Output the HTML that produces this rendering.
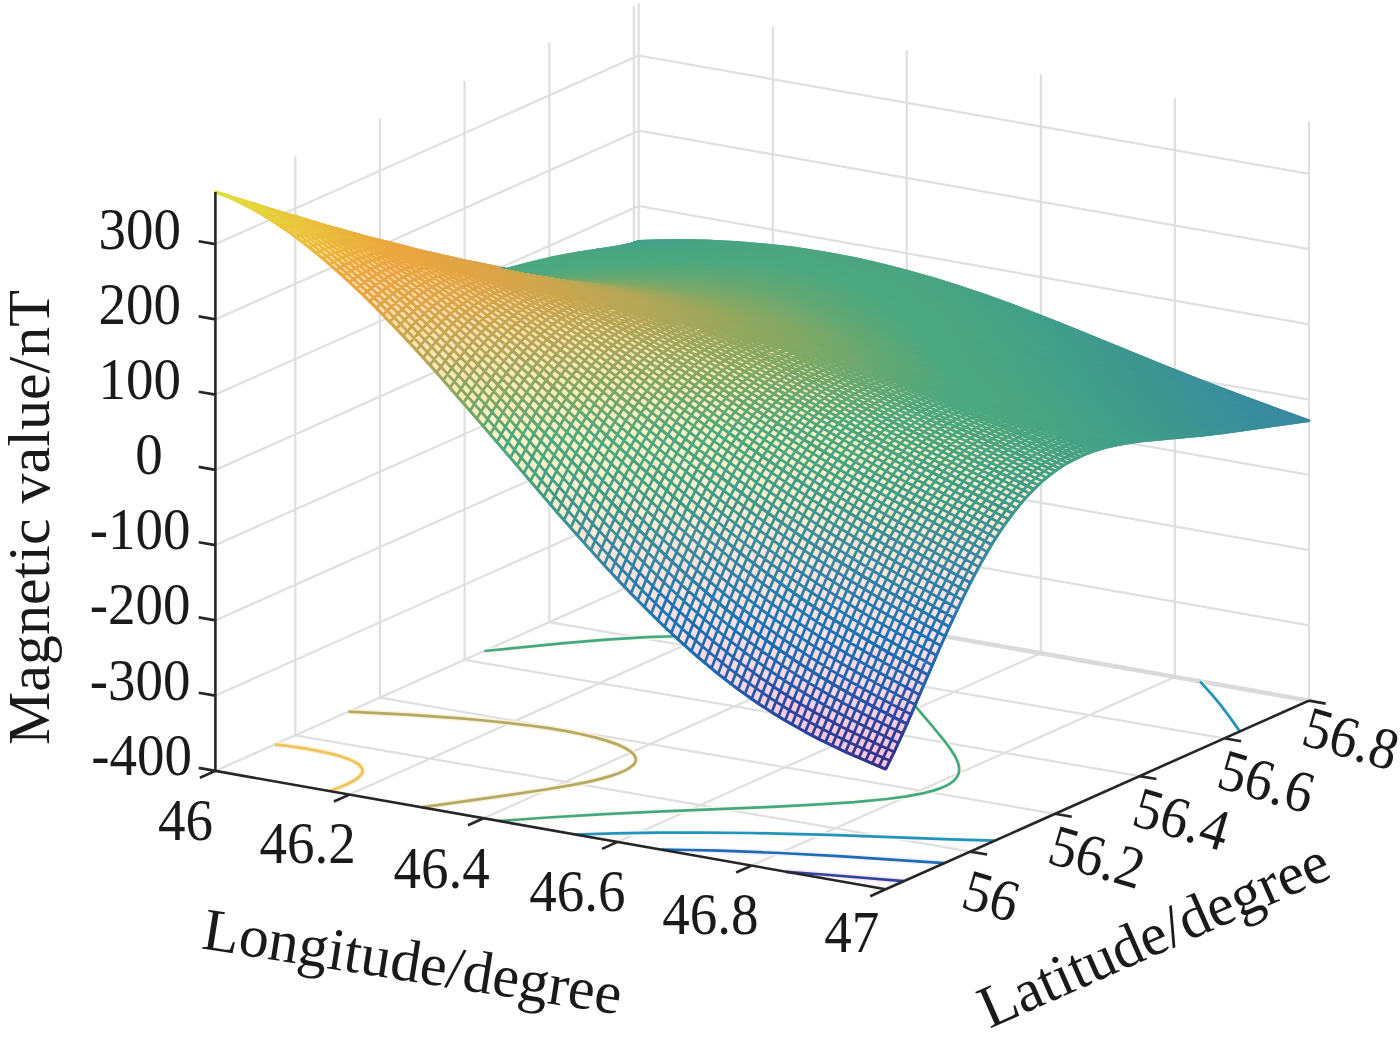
<!DOCTYPE html><html><head><meta charset="utf-8"><style>html,body{margin:0;padding:0;background:#fff}svg{display:block}</style></head><body><svg width="1400" height="1042" viewBox="0 0 1400 1042"><defs><mask id="mm" maskUnits="userSpaceOnUse" x="0" y="0" width="1400" height="1042"><g fill="none" stroke="#fff" stroke-width="2.8" stroke-linejoin="round"><path fill="#000" d="M638.7 241.4l13.4-.5 20.1-.4 13.4 0 20.1 .4 20.1 .9 13.4 .8 20.2 1.7 13.4 1.3 20.1 2.4 13.4 1.9 20.1 3.2 13.4 2.5 13.4 2.6 20.1 4.4 13.4 3.2 20.1 5.2 26.8 7.6 26.8 8.5 26.9 9.1 26.8 9.7 20.1 7.7 26.8 10.5 100.5 40.9 40.3 16 46.9 17.9 60.3 21.8 0 0-21.2 2.8 0 0-53.6-19.9-46.9-18-40.2-16-93.9-38.3-26.8-10.6-26.8-10.2-26.8-9.6-26.8-9-26.8-8.3-26.8-7.5-20.2-5.1-13.4-3.1-13.4-2.9-20.1-3.9-13.4-2.4-20.1-3.1-13.4-1.8-20.1-2.3-13.4-1.3-20.1-1.6-13.4-.8-20.1-.9-13.4-.4-20.1-.3-20.2 .1-20.1 .5 0 0 12.7-2.8 8.5-2.6z"/><path d="M617.5 246.8l20.1-.5 20.2-.1 20.1 .3 13.4 .4 20.1 .9 13.4 .8 20.1 1.6 13.4 1.3 20.1 2.3 13.4 1.8 20.1 3.1 13.4 2.4 20.1 3.9 13.4 2.9 13.4 3.1 20.2 5.1 26.8 7.5 26.8 8.3 26.8 9 26.8 9.6 26.8 10.2 26.8 10.6 93.9 38.3 40.2 16 46.9 18 53.6 19.9M621.8 245.9l13.4-.4 20.1-.2 20.1 .1 20.1 .5 20.1 1 13.4 .8 20.1 1.6 13.4 1.3 20.1 2.4 13.4 1.8 20.2 3.2 13.4 2.3 20.1 4 13.4 2.9 13.4 3.1 20.1 5.2 26.8 7.5 26.8 8.4 26.8 9 26.8 9.7 26.9 10.2 26.8 10.6 93.8 38.3 40.2 16 46.9 18 53.7 19.7M626 245l13.4-.4 20.1-.3 20.1 .1 20.1 .5 20.1 .9 13.4 .9 20.2 1.6 13.4 1.4 20.1 2.4 13.4 1.8 20.1 3.2 13.4 2.4 26.8 5.5 13.4 3.1 20.1 5 26.8 7.4 26.8 8.2 26.9 8.9 33.5 12.1 20.1 7.7 26.8 10.5 100.5 40.9 40.3 16 46.9 17.9 53.6 19.6M630.2 244l13.4-.5 20.1-.3 13.5 0 20.1 .4 20.1 .8 13.4 .7 20.1 1.6 13.4 1.2 20.1 2.3 13.4 1.8 20.1 3.1 13.4 2.4 13.4 2.5 20.1 4.3 13.4 3.1 20.2 5 26.8 7.5 26.8 8.3 26.8 9 26.8 9.6 26.8 10.2 26.8 10.5 100.6 40.9 40.2 16 46.9 17.8 53.6 19.6M634.5 242.8l13.4-.5 20.1-.4 13.4 0 20.1 .4 20.1 .8 13.4 .8 20.1 1.6 13.4 1.3 20.1 2.4 13.4 1.8 20.2 3.2 13.4 2.3 13.4 2.6 20.1 4.4 13.4 3.1 20.1 5.1 26.8 7.6 26.8 8.3 26.8 9.1 26.8 9.7 26.8 10.2 26.9 10.6 93.8 38.2 46.9 18.6 46.9 17.8 53.7 19.4M638.7 241.4l13.4-.5 20.1-.4 13.4 0 20.1 .4 20.1 .9 13.4 .8 20.2 1.7 13.4 1.3 20.1 2.4 13.4 1.9 20.1 3.2 13.4 2.5 13.4 2.6 20.1 4.4 13.4 3.2 20.1 5.2 26.8 7.6 26.8 8.5 26.9 9.1 26.8 9.7 20.1 7.7 26.8 10.5 100.5 40.9 40.3 16 46.9 17.9 60.3 21.8M617.5 246.8l12.7-2.8 8.5-2.6M624.2 246.6l12.7-2.9 8.5-2.6M630.9 246.4l12.7-2.9 8.5-2.6M637.6 246.3l12.7-3 8.5-2.6M644.3 246.2l12.7-3 8.5-2.6M651 246.2l12.7-3 8.5-2.7M657.8 246.2l12.7-3.1 8.4-2.6M664.5 246.3l12.7-3.1 8.4-2.7M671.2 246.4l12.7-3.1 8.4-2.7M677.9 246.5l12.7-3.1 8.4-2.7M684.6 246.7l12.7-3.1 8.4-2.7M691.3 246.9l12.7-3.1 8.4-2.6M698 247.2l12.7-3.2 8.4-2.5M704.7 247.5l12.7-3.1 8.4-2.6M711.4 247.8l12.7-3.1 8.4-2.5M718.1 248.2l12.7-3.1 8.4-2.5M724.8 248.6l12.7-3 8.4-2.5M731.5 249.1l12.7-3 8.5-2.4M738.2 249.6l12.7-2.9 8.5-2.4M744.9 250.2l12.7-2.9 8.5-2.4M751.6 250.8l12.7-2.9 8.5-2.3M758.3 251.5l12.7-2.8 8.5-2.3M765 252.2l12.7-2.8 8.5-2.2M771.7 253l12.7-2.8 8.5-2.2M778.4 253.8l12.7-2.7 8.5-2.2M785.1 254.7l12.7-2.7 8.5-2.1M791.8 255.6l12.7-2.6 8.5-2.1M798.5 256.6l12.7-2.6 8.5-2M805.2 257.6l12.7-2.5 8.5-2M811.9 258.7l12.7-2.4 8.5-2M818.6 259.9l12.7-2.4 8.5-1.9M825.3 261.1l12.7-2.4 8.5-1.8M832 262.3l12.7-2.3 8.5-1.8M838.7 263.6l12.7-2.2 8.5-1.8M845.4 265l12.7-2.2 8.5-1.7M852.1 266.4l12.7-2.1 8.5-1.7M858.8 267.9l12.7-2.1 8.5-1.6M865.5 269.4l21.2-3.6M872.2 271l21.2-3.5M879 272.6l21.1-3.4M885.7 274.3l21.1-3.3M892.4 276.1l21.1-3.3M899.1 277.9l21.1-3.2M905.8 279.7l21.1-3M912.5 281.6l21.1-3M919.2 283.6l21.1-2.9M925.9 285.6l21.1-2.8M932.6 287.6l21.1-2.7M939.3 289.7l21.1-2.6M946 291.9l21.1-2.6M952.7 294l21.1-2.5M959.4 296.3l21.2-2.4M966.1 298.6l21.2-2.4M972.8 300.9l21.2-2.3M979.5 303.2l21.2-2.2M986.2 305.6l21.2-2.1M992.9 308.1l21.2-2.2M999.6 310.5l21.2-2M1006.3 313.1l21.2-2.1M1013 315.6l21.2-2M1019.7 318.1l21.2-1.9M1026.4 320.7l21.2-1.9M1033.1 323.4l21.2-1.9M1039.8 326l21.2-1.9M1046.5 328.6l21.2-1.8M1053.2 331.3l21.2-1.8M1059.9 334l21.2-1.8M1066.6 336.7l21.2-1.8M1073.3 339.4l21.2-1.7M1080 342.2l21.2-1.8M1086.7 344.9l21.2-1.7M1093.4 347.7l21.2-1.8M1100.2 350.4l21.1-1.8M1106.9 353.1l21.1-1.7M1113.6 355.9l21.1-1.8M1120.3 358.6l21.1-1.7M1127 361.4l21.1-1.8M1133.7 364.1l21.1-1.8M1140.4 366.9l21.1-1.9M1147.1 369.6l21.1-1.9M1153.8 372.3l21.1-1.9M1160.5 375l21.1-1.9M1167.2 377.7l21.1-1.9M1173.9 380.3l21.1-1.9M1180.6 383l21.2-2M1187.3 385.6l21.2-2M1194 388.3l21.2-2.1M1200.7 390.9l21.2-2.1M1207.4 393.5l21.2-2.2M1214.1 396l21.2-2.1M1220.8 398.6l21.2-2.2M1227.5 401.1l21.2-2.2M1234.2 403.6l21.2-2.3M1240.9 406.2l21.2-2.4M1247.6 408.7l21.2-2.5M1254.3 411.1l21.2-2.4M1261 413.6l21.2-2.5M1267.7 416.1l21.2-2.6M1274.4 418.5l21.2-2.6M1281.1 421l21.2-2.7M1287.8 423.5l21.2-2.8"/><path fill="#000" d="M617.5 246.8l20.1-.5 20.2-.1 20.1 .3 13.4 .4 20.1 .9 13.4 .8 20.1 1.6 13.4 1.3 20.1 2.3 13.4 1.8 20.1 3.1 13.4 2.4 20.1 3.9 13.4 2.9 13.4 3.1 20.2 5.1 26.8 7.5 26.8 8.3 26.8 9 26.8 9.6 26.8 10.2 26.8 10.6 93.9 38.3 40.2 16 46.9 18 53.6 19.9 0 0-21.1 3 0 0-53.7-20.2-40.2-15.6-40.2-16.1-93.8-38.4-26.8-10.6-20.2-7.7-33.5-12.2-26.8-9.1-26.8-8.3-26.8-7.5-20.1-5.1-13.4-3.1-13.4-2.9-20.1-3.9-13.4-2.3-20.1-3.1-13.5-1.8-20.1-2.4-13.4-1.3-20.1-1.6-33.5-2-20.1-.7-20.1-.4-20.1-.2-20.1 .1 0 0 21.1-3.3z"/><path d="M596.4 250.1l20.1-.1 20.1 .2 20.1 .4 20.1 .7 33.5 2 20.1 1.6 13.4 1.3 20.1 2.4 13.5 1.8 20.1 3.1 13.4 2.3 20.1 3.9 13.4 2.9 13.4 3.1 20.1 5.1 26.8 7.5 26.8 8.3 26.8 9.1 33.5 12.2 20.2 7.7 26.8 10.6 93.8 38.4 40.2 16.1 40.2 15.6 53.7 20.2M600.6 249.5l20.1-.2 20.1 .1 20.1 .4 20.1 .7 33.6 2 20.1 1.6 13.4 1.4 20.1 2.3 13.4 1.8 20.1 3.2 13.4 2.3 20.1 4 13.4 2.9 13.4 3.1 20.1 5.1 26.8 7.5 26.9 8.4 26.8 9 26.8 9.8 26.8 10.2 26.8 10.6 93.8 38.4 40.3 16.1 40.2 15.6 53.6 20.1M604.8 248.9l20.1-.3 20.2 .1 33.5 .8 20.1 .9 20.1 1.3 20.1 1.6 13.4 1.4 20.1 2.4 13.4 1.8 20.1 3.1 13.4 2.4 20.1 4 13.4 2.9 13.5 3.2 20.1 5.1 26.8 7.6 26.8 8.3 26.8 9.1 26.8 9.8 26.8 10.2 26.8 10.7 93.9 38.3 40.2 16.1 40.2 15.5 53.6 20.1M609.1 248.2l20.1-.3 20.1 0 33.5 .8 20.1 .9 20.1 1.2 20.1 1.7 13.4 1.4 20.1 2.4 13.5 1.8 20.1 3.2 13.4 2.4 26.8 5.5 13.4 3 20.1 5 26.8 7.4 26.8 8.3 26.8 8.9 33.5 12.1 20.2 7.7 26.8 10.5 100.5 41.1 40.2 16 40.2 15.5 53.7 20M613.3 247.5l20.1-.4 20.1 0 33.5 .7 20.1 .9 13.4 .8 20.2 1.6 13.4 1.3 20.1 2.2 13.4 1.8 20.1 3.1 13.4 2.3 20.1 3.9 13.4 2.8 13.4 3.1 20.1 5 26.8 7.5 26.8 8.3 26.9 8.9 33.5 12.2 20.1 7.6 26.8 10.6 93.8 38.3 40.3 16.1 46.9 18.1 53.6 19.9M617.5 246.8l20.1-.5 20.2-.1 20.1 .3 13.4 .4 20.1 .9 13.4 .8 20.1 1.6 13.4 1.3 20.1 2.3 13.4 1.8 20.1 3.1 13.4 2.4 20.1 3.9 13.4 2.9 13.4 3.1 20.2 5.1 26.8 7.5 26.8 8.3 26.8 9 26.8 9.6 26.8 10.2 26.8 10.6 93.9 38.3 40.2 16 46.9 18 53.6 19.9M596.4 250.1l21.1-3.3M603.1 250.1l21.1-3.5M609.8 250l21.1-3.6M616.5 250l21.1-3.7M623.2 250.1l21.1-3.9M629.9 250.1l21.1-3.9M636.6 250.2l21.2-4M643.3 250.3l21.2-4M650 250.4l21.2-4M656.7 250.6l21.2-4.1M663.4 250.8l21.2-4.1M670.1 251.1l21.2-4.2M676.8 251.3l21.2-4.1M683.5 251.7l21.2-4.2M690.2 252l21.2-4.2M696.9 252.4l21.2-4.2M703.6 252.8l21.2-4.2M710.3 253.3l21.2-4.2M717 253.8l21.2-4.2M723.7 254.3l21.2-4.1M730.4 254.9l21.2-4.1M737.1 255.6l21.2-4.1M743.8 256.2l21.2-4M750.5 257l21.2-4M757.2 257.7l21.2-3.9M763.9 258.6l21.2-3.9M770.6 259.4l21.2-3.8M777.4 260.4l21.1-3.8M784.1 261.4l21.1-3.8M790.8 262.4l21.1-3.7M797.5 263.5l21.1-3.6M804.2 264.6l21.1-3.5M810.9 265.8l21.1-3.5M817.6 267.1l21.1-3.5M824.3 268.4l21.1-3.4M831 269.7l21.1-3.3M837.7 271.1l21.1-3.2M844.4 272.6l21.1-3.2M851.1 274.1l21.1-3.1M857.8 275.7l21.2-3.1M864.5 277.3l21.2-3M871.2 279l21.2-2.9M877.9 280.8l21.2-2.9M884.6 282.6l21.2-2.9M891.3 284.4l21.2-2.8M898 286.3l21.2-2.7M904.7 288.3l21.2-2.7M911.4 290.3l21.2-2.7M918.1 292.4l21.2-2.7M924.8 294.5l21.2-2.6M931.5 296.6l21.2-2.6M938.2 298.8l21.2-2.5M944.9 301l21.2-2.4M951.6 303.3l21.2-2.4M958.3 305.7l21.2-2.5M965 308l21.2-2.4M971.7 310.4l21.2-2.3M978.4 312.9l21.2-2.4M985.1 315.4l21.2-2.3M991.8 317.9l21.2-2.3M998.6 320.4l21.1-2.3M1005.3 323l21.1-2.3M1012 325.6l21.1-2.2M1018.7 328.2l21.1-2.2M1025.4 330.8l21.1-2.2M1032.1 333.5l21.1-2.2M1038.8 336.2l21.1-2.2M1045.5 338.9l21.1-2.2M1052.2 341.6l21.1-2.2M1058.9 344.3l21.1-2.1M1065.6 347.1l21.1-2.2M1072.3 349.8l21.1-2.1M1079 352.6l21.2-2.2M1085.7 355.3l21.2-2.2M1092.4 358.1l21.2-2.2M1099.1 360.9l21.2-2.3M1105.8 363.6l21.2-2.2M1112.5 366.4l21.2-2.3M1119.2 369.1l21.2-2.2M1125.9 371.9l21.2-2.3M1132.6 374.6l21.2-2.3M1139.3 377.3l21.2-2.3M1146 380l21.2-2.3M1152.7 382.7l21.2-2.4M1159.4 385.4l21.2-2.4M1166.1 388.1l21.2-2.5M1172.8 390.7l21.2-2.4M1179.5 393.4l21.2-2.5M1186.2 396l21.2-2.5M1192.9 398.6l21.2-2.6M1199.6 401.2l21.2-2.6M1206.3 403.8l21.2-2.7M1213 406.3l21.2-2.7M1219.7 408.9l21.2-2.7M1226.5 411.4l21.1-2.7M1233.2 413.9l21.1-2.8M1239.9 416.5l21.1-2.9M1246.6 419l21.1-2.9M1253.3 421.5l21.1-3M1260 424l21.1-3M1266.7 426.5l21.1-3"/><path fill="#000" d="M596.4 250.1l20.1-.1 20.1 .2 20.1 .4 20.1 .7 33.5 2 20.1 1.6 13.4 1.3 20.1 2.4 13.5 1.8 20.1 3.1 13.4 2.3 20.1 3.9 13.4 2.9 13.4 3.1 20.1 5.1 26.8 7.5 26.8 8.3 26.8 9.1 33.5 12.2 20.2 7.7 26.8 10.6 93.8 38.4 40.2 16.1 40.2 15.6 53.7 20.2 0 0-21.2 3.1 0 0-53.6-20.4-40.2-15.8-40.3-16.2-87.1-35.6-26.8-10.7-26.8-10.3-26.8-9.7-26.8-9.1-26.9-8.4-26.8-7.6-20.1-5.1-13.4-3.1-26.8-5.6-13.4-2.5-20.1-3.3-13.4-2-20.1-2.5-13.4-1.4-20.1-1.9-20.1-1.5-20.2-1.2-40.2-1.5-46.9-.8 0 0 21.2-3.3z"/><path d="M575.2 253.4l46.9 .8 40.2 1.5 20.2 1.2 20.1 1.5 20.1 1.9 13.4 1.4 20.1 2.5 13.4 2 20.1 3.3 13.4 2.5 26.8 5.6 13.4 3.1 20.1 5.1 26.8 7.6 26.9 8.4 26.8 9.1 26.8 9.7 26.8 10.3 26.8 10.7 87.1 35.6 40.3 16.2 40.2 15.8 53.6 20.4M579.4 252.7l47 .7 20.1 .6 20.1 .9 33.5 2.1 20.1 1.8 13.4 1.3 20.1 2.4 13.4 1.9 20.1 3.2 13.4 2.3 26.8 5.5 13.5 3 20.1 5 26.8 7.4 26.8 8.2 26.8 8.9 33.5 12.1 26.8 10.3 26.8 10.7 87.2 35.7 40.2 16.2 40.2 15.7 53.6 20.4M583.7 252l40.2 .4 20.1 .6 20.1 .7 20.1 1.1 20.1 1.4 20.1 1.7 13.4 1.4 20.1 2.4 13.5 1.9 20.1 3.2 13.4 2.4 26.8 5.4 13.4 3.1 20.1 5 26.8 7.4 26.8 8.2 26.8 9 33.5 12.2 26.9 10.3 26.8 10.6 87.1 35.7 40.2 16.2 40.2 15.7 53.7 20.4M587.9 251.4l40.2 .3 20.1 .5 20.1 .7 20.1 1.1 20.2 1.4 20.1 1.7 13.4 1.4 20.1 2.5 13.4 1.8 20.1 3.3 13.4 2.4 26.8 5.4 13.4 3.1 20.1 5 26.8 7.5 26.9 8.2 26.8 9.1 33.5 12.1 20.1 7.7 26.8 10.6 93.8 38.4 40.3 16.2 40.2 15.7 53.6 20.3M592.1 250.7l40.3 .2 20.1 .5 20.1 .7 20.1 1.1 20.1 1.4 20.1 1.7 13.4 1.4 20.1 2.5 13.4 1.9 20.1 3.2 13.4 2.5 26.8 5.5 13.5 3.1 20.1 5 26.8 7.5 26.8 8.3 26.8 9 33.5 12.2 20.1 7.7 26.8 10.6 93.9 38.4 40.2 16.1 40.2 15.7 53.6 20.3M596.4 250.1l20.1-.1 20.1 .2 20.1 .4 20.1 .7 33.5 2 20.1 1.6 13.4 1.3 20.1 2.4 13.5 1.8 20.1 3.1 13.4 2.3 20.1 3.9 13.4 2.9 13.4 3.1 20.1 5.1 26.8 7.5 26.8 8.3 26.8 9.1 33.5 12.2 20.2 7.7 26.8 10.6 93.8 38.4 40.2 16.1 40.2 15.6 53.7 20.2M575.2 253.4l21.2-3.3M581.9 253.4l21.2-3.3M588.6 253.5l21.2-3.5M595.3 253.6l21.2-3.6M602 253.7l21.2-3.6M608.7 253.9l21.2-3.8M615.4 254l21.2-3.8M622.1 254.2l21.2-3.9M628.8 254.4l21.2-4M635.5 254.6l21.2-4M642.2 254.8l21.2-4M648.9 255.1l21.2-4M655.6 255.4l21.2-4.1M662.3 255.7l21.2-4M669 256.1l21.2-4.1M675.7 256.5l21.2-4.1M682.5 256.9l21.1-4.1M689.2 257.4l21.1-4.1M695.9 257.9l21.1-4.1M702.6 258.4l21.1-4.1M709.3 259l21.1-4.1M716 259.6l21.1-4M722.7 260.3l21.1-4.1M729.4 261l21.1-4M736.1 261.7l21.1-4M742.8 262.5l21.1-3.9M749.5 263.3l21.1-3.9M756.2 264.2l21.2-3.8M762.9 265.2l21.2-3.8M769.6 266.2l21.2-3.8M776.3 267.2l21.2-3.7M783 268.3l21.2-3.7M789.7 269.5l21.2-3.7M796.4 270.7l21.2-3.6M803.1 272l21.2-3.6M809.8 273.3l21.2-3.6M816.5 274.6l21.2-3.5M823.2 276.1l21.2-3.5M829.9 277.6l21.2-3.5M836.6 279.1l21.2-3.4M843.3 280.7l21.2-3.4M850 282.3l21.2-3.3M856.7 284.1l21.2-3.3M863.4 285.8l21.2-3.2M870.1 287.6l21.2-3.2M876.8 289.5l21.2-3.2M883.5 291.4l21.2-3.1M890.2 293.4l21.2-3.1M896.9 295.4l21.2-3M903.7 297.5l21.1-3M910.4 299.6l21.1-3M917.1 301.8l21.1-3M923.8 304l21.1-3M930.5 306.2l21.1-2.9M937.2 308.5l21.1-2.8M943.9 310.9l21.1-2.9M950.6 313.3l21.1-2.9M957.3 315.7l21.1-2.8M964 318.1l21.1-2.7M970.7 320.6l21.1-2.7M977.4 323.2l21.2-2.8M984.1 325.7l21.2-2.7M990.8 328.3l21.2-2.7M997.5 330.9l21.2-2.7M1004.2 333.5l21.2-2.7M1010.9 336.2l21.2-2.7M1017.6 338.9l21.2-2.7M1024.3 341.6l21.2-2.7M1031 344.3l21.2-2.7M1037.7 347l21.2-2.7M1044.4 349.7l21.2-2.6M1051.1 352.5l21.2-2.7M1057.8 355.2l21.2-2.6M1064.5 358l21.2-2.7M1071.2 360.7l21.2-2.6M1077.9 363.5l21.2-2.6M1084.6 366.3l21.2-2.7M1091.3 369l21.2-2.6M1098 371.8l21.2-2.7M1104.7 374.5l21.2-2.6M1111.4 377.2l21.2-2.6M1118.1 380l21.2-2.7M1124.9 382.7l21.1-2.7M1131.6 385.4l21.1-2.7M1138.3 388.1l21.1-2.7M1145 390.8l21.1-2.7M1151.7 393.4l21.1-2.7M1158.4 396.1l21.1-2.7M1165.1 398.7l21.1-2.7M1171.8 401.4l21.1-2.8M1178.5 404l21.1-2.8M1185.2 406.6l21.1-2.8M1191.9 409.2l21.1-2.9M1198.6 411.7l21.1-2.8M1205.3 414.3l21.2-2.9M1212 416.9l21.2-3M1218.7 419.4l21.2-2.9M1225.4 422l21.2-3M1232.1 424.5l21.2-3M1238.8 427.1l21.2-3.1M1245.5 429.6l21.2-3.1"/><path fill="#000" d="M575.2 253.4l46.9 .8 40.2 1.5 20.2 1.2 20.1 1.5 20.1 1.9 13.4 1.4 20.1 2.5 13.4 2 20.1 3.3 13.4 2.5 26.8 5.6 13.4 3.1 20.1 5.1 26.8 7.6 26.9 8.4 26.8 9.1 26.8 9.7 26.8 10.3 26.8 10.7 87.1 35.6 40.3 16.2 40.2 15.8 53.6 20.4 0 0-21.2 2.9 0 0-60.3-23.2-33.5-13.1-33.5-13.4-93.9-38.3-26.8-10.5-20.1-7.7-33.5-12.2-26.8-9-26.8-8.2-26.8-7.4-20.1-5-13.4-3.1-26.9-5.5-13.4-2.3-20.1-3.2-13.4-1.9-20.1-2.4-13.4-1.4-20.1-1.8-33.5-2.3-40.2-1.7-53.7-1.5 0 0 21.2-4z"/><path d="M554 257.4l53.7 1.5 40.2 1.7 33.5 2.3 20.1 1.8 13.4 1.4 20.1 2.4 13.4 1.9 20.1 3.2 13.4 2.3 26.9 5.5 13.4 3.1 20.1 5 26.8 7.4 26.8 8.2 26.8 9 33.5 12.2 20.1 7.7 26.8 10.5 93.9 38.3 33.5 13.4 33.5 13.1 60.3 23.2M558.3 256.5l53.6 1.4 40.2 1.8 33.5 2.2 20.1 1.8 13.4 1.5 20.2 2.4 13.4 1.9 20.1 3.2 13.4 2.4 26.8 5.5 13.4 3.1 20.1 5 26.8 7.5 26.8 8.2 26.8 9.1 33.6 12.1 20.1 7.7 26.8 10.6 93.8 38.3 33.5 13.5 40.2 15.7 53.7 20.6M562.5 255.7l46.9 1.1 40.2 1.6 20.2 1.2 20.1 1.4 20.1 1.8 13.4 1.5 20.1 2.4 13.4 1.9 20.1 3.3 13.4 2.4 26.8 5.5 13.4 3.1 20.1 5.1 26.8 7.5 26.9 8.3 26.8 9 33.5 12.2 20.1 7.7 26.8 10.6 93.8 38.3 33.6 13.5 40.2 15.8 53.6 20.5M566.7 254.9l47 1 40.2 1.6 20.1 1.2 20.1 1.4 20.1 1.9 13.4 1.4 20.1 2.5 13.4 1.9 20.1 3.3 13.4 2.4 26.9 5.6 13.4 3.1 20.1 5 26.8 7.6 26.8 8.3 26.8 9.1 33.5 12.2 20.1 7.7 26.8 10.6 87.2 35.7 40.2 16.2 40.2 15.7 53.6 20.5M571 254.1l46.9 .9 40.2 1.6 20.1 1.2 20.1 1.5 20.1 1.8 13.4 1.4 20.2 2.6 13.4 1.9 20.1 3.3 13.4 2.4 26.8 5.6 13.4 3.1 20.1 5.1 26.8 7.6 26.8 8.3 26.8 9.1 33.6 12.3 20.1 7.7 26.8 10.6 87.1 35.7 40.2 16.2 40.2 15.7 53.7 20.5M575.2 253.4l46.9 .8 40.2 1.5 20.2 1.2 20.1 1.5 20.1 1.9 13.4 1.4 20.1 2.5 13.4 2 20.1 3.3 13.4 2.5 26.8 5.6 13.4 3.1 20.1 5.1 26.8 7.6 26.9 8.4 26.8 9.1 26.8 9.7 26.8 10.3 26.8 10.7 87.1 35.6 40.3 16.2 40.2 15.8 53.6 20.4M554 257.4l21.2-4M560.7 257.6l21.2-4.2M567.4 257.7l21.2-4.2M574.1 257.9l21.2-4.3M580.9 258l21.1-4.3M587.6 258.2l21.1-4.3M594.3 258.4l21.1-4.4M601 258.6l21.1-4.4M607.7 258.9l21.1-4.5M614.4 259.1l21.1-4.5M621.1 259.4l21.1-4.6M627.8 259.6l21.1-4.5M634.5 260l21.1-4.6M641.2 260.3l21.1-4.6M647.9 260.6l21.1-4.5M654.6 261l21.1-4.5M661.3 261.4l21.2-4.5M668 261.9l21.2-4.5M674.7 262.4l21.2-4.5M681.4 262.9l21.2-4.5M688.1 263.4l21.2-4.4M694.8 264l21.2-4.4M701.5 264.7l21.2-4.4M708.2 265.3l21.2-4.3M714.9 266.1l21.2-4.4M721.6 266.8l21.2-4.3M728.3 267.6l21.2-4.3M735 268.5l21.2-4.3M741.7 269.4l21.2-4.2M748.4 270.4l21.2-4.2M755.1 271.4l21.2-4.2M761.8 272.4l21.2-4.1M768.5 273.6l21.2-4.1M775.2 274.7l21.2-4M781.9 275.9l21.2-3.9M788.6 277.2l21.2-3.9M795.3 278.6l21.2-4M802.1 279.9l21.1-3.8M808.8 281.4l21.1-3.8M815.5 282.9l21.1-3.8M822.2 284.5l21.1-3.8M828.9 286.1l21.1-3.8M835.6 287.7l21.1-3.6M842.3 289.5l21.1-3.7M849 291.2l21.1-3.6M855.7 293.1l21.1-3.6M862.4 295l21.1-3.6M869.1 296.9l21.1-3.5M875.8 298.9l21.1-3.5M882.5 300.9l21.2-3.4M889.2 303l21.2-3.4M895.9 305.1l21.2-3.3M902.6 307.3l21.2-3.3M909.3 309.6l21.2-3.4M916 311.8l21.2-3.3M922.7 314.1l21.2-3.2M929.4 316.5l21.2-3.2M936.1 318.9l21.2-3.2M942.8 321.3l21.2-3.2M949.5 323.8l21.2-3.2M956.2 326.3l21.2-3.1M962.9 328.8l21.2-3.1M969.6 331.4l21.2-3.1M976.3 334l21.2-3.1M983 336.6l21.2-3.1M989.7 339.2l21.2-3M996.4 341.9l21.2-3M1003.1 344.5l21.2-2.9M1009.8 347.2l21.2-2.9M1016.5 349.9l21.2-2.9M1023.3 352.6l21.1-2.9M1030 355.4l21.1-2.9M1036.7 358.1l21.1-2.9M1043.4 360.8l21.1-2.8M1050.1 363.6l21.1-2.9M1056.8 366.3l21.1-2.8M1063.5 369.1l21.1-2.8M1070.2 371.8l21.1-2.8M1076.9 374.6l21.1-2.8M1083.6 377.3l21.1-2.8M1090.3 380l21.1-2.8M1097 382.8l21.1-2.8M1103.7 385.5l21.2-2.8M1110.4 388.2l21.2-2.8M1117.1 390.9l21.2-2.8M1123.8 393.5l21.2-2.7M1130.5 396.2l21.2-2.8M1137.2 398.9l21.2-2.8M1143.9 401.5l21.2-2.8M1150.6 404.1l21.2-2.7M1157.3 406.7l21.2-2.7M1164 409.3l21.2-2.7M1170.7 411.9l21.2-2.7M1177.4 414.5l21.2-2.8M1184.1 417.1l21.2-2.8M1190.8 419.7l21.2-2.8M1197.5 422.2l21.2-2.8M1204.2 424.8l21.2-2.8M1210.9 427.4l21.2-2.9M1217.6 429.9l21.2-2.8M1224.3 432.5l21.2-2.9"/><path fill="#000" d="M554 257.4l53.7 1.5 40.2 1.7 33.5 2.3 20.1 1.8 13.4 1.4 20.1 2.4 13.4 1.9 20.1 3.2 13.4 2.3 26.9 5.5 13.4 3.1 20.1 5 26.8 7.4 26.8 8.2 26.8 9 33.5 12.2 20.1 7.7 26.8 10.5 93.9 38.3 33.5 13.4 33.5 13.1 60.3 23.2 0 0-21.1 2.5 0 0-60.4-23.2-33.5-13-33.5-13.4-87.1-35.2-26.8-10.5-26.8-10.2-33.6-12-26.8-8.8-26.8-8.2-26.8-7.2-20.1-4.9-13.4-3-26.8-5.3-13.4-2.3-20.1-3-13.4-1.8-20.2-2.3-13.4-1.4-20.1-1.6-33.5-2.1-40.2-1.7-53.6-1.6 0 0 21.1-4.9z"/><path d="M532.9 262.3l53.6 1.6 40.2 1.7 33.5 2.1 20.1 1.6 13.4 1.4 20.2 2.3 13.4 1.8 20.1 3 13.4 2.3 26.8 5.3 13.4 3 20.1 4.9 26.8 7.2 26.8 8.2 26.8 8.8 33.6 12 26.8 10.2 26.8 10.5 87.1 35.2 33.5 13.4 33.5 13 60.4 23.2M537.1 261.3l53.6 1.6 40.2 1.7 33.6 2.1 20.1 1.7 13.4 1.3 20.1 2.4 13.4 1.8 20.1 3.1 13.4 2.3 26.8 5.3 13.4 3 20.1 4.9 26.8 7.3 26.9 8.2 26.8 8.8 33.5 12.1 26.8 10.2 26.8 10.5 87.2 35.3 33.5 13.4 33.5 13 60.3 23.2M541.3 260.3l53.7 1.5 40.2 1.8 33.5 2.1 20.1 1.8 13.4 1.3 20.1 2.4 13.4 1.8 20.1 3.1 13.4 2.4 26.9 5.3 13.4 3 20.1 4.9 26.8 7.4 26.8 8.2 26.8 8.9 33.5 12 26.8 10.2 26.8 10.6 87.2 35.4 33.5 13.4 33.5 13.1 60.3 23.1M545.6 259.3l53.6 1.5 40.2 1.8 33.5 2.2 20.1 1.7 13.4 1.4 20.2 2.4 13.4 1.8 20.1 3.2 13.4 2.3 26.8 5.4 13.4 3 20.1 5 26.8 7.4 26.8 8.1 26.8 9 33.6 12.1 20.1 7.6 26.8 10.6 93.8 38 33.5 13.5 33.5 13.1 60.4 23.1M549.8 258.3l53.6 1.5 40.2 1.8 33.6 2.2 20.1 1.8 13.4 1.4 20.1 2.4 13.4 1.8 20.1 3.2 13.4 2.4 26.8 5.4 13.4 3 20.1 5 26.8 7.4 26.9 8.2 26.8 9 33.5 12.1 20.1 7.7 26.8 10.5 93.9 38.2 33.5 13.4 33.5 13.2 60.3 23.1M554 257.4l53.7 1.5 40.2 1.7 33.5 2.3 20.1 1.8 13.4 1.4 20.1 2.4 13.4 1.9 20.1 3.2 13.4 2.3 26.9 5.5 13.4 3.1 20.1 5 26.8 7.4 26.8 8.2 26.8 9 33.5 12.2 20.1 7.7 26.8 10.5 93.9 38.3 33.5 13.4 33.5 13.1 60.3 23.2M532.9 262.3l21.1-4.9M539.6 262.5l21.1-4.9M546.3 262.7l21.1-5M553 262.9l21.1-5M559.7 263.1l21.2-5.1M566.4 263.3l21.2-5.1M573.1 263.5l21.2-5.1M579.8 263.7l21.2-5.1M586.5 263.9l21.2-5M593.2 264.1l21.2-5M599.9 264.4l21.2-5M606.6 264.7l21.2-5.1M613.3 264.9l21.2-4.9M620 265.3l21.2-5M626.7 265.6l21.2-5M633.4 265.9l21.2-4.9M640.1 266.3l21.2-4.9M646.8 266.7l21.2-4.8M653.5 267.2l21.2-4.8M660.2 267.7l21.2-4.8M666.9 268.2l21.2-4.8M673.6 268.7l21.2-4.7M680.3 269.3l21.2-4.6M687 270l21.2-4.7M693.7 270.7l21.2-4.6M700.4 271.4l21.2-4.6M707.2 272.2l21.1-4.6M713.9 273l21.1-4.5M720.6 273.8l21.1-4.4M727.3 274.8l21.1-4.4M734 275.7l21.1-4.3M740.7 276.7l21.1-4.3M747.4 277.8l21.1-4.2M754.1 278.9l21.1-4.2M760.8 280.1l21.1-4.2M767.5 281.4l21.1-4.2M774.2 282.7l21.1-4.1M780.9 284l21.2-4.1M787.6 285.4l21.2-4M794.3 286.9l21.2-4M801 288.4l21.2-3.9M807.7 290l21.2-3.9M814.4 291.6l21.2-3.9M821.1 293.3l21.2-3.8M827.8 295l21.2-3.8M834.5 296.8l21.2-3.7M841.2 298.6l21.2-3.6M847.9 300.5l21.2-3.6M854.6 302.5l21.2-3.6M861.3 304.5l21.2-3.6M868 306.6l21.2-3.6M874.7 308.7l21.2-3.6M881.4 310.8l21.2-3.5M888.1 313l21.2-3.4M894.8 315.2l21.2-3.4M901.5 317.5l21.2-3.4M908.2 319.8l21.2-3.3M914.9 322.2l21.2-3.3M921.6 324.6l21.2-3.3M928.4 327l21.1-3.2M935.1 329.5l21.1-3.2M941.8 332l21.1-3.2M948.5 334.5l21.1-3.1M955.2 337.1l21.1-3.1M961.9 339.7l21.1-3.1M968.6 342.3l21.1-3.1M975.3 344.9l21.1-3M982 347.5l21.1-3M988.7 350.2l21.1-3M995.4 352.9l21.1-3M1002.1 355.6l21.2-3M1008.8 358.3l21.2-2.9M1015.5 361l21.2-2.9M1022.2 363.7l21.2-2.9M1028.9 366.4l21.2-2.8M1035.6 369.1l21.2-2.8M1042.3 371.9l21.2-2.8M1049 374.6l21.2-2.8M1055.7 377.3l21.2-2.7M1062.4 380l21.2-2.7M1069.1 382.7l21.2-2.7M1075.8 385.4l21.2-2.6M1082.5 388.1l21.2-2.6M1089.2 390.8l21.2-2.6M1095.9 393.4l21.2-2.5M1102.6 396.1l21.2-2.6M1109.3 398.8l21.2-2.6M1116 401.4l21.2-2.5M1122.7 404l21.2-2.5M1129.4 406.6l21.2-2.5M1136.1 409.2l21.2-2.5M1142.8 411.8l21.2-2.5M1149.6 414.4l21.1-2.5M1156.3 417l21.1-2.5M1163 419.5l21.1-2.4M1169.7 422.1l21.1-2.4M1176.4 424.7l21.1-2.5M1183.1 427.2l21.1-2.4M1189.8 429.8l21.1-2.4M1196.5 432.4l21.1-2.5M1203.2 435l21.1-2.5"/><path fill="#000" d="M532.9 262.3l53.6 1.6 40.2 1.7 33.5 2.1 20.1 1.6 13.4 1.4 20.2 2.3 13.4 1.8 20.1 3 13.4 2.3 26.8 5.3 13.4 3 20.1 4.9 26.8 7.2 26.8 8.2 26.8 8.8 33.6 12 26.8 10.2 26.8 10.5 87.1 35.2 33.5 13.4 33.5 13 60.4 23.2 0 0-21.2 2 0 0-93.8-36-120.7-48-26.8-10.4-26.8-10.1-33.5-11.8-26.8-8.7-26.8-8-26.9-7.1-20.1-4.8-13.4-2.9-26.8-5.1-26.8-4.2-13.4-1.8-20.1-2.3-13.4-1.3-20.1-1.6-33.5-2-40.3-1.5-60.3-1.5 0 0 21.2-5.6z"/><path d="M511.7 267.9l60.3 1.5 40.3 1.5 33.5 2 20.1 1.6 13.4 1.3 20.1 2.3 13.4 1.8 26.8 4.2 26.8 5.1 13.4 2.9 20.1 4.8 26.9 7.1 26.8 8 26.8 8.7 33.5 11.8 26.8 10.1 26.8 10.4 120.7 48 93.8 36M515.9 266.7l60.4 1.6 40.2 1.6 33.5 2.1 20.1 1.6 13.4 1.3 20.1 2.4 13.4 1.8 26.8 4.2 26.9 5.2 13.4 2.9 20.1 4.8 26.8 7.1 26.8 8 26.8 8.8 33.5 11.8 26.8 10.1 26.8 10.5 120.7 48.1 93.8 36.1M520.2 265.6l60.3 1.7 33.5 1.3 33.5 1.9 20.1 1.6 13.4 1.3 20.2 2.2 13.4 1.7 20.1 3 13.4 2.3 26.8 5.1 13.4 3 20.1 4.8 26.8 7.2 26.8 8 26.8 8.8 33.6 11.9 26.8 10 26.8 10.5 87.1 35 33.5 13.2 93.9 36.2M524.4 264.5l60.3 1.7 33.6 1.4 33.5 2 20.1 1.6 13.4 1.3 20.1 2.2 13.4 1.8 20.1 3 13.4 2.3 26.8 5.2 13.4 2.9 20.1 4.9 26.8 7.2 26.9 8 26.8 8.8 33.5 11.9 26.8 10.2 26.8 10.5 87.2 35 33.5 13.3 93.8 36.1M528.6 263.4l53.7 1.6 40.2 1.6 33.5 2 20.1 1.7 13.4 1.3 20.1 2.3 13.4 1.7 20.1 3.1 13.4 2.3 26.9 5.2 13.4 3 20.1 4.8 26.8 7.3 26.8 8 26.8 8.9 33.5 11.9 26.8 10.2 26.8 10.5 87.2 35.1 33.5 13.3 93.8 36.2M532.9 262.3l53.6 1.6 40.2 1.7 33.5 2.1 20.1 1.6 13.4 1.4 20.2 2.3 13.4 1.8 20.1 3 13.4 2.3 26.8 5.3 13.4 3 20.1 4.9 26.8 7.2 26.8 8.2 26.8 8.8 33.6 12 26.8 10.2 26.8 10.5 87.1 35.2 33.5 13.4 33.5 13 60.4 23.2M511.7 267.9l21.2-5.6M518.4 268l21.2-5.5M525.1 268.2l21.2-5.5M531.8 268.3l21.2-5.4M538.5 268.5l21.2-5.4M545.2 268.6l21.2-5.3M551.9 268.8l21.2-5.3M558.6 269l21.2-5.3M565.3 269.2l21.2-5.3M572 269.4l21.2-5.3M578.7 269.6l21.2-5.2M585.4 269.8l21.2-5.1M592.1 270l21.2-5.1M598.8 270.3l21.2-5M605.6 270.6l21.1-5M612.3 270.9l21.1-5M619 271.2l21.1-4.9M625.7 271.6l21.1-4.9M632.4 272l21.1-4.8M639.1 272.4l21.1-4.7M645.8 272.9l21.1-4.7M652.5 273.4l21.1-4.7M659.2 273.9l21.1-4.6M665.9 274.5l21.1-4.5M672.6 275.1l21.1-4.4M679.3 275.8l21.1-4.4M686 276.5l21.2-4.3M692.7 277.3l21.2-4.3M699.4 278.1l21.2-4.3M706.1 279l21.2-4.2M712.8 279.9l21.2-4.2M719.5 280.9l21.2-4.2M726.2 281.9l21.2-4.1M732.9 283l21.2-4.1M739.6 284.1l21.2-4M746.3 285.3l21.2-3.9M753 286.5l21.2-3.8M759.7 287.9l21.2-3.9M766.4 289.2l21.2-3.8M773.1 290.6l21.2-3.7M779.8 292.1l21.2-3.7M786.5 293.6l21.2-3.6M793.2 295.2l21.2-3.6M799.9 296.9l21.2-3.6M806.6 298.6l21.2-3.6M813.3 300.3l21.2-3.5M820 302.1l21.2-3.5M826.8 304l21.1-3.5M833.5 305.9l21.1-3.4M840.2 307.9l21.1-3.4M846.9 309.9l21.1-3.3M853.6 312l21.1-3.3M860.3 314.1l21.1-3.3M867 316.2l21.1-3.2M873.7 318.5l21.1-3.3M880.4 320.7l21.1-3.2M887.1 323l21.1-3.2M893.8 325.3l21.1-3.1M900.5 327.7l21.1-3.1M907.2 330.1l21.2-3.1M913.9 332.5l21.2-3M920.6 335l21.2-3M927.3 337.5l21.2-3M934 340l21.2-2.9M940.7 342.6l21.2-2.9M947.4 345.1l21.2-2.8M954.1 347.7l21.2-2.8M960.8 350.4l21.2-2.9M967.5 353l21.2-2.8M974.2 355.6l21.2-2.7M980.9 358.3l21.2-2.7M987.6 361l21.2-2.7M994.3 363.6l21.2-2.6M1001 366.3l21.2-2.6M1007.7 369l21.2-2.6M1014.4 371.7l21.2-2.6M1021.1 374.4l21.2-2.5M1027.8 377.1l21.2-2.5M1034.5 379.8l21.2-2.5M1041.2 382.4l21.2-2.4M1047.9 385.1l21.2-2.4M1054.7 387.8l21.1-2.4M1061.4 390.4l21.1-2.3M1068.1 393.1l21.1-2.3M1074.8 395.7l21.1-2.3M1081.5 398.4l21.1-2.3M1088.2 401l21.1-2.2M1094.9 403.6l21.1-2.2M1101.6 406.2l21.1-2.2M1108.3 408.8l21.1-2.2M1115 411.4l21.1-2.2M1121.7 414l21.1-2.2M1128.4 416.5l21.2-2.1M1135.1 419.1l21.2-2.1M1141.8 421.6l21.2-2.1M1148.5 424.2l21.2-2.1M1155.2 426.8l21.2-2.1M1161.9 429.3l21.2-2.1M1168.6 431.9l21.2-2.1M1175.3 434.5l21.2-2.1M1182 437l21.2-2"/><path fill="#000" d="M511.7 267.9l60.3 1.5 40.3 1.5 33.5 2 20.1 1.6 13.4 1.3 20.1 2.3 13.4 1.8 26.8 4.2 26.8 5.1 13.4 2.9 20.1 4.8 26.9 7.1 26.8 8 26.8 8.7 33.5 11.8 26.8 10.1 26.8 10.4 120.7 48 93.8 36 0 0-21.2 2 0 0-100.5-38.6-120.7-47.6-26.8-10.2-20.1-7.4-33.5-11.8-26.8-8.6-26.8-7.9-26.8-7-20.1-4.7-13.4-2.8-26.9-5-13.4-2.1-20.1-2.8-13.4-1.6-20.1-2-13.4-1.1-20.1-1.3-33.5-1.5-33.5-.9-60.4-.8 0 0 21.2-5.4z"/><path d="M490.5 273.3l60.4 .8 33.5 .9 33.5 1.5 20.1 1.3 13.4 1.1 20.1 2 13.4 1.6 20.1 2.8 13.4 2.1 26.9 5 13.4 2.8 20.1 4.7 26.8 7 26.8 7.9 26.8 8.6 33.5 11.8 20.1 7.4 26.8 10.2 120.7 47.6 100.5 38.6M494.8 272.2l60.3 1 33.5 1 33.5 1.5 20.1 1.4 13.4 1.1 20.2 2.1 13.4 1.6 20.1 2.8 13.4 2.2 26.8 4.9 13.4 2.9 20.1 4.7 26.8 7 26.8 7.9 26.8 8.6 33.6 11.8 20.1 7.4 26.8 10.3 120.6 47.6 100.6 38.6M499 271.2l60.3 1.1 40.3 1.3 33.5 1.8 20.1 1.5 13.4 1.3 20.1 2.2 13.4 1.7 26.8 4.1 26.8 5 13.4 2.9 20.1 4.7 26.9 7 26.8 7.9 26.8 8.7 33.5 11.8 20.1 7.4 26.8 10.3 120.7 47.7 100.5 38.6M503.2 270.1l60.4 1.3 40.2 1.3 33.5 1.9 20.1 1.5 13.4 1.3 20.1 2.2 13.4 1.8 26.8 4.1 26.9 5.1 13.4 2.9 20.1 4.7 26.8 7.1 26.8 7.9 26.8 8.7 33.5 11.7 20.1 7.5 26.8 10.3 120.7 47.8 100.5 38.6M507.5 269l60.3 1.4 40.2 1.4 33.5 1.9 20.1 1.6 13.5 1.3 20.1 2.3 13.4 1.8 26.8 4.1 26.8 5.1 13.4 2.9 20.1 4.7 26.8 7.1 26.8 8 26.8 8.7 33.6 11.8 26.8 10 26.8 10.4 120.6 47.9 93.9 36M511.7 267.9l60.3 1.5 40.3 1.5 33.5 2 20.1 1.6 13.4 1.3 20.1 2.3 13.4 1.8 26.8 4.2 26.8 5.1 13.4 2.9 20.1 4.8 26.9 7.1 26.8 8 26.8 8.7 33.5 11.8 26.8 10.1 26.8 10.4 120.7 48 93.8 36M490.5 273.3l21.2-5.4M497.2 273.4l21.2-5.4M504 273.5l21.1-5.3M510.7 273.5l21.1-5.2M517.4 273.6l21.1-5.1M524.1 273.7l21.1-5.1M530.8 273.8l21.1-5M537.5 273.9l21.1-4.9M544.2 274l21.1-4.8M550.9 274.1l21.1-4.7M557.6 274.3l21.1-4.7M564.3 274.4l21.1-4.6M571 274.6l21.1-4.6M577.7 274.8l21.1-4.5M584.4 275l21.2-4.4M591.1 275.2l21.2-4.3M597.8 275.5l21.2-4.3M604.5 275.8l21.2-4.2M611.2 276.1l21.2-4.1M617.9 276.5l21.2-4.1M624.6 276.9l21.2-4M631.3 277.3l21.2-3.9M638 277.8l21.2-3.9M644.7 278.3l21.2-3.8M651.4 278.9l21.2-3.8M658.1 279.5l21.2-3.7M664.8 280.2l21.2-3.7M671.5 280.9l21.2-3.6M678.2 281.7l21.2-3.6M684.9 282.5l21.2-3.5M691.6 283.4l21.2-3.5M698.3 284.3l21.2-3.4M705 285.3l21.2-3.4M711.7 286.4l21.2-3.4M718.4 287.4l21.2-3.3M725.2 288.6l21.1-3.3M731.9 289.8l21.1-3.3M738.6 291.1l21.1-3.2M745.3 292.4l21.1-3.2M752 293.8l21.1-3.2M758.7 295.2l21.1-3.1M765.4 296.7l21.1-3.1M772.1 298.3l21.1-3.1M778.8 299.9l21.1-3M785.5 301.6l21.1-3M792.2 303.3l21.1-3M798.9 305.1l21.1-3M805.6 306.9l21.2-2.9M812.3 308.8l21.2-2.9M819 310.8l21.2-2.9M825.7 312.8l21.2-2.9M832.4 314.8l21.2-2.8M839.1 316.9l21.2-2.8M845.8 319l21.2-2.8M852.5 321.2l21.2-2.7M859.2 323.4l21.2-2.7M865.9 325.7l21.2-2.7M872.6 328l21.2-2.7M879.3 330.4l21.2-2.7M886 332.7l21.2-2.6M892.7 335.2l21.2-2.7M899.4 337.6l21.2-2.6M906.1 340.1l21.2-2.6M912.8 342.6l21.2-2.6M919.5 345.1l21.2-2.5M926.2 347.7l21.2-2.6M932.9 350.2l21.2-2.5M939.6 352.8l21.2-2.4M946.3 355.4l21.2-2.4M953.1 358.1l21.1-2.5M959.8 360.7l21.1-2.4M966.5 363.3l21.1-2.3M973.2 366l21.1-2.4M979.9 368.6l21.1-2.3M986.6 371.3l21.1-2.3M993.3 374l21.1-2.3M1000 376.6l21.1-2.2M1006.7 379.3l21.1-2.2M1013.4 382l21.1-2.2M1020.1 384.6l21.1-2.2M1026.8 387.3l21.1-2.2M1033.5 389.9l21.2-2.1M1040.2 392.6l21.2-2.2M1046.9 395.2l21.2-2.1M1053.6 397.8l21.2-2.1M1060.3 400.4l21.2-2M1067 403l21.2-2M1073.7 405.6l21.2-2M1080.4 408.2l21.2-2M1087.1 410.8l21.2-2M1093.8 413.3l21.2-1.9M1100.5 415.9l21.2-1.9M1107.2 418.4l21.2-1.9M1113.9 421l21.2-1.9M1120.6 423.5l21.2-1.9M1127.3 426.1l21.2-1.9M1134 428.7l21.2-1.9M1140.7 431.2l21.2-1.9M1147.4 433.8l21.2-1.9M1154.1 436.4l21.2-1.9M1160.8 439l21.2-2"/><path fill="#000" d="M490.5 273.3l60.4 .8 33.5 .9 33.5 1.5 20.1 1.3 13.4 1.1 20.1 2 13.4 1.6 20.1 2.8 13.4 2.1 26.9 5 13.4 2.8 20.1 4.7 26.8 7 26.8 7.9 26.8 8.6 33.5 11.8 20.1 7.4 26.8 10.2 120.7 47.6 100.5 38.6 0 0-21.1 2.2 0 0-107.3-41.3-113.9-44.8-26.8-10.3-20.1-7.4-33.6-11.7-26.8-8.7-26.8-7.8-26.8-7-20.1-4.7-13.4-2.8-26.8-4.9-13.4-2.1-20.1-2.7-13.4-1.5-20.1-1.9-13.5-1.1-20.1-1.1-33.5-1.2-40.2-.5-53.6 .2 0 0 8.4-1.7 12.7-2.9z"/><path d="M469.4 277.9l53.6-.2 40.2 .5 33.5 1.2 20.1 1.1 13.5 1.1 20.1 1.9 13.4 1.5 20.1 2.7 13.4 2.1 26.8 4.9 13.4 2.8 20.1 4.7 26.8 7 26.8 7.8 26.8 8.7 33.6 11.7 20.1 7.4 26.8 10.3 113.9 44.8 107.3 41.3M473.6 277.1l53.6 0 40.3 .6 33.5 1.2 20.1 1.2 13.4 1 20.1 2 13.4 1.5 20.1 2.7 13.4 2.1 26.8 4.9 13.4 2.8 20.1 4.7 26.9 7 26.8 7.8 26.8 8.7 33.5 11.7 20.1 7.4 26.8 10.2 114 44.9 107.2 41.2M477.8 276.2l60.4 .3 33.5 .6 33.5 1.3 20.1 1.2 13.4 1.1 20.1 1.9 13.4 1.6 20.1 2.7 13.4 2.1 26.9 4.9 13.4 2.8 20.1 4.7 26.8 7 26.8 7.8 26.8 8.6 33.5 11.7 20.1 7.5 26.8 10.2 114 44.8 107.2 41.3M482.1 275.3l60.3 .4 33.5 .7 33.5 1.4 20.1 1.3 13.5 1 20.1 2 13.4 1.6 20.1 2.7 13.4 2.1 26.8 4.9 13.4 2.9 20.1 4.6 26.8 7 26.8 7.9 26.8 8.6 33.6 11.7 20.1 7.4 26.8 10.2 113.9 44.9 107.3 41.2M486.3 274.3l60.3 .7 33.6 .7 33.5 1.5 20.1 1.3 13.4 1.1 20.1 1.9 13.4 1.6 20.1 2.8 13.4 2.1 26.8 5 13.4 2.8 20.1 4.6 26.9 7 26.8 7.9 26.8 8.6 33.5 11.7 20.1 7.5 26.8 10.2 114 44.9 107.2 41.2M490.5 273.3l60.4 .8 33.5 .9 33.5 1.5 20.1 1.3 13.4 1.1 20.1 2 13.4 1.6 20.1 2.8 13.4 2.1 26.9 5 13.4 2.8 20.1 4.7 26.8 7 26.8 7.9 26.8 8.6 33.5 11.8 20.1 7.4 26.8 10.2 120.7 47.6 100.5 38.6M469.4 277.9l8.4-1.7 12.7-2.9M476.1 277.9l8.4-1.7 12.7-2.8M482.8 277.8l8.5-1.6 12.7-2.7M489.5 277.8l8.5-1.5 12.7-2.8M496.2 277.8l8.5-1.5 12.7-2.7M502.9 277.7l8.5-1.4 12.7-2.6M509.6 277.7l8.5-1.4 12.7-2.5M516.3 277.7l8.5-1.3 12.7-2.5M523 277.7l8.5-1.3 12.7-2.4M529.7 277.8l8.5-1.3 12.7-2.4M536.4 277.8l8.5-1.2 12.7-2.3M543.1 277.9l8.5-1.2 12.7-2.3M549.8 277.9l8.5-1.1 12.7-2.2M556.5 278.1l8.5-1.2 12.7-2.1M563.2 278.2l8.5-1.1 12.7-2.1M569.9 278.4l8.5-1.1 12.7-2.1M576.6 278.6l8.5-1.1 12.7-2M583.3 278.8l8.5-1 12.7-2M590 279.1l8.5-1 12.7-2M596.7 279.4l8.5-1 12.7-1.9M603.4 279.7l8.5-.9 12.7-1.9M610.1 280.1l8.5-.9 12.7-1.9M616.8 280.5l8.5-.9 12.7-1.8M623.5 281l8.5-.9 12.7-1.8M630.3 281.6l8.4-.9 12.7-1.8M637 282.1l8.4-.8 12.7-1.8M643.7 282.8l8.4-.9 12.7-1.7M650.4 283.5l8.4-.9 12.7-1.7M657.1 284.2l8.4-.9 12.7-1.6M663.8 285l8.4-.8 12.7-1.7M670.5 285.8l8.4-.8 12.7-1.6M677.2 286.7l8.4-.8 12.7-1.6M683.9 287.7l8.4-.8 12.7-1.6M690.6 288.7l8.4-.8 12.7-1.5M697.3 289.8l8.4-.8 12.7-1.6M704 290.9l8.5-.8 12.7-1.5M710.7 292.1l8.5-.8 12.7-1.5M717.4 293.4l8.5-.8 12.7-1.5M724.1 294.7l8.5-.8 12.7-1.5M730.8 296.1l21.2-2.3M737.5 297.5l21.2-2.3M744.2 299l21.2-2.3M750.9 300.5l21.2-2.2M757.6 302.2l21.2-2.3M764.3 303.8l21.2-2.2M771 305.6l21.2-2.3M777.7 307.3l21.2-2.2M784.4 309.2l21.2-2.3M791.1 311.1l21.2-2.3M797.8 313l21.2-2.2M804.5 315l21.2-2.2M811.2 317l21.2-2.2M817.9 319.1l21.2-2.2M824.6 321.3l21.2-2.3M831.3 323.5l21.2-2.3M838 325.7l21.2-2.3M844.7 327.9l21.2-2.2M851.5 330.3l21.1-2.3M858.2 332.6l21.1-2.2M864.9 335l21.1-2.3M871.6 337.4l21.1-2.2M878.3 339.8l21.1-2.2M885 342.3l21.1-2.2M891.7 344.8l21.1-2.2M898.4 347.3l21.1-2.2M905.1 349.9l21.1-2.2M911.8 352.5l21.1-2.3M918.5 355.1l21.1-2.3M925.2 357.7l21.1-2.3M931.9 360.3l21.2-2.2M938.6 362.9l21.2-2.2M945.3 365.5l21.2-2.2M952 368.2l21.2-2.2M958.7 370.8l21.2-2.2M965.4 373.5l21.2-2.2M972.1 376.2l21.2-2.2M978.8 378.8l21.2-2.2M985.5 381.5l21.2-2.2M992.2 384.1l21.2-2.1M998.9 386.8l21.2-2.2M1005.6 389.4l21.2-2.1M1012.3 392.1l21.2-2.2M1019 394.7l21.2-2.1M1025.7 397.3l21.2-2.1M1032.4 399.9l21.2-2.1M1039.1 402.5l21.2-2.1M1045.8 405.1l21.2-2.1M1052.5 407.7l21.2-2.1M1059.2 410.3l21.2-2.1M1065.9 412.9l21.2-2.1M1072.6 415.4l21.2-2.1M1079.4 418l21.1-2.1M1086.1 420.6l21.1-2.2M1092.8 423.1l21.1-2.1M1099.5 425.7l21.1-2.2M1106.2 428.2l21.1-2.1M1112.9 430.8l21.1-2.1M1119.6 433.4l21.1-2.2M1126.3 436l21.1-2.2M1133 438.6l21.1-2.2M1139.7 441.2l21.1-2.2"/><path fill="#000" d="M469.4 277.9l53.6-.2 40.2 .5 33.5 1.2 20.1 1.1 13.5 1.1 20.1 1.9 13.4 1.5 20.1 2.7 13.4 2.1 26.8 4.9 13.4 2.8 20.1 4.7 26.8 7 26.8 7.8 26.8 8.7 33.6 11.7 20.1 7.4 26.8 10.3 113.9 44.8 107.3 41.3 0 0-12.7 1.9-8.5 1.5 0 0-26.8-10.7-87.1-33.9-107.3-42.7-26.8-10.3-20.1-7.6-33.5-11.9-26.8-8.8-20.1-6.1-13.4-3.8-26.9-6.9-20.1-4.6-13.4-2.7-13.4-2.5-13.4-2.3-13.4-2-20.1-2.5-13.4-1.4-20.1-1.7-13.4-.9-20.1-.9-33.5-.8-40.3 .2-46.9 1.1 0 0 8.5-1 12.7-2z"/><path d="M448.2 280.9l46.9-1.1 40.3-.2 33.5 .8 20.1 .9 13.4 .9 20.1 1.7 13.4 1.4 20.1 2.5 13.4 2 13.4 2.3 13.4 2.5 13.4 2.7 20.1 4.6 26.9 6.9 13.4 3.8 20.1 6.1 26.8 8.8 33.5 11.9 20.1 7.6 26.8 10.3 107.3 42.7 87.1 33.9 26.8 10.7M452.4 280.4l47-.8 40.2-.1 33.5 .7 20.1 1 13.4 .9 20.1 1.7 13.4 1.4 20.1 2.5 13.4 2 13.5 2.2 13.4 2.5 13.4 2.7 20.1 4.6 26.8 6.9 13.4 3.8 20.1 6 26.8 8.8 33.5 11.8 20.1 7.5 26.8 10.4 107.3 42.5 87.1 33.8 26.8 10.6M456.7 279.9l53.6-.7 40.2 .1 33.5 1 20.1 1.2 13.5 .9 20.1 1.9 13.4 1.5 20.1 2.7 13.4 2.1 26.8 4.9 13.4 2.9 20.1 4.7 26.8 7.1 26.8 7.9 26.8 8.7 33.6 11.8 20.1 7.5 26.8 10.3 107.2 42.4 87.2 33.7 26.8 10.6M460.9 279.3l53.6-.5 40.3 .2 33.5 1.1 20.1 1.1 13.4 1 20.1 1.9 13.4 1.5 20.1 2.7 13.4 2.1 26.8 4.9 13.4 2.8 20.1 4.7 26.9 7.1 26.8 7.9 26.8 8.6 33.5 11.8 20.1 7.5 26.8 10.2 114 45 107.2 41.5M465.1 278.6l53.7-.3 40.2 .4 33.5 1.1 20.1 1.1 13.4 1 20.1 1.9 13.4 1.5 20.1 2.7 13.4 2.1 26.9 4.9 13.4 2.8 20.1 4.7 26.8 7 26.8 7.9 26.8 8.7 33.5 11.7 20.1 7.4 26.8 10.3 114 44.9 107.2 41.4M469.4 277.9l53.6-.2 40.2 .5 33.5 1.2 20.1 1.1 13.5 1.1 20.1 1.9 13.4 1.5 20.1 2.7 13.4 2.1 26.8 4.9 13.4 2.8 20.1 4.7 26.8 7 26.8 7.8 26.8 8.7 33.6 11.7 20.1 7.4 26.8 10.3 113.9 44.8 107.3 41.3M448.2 280.9l8.5-1 12.7-2M454.9 280.7l8.5-.9 12.7-1.9M461.6 280.5l8.5-.8 12.7-1.9M468.3 280.4l8.5-.8 12.7-1.8M475 280.2l8.5-.7 12.7-1.7M481.7 280.1l8.5-.7 12.7-1.7M488.4 279.9l8.5-.6 12.7-1.6M495.1 279.8l8.5-.6 12.7-1.5M501.8 279.7l8.5-.5 12.7-1.5M508.5 279.7l8.5-.6 12.7-1.3M515.2 279.6l8.5-.5 12.7-1.3M521.9 279.6l8.5-.5 12.7-1.2M528.7 279.6l8.4-.4 12.7-1.3M535.4 279.6l8.4-.4 12.7-1.1M542.1 279.7l8.4-.4 12.7-1.1M548.8 279.8l8.4-.3 12.7-1.1M555.5 280l8.4-.4 12.7-1M562.2 280.1l8.4-.3 12.7-1M568.9 280.4l8.4-.3 12.7-1M575.6 280.6l8.4-.3 12.7-.9M582.3 280.9l8.4-.2 12.7-1M589 281.3l8.4-.3 12.7-.9M595.7 281.7l8.4-.2 12.7-1M602.4 282.2l8.4-.3 12.7-.9M609.1 282.7l8.5-.3 12.7-.8M615.8 283.2l8.5-.2 12.7-.9M622.5 283.9l8.5-.3 12.7-.8M629.2 284.5l8.5-.2 12.7-.8M635.9 285.3l8.5-.3 12.7-.8M642.6 286.1l8.5-.3 12.7-.8M649.3 286.9l8.5-.3 12.7-.8M656 287.8l8.5-.3 12.7-.8M662.7 288.8l8.5-.3 12.7-.8M669.4 289.8l12.7-.5 8.5-.6M676.1 290.9l12.7-.5 8.5-.6M682.8 292.1l12.7-.6 8.5-.6M689.5 293.3l12.7-.6 8.5-.6M696.2 294.6l12.7-.6 8.5-.6M702.9 295.9l12.7-.6 8.5-.6M709.6 297.3l12.7-.6 8.5-.6M716.3 298.8l21.2-1.3M723 300.3l21.2-1.3M729.7 301.9l21.2-1.4M736.4 303.5l21.2-1.3M743.1 305.2l21.2-1.4M749.9 307l21.1-1.4M756.6 308.8l21.1-1.5M763.3 310.7l21.1-1.5M770 312.6l21.1-1.5M776.7 314.6l21.1-1.6M783.4 316.6l21.1-1.6M790.1 318.7l21.1-1.7M796.8 320.9l21.1-1.8M803.5 323l21.1-1.7M810.2 325.3l21.1-1.8M816.9 327.5l21.1-1.8M823.6 329.8l21.1-1.9M830.3 332.2l21.2-1.9M837 334.6l21.2-2M843.7 337l21.2-2M850.4 339.4l21.2-2M857.1 341.9l21.2-2.1M863.8 344.4l21.2-2.1M870.5 347l21.2-2.2M877.2 349.5l21.2-2.2M883.9 352.1l21.2-2.2M890.6 354.7l21.2-2.2M897.3 357.3l21.2-2.2M904 360l21.2-2.3M910.7 362.6l21.2-2.3M917.4 365.3l21.2-2.4M924.1 368l21.2-2.5M930.8 370.6l21.2-2.4M937.5 373.3l21.2-2.5M944.2 376l21.2-2.5M950.9 378.7l21.2-2.5M957.6 381.4l21.2-2.6M964.3 384.1l21.2-2.6M971 386.7l21.2-2.6M977.8 389.4l21.1-2.6M984.5 392.1l21.1-2.7M991.2 394.7l21.1-2.6M997.9 397.4l21.1-2.7M1004.6 400l21.1-2.7M1011.3 402.7l21.1-2.8M1018 405.3l8.4-1.2 12.7-1.6M1024.7 407.9l8.4-1.2 12.7-1.6M1031.4 410.5l8.4-1.2 12.7-1.6M1038.1 413.2l8.4-1.3 12.7-1.6M1044.8 415.8l8.4-1.3 12.7-1.6M1051.5 418.4l8.5-1.4 12.6-1.6M1058.2 420.9l8.5-1.3 12.7-1.6M1064.9 423.5l8.5-1.3 12.7-1.6M1071.6 426.1l8.5-1.3 12.7-1.7M1078.3 428.7l8.5-1.4 12.7-1.6M1085 431.3l8.5-1.4 12.7-1.7M1091.7 433.9l8.5-1.4 12.7-1.7M1098.4 436.6l8.5-1.5 12.7-1.7M1105.1 439.2l8.5-1.5 12.7-1.7M1111.8 441.9l8.5-1.5 12.7-1.8M1118.5 444.6l8.5-1.5 12.7-1.9"/><path fill="#000" d="M448.2 280.9l46.9-1.1 40.3-.2 33.5 .8 20.1 .9 13.4 .9 20.1 1.7 13.4 1.4 20.1 2.5 13.4 2 13.4 2.3 13.4 2.5 13.4 2.7 20.1 4.6 26.9 6.9 13.4 3.8 20.1 6.1 26.8 8.8 33.5 11.9 20.1 7.6 26.8 10.3 107.3 42.7 87.1 33.9 26.8 10.7 0 0-12.7 2.9-8.4 2.4 0 0-26.9-11-93.8-37.5-107.3-43.8-26.8-10.7-20.1-7.7-33.5-12.2-26.8-9-26.8-8.2-26.8-7.3-20.1-4.8-13.4-2.9-13.4-2.7-13.5-2.4-13.4-2.1-20.1-2.7-13.4-1.5-20.1-1.8-13.4-.9-20.1-1-13.4-.4-20.1-.2-20.1 .1-20.1 .5-47 1.9 0 0 8.5 0 12.7-.7z"/><path d="M427 281.6l47-1.9 20.1-.5 20.1-.1 20.1 .2 13.4 .4 20.1 1 13.4 .9 20.1 1.8 13.4 1.5 20.1 2.7 13.4 2.1 13.5 2.4 13.4 2.7 13.4 2.9 20.1 4.8 26.8 7.3 26.8 8.2 26.8 9 33.5 12.2 20.1 7.7 26.8 10.7 107.3 43.8 93.8 37.5 26.9 11M431.3 281.6l46.9-1.7 20.1-.4 20.1-.1 20.1 .2 13.4 .4 20.1 .9 13.5 .9 20.1 1.8 13.4 1.5 20.1 2.6 13.4 2.1 13.4 2.4 13.4 2.6 13.4 2.9 20.1 4.7 26.8 7.2 26.8 8.1 26.8 8.9 33.6 12.1 20.1 7.7 26.8 10.5 107.2 43.6 93.9 37.2 26.8 10.9M435.5 281.6l46.9-1.6 20.1-.3 20.2-.1 20.1 .2 13.4 .4 20.1 .9 13.4 .9 20.1 1.7 13.4 1.5 20.1 2.6 13.4 2.1 13.4 2.3 13.4 2.6 13.4 2.8 20.1 4.7 26.9 7.1 13.4 3.9 20.1 6.3 26.8 9 33.5 12.2 20.1 7.6 26.8 10.6 100.6 40.6 93.8 37 26.8 10.9M439.7 281.4l47-1.3 20.1-.4 20.1 0 20.1 .3 13.4 .3 20.1 1 13.4 .8 20.1 1.7 13.4 1.5 20.1 2.6 13.4 2 13.5 2.3 13.4 2.6 13.4 2.7 20.1 4.7 26.8 7.1 13.4 3.8 20.1 6.2 26.8 8.9 33.5 12.1 20.1 7.6 26.9 10.5 107.2 43.1 87.1 34.2 26.8 10.7M444 281.2l46.9-1.2 20.1-.3 20.1 0 20.1 .3 13.4 .4 20.1 .9 13.5 .9 20.1 1.7 13.4 1.4 20.1 2.6 13.4 2 13.4 2.3 13.4 2.5 13.4 2.7 20.1 4.7 26.8 6.9 13.4 3.9 20.1 6.1 26.8 8.9 33.6 12 20.1 7.5 26.8 10.5 107.2 42.8 87.2 34.1 26.8 10.6M448.2 280.9l46.9-1.1 40.3-.2 33.5 .8 20.1 .9 13.4 .9 20.1 1.7 13.4 1.4 20.1 2.5 13.4 2 13.4 2.3 13.4 2.5 13.4 2.7 20.1 4.6 26.9 6.9 13.4 3.8 20.1 6.1 26.8 8.8 33.5 11.9 20.1 7.6 26.8 10.3 107.3 42.7 87.1 33.9 26.8 10.7M427 281.6l8.5 0 12.7-.7M433.8 281.3l8.4 0 12.7-.6M440.5 280.9l8.4 .2 12.7-.6M447.2 280.6l8.4 .2 12.7-.4M453.9 280.4l8.4 .2 12.7-.4M460.6 280.1l8.4 .3 12.7-.3M467.3 279.9l8.4 .3 12.7-.3M474 279.7l8.4 .3 12.7-.2M480.7 279.5l8.4 .4 12.7-.2M487.4 279.4l8.4 .4 12.7-.1M494.1 279.2l8.4 .5 12.7-.1M500.8 279.2l8.4 .4 12.7 0M507.5 279.1l8.5 .5 12.7 0M514.2 279.1l8.5 .5 12.7 0M520.9 279.1l8.5 .5 12.7 .1M527.6 279.2l8.5 .5 12.7 .1M534.3 279.3l8.5 .5 12.7 .2M541 279.5l8.5 .5 12.7 .1M547.7 279.7l8.5 .5 12.7 .2M554.4 280l8.5 .5 12.7 .1M561.1 280.3l12.7 .6 8.5 0M567.8 280.7l12.7 .6 8.5 0M574.5 281.1l12.7 .6 8.5 0M581.2 281.6l12.7 .5 8.5 .1M587.9 282.1l12.7 .5 8.5 .1M594.6 282.7l12.7 .5 8.5 0M601.3 283.4l12.7 .4 8.5 .1M608 284.1l12.7 .4 8.5 0M614.7 284.9l12.7 .4 8.5 0M621.4 285.7l12.7 .4 8.5 0M628.1 286.6l12.7 .3 8.5 0M634.8 287.6l12.7 .3 8.5-.1M641.5 288.6l12.7 .3 8.5-.1M648.2 289.7l12.7 .2 8.5-.1M655 290.9l12.7 .1 8.4-.1M661.7 292.1l12.7 .1 8.4-.1M668.4 293.4l21.1-.1M675.1 294.8l21.1-.2M681.8 296.2l21.1-.3M688.5 297.7l21.1-.4M695.2 299.2l21.1-.4M701.9 300.8l21.1-.5M708.6 302.5l21.1-.6M715.3 304.2l21.1-.7M722 306l21.1-.8M728.7 307.9l21.2-.9M735.4 309.8l21.2-1M742.1 311.8l21.2-1.1M748.8 313.8l21.2-1.2M755.5 315.9l21.2-1.3M762.2 318l21.2-1.4M768.9 320.2l21.2-1.5M775.6 322.4l21.2-1.5M782.3 324.7l21.2-1.7M789 327l21.2-1.7M795.7 329.4l21.2-1.9M802.4 331.8l21.2-2M809.1 334.2l21.2-2M815.8 336.7l21.2-2.1M822.5 339.2l21.2-2.2M829.2 341.8l21.2-2.4M835.9 344.3l21.2-2.4M842.6 346.9l21.2-2.5M849.3 349.6l21.2-2.6M856 352.2l21.2-2.7M862.7 354.9l21.2-2.8M869.4 357.6l21.2-2.9M876.2 360.3l8.4-1.3 12.7-1.7M882.9 363l8.4-1.3 12.7-1.7M889.6 365.7l8.4-1.3 12.7-1.8M896.3 368.5l8.4-1.4 12.7-1.8M903 371.2l8.4-1.4 12.7-1.8M909.7 374l8.4-1.5 12.7-1.9M916.4 376.7l8.4-1.5 12.7-1.9M923.1 379.5l8.4-1.6 12.7-1.9M929.8 382.2l8.4-1.6 12.7-1.9M936.5 385l8.4-1.6 12.7-2M943.2 387.8l8.4-1.7 12.7-2M949.9 390.5l8.5-1.7 12.6-2.1M956.6 393.2l8.5-1.7 12.7-2.1M963.3 396l8.5-1.8 12.7-2.1M970 398.7l8.5-1.8 12.7-2.2M976.7 401.4l8.5-1.8 12.7-2.2M983.4 404.1l8.5-1.8 12.7-2.3M990.1 406.8l8.5-1.9 12.7-2.2M996.8 409.5l8.5-1.9 12.7-2.3M1003.5 412.2l8.5-1.9 12.7-2.4M1010.2 414.9l8.5-2 12.7-2.4M1016.9 417.6l8.5-2 12.7-2.4M1023.6 420.2l8.5-2 12.7-2.4M1030.3 422.9l8.5-2.1 12.7-2.4M1037 425.6l8.5-2.2 12.7-2.5M1043.7 428.2l8.5-2.1 12.7-2.6M1050.4 430.9l8.5-2.2 12.7-2.6M1057.1 433.6l8.5-2.3 12.7-2.6M1063.8 436.2l8.5-2.2 12.7-2.7M1070.5 438.9l8.5-2.3 12.7-2.7M1077.2 441.6l8.5-2.3 12.7-2.7M1083.9 444.4l8.5-2.4 12.7-2.8M1090.6 447.1l8.5-2.4 12.7-2.8M1097.4 449.9l8.4-2.4 12.7-2.9"/><path fill="#000" d="M427 281.6l47-1.9 20.1-.5 20.1-.1 20.1 .2 13.4 .4 20.1 1 13.4 .9 20.1 1.8 13.4 1.5 20.1 2.7 13.4 2.1 13.5 2.4 13.4 2.7 13.4 2.9 20.1 4.8 26.8 7.3 26.8 8.2 26.8 9 33.5 12.2 20.1 7.7 26.8 10.7 107.3 43.8 93.8 37.5 26.9 11 0 0-8.5 3-4.2 1.6-8.5 3.9 0 0-33.5-14.4-93.9-39.1-107.2-45.9-26.8-11.1-20.1-8.2-33.6-12.8-26.8-9.5-26.8-8.7-26.8-7.7-20.1-5.2-13.4-3-13.4-2.9-13.4-2.5-13.4-2.3-20.1-2.9-13.4-1.6-20.1-1.9-13.5-.9-20.1-1-13.4-.3-20.1-.2-20.1 .3-20.1 .7-20.1 1-20.1 1.3 0 0 8.5 1.1 12.6 .9z"/><path d="M405.9 279.6l20.1-1.3 20.1-1 20.1-.7 20.1-.3 20.1 .2 13.4 .3 20.1 1 13.5 .9 20.1 1.9 13.4 1.6 20.1 2.9 13.4 2.3 13.4 2.5 13.4 2.9 13.4 3 20.1 5.2 26.8 7.7 26.8 8.7 26.8 9.5 33.6 12.8 20.1 8.2 26.8 11.1 107.2 45.9 93.9 39.1 33.5 14.4M410.1 280.2l20.1-1.2 20.1-1 20.1-.6 20.2-.3 20.1 .1 13.4 .3 20.1 .9 13.4 .9 20.1 1.8 13.4 1.6 20.1 2.8 13.4 2.2 13.4 2.5 13.4 2.7 13.4 3 20.1 5.1 26.9 7.5 26.8 8.5 26.8 9.4 33.5 12.6 20.1 8 26.8 11 107.3 45.5 100.5 41.5 26.8 11.4M414.4 280.7l40.2-2.1 20.1-.6 20.1-.3 20.1 .1 13.4 .3 20.1 .9 13.4 .9 20.1 1.7 13.4 1.5 20.1 2.7 13.4 2.2 13.5 2.4 13.4 2.7 13.4 2.9 20.1 4.9 26.8 7.5 13.4 4 20.1 6.5 26.8 9.4 33.5 12.7 20.1 7.9 26.8 11 100.6 42.2 100.5 41.2 26.9 11.2M418.6 281.1l40.2-1.9 20.1-.6 20.1-.3 20.1 .1 13.4 .3 20.1 .8 13.4 .8 20.2 1.7 13.4 1.5 20.1 2.6 13.4 2.1 13.4 2.4 13.4 2.6 13.4 2.9 20.1 4.8 26.8 7.3 13.4 4 20.1 6.4 26.8 9.2 33.6 12.5 20.1 7.9 26.8 10.9 107.2 44.5 93.9 38.1 26.8 11.2M422.8 281.4l40.2-1.8 20.1-.6 20.2-.3 20.1 .1 13.4 .3 20.1 .8 13.4 .8 20.1 1.7 13.4 1.4 20.1 2.6 13.4 2 13.4 2.3 13.4 2.6 13.4 2.8 20.1 4.8 26.9 7.1 13.4 4 20.1 6.3 26.8 9.1 33.5 12.4 20.1 7.8 26.8 10.7 107.3 44.2 93.8 37.7 26.8 11.1M427 281.6l47-1.9 20.1-.5 20.1-.1 20.1 .2 13.4 .4 20.1 1 13.4 .9 20.1 1.8 13.4 1.5 20.1 2.7 13.4 2.1 13.5 2.4 13.4 2.7 13.4 2.9 20.1 4.8 26.8 7.3 26.8 8.2 26.8 9 33.5 12.2 20.1 7.7 26.8 10.7 107.3 43.8 93.8 37.5 26.9 11M405.9 279.6l8.5 1.1 12.6 .9M412.6 279.1l8.5 1.2 12.7 1M419.3 278.7l8.5 1.2 12.7 1M426 278.3l8.5 1.3 12.7 1M432.7 277.9l8.5 1.3 12.7 1.2M439.4 277.6l8.5 1.3 12.7 1.2M446.1 277.3l8.5 1.3 12.7 1.3M452.8 277l8.5 1.4 12.7 1.3M459.5 276.8l12.7 1.9 8.5 .8M466.2 276.6l12.7 2 8.5 .8M472.9 276.5l12.7 1.9 8.5 .8M479.6 276.4l12.7 1.9 8.5 .9M486.3 276.3l12.7 2 8.5 .8M493 276.3l12.7 2 8.5 .8M499.7 276.4l12.7 1.9 8.5 .8M506.4 276.5l12.7 1.9 8.5 .8M513.1 276.6l12.7 1.9 8.5 .8M519.8 276.8l12.7 1.9 8.5 .8M526.5 277.1l12.7 1.8 8.5 .8M533.2 277.4l12.7 1.8 8.5 .8M539.9 277.8l12.7 1.7 8.5 .8M546.6 278.2l12.7 1.7 8.5 .8M553.4 278.7l12.6 1.6 8.5 .8M560.1 279.3l12.7 1.5 8.4 .8M566.8 279.9l12.7 1.5 8.4 .7M573.5 280.6l12.7 1.4 8.4 .7M580.2 281.4l12.7 1.3 8.4 .7M586.9 282.2l12.7 1.3 8.4 .6M593.6 283.1l12.7 1.2 8.4 .6M600.3 284.1l12.7 1.1 8.4 .5M607 285.1l12.7 1 8.4 .5M613.7 286.2l21.1 1.4M620.4 287.4l21.1 1.2M627.1 288.6l21.1 1.1M633.8 289.9l21.2 1M640.5 291.3l21.2 .8M647.2 292.8l21.2 .6M653.9 294.3l21.2 .5M660.6 295.8l21.2 .4M667.3 297.5l21.2 .2M674 299.2l21.2 0M680.7 301l21.2-.2M687.4 302.8l21.2-.3M694.1 304.7l21.2-.5M700.8 306.7l21.2-.7M707.5 308.7l21.2-.8M714.2 310.8l21.2-1M720.9 312.9l21.2-1.1M727.6 315.1l21.2-1.3M734.3 317.4l21.2-1.5M741 319.7l21.2-1.7M747.7 322l21.2-1.8M754.4 324.4l21.2-2M761.1 326.9l21.2-2.2M767.8 329.4l8.5-1.1 12.7-1.3M774.5 331.9l8.5-1.1 12.7-1.4M781.3 334.5l8.4-1.2 12.7-1.5M788 337.1l8.4-1.3 12.7-1.6M794.7 339.7l8.4-1.3 12.7-1.7M801.4 342.4l8.4-1.4 12.7-1.8M808.1 345.1l8.4-1.5 12.7-1.8M814.8 347.9l8.4-1.6 12.7-2M821.5 350.6l8.4-1.7 12.7-2M828.2 353.4l8.4-1.7 12.7-2.1M834.9 356.2l8.4-1.8 12.7-2.2M841.6 359l8.4-1.9 12.7-2.2M848.3 361.9l8.4-2 12.7-2.3M855 364.7l8.5-2 12.7-2.4M861.7 367.6l8.5-2.1 12.7-2.5M868.4 370.4l8.5-2.1 12.7-2.6M875.1 373.3l8.5-2.2 12.7-2.6M881.8 376.2l8.5-2.3 12.7-2.7M888.5 379.1l8.5-2.3 12.7-2.8M895.2 382l8.5-2.4 12.7-2.9M901.9 384.9l8.5-2.5 12.7-2.9M908.6 387.7l8.5-2.5 12.7-3M915.3 390.6l8.5-2.5 12.7-3.1M922 393.5l8.5-2.6 12.7-3.1M928.7 396.4l8.5-2.7 12.7-3.2M935.4 399.2l8.5-2.7 12.7-3.3M942.1 402.1l8.5-2.8 12.7-3.3M948.8 404.9l8.5-2.8 12.7-3.4M955.5 407.8l8.5-2.9 12.7-3.5M962.2 410.6l8.5-2.9 12.7-3.6M968.9 413.4l8.5-3 12.7-3.6M975.6 416.2l8.5-3 12.7-3.7M982.3 419l8.5-3.1 12.7-3.7M989 421.8l8.5-3.1 12.7-3.8M995.7 424.6l8.5-3.2 12.7-3.8M1002.5 427.4l8.4-3.3 12.7-3.9M1009.2 430.1l8.4-3.3 12.7-3.9M1015.9 432.9l8.4-3.3 12.7-4M1022.6 435.7l8.4-3.4 4.3-1.5 8.4-2.6M1029.3 438.5l8.4-3.5 4.3-1.5 8.4-2.6M1036 441.2l8.4-3.4 4.3-1.6 8.4-2.6M1042.7 444l8.4-3.5 4.3-1.6 8.4-2.7M1049.4 446.9l8.4-3.6 4.3-1.6 8.4-2.8M1056.1 449.7l8.4-3.7 4.3-1.6 8.4-2.8M1062.8 452.5l8.4-3.7 4.3-1.6 8.4-2.8M1069.5 455.4l8.4-3.7 4.3-1.7 8.4-2.9M1076.2 458.4l8.5-3.9 4.2-1.6 8.5-3"/><path fill="#000" d="M405.9 279.6l20.1-1.3 20.1-1 20.1-.7 20.1-.3 20.1 .2 13.4 .3 20.1 1 13.5 .9 20.1 1.9 13.4 1.6 20.1 2.9 13.4 2.3 13.4 2.5 13.4 2.9 13.4 3 20.1 5.2 26.8 7.7 26.8 8.7 26.8 9.5 33.6 12.8 20.1 8.2 26.8 11.1 107.2 45.9 93.9 39.1 33.5 14.4 0 0-8.5 4.5-4.2 2.5-8.5 5.7 0 0-26.8-12.2-100.5-44.3-120.7-55.2-26.8-11.9-20.1-8.7-33.5-13.7-26.8-10.1-26.9-9.3-13.4-4.2-13.4-4-20.1-5.5-13.4-3.3-20.1-4.5-13.4-2.5-13.4-2.3-13.4-2-13.4-1.7-20.1-2-13.4-1-20.1-1-13.4-.3-20.1 0-13.5 .2-20.1 .8-13.4 .8-20.1 1.5 0 0 12.7 3.3 8.5 1.6z"/><path d="M384.7 274.7l20.1-1.5 13.4-.8 20.1-.8 13.5-.2 20.1 0 13.4 .3 20.1 1 13.4 1 20.1 2 13.4 1.7 13.4 2 13.4 2.3 13.4 2.5 20.1 4.5 13.4 3.3 20.1 5.5 13.4 4 13.4 4.2 26.9 9.3 26.8 10.1 33.5 13.7 20.1 8.7 26.8 11.9 120.7 55.2 100.5 44.3 26.8 12.2M389 275.9l20.1-1.5 20.1-1.1 20.1-.6 13.4-.2 20.1 .1 13.4 .4 20.1 1.1 13.4 1.1 20.1 2.1 13.4 1.7 13.4 2.1 13.4 2.3 13.4 2.6 20.2 4.5 13.4 3.3 20.1 5.5 13.4 4 13.4 4.3 26.8 9.3 26.8 10.1 33.5 13.6 20.1 8.6 26.8 11.8 87.2 39.3 33.5 15 87.1 37.9 33.6 14.9M393.2 277l20.1-1.4 20.1-1.1 20.1-.7 13.4-.2 20.1 .1 13.4 .3 20.1 1 13.4 1 20.2 2 13.4 1.7 13.4 1.9 13.4 2.2 13.4 2.6 20.1 4.3 13.4 3.2 20.1 5.4 13.4 3.9 13.4 4.1 26.8 9 26.8 9.9 33.6 13.4 40.2 17.1 120.6 53.5 93.9 40.4 33.5 14.8M397.4 278l20.1-1.4 20.1-1.1 20.1-.7 13.5-.2 20.1 .1 13.4 .3 20.1 .9 13.4 .9 20.1 1.9 13.4 1.6 20.1 2.9 13.4 2.3 13.4 2.5 13.4 2.9 13.4 3.1 20.1 5.2 13.4 3.8 13.5 4.1 26.8 8.8 26.8 9.7 33.5 13.1 20.1 8.2 26.8 11.5 114 49.9 93.8 39.9 33.5 14.7M401.7 278.8l20.1-1.3 20.1-1 20.1-.7 13.4-.3 20.1 0 13.4 .3 20.1 .9 13.4 .8 20.1 1.8 13.4 1.5 20.1 2.8 13.4 2.2 13.5 2.5 13.4 2.8 13.4 3 20.1 5.1 13.4 3.7 13.4 4 13.4 4.2 20.1 6.7 26.8 9.7 33.5 13 40.2 16.7 114 49.3 93.8 39.6 33.6 14.4M405.9 279.6l20.1-1.3 20.1-1 20.1-.7 20.1-.3 20.1 .2 13.4 .3 20.1 1 13.5 .9 20.1 1.9 13.4 1.6 20.1 2.9 13.4 2.3 13.4 2.5 13.4 2.9 13.4 3 20.1 5.2 26.8 7.7 26.8 8.7 26.8 9.5 33.6 12.8 20.1 8.2 26.8 11.1 107.2 45.9 93.9 39.1 33.5 14.4M384.7 274.7l12.7 3.3 8.5 1.6M391.4 274.1l12.7 3.4 8.5 1.6M398.1 273.6l12.7 3.4 8.5 1.7M404.8 273.2l12.7 3.4 8.5 1.7M411.5 272.8l12.7 3.4 8.5 1.7M418.2 272.4l12.7 3.4 8.5 1.8M424.9 272.1l12.7 3.4 8.5 1.8M431.6 271.8l12.7 3.4 8.5 1.8M438.3 271.6l12.7 3.4 8.5 1.8M445 271.5l12.7 3.3 8.5 1.8M451.8 271.4l12.6 3.3 8.5 1.8M458.5 271.3l12.7 3.3 8.4 1.8M465.2 271.3l12.7 3.3 8.4 1.7M471.9 271.4l12.7 3.2 8.4 1.7M478.6 271.5l12.7 3.2 8.4 1.7M485.3 271.7l12.7 3.1 8.4 1.7M492 272l12.7 3 8.4 1.6M498.7 272.3l12.7 2.9 8.4 1.6M505.4 272.7l12.7 2.8 8.4 1.6M512.1 273.2l12.7 2.7 8.4 1.5M518.8 273.7l12.7 2.6 8.4 1.5M525.5 274.3l12.7 2.5 8.4 1.4M532.2 275l12.7 2.4 8.5 1.3M538.9 275.7l12.7 2.3 8.5 1.3M545.6 276.5l21.2 3.4M552.3 277.4l21.2 3.2M559 278.4l21.2 3M565.7 279.4l21.2 2.8M572.4 280.5l21.2 2.6M579.1 281.7l21.2 2.4M585.8 282.9l21.2 2.2M592.5 284.2l21.2 2M599.2 285.6l21.2 1.8M605.9 287.1l21.2 1.5M612.6 288.7l21.2 1.2M619.3 290.3l21.2 1M626 292l21.2 .8M632.7 293.7l21.2 .6M639.4 295.6l21.2 .2M646.1 297.5l21.2 0M652.8 299.4l21.2-.2M659.5 301.5l21.2-.5M666.2 303.6l21.2-.8M672.9 305.7l21.2-1M679.7 307.9l8.4-.6 12.7-.6M686.4 310.2l8.4-.7 12.7-.8M693.1 312.6l8.4-.9 12.7-.9M699.8 315l8.4-1 12.7-1.1M706.5 317.4l8.4-1.1 12.7-1.2M713.2 319.9l8.4-1.2 12.7-1.3M719.9 322.5l8.4-1.3 12.7-1.5M726.6 325.1l8.4-1.4 12.7-1.7M733.3 327.8l8.4-1.6 12.7-1.8M740 330.5l8.4-1.7 12.7-1.9M746.7 333.2l8.4-1.8 12.7-2M753.4 336l8.5-1.9 12.6-2.2M760.1 338.8l8.5-2 12.7-2.3M766.8 341.7l8.5-2.1 12.7-2.5M773.5 344.6l8.5-2.3 12.7-2.6M780.2 347.5l8.5-2.3 12.7-2.8M786.9 350.4l8.5-2.4 12.7-2.9M793.6 353.4l8.5-2.5 12.7-3M800.3 356.4l8.5-2.6 12.7-3.2M807 359.4l8.5-2.7 12.7-3.3M813.7 362.4l8.5-2.8 12.7-3.4M820.4 365.5l8.5-3 12.7-3.5M827.1 368.5l8.5-3 12.7-3.6M833.8 371.6l8.5-3.1 12.7-3.8M840.5 374.7l8.5-3.2 12.7-3.9M847.2 377.8l8.5-3.3 12.7-4.1M853.9 380.9l8.5-3.4 12.7-4.2M860.6 384l8.5-3.6 12.7-4.2M867.3 387l8.5-3.6 4.2-1.5 8.5-2.8M874 390.1l8.5-3.7 4.2-1.6 8.5-2.8M880.7 393.2l8.5-3.8 4.2-1.6 8.5-2.9M887.4 396.3l8.5-3.9 4.2-1.7 8.5-3M894.1 399.4l8.5-4 4.2-1.7 8.5-3.1M900.9 402.4l8.4-4 4.3-1.8 8.4-3.1M907.6 405.5l8.4-4.1 4.3-1.8 8.4-3.2M914.3 408.5l8.4-4.2 4.3-1.8 8.4-3.3M921 411.5l8.4-4.2 4.3-1.9 8.4-3.3M927.7 414.6l8.4-4.4 4.3-1.9 8.4-3.4M934.4 417.6l8.4-4.4 4.3-2 8.4-3.4M941.1 420.6l8.4-4.5 4.3-2 8.4-3.5M947.8 423.5l8.4-4.5 4.3-2 8.4-3.6M954.5 426.5l8.4-4.6 4.3-2.1 8.4-3.6M961.2 429.5l8.4-4.7 4.3-2.1 8.4-3.7M967.9 432.4l8.4-4.7 4.3-2.2 8.4-3.7M974.6 435.4l8.5-4.9 4.2-2.1 8.4-3.8M981.3 438.3l8.5-4.9 4.2-2.2 8.5-3.8M988 441.2l8.5-4.9 4.2-2.3 8.5-3.9M994.7 444.2l8.5-5.1 4.2-2.2 8.5-4M1001.4 447.1l8.5-5.1 4.2-2.3 8.5-4M1008.1 450l8.5-5.2 4.2-2.3 8.5-4M1014.8 453l8.5-5.3 4.2-2.3 8.5-4.2M1021.5 455.9l8.5-5.3 4.2-2.4 8.5-4.2M1028.2 458.9l8.5-5.4 4.2-2.4 8.5-4.2M1034.9 461.9l8.5-5.5 4.2-2.4 8.5-4.3M1041.6 464.9l8.5-5.5 4.2-2.5 8.5-4.4M1048.3 468l8.5-5.6 4.2-2.5 8.5-4.5M1055 471.1l8.5-5.7 4.2-2.5 8.5-4.5"/><path fill="#000" d="M384.7 274.7l20.1-1.5 13.4-.8 20.1-.8 13.5-.2 20.1 0 13.4 .3 20.1 1 13.4 1 20.1 2 13.4 1.7 13.4 2 13.4 2.3 13.4 2.5 20.1 4.5 13.4 3.3 20.1 5.5 13.4 4 13.4 4.2 26.9 9.3 26.8 10.1 33.5 13.7 20.1 8.7 26.8 11.9 120.7 55.2 100.5 44.3 26.8 12.2 0 0-8.4 6.5-4.3 3.6-8.4 8 0 0-26.9-13-67-31.4-40.2-19.3-40.2-19.8-87.2-43.6-26.8-13-20.1-9.5-26.8-12.1-26.8-11.4-26.8-10.5-13.4-4.8-13.4-4.6-20.1-6.4-13.4-3.8-20.2-5.2-13.4-3.1-13.4-2.8-13.4-2.4-13.4-2.1-20.1-2.6-13.4-1.3-13.4-1-13.4-.8-20.1-.5-13.4 .1-20.1 .5-13.4 .7-20.1 1.5 0 0 12.7 4.9 8.4 2.8z"/><path d="M363.6 267l20.1-1.5 13.4-.7 20.1-.5 13.4-.1 20.1 .5 13.4 .8 13.4 1 13.4 1.3 20.1 2.6 13.4 2.1 13.4 2.4 13.4 2.8 13.4 3.1 20.2 5.2 13.4 3.8 20.1 6.4 13.4 4.6 13.4 4.8 26.8 10.5 26.8 11.4 26.8 12.1 20.1 9.5 26.8 13 87.2 43.6 40.2 19.8 40.2 19.3 67 31.4 26.9 13M367.8 268.8l20.1-1.6 13.4-.7 20.1-.6 13.4-.1 20.1 .4 13.4 .6 13.4 .9 13.4 1.2 20.2 2.4 13.4 2 13.4 2.3 13.4 2.6 13.4 3 20.1 4.9 13.4 3.7 20.1 6.1 13.4 4.5 13.4 4.7 26.8 10.1 26.8 11.1 26.8 11.8 20.2 9.2 26.8 12.8 93.8 46 40.2 19.4 33.5 15.8 67.1 31 26.8 12.8M372 270.4l20.1-1.5 13.4-.8 20.1-.7 13.5-.1 20.1 .3 13.4 .5 20.1 1.3 13.4 1.3 20.1 2.4 13.4 2.1 13.4 2.3 13.4 2.6 13.4 3 20.1 5 13.4 3.7 20.1 6.1 13.4 4.4 13.4 4.6 26.9 10.1 26.8 11 26.8 11.6 20.1 9.2 26.8 12.6 87.1 42 40.3 19.1 33.5 15.5 67 30.6 26.8 12.6M376.3 271.9l20.1-1.5 13.4-.8 20.1-.7 13.4-.2 20.1 .2 13.4 .5 20.1 1.2 13.4 1.1 20.1 2.3 13.4 1.9 13.4 2.2 13.4 2.5 13.4 2.9 20.2 4.7 13.4 3.6 20.1 5.9 13.4 4.2 13.4 4.6 26.8 9.8 26.8 10.6 33.5 14.4 20.1 9 26.8 12.4 80.5 38.1 40.2 18.8 33.5 15.3 67 30.2 26.9 12.5M380.5 273.4l20.1-1.6 13.4-.7 20.1-.8 13.4-.2 20.1 .1 13.4 .4 20.1 1.1 13.4 1 20.2 2.2 13.4 1.8 13.4 2.1 13.4 2.4 13.4 2.6 20.1 4.6 13.4 3.5 20.1 5.6 13.4 4.2 13.4 4.4 26.8 9.5 26.8 10.4 33.6 14 20.1 8.8 26.8 12.2 87.1 40.6 33.5 15.4 33.5 15.1 67.1 29.8 26.8 12.3M384.7 274.7l20.1-1.5 13.4-.8 20.1-.8 13.5-.2 20.1 0 13.4 .3 20.1 1 13.4 1 20.1 2 13.4 1.7 13.4 2 13.4 2.3 13.4 2.5 20.1 4.5 13.4 3.3 20.1 5.5 13.4 4 13.4 4.2 26.9 9.3 26.8 10.1 33.5 13.7 20.1 8.7 26.8 11.9 120.7 55.2 100.5 44.3 26.8 12.2M363.6 267l12.7 4.9 8.4 2.8M370.3 266.4l12.7 5 8.4 2.7M377 265.9l12.7 5 8.4 2.7M383.7 265.5l12.7 4.9 8.4 2.8M390.4 265.1l12.7 4.9 8.4 2.8M397.1 264.8l12.7 4.8 8.4 2.8M403.8 264.6l12.7 4.7 8.4 2.8M410.5 264.4l12.7 4.7 8.4 2.7M417.2 264.3l12.7 4.6 8.4 2.7M423.9 264.2l12.7 4.6 8.4 2.7M430.6 264.2l12.7 4.5 8.5 2.7M437.3 264.3l12.7 4.4 8.5 2.6M444 264.5l12.7 4.3 8.5 2.5M450.7 264.7l12.7 4.2 8.5 2.5M457.4 265.1l12.7 4 8.5 2.4M464.1 265.5l12.7 3.9 8.5 2.3M470.8 265.9l12.7 3.8 8.5 2.3M477.5 266.5l21.2 5.8M484.2 267.1l21.2 5.6M490.9 267.8l21.2 5.4M497.6 268.6l21.2 5.1M504.3 269.4l21.2 4.9M511 270.4l21.2 4.6M517.7 271.4l21.2 4.3M524.4 272.5l21.2 4M531.1 273.7l21.2 3.7M537.8 274.9l21.2 3.5M544.5 276.3l21.2 3.1M551.2 277.7l21.2 2.8M557.9 279.2l21.2 2.5M564.6 280.8l21.2 2.1M571.3 282.4l21.2 1.8M578.1 284.2l21.1 1.4M584.8 286l21.1 1.1M591.5 287.9l21.1 .8M598.2 289.8l8.4 .1 12.7 .4M604.9 291.9l8.4-.1 12.7 .2M611.6 294l8.4-.3 12.7 0M618.3 296.2l8.4-.4 12.7-.2M625 298.4l8.4-.5 12.7-.4M631.7 300.8l8.4-.8 12.7-.6M638.4 303.2l8.4-.9 12.7-.8M645.1 305.6l8.4-1 12.7-1M651.8 308.2l8.4-1.3 12.7-1.2M658.5 310.7l8.5-1.3 12.7-1.5M665.2 313.4l8.5-1.5 12.7-1.7M671.9 316.1l8.5-1.7 12.7-1.8M678.6 318.9l8.5-1.9 12.7-2M685.3 321.7l8.5-2 12.7-2.3M692 324.6l8.5-2.2 12.7-2.5M698.7 327.5l8.5-2.3 12.7-2.7M705.4 330.4l8.5-2.4 12.7-2.9M712.1 333.4l8.5-2.6 12.7-3M718.8 336.5l8.5-2.8 12.7-3.2M725.5 339.6l8.5-2.9 12.7-3.5M732.2 342.7l8.5-3.1 12.7-3.6M738.9 345.9l8.5-3.2 12.7-3.9M745.6 349.1l8.5-3.4 4.2-1.5 8.5-2.5M752.3 352.3l8.5-3.5 4.2-1.6 8.5-2.6M759 355.6l8.5-3.7 4.2-1.6 8.5-2.8M765.7 358.8l8.5-3.8 4.2-1.6 8.5-3M772.4 362.1l8.5-3.9 4.2-1.8 8.5-3M779.1 365.4l8.5-4 4.2-1.8 8.5-3.2M785.8 368.8l8.5-4.3 4.2-1.8 8.5-3.3M792.5 372.1l8.5-4.3 4.2-2 8.5-3.4M799.2 375.5l8.5-4.5 4.2-2 8.5-3.5M806 378.8l8.4-4.6 4.3-2 8.4-3.7M812.7 382.2l8.4-4.8 4.3-2.1 8.4-3.7M819.4 385.6l8.4-4.9 4.3-2.2 8.4-3.8M826.1 388.9l8.4-5 4.3-2.2 8.4-3.9M832.8 392.3l8.4-5.1 4.3-2.3 8.4-4M839.5 395.7l8.4-5.3 4.3-2.3 8.4-4.1M846.2 399l8.4-5.3 4.3-2.4 8.4-4.3M852.9 402.4l8.4-5.5 4.3-2.4 8.4-4.4M859.6 405.7l8.4-5.6 4.3-2.4 8.4-4.5M866.3 409.1l8.4-5.7 4.3-2.6 8.4-4.5M873 412.4l8.4-5.8 4.3-2.6 8.4-4.6M879.7 415.7l8.5-5.9 4.2-2.7 8.5-4.7M886.4 419l8.5-6 4.2-2.7 8.5-4.8M893.1 422.3l8.5-6.2 4.2-2.7 8.5-4.9M899.8 425.5l8.5-6.2 4.2-2.8 8.5-5M906.5 428.8l8.5-6.3 4.2-2.9 8.5-5M913.2 432l8.5-6.4 4.2-2.9 8.5-5.1M919.9 435.2l8.5-6.5 4.2-2.9 8.5-5.2M926.6 438.4l8.5-6.6 4.2-2.9 8.5-5.4M933.3 441.6l8.5-6.7 4.2-3 8.5-5.4M940 444.8l8.5-6.8 4.2-3.1 8.5-5.4M946.7 447.9l8.5-6.8 4.2-3.1 8.5-5.6M953.4 451.1l8.5-7 4.2-3.1 8.5-5.6M960.1 454.2l8.5-7 4.2-3.2 8.5-5.7M966.8 457.4l8.5-7.2 4.2-3.2 8.5-5.8M973.5 460.5l8.5-7.2 4.2-3.3 8.5-5.8M980.2 463.6l8.5-7.3 4.2-3.3 8.5-5.9M986.9 466.7l8.5-7.3 4.2-3.4 8.5-6M993.6 469.9l8.5-7.5 4.2-3.3 8.5-6.1M1000.3 473l8.5-7.5 4.2-3.4 8.5-6.2M1007 476.2l8.5-7.6 4.2-3.5 8.5-6.2M1013.7 479.4l8.5-7.7 4.2-3.5 8.5-6.3M1020.4 482.6l8.5-7.8 4.2-3.5 8.5-6.4M1027.2 485.9l8.4-7.9 4.3-3.6 8.4-6.4M1033.9 489.2l8.4-8 4.3-3.6 8.4-6.5"/><path fill="#000" d="M363.6 267l20.1-1.5 13.4-.7 20.1-.5 13.4-.1 20.1 .5 13.4 .8 13.4 1 13.4 1.3 20.1 2.6 13.4 2.1 13.4 2.4 13.4 2.8 13.4 3.1 20.2 5.2 13.4 3.8 20.1 6.4 13.4 4.6 13.4 4.8 26.8 10.5 26.8 11.4 26.8 12.1 20.1 9.5 26.8 13 87.2 43.6 40.2 19.8 40.2 19.3 67 31.4 26.9 13 0 0-8.5 8.9-4.2 4.9-8.5 10.6 0 0-26.8-13.9-73.8-37.1-40.2-21-46.9-25.4-93.8-52.1-26.8-14.4-20.2-10.5-26.8-13.5-26.8-12.6-13.4-5.9-13.4-5.7-20.1-8-20.1-7.3-13.4-4.5-13.4-4.1-13.4-3.8-20.1-5.1-13.4-2.9-13.4-2.6-13.5-2.2-13.4-1.8-13.4-1.5-13.4-1.2-20.1-1-13.4-.3-13.4 .1-13.4 .4-20.1 1.2 0 0 12.7 6.3 8.5 3.8z"/><path d="M342.4 256.9l20.1-1.2 13.4-.4 13.4-.1 13.4 .3 20.1 1 13.4 1.2 13.4 1.5 13.4 1.8 13.5 2.2 13.4 2.6 13.4 2.9 20.1 5.1 13.4 3.8 13.4 4.1 13.4 4.5 20.1 7.3 20.1 8 13.4 5.7 13.4 5.9 26.8 12.6 26.8 13.5 20.2 10.5 26.8 14.4 93.8 52.1 46.9 25.4 40.2 21 73.8 37.1 26.8 13.9M346.6 259.1l20.1-1.3 13.4-.5 20.1-.1 13.5 .3 20.1 1.1 13.4 1.2 13.4 1.5 13.4 1.9 13.4 2.2 13.4 2.6 13.4 2.9 20.1 5.1 13.4 3.7 13.4 4.1 13.4 4.5 20.1 7.2 20.1 7.9 26.9 11.4 26.8 12.5 26.8 13.2 20.1 10.3 26.8 14.2 87.1 47.3 47 25 40.2 20.6 73.7 36.6 26.8 13.7M350.9 261.2l20.1-1.4 13.4-.5 20.1-.3 13.4 .3 20.1 .9 13.4 1 13.4 1.4 13.4 1.7 13.4 2.1 13.4 2.4 13.4 2.8 20.1 4.7 13.4 3.6 13.5 3.9 13.4 4.2 20.1 7 20.1 7.6 26.8 11 26.8 12 26.8 12.9 20.1 10 26.8 13.8 93.9 49.9 46.9 24.4 33.5 16.8 73.7 36.1 26.9 13.5M355.1 263.2l20.1-1.4 13.4-.6 20.1-.4 13.4 .2 20.1 .7 13.4 1 13.4 1.2 13.4 1.6 13.5 1.9 13.4 2.3 13.4 2.5 20.1 4.5 13.4 3.4 13.4 3.8 13.4 4 20.1 6.7 13.4 4.8 13.4 5 26.8 11 26.8 11.8 26.8 12.7 20.2 9.8 26.8 13.6 93.8 48.9 40.2 20.4 33.5 16.6 73.8 35.6 26.8 13.3M359.3 265.2l20.1-1.5 13.4-.7 20.1-.4 13.5 0 20.1 .7 13.4 .8 13.4 1.1 13.4 1.4 20.1 2.8 13.4 2.3 13.4 2.6 13.4 2.9 13.4 3.2 20.1 5.5 13.4 4 20.1 6.6 13.4 4.8 13.4 5 26.9 10.8 26.8 11.7 26.8 12.5 20.1 9.7 26.8 13.4 87.1 44.4 40.3 20.2 40.2 19.5 67 31.9 26.8 13.1M363.6 267l20.1-1.5 13.4-.7 20.1-.5 13.4-.1 20.1 .5 13.4 .8 13.4 1 13.4 1.3 20.1 2.6 13.4 2.1 13.4 2.4 13.4 2.8 13.4 3.1 20.2 5.2 13.4 3.8 20.1 6.4 13.4 4.6 13.4 4.8 26.8 10.5 26.8 11.4 26.8 12.1 20.1 9.5 26.8 13 87.2 43.6 40.2 19.8 40.2 19.3 67 31.4 26.9 13M342.4 256.9l12.7 6.3 8.5 3.8M349.1 256.4l12.7 6.3 8.5 3.7M355.8 256l12.7 6.2 8.5 3.7M362.5 255.7l12.7 6.1 8.5 3.7M369.2 255.5l12.7 6 8.5 3.6M375.9 255.3l12.7 5.9 8.5 3.6M382.6 255.2l12.7 5.8 8.5 3.6M389.3 255.2l12.7 5.7 8.5 3.5M396 255.3l12.7 5.5 8.5 3.5M402.7 255.5l12.7 5.4 8.5 3.3M409.4 255.7l21.2 8.5M416.1 256.1l21.2 8.2M422.8 256.5l21.2 8M429.5 257.1l21.2 7.6M436.2 257.7l21.2 7.4M442.9 258.4l21.2 7.1M449.6 259.2l21.2 6.7M456.3 260.1l21.2 6.4M463 261l21.2 6.1M469.7 262.1l21.2 5.7M476.5 263.2l21.1 5.4M483.2 264.5l21.1 4.9M489.9 265.8l21.1 4.6M496.6 267.2l21.1 4.2M503.3 268.7l21.1 3.8M510 270.3l21.1 3.4M516.7 272l8.4 1.1 12.7 1.8M523.4 273.8l8.4 .8 12.7 1.7M530.1 275.7l8.4 .6 12.7 1.4M536.8 277.6l8.4 .5 12.7 1.1M543.5 279.6l8.4 .3 12.7 .9M550.2 281.7l8.4 .1 12.7 .6M556.9 283.9l8.5-.1 12.7 .4M563.6 286.2l8.5-.3 12.7 .1M570.3 288.6l8.5-.6 12.7-.1M577 291l8.5-.7 12.7-.5M583.7 293.5l8.5-.9 12.7-.7M590.4 296.1l8.5-1.1 12.7-1M597.1 298.8l8.5-1.4 12.7-1.2M603.8 301.5l8.5-1.5 12.7-1.6M610.5 304.3l8.5-1.7 12.7-1.8M617.2 307.2l8.5-2 12.7-2M623.9 310.1l8.5-2.1 12.7-2.4M630.6 313.1l8.5-2.3 12.7-2.6M637.3 316.2l8.5-2.6 12.7-2.9M644 319.3l8.5-2.8 4.2-1.1 8.5-2M650.7 322.5l8.5-3 4.2-1.2 8.5-2.2M657.4 325.7l8.5-3.1 4.2-1.4 8.5-2.3M664.1 329l8.5-3.4 4.2-1.4 8.5-2.5M670.8 332.4l8.5-3.6 4.2-1.6 8.5-2.6M677.5 335.7l8.5-3.7 4.2-1.7 8.5-2.8M684.2 339.2l8.5-4 4.2-1.7 8.5-3.1M690.9 342.6l8.5-4.1 4.2-1.9 8.5-3.2M697.6 346.1l8.5-4.3 4.2-1.9 8.5-3.4M704.4 349.7l8.4-4.6 4.3-2 8.4-3.5M711.1 353.3l8.4-4.8 4.3-2.1 8.4-3.7M717.8 356.9l8.4-5 4.3-2.2 8.4-3.8M724.5 360.5l8.4-5.1 4.3-2.3 8.4-4M731.2 364.1l8.4-5.3 4.3-2.3 8.4-4.2M737.9 367.8l8.4-5.5 4.3-2.4 8.4-4.3M744.6 371.5l8.4-5.6 4.3-2.6 8.4-4.5M751.3 375.2l8.4-5.8 4.3-2.6 8.4-4.7M758 378.9l8.4-6 4.3-2.7 8.4-4.8M764.7 382.7l8.4-6.2 4.3-2.8 8.4-4.9M771.4 386.4l8.4-6.3 4.3-2.9 8.4-5.1M778.1 390.1l8.5-6.5 4.2-2.9 8.4-5.2M784.8 393.9l8.5-6.7 4.2-3 8.5-5.4M791.5 397.6l8.5-6.8 4.2-3.1 8.5-5.5M798.2 401.4l8.5-7 4.2-3.2 8.5-5.6M804.9 405.1l8.5-7.1 4.2-3.3 8.5-5.8M811.6 408.8l8.5-7.3 4.2-3.3 8.5-5.9M818.3 412.5l8.5-7.4 4.2-3.4 8.5-6M825 416.2l8.5-7.6 4.2-3.4 8.5-6.2M831.7 419.9l8.5-7.7 4.2-3.5 8.5-6.3M838.4 423.6l8.5-7.9 4.2-3.5 8.5-6.5M845.1 427.2l8.5-8 4.2-3.6 8.5-6.5M851.8 430.9l8.5-8.2 4.2-3.6 8.5-6.7M858.5 434.5l8.5-8.3 4.2-3.7 8.5-6.8M865.2 438.1l8.5-8.4 4.2-3.8 8.5-6.9M871.9 441.6l8.5-8.5 4.2-3.8 8.5-7M878.6 445.2l8.5-8.6 4.2-4 8.5-7.1M885.3 448.7l8.5-8.7 4.2-4 8.5-7.2M892 452.2l8.5-8.8 4.2-4.1 8.5-7.3M898.7 455.7l8.5-9 4.2-4 8.5-7.5M905.4 459.2l8.5-9.1 4.2-4.1 8.5-7.6M912.1 462.6l8.5-9.2 4.2-4.2 8.5-7.6M918.8 466l8.5-9.3 4.2-4.2 8.5-7.7M925.6 469.4l8.4-9.3 4.2-4.3 8.5-7.9M932.3 472.8l8.4-9.5 4.3-4.3 8.4-7.9M939 476.2l8.4-9.6 4.3-4.4 8.4-8M945.7 479.6l8.4-9.7 4.3-4.4 8.4-8.1M952.4 482.9l8.4-9.7 4.3-4.5 8.4-8.2M959.1 486.3l8.4-9.9 4.3-4.5 8.4-8.3M965.8 489.6l8.4-9.9 4.3-4.6 8.4-8.4M972.5 493l8.4-10.1 4.3-4.6 8.4-8.4M979.2 496.4l8.4-10.2 4.3-4.6 8.4-8.6M985.9 499.7l8.4-10.2 4.3-4.7 8.4-8.6M992.6 503.2l8.4-10.3 4.3-4.8 8.4-8.7M999.3 506.6l8.4-10.4 4.3-4.8 8.4-8.8M1006 510.1l8.5-10.5 4.2-4.8 8.5-8.9M1012.7 513.6l8.5-10.6 4.2-4.9 8.5-8.9"/><path fill="#000" d="M342.4 256.9l20.1-1.2 13.4-.4 13.4-.1 13.4 .3 20.1 1 13.4 1.2 13.4 1.5 13.4 1.8 13.5 2.2 13.4 2.6 13.4 2.9 20.1 5.1 13.4 3.8 13.4 4.1 13.4 4.5 20.1 7.3 20.1 8 13.4 5.7 13.4 5.9 26.8 12.6 26.8 13.5 20.2 10.5 26.8 14.4 93.8 52.1 46.9 25.4 40.2 21 73.8 37.1 26.8 13.9 0 0-8.5 11.6-4.2 6.3-8.5 13.3 0 0-20.1-11-73.7-39.7-26.8-15-26.8-15.4-26.9-15.9-26.8-16.3-107.2-66.8-26.8-16.2-20.1-11.7-26.8-15-20.2-10.6-20.1-10-20.1-9.3-20.1-8.6-13.4-5.3-13.4-5-13.4-4.6-13.4-4.2-13.4-3.8-13.4-3.4-13.4-3-20.1-3.7-13.4-2-13.4-1.6-13.5-1.1-13.4-.8-13.4-.3-13.4 .1-13.4 .5 0 0 12.7 7.3 8.5 4.5z"/><path d="M321.2 245.1l13.4-.5 13.4-.1 13.4 .3 13.4 .8 13.5 1.1 13.4 1.6 13.4 2 20.1 3.7 13.4 3 13.4 3.4 13.4 3.8 13.4 4.2 13.4 4.6 13.4 5 13.4 5.3 20.1 8.6 20.1 9.3 20.1 10 20.2 10.6 26.8 15 20.1 11.7 26.8 16.2 107.2 66.8 26.8 16.3 26.9 15.9 26.8 15.4 26.8 15 73.7 39.7 20.1 11M325.5 247.6l13.4-.6 13.4-.2 13.4 .1 13.4 .6 13.4 1 13.4 1.4 13.4 1.8 20.1 3.4 13.4 2.8 13.4 3.2 13.4 3.6 13.4 3.9 13.4 4.4 13.4 4.7 13.5 5 20.1 8.3 20.1 8.9 13.4 6.3 13.4 6.7 20.1 10.4 26.8 14.6 20.1 11.5 26.8 15.8 100.6 61.2 26.8 16 26.8 15.6 26.8 15.2 26.8 14.7 73.7 39.2 20.2 10.9M329.7 250l20.1-.9 13.4-.1 13.4 .2 13.4 .7 13.4 1 13.4 1.4 13.4 1.8 13.4 2.2 13.4 2.6 13.5 3 13.4 3.3 20.1 5.8 13.4 4.2 13.4 4.7 13.4 5 20.1 8.1 20.1 8.8 13.4 6.2 13.4 6.5 20.1 10.2 26.8 14.4 20.1 11.2 26.9 15.5 100.5 59.8 26.8 15.6 20.1 11.4 20.1 11.2 26.8 14.6 80.5 42.3 20.1 10.8M333.9 252.4l20.1-1.1 13.4-.2 13.4 .1 13.5 .5 13.4 .9 13.4 1.3 13.4 1.6 13.4 2 13.4 2.4 13.4 2.8 13.4 3.1 20.1 5.4 13.4 4.1 13.4 4.4 13.4 4.7 20.1 7.8 20.1 8.4 13.4 6 13.5 6.3 20.1 9.8 26.8 14 20.1 10.9 26.8 15 107.2 62.2 47 26.4 20.1 10.9 26.8 14.3 67 34.7 26.8 14.1M338.2 254.7l20.1-1.2 13.4-.3 13.4 0 13.4 .4 20.1 1.3 13.4 1.3 13.4 1.6 13.4 2 13.4 2.4 13.4 2.8 13.4 3.1 20.1 5.4 13.4 4 13.5 4.3 13.4 4.7 20.1 7.7 20.1 8.3 13.4 5.9 13.4 6.1 20.1 9.7 26.8 13.7 20.1 10.7 26.8 14.8 100.6 57 46.9 25.9 40.2 21.3 73.7 37.7 26.9 14M342.4 256.9l20.1-1.2 13.4-.4 13.4-.1 13.4 .3 20.1 1 13.4 1.2 13.4 1.5 13.4 1.8 13.5 2.2 13.4 2.6 13.4 2.9 20.1 5.1 13.4 3.8 13.4 4.1 13.4 4.5 20.1 7.3 20.1 8 13.4 5.7 13.4 5.9 26.8 12.6 26.8 13.5 20.2 10.5 26.8 14.4 93.8 52.1 46.9 25.4 40.2 21 73.8 37.1 26.8 13.9M321.2 245.1l12.7 7.3 8.5 4.5M327.9 244.8l12.7 7.1 8.5 4.5M334.6 244.6l21.2 11.4M341.3 244.5l21.2 11.2M348 244.5l21.2 11M354.7 244.6l21.2 10.7M361.4 244.8l21.2 10.4M368.1 245.1l21.2 10.1M374.8 245.6l21.2 9.7M381.6 246.1l21.1 9.4M388.3 246.7l21.1 9M395 247.4l21.1 8.7M401.7 248.3l21.1 8.2M408.4 249.2l21.1 7.9M415.1 250.3l21.1 7.4M421.8 251.4l21.1 7M428.5 252.7l21.1 6.5M435.2 254l21.1 6.1M441.9 255.5l8.4 2.1 12.7 3.4M448.6 257l8.4 1.9 12.7 3.2M455.3 258.7l8.5 1.6 12.7 2.9M462 260.4l8.5 1.5 12.7 2.6M468.7 262.3l8.5 1.2 12.7 2.3M475.4 264.2l8.5 1 12.7 2M482.1 266.3l8.5 .7 12.7 1.7M488.8 268.4l8.5 .6 12.7 1.3M495.5 270.7l8.5 .3 12.7 1M502.2 273l8.5 .1 12.7 .7M508.9 275.4l8.5-.2 12.7 .5M515.6 278l8.5-.5 12.7 .1M522.3 280.6l8.5-.7 12.7-.3M529 283.3l8.5-1 12.7-.6M535.7 286.1l8.5-1.2 12.7-1M542.4 288.9l8.5-1.4 12.7-1.3M549.1 291.9l8.5-1.7 12.7-1.6M555.8 294.9l8.5-1.9 4.2-.8 8.5-1.2M562.5 298l8.5-2.2 4.2-.9 8.5-1.4M569.2 301.2l8.5-2.5 4.2-1 8.5-1.6M575.9 304.5l8.5-2.7 4.2-1.2 8.5-1.8M582.6 307.8l8.5-3 4.2-1.2 8.5-2.1M589.3 311.2l8.5-3.2 4.2-1.4 8.5-2.3M596 314.7l8.5-3.5 4.2-1.5 8.5-2.5M602.8 318.2l8.4-3.7 4.3-1.6 8.4-2.8M609.5 321.8l8.4-4 4.3-1.7 8.4-3M616.2 325.5l8.4-4.3 4.3-1.8 8.4-3.2M622.9 329.2l8.4-4.5 4.3-2 8.4-3.4M629.6 333l8.4-4.8 4.3-2.1 8.4-3.6M636.3 336.8l8.4-5 4.3-2.2 8.4-3.9M643 340.7l8.4-5.3 4.3-2.3 8.4-4.1M649.7 344.6l8.4-5.5 4.3-2.4 8.4-4.3M656.4 348.5l8.4-5.7 4.3-2.5 8.4-4.6M663.1 352.5l8.4-5.9 4.3-2.7 8.4-4.7M669.8 356.5l8.4-6.2 4.3-2.7 8.4-5M676.5 360.6l8.5-6.4 4.2-2.9 8.4-5.2M683.2 364.7l8.5-6.7 4.2-3 8.5-5.3M689.9 368.8l8.5-6.9 4.2-3.1 8.5-5.5M696.6 372.9l8.5-7.1 4.2-3.2 8.5-5.7M703.3 377.1l8.5-7.3 4.2-3.4 8.5-5.9M710 381.3l8.5-7.6 4.2-3.4 8.5-6.2M716.7 385.4l8.5-7.7 4.2-3.5 8.5-6.4M723.4 389.6l8.5-7.9 4.2-3.6 8.5-6.6M730.1 393.8l8.5-8.1 4.2-3.8 8.5-6.7M736.8 398l8.5-8.3 4.2-3.8 8.5-7M743.5 402.3l8.5-8.6 4.2-3.9 8.5-7.1M750.2 406.5l8.5-8.8 4.2-4 8.5-7.3M756.9 410.7l8.5-9 4.2-4.1 8.5-7.5M763.6 414.9l8.5-9.2 4.2-4.2 8.5-7.6M770.3 419l8.5-9.3 4.2-4.3 8.5-7.8M777 423.2l8.5-9.5 4.2-4.4 8.5-7.9M783.7 427.4l8.5-9.7 4.2-4.5 8.5-8.1M790.4 431.5l8.5-9.9 4.2-4.5 8.5-8.3M797.1 435.6l8.5-10 4.2-4.6 8.5-8.5M803.8 439.7l8.5-10.2 4.2-4.7 8.5-8.6M810.5 443.8l8.5-10.4 4.2-4.8 8.5-8.7M817.2 447.8l8.5-10.5 4.2-4.8 8.5-8.9M824 451.8l8.4-10.6 4.2-4.9 8.5-9.1M830.7 455.8l8.4-10.8 4.3-5 8.4-9.1M837.4 459.8l8.4-11 4.3-5 8.4-9.3M844.1 463.7l8.4-11.1 4.3-5.1 8.4-9.4M850.8 467.6l8.4-11.2 4.3-5.2 8.4-9.6M857.5 471.5l8.4-11.4 4.3-5.2 8.4-9.7M864.2 475.3l8.4-11.5 4.3-5.3 8.4-9.8M870.9 479.1l8.4-11.6 4.3-5.4 8.4-9.9M877.6 482.9l8.4-11.7 4.3-5.5 8.4-10M884.3 486.7l8.4-11.9 4.3-5.5 8.4-10.1M891 490.4l8.4-12 4.3-5.5 8.4-10.3M897.7 494.1l8.4-12.1 4.3-5.6 8.4-10.4M904.4 497.7l8.5-12.1 4.2-5.7 8.5-10.5M911.1 501.4l8.5-12.3 4.2-5.7 8.5-10.6M917.8 505l8.5-12.4 4.2-5.7 8.5-10.7M924.5 508.6l8.5-12.5 4.2-5.8 8.5-10.7M931.2 512.2l8.5-12.6 4.2-5.8 8.5-10.9M937.9 515.8l8.5-12.7 4.2-5.9 8.5-10.9M944.6 519.4l8.5-12.8 4.2-5.9 8.5-11.1M951.3 523l8.5-12.9 4.2-6 8.5-11.1M958 526.6l8.5-13 4.2-6 8.5-11.2M964.7 530.2l8.5-13.1 4.2-6 8.5-11.4M971.4 533.8l8.5-13.1 4.2-6.1 8.5-11.4M978.1 537.4l8.5-13.2 4.2-6.1 8.5-11.5M984.8 541.1l8.5-13.3 4.2-6.2 8.5-11.5M991.5 544.8l8.5-13.3 4.2-6.3 8.5-11.6"/><path fill="#000" d="M321.2 245.1l13.4-.5 13.4-.1 13.4 .3 13.4 .8 13.5 1.1 13.4 1.6 13.4 2 20.1 3.7 13.4 3 13.4 3.4 13.4 3.8 13.4 4.2 13.4 4.6 13.4 5 13.4 5.3 20.1 8.6 20.1 9.3 20.1 10 20.2 10.6 26.8 15 20.1 11.7 26.8 16.2 107.2 66.8 26.8 16.3 26.9 15.9 26.8 15.4 26.8 15 73.7 39.7 20.1 11 0 0-8.4 14.4-4.3 7.7-8.4 16 0 0-67.1-38-26.8-15.5-26.8-16.1-26.8-16.7-26.8-17.4-33.5-22.6-33.5-23.4-80.5-57-26.8-18.5-20.1-13.5-26.8-17.4-20.1-12.3-13.4-7.9-13.4-7.6-20.1-10.8-13.5-6.8-13.4-6.3-13.4-6-13.4-5.6-13.4-5.1-13.4-4.7-13.4-4.3-13.4-3.8-13.4-3.4-13.4-2.8-13.4-2.4-13.4-1.9-13.4-1.4-13.4-.9-13.4-.3-6.7 0 0 0 21.1 12.6z"/><path d="M300.1 232.5l6.7 0 13.4 .3 13.4 .9 13.4 1.4 13.4 1.9 13.4 2.4 13.4 2.8 13.4 3.4 13.4 3.8 13.4 4.3 13.4 4.7 13.4 5.1 13.4 5.6 13.4 6 13.4 6.3 13.5 6.8 20.1 10.8 13.4 7.6 13.4 7.9 20.1 12.3 26.8 17.4 20.1 13.5 26.8 18.5 80.5 57 33.5 23.4 33.5 22.6 26.8 17.4 26.8 16.7 26.8 16.1 26.8 15.5 67.1 38M304.3 235l13.4 0 13.4 .4 13.4 1 13.4 1.4 13.4 1.9 13.4 2.4 13.4 2.9 13.4 3.3 13.4 3.8 13.5 4.2 13.4 4.7 13.4 5 13.4 5.5 13.4 5.9 13.4 6.2 13.4 6.6 20.1 10.6 13.4 7.4 13.4 7.8 20.1 12.1 26.8 16.9 20.1 13.2 26.9 18.1 73.7 51 33.5 22.8 33.5 22.2 26.8 17.1 26.8 16.5 26.9 15.8 26.8 15.4 67 37.6M308.5 237.6l13.4-.2 13.4 .3 13.4 .8 13.4 1.2 13.5 1.7 13.4 2.2 13.4 2.6 13.4 3.1 13.4 3.5 13.4 4 13.4 4.3 13.4 4.8 13.4 5.2 13.4 5.6 13.4 5.9 20.1 9.6 20.1 10.4 13.4 7.3 13.4 7.6 20.2 11.8 26.8 16.6 20.1 12.9 20.1 13.2 80.4 54.2 33.5 22.2 33.6 21.6 26.8 16.7 26.8 16 26.8 15.5 87.1 48.7M312.8 240.1l13.4-.3 13.4 .2 13.4 .6 13.4 1 13.4 1.6 13.4 1.9 13.4 2.4 13.4 2.8 13.4 3.3 13.4 3.7 13.4 4.1 13.4 4.5 13.4 4.9 13.4 5.3 13.4 5.7 20.2 9.2 20.1 9.9 13.4 7 13.4 7.3 20.1 11.4 26.8 16 20.1 12.5 26.8 17.2 80.5 52.8 26.8 17.4 33.5 21.2 26.8 16.3 26.8 15.8 26.8 15.3 67 36.9 20.2 11.2M317 242.7l13.4-.5 13.4 0 13.4 .5 13.4 .9 13.4 1.3 13.4 1.8 13.4 2.2 20.1 4 13.4 3.3 13.5 3.6 13.4 4.1 13.4 4.4 13.4 4.9 13.4 5.2 13.4 5.6 20.1 9 20.1 9.7 20.1 10.4 20.1 11 20.1 11.6 20.1 11.9 26.9 16.6 26.8 16.9 80.4 51.5 26.8 16.8 26.8 16.3 26.8 15.8 26.8 15.3 26.9 14.8 53.6 29.1 20.1 11.2M321.2 245.1l13.4-.5 13.4-.1 13.4 .3 13.4 .8 13.5 1.1 13.4 1.6 13.4 2 20.1 3.7 13.4 3 13.4 3.4 13.4 3.8 13.4 4.2 13.4 4.6 13.4 5 13.4 5.3 20.1 8.6 20.1 9.3 20.1 10 20.2 10.6 26.8 15 20.1 11.7 26.8 16.2 107.2 66.8 26.8 16.3 26.9 15.9 26.8 15.4 26.8 15 73.7 39.7 20.1 11M300.1 232.5l21.1 12.6M306.8 232.5l21.1 12.3M313.5 232.6l21.1 12M320.2 232.8l21.1 11.7M326.9 233.2l21.1 11.3M333.6 233.7l21.1 10.9M340.3 234.3l21.1 10.5M347 235.1l21.1 10M353.7 236l21.1 9.6M360.4 237l21.2 9.1M367.1 238.1l21.2 8.6M373.8 239.4l8.5 3.1 12.7 4.9M380.5 240.7l8.5 2.9 12.7 4.7M387.2 242.2l8.5 2.7 12.7 4.3M393.9 243.9l8.5 2.3 12.7 4.1M400.6 245.6l8.5 2.1 12.7 3.7M407.3 247.4l8.5 1.9 12.7 3.4M414 249.4l8.5 1.6 12.7 3M420.7 251.5l8.5 1.3 12.7 2.7M427.4 253.7l8.5 1 12.7 2.3M434.1 256l8.5 .8 12.7 1.9M440.8 258.4l8.5 .5 12.7 1.5M447.5 260.9l8.5 .2 12.7 1.2M454.2 263.5l8.5 0 12.7 .7M460.9 266.3l8.5-.4 12.7 .4M467.6 269.1l8.5-.6 12.7-.1M474.3 272l8.5-.9 4.2-.3 8.5-.1M481 275.1l8.5-1.3 4.2-.4 8.5-.4M487.7 278.2l8.5-1.5 4.2-.6 8.5-.7M494.4 281.4l8.5-1.8 4.2-.7 8.5-.9M501.1 284.8l8.5-2.2 4.2-.8 8.5-1.2M507.9 288.2l8.4-2.5 4.3-.9 8.4-1.5M514.6 291.7l8.4-2.7 4.3-1.2 8.4-1.7M521.3 295.3l8.4-3.1 4.3-1.2 8.4-2.1M528 299l8.4-3.4 4.3-1.4 8.4-2.3M534.7 302.7l8.4-3.6 4.3-1.6 8.4-2.6M541.4 306.6l8.4-4 4.3-1.7 8.4-2.9M548.1 310.5l8.4-4.3 4.3-1.8 8.4-3.2M554.8 314.5l8.4-4.6 4.3-2 8.4-3.4M561.5 318.5l8.4-4.9 4.3-2.1 8.4-3.7M568.2 322.6l8.4-5.1 4.3-2.3 8.4-4M574.9 326.8l8.4-5.4 4.3-2.5 8.4-4.2M581.6 331.1l8.5-5.8 4.2-2.6 8.5-4.5M588.3 335.4l8.5-6.1 4.2-2.7 8.5-4.8M595 339.7l8.5-6.3 4.2-2.9 8.5-5M601.7 344.2l8.5-6.7 4.2-3 8.5-5.3M608.4 348.6l8.5-6.9 4.2-3.1 8.5-5.6M615.1 353.1l8.5-7.2 4.2-3.3 8.5-5.8M621.8 357.7l8.5-7.5 4.2-3.4 8.5-6.1M628.5 362.3l8.5-7.8 4.2-3.6 8.5-6.3M635.2 366.9l8.5-8.1 4.2-3.7 8.5-6.6M641.9 371.5l8.5-8.3 4.2-3.8 8.5-6.9M648.6 376.2l8.5-8.6 4.2-3.9 8.5-7.2M655.3 380.9l8.5-8.9 4.2-4 8.5-7.4M662 385.6l8.5-9.1 4.2-4.2 8.5-7.6M668.7 390.4l8.5-9.4 4.2-4.3 8.5-7.9M675.4 395.1l8.5-9.6 4.2-4.5 8.5-8.1M682.1 399.9l8.5-9.9 4.2-4.6 8.5-8.3M688.8 404.6l8.5-10.1 4.2-4.7 8.5-8.5M695.5 409.4l8.5-10.4 4.2-4.8 8.5-8.8M702.2 414.2l8.5-10.7 4.2-4.9 8.5-9M708.9 419l8.5-10.9 4.2-5 8.5-9.3M715.6 423.7l8.5-11.1 4.2-5.1 8.5-9.5M722.3 428.5l8.5-11.4 4.2-5.2 8.5-9.6M729.1 433.2l8.4-11.5 4.3-5.4 8.4-9.8M735.8 437.9l8.4-11.7 4.3-5.5 8.4-10M742.5 442.6l8.4-11.9 4.3-5.6 8.4-10.2M749.2 447.3l8.4-12.2 4.3-5.6 8.4-10.5M755.9 451.9l8.4-12.3 4.3-5.8 8.4-10.6M762.6 456.6l8.4-12.6 4.3-5.8 8.4-10.8M769.3 461.2l8.4-12.8 4.3-5.9 8.4-11M776 465.7l8.4-12.9 4.3-6 8.4-11.2M782.7 470.2l8.4-13 4.3-6.2 8.4-11.3M789.4 474.7l8.4-13.2 4.3-6.2 8.4-11.5M796.1 479.2l8.4-13.4 4.3-6.3 8.4-11.7M802.8 483.6l8.5-13.6 4.2-6.3 8.5-11.9M809.5 488l8.5-13.8 4.2-6.4 8.5-12M816.2 492.3l8.5-13.9 4.2-6.5 8.5-12.1M822.9 496.6l8.5-14 4.2-6.6 8.5-12.3M829.6 500.8l8.5-14.1 4.2-6.7 8.5-12.4M836.3 505l8.5-14.3 4.2-6.7 8.5-12.5M843 509.2l8.5-14.4 4.2-6.8 8.5-12.7M849.7 513.3l8.5-14.5 4.2-6.9 8.5-12.8M856.4 517.4l8.5-14.7 4.2-6.9 8.5-12.9M863.1 521.4l8.5-14.8 4.2-6.9 8.5-13M869.8 525.4l8.5-14.9 4.2-7 8.5-13.1M876.5 529.4l8.5-15 4.2-7.1 8.5-13.2M883.2 533.3l8.5-15.1 4.2-7.1 8.5-13.4M889.9 537.2l8.5-15.2 4.2-7.2 8.5-13.4M896.6 541l8.5-15.2 4.2-7.2 8.5-13.6M903.3 544.9l8.5-15.4 4.2-7.2 8.5-13.7M910 548.7l8.5-15.4 4.2-7.3 8.5-13.8M916.7 552.5l8.5-15.5 4.2-7.4 8.5-13.8M923.4 556.3l8.5-15.6 4.2-7.4 8.5-13.9M930.1 560l8.5-15.6 4.2-7.4 8.5-14M936.8 563.8l8.5-15.7 4.2-7.5 8.5-14M943.5 567.6l8.5-15.8 4.2-7.5 8.5-14.1M950.3 571.4l8.4-15.9 4.2-7.5 8.5-14.2M957 575.2l8.4-15.9 4.3-7.6 8.4-14.3M963.7 579l8.4-16 4.3-7.5 8.4-14.4M970.4 582.9l8.4-16 4.3-7.7 8.4-14.4"/><path fill="#000" d="M300.1 232.5l6.7 0 13.4 .3 13.4 .9 13.4 1.4 13.4 1.9 13.4 2.4 13.4 2.8 13.4 3.4 13.4 3.8 13.4 4.3 13.4 4.7 13.4 5.1 13.4 5.6 13.4 6 13.4 6.3 13.5 6.8 20.1 10.8 13.4 7.6 13.4 7.9 20.1 12.3 26.8 17.4 20.1 13.5 26.8 18.5 80.5 57 33.5 23.4 33.5 22.6 26.8 17.4 26.8 16.7 26.8 16.1 26.8 15.5 67.1 38 0 0-8.5 17-12.7 27 0 0-60.3-35-33.5-20.2-20.2-12.7-20.1-13.1-13.4-9.1-20.1-14.1-13.4-9.6-20.1-14.9-33.5-25.8-33.5-26.6-80.5-64.9-26.8-21-20.1-15.4-26.8-19.6-20.1-14.1-20.1-13.3-20.1-12.5-13.4-7.8-13.4-7.5-13.4-7-13.4-6.5-13.5-6.1-13.4-5.5-13.4-5.1-6.7-2.3-13.4-4.2-13.4-3.7-13.4-3.1-6.7-1.4-13.4-2.2-6.7-.9-13.4-1.4-6.7-.4 0 0 21.2 12.6z"/><path d="M278.9 219.9l6.7 .4 13.4 1.4 6.7 .9 13.4 2.2 6.7 1.4 13.4 3.1 13.4 3.7 13.4 4.2 6.7 2.3 13.4 5.1 13.4 5.5 13.5 6.1 13.4 6.5 13.4 7 13.4 7.5 13.4 7.8 20.1 12.5 20.1 13.3 20.1 14.1 26.8 19.6 20.1 15.4 26.8 21 80.5 64.9 33.5 26.6 33.5 25.8 20.1 14.9 13.4 9.6 20.1 14.1 13.4 9.1 20.1 13.1 20.2 12.7 33.5 20.2 60.3 35M283.1 222.4l6.7 .3 13.4 1.1 13.4 1.7 13.4 2.3 6.8 1.4 13.4 3.1 13.4 3.7 13.4 4.2 20.1 7.3 13.4 5.5 13.4 5.9 13.4 6.4 13.4 6.9 13.4 7.3 13.4 7.7 20.1 12.2 20.1 13.1 20.1 13.7 26.9 19.2 20.1 15 26.8 20.5 80.4 63.2 33.5 25.9 33.5 25.1 20.1 14.5 13.5 9.4 20.1 13.7 13.4 8.8 13.4 8.7 20.1 12.5 33.5 20.1 60.3 34.9M287.4 224.9l6.7 .2 13.4 .9 13.4 1.5 13.4 2 6.7 1.3 13.4 2.8 13.4 3.4 13.4 3.9 13.4 4.5 13.4 4.9 13.4 5.4 13.4 5.9 13.4 6.3 13.4 6.7 13.4 7.1 13.5 7.6 20.1 12 20.1 12.7 20.1 13.5 26.8 18.7 20.1 14.7 26.8 20 73.7 56.5 33.6 25.3 33.5 24.6 33.5 23.5 20.1 13.5 13.4 8.7 13.4 8.6 20.1 12.4 33.5 19.9 60.4 34.8M291.6 227.4l6.7 .1 13.4 .7 13.4 1.3 13.4 1.8 13.4 2.4 13.4 2.9 13.4 3.3 13.4 3.9 20.1 6.8 13.5 5 13.4 5.6 13.4 6 13.4 6.4 13.4 6.8 13.4 7.2 20.1 11.5 13.4 8.1 13.4 8.4 20.1 13.1 26.8 18.3 20.1 14.3 26.8 19.6 73.8 55.1 33.5 24.6 33.5 23.9 33.5 22.9 26.8 17.4 33.6 20.7 26.8 15.8 67 38.6M295.8 229.9l6.7 .1 13.4 .5 13.4 1.1 13.4 1.6 13.5 2.1 13.4 2.6 13.4 3.1 13.4 3.7 13.4 4 13.4 4.6 13.4 5 13.4 5.5 13.4 5.8 13.4 6.3 13.4 6.7 13.4 7.1 20.1 11.2 13.4 7.9 13.4 8.3 20.1 12.8 26.9 17.9 20.1 14 20.1 14.3 80.4 58.5 33.5 24 33.5 23.2 26.9 17.9 26.8 17.2 33.5 20.4 26.8 15.7 67 38.2M300.1 232.5l6.7 0 13.4 .3 13.4 .9 13.4 1.4 13.4 1.9 13.4 2.4 13.4 2.8 13.4 3.4 13.4 3.8 13.4 4.3 13.4 4.7 13.4 5.1 13.4 5.6 13.4 6 13.4 6.3 13.5 6.8 20.1 10.8 13.4 7.6 13.4 7.9 20.1 12.3 26.8 17.4 20.1 13.5 26.8 18.5 80.5 57 33.5 23.4 33.5 22.6 26.8 17.4 26.8 16.7 26.8 16.1 26.8 15.5 67.1 38M278.9 219.9l21.2 12.6M285.6 220.3l21.2 12.2M292.3 220.9l21.2 11.7M299 221.7l21.2 11.1M305.7 222.6l8.5 4.1 12.7 6.5M312.4 223.6l8.5 3.9 12.7 6.2M319.1 224.8l8.5 3.6 12.7 5.9M325.8 226.2l8.5 3.3 12.7 5.6M332.5 227.6l8.5 3.2 12.7 5.2M339.2 229.3l8.5 2.8 12.7 4.9M345.9 231.1l8.5 2.5 12.7 4.5M352.6 233l8.5 2.3 12.7 4.1M359.3 235l8.5 2 12.7 3.7M366 237.2l8.5 1.7 12.7 3.3M372.7 239.5l8.5 1.4 12.7 3M379.4 242l8.5 1.1 12.7 2.5M386.1 244.6l8.5 .8 12.7 2M392.8 247.3l8.5 .5 12.7 1.6M399.5 250.1l8.5 .2 12.7 1.2M406.3 253.1l8.4-.2 4.3 .1 8.4 .7M413 256.2l8.4-.5 4.3-.1 8.4 .4M419.7 259.4l8.4-.8 4.3-.2 8.4 0M426.4 262.7l8.4-1.1 4.3-.4 8.4-.3M433.1 266.2l8.4-1.6 4.3-.5 8.4-.6M439.8 269.7l8.4-1.8 4.3-.7 8.4-.9M446.5 273.4l8.4-2.2 4.3-.9 8.4-1.2M453.2 277.2l8.4-2.6 4.3-1 8.4-1.6M459.9 281l8.4-2.9 4.3-1.2 8.4-1.8M466.6 285l8.4-3.3 4.3-1.3 8.4-2.2M473.3 289.1l8.4-3.6 4.3-1.6 8.4-2.5M480 293.3l8.5-4 4.2-1.7 8.4-2.8M486.7 297.5l8.5-4.3 4.2-1.9 8.5-3.1M493.4 301.9l8.5-4.7 4.2-2 8.5-3.5M500.1 306.3l8.5-5 4.2-2.2 8.5-3.8M506.8 310.8l8.5-5.3 4.2-2.4 8.5-4.1M513.5 315.4l8.5-5.7 4.2-2.5 8.5-4.5M520.2 320.1l8.5-6.1 4.2-2.7 8.5-4.7M526.9 324.9l8.5-6.5 4.2-2.8 8.5-5.1M533.6 329.7l8.5-6.8 4.2-3 8.5-5.4M540.3 334.6l8.5-7.1 4.2-3.3 8.5-5.7M547 339.5l8.5-7.4 4.2-3.4 8.5-6.1M553.7 344.5l8.5-7.8 4.2-3.5 8.5-6.4M560.4 349.6l8.5-8.1 4.2-3.7 8.5-6.7M567.1 354.7l8.5-8.5 4.2-3.8 8.5-7M573.8 359.9l8.5-8.8 4.2-4.1 8.5-7.3M580.5 365.1l8.5-9.2 4.2-4.1 8.5-7.6M587.2 370.3l8.5-9.4 4.2-4.4 8.5-7.9M593.9 375.6l8.5-9.8 4.2-4.5 8.5-8.2M600.6 380.9l8.5-10.1 4.2-4.6 8.5-8.5M607.3 386.3l8.5-10.4 4.2-4.8 8.5-8.8M614 391.6l8.5-10.7 4.2-4.9 8.5-9.1M620.7 397l8.5-11 4.2-5.1 8.5-9.4M627.5 402.4l8.4-11.3 4.3-5.2 8.4-9.7M634.2 407.8l8.4-11.6 4.3-5.3 8.4-10M640.9 413.3l8.4-11.9 4.3-5.5 8.4-10.3M647.6 418.7l8.4-12.2 4.3-5.6 8.4-10.5M654.3 424.1l8.4-12.4 4.3-5.8 8.4-10.8M661 429.6l8.4-12.8 4.3-5.9 8.4-11M667.7 435l8.4-13 4.3-6.1 8.4-11.3M674.4 440.4l8.4-13.3 4.3-6.2 8.4-11.5M681.1 445.8l8.4-13.5 4.3-6.3 8.4-11.8M687.8 451.2l8.4-13.8 4.3-6.4 8.4-12M694.5 456.5l8.4-14 4.3-6.5 8.4-12.3M701.2 461.8l8.5-14.2 4.2-6.7 8.4-12.4M707.9 467.1l8.5-14.4 4.2-6.8 8.5-12.7M714.6 472.4l8.5-14.7 4.2-6.9 8.5-12.9M721.3 477.6l8.5-14.9 4.2-7 8.5-13.1M728 482.8l8.5-15.1 4.2-7.1 8.5-13.3M734.7 488l8.5-15.3 4.2-7.2 8.5-13.6M741.4 493.1l8.5-15.5 4.2-7.3 8.5-13.7M748.1 498.2l8.5-15.7 4.2-7.4 8.5-13.9M754.8 503.2l8.5-15.9 4.2-7.5 8.5-14.1M761.5 508.1l8.5-16 4.2-7.6 8.5-14.3M768.2 513.1l8.5-16.2 4.2-7.7 8.5-14.5M774.9 517.9l8.5-16.3 4.2-7.8 8.5-14.6M781.6 522.7l8.5-16.5 4.2-7.8 8.5-14.8M788.3 527.5l8.5-16.7 4.2-7.9 8.5-14.9M795 532.2l8.5-16.8 4.2-8 8.5-15.1M801.7 536.8l8.5-17 4.2-8 8.5-15.2M808.4 541.3l8.5-17 4.2-8.1 8.5-15.4M815.1 545.9l8.5-17.2 4.2-8.2 8.5-15.5M821.8 550.3l8.5-17.3 4.2-8.2 8.5-15.6M828.5 554.7l8.5-17.4 4.2-8.3 8.5-15.7M835.2 559l12.7-25.8 8.5-15.8M841.9 563.3l12.7-25.9 8.5-16M848.7 567.6l12.6-26.1 8.5-16.1M855.4 571.7l12.7-26.2 8.4-16.1M862.1 575.8l12.7-26.3 8.4-16.2M868.8 579.9l12.7-26.4 8.4-16.3M875.5 584l12.7-26.6 8.4-16.4M882.2 588l12.7-26.7 8.4-16.4M888.9 591.9l12.7-26.7 8.4-16.5M895.6 595.8l12.7-26.7 8.4-16.6M902.3 599.7l12.7-26.8 8.4-16.6M909 603.6l12.7-26.9 8.4-16.7M915.7 607.5l12.7-26.9 8.4-16.8M922.4 611.4l12.7-27 8.4-16.8M929.1 615.2l12.7-27 8.5-16.8M935.8 619.1l12.7-27 8.5-16.9M942.5 623l12.7-27.1 8.5-16.9M949.2 626.9l12.7-27 8.5-17"/><path fill="#000" d="M278.9 219.9l6.7 .4 13.4 1.4 6.7 .9 13.4 2.2 6.7 1.4 13.4 3.1 13.4 3.7 13.4 4.2 6.7 2.3 13.4 5.1 13.4 5.5 13.5 6.1 13.4 6.5 13.4 7 13.4 7.5 13.4 7.8 20.1 12.5 20.1 13.3 20.1 14.1 26.8 19.6 20.1 15.4 26.8 21 80.5 64.9 33.5 26.6 33.5 25.8 20.1 14.9 13.4 9.6 20.1 14.1 13.4 9.1 20.1 13.1 20.2 12.7 33.5 20.2 60.3 35 0 0-8.5 18.9-12.7 29.3 0 0-40.2-22.9-20.1-11.7-20.1-12.1-20.1-12.6-20.1-13.3-20.1-14.1-20.1-14.7-20.2-15.4-13.4-10.7-20.1-16.5-20.1-17.1-20.1-17.5-33.5-30.2-87.1-79.9-20.1-18-20.2-17.6-26.8-22.6-20.1-16.1-20.1-15.4-20.1-14.5-13.4-9.1-13.4-8.7-20.1-12-13.4-7.3-6.7-3.5-13.4-6.5-6.7-3-13.4-5.6-6.7-2.6-13.4-4.6-6.8-2.1-13.4-3.6-6.7-1.6-13.4-2.6-6.7-1 0 0 8.5 4.4 12.7 7.1z"/><path d="M257.7 208.4l6.7 1 13.4 2.6 6.7 1.6 13.4 3.6 6.8 2.1 13.4 4.6 6.7 2.6 13.4 5.6 6.7 3 13.4 6.5 6.7 3.5 13.4 7.3 20.1 12 13.4 8.7 13.4 9.1 20.1 14.5 20.1 15.4 20.1 16.1 26.8 22.6 20.2 17.6 20.1 18 87.1 79.9 33.5 30.2 20.1 17.5 20.1 17.1 20.1 16.5 13.4 10.7 20.2 15.4 20.1 14.7 20.1 14.1 20.1 13.3 20.1 12.6 20.1 12.1 20.1 11.7 40.2 22.9M262 210.6l6.7 .9 13.4 2.3 6.7 1.4 13.4 3.3 6.7 1.9 13.4 4.4 6.7 2.4 13.4 5.2 6.7 2.9 13.4 6.1 13.4 6.7 13.4 7.2 20.1 11.8 13.4 8.5 13.4 9 20.1 14.2 20.2 15 20.1 15.8 20.1 16.5 20.1 17 26.8 23.4 87.1 77.9 33.6 29.3 20.1 17.1 20.1 16.7 20.1 16 13.4 10.4 20.1 15 13.4 9.7 20.1 13.9 20.1 13.2 20.1 12.7 20.1 12.1 20.1 11.7 40.3 23M266.2 212.8l6.7 .8 13.4 2 6.7 1.3 13.4 3.1 6.7 1.7 13.4 4 6.7 2.3 13.4 4.9 6.7 2.6 13.4 5.8 13.4 6.4 13.5 6.8 20.1 11.3 13.4 8.1 13.4 8.5 20.1 13.6 20.1 14.5 20.1 15.2 26.8 21.4 20.1 16.6 26.8 22.8 80.5 70.1 33.5 28.7 20.1 16.8 20.1 16.4 20.1 15.8 13.4 10.2 20.1 14.9 13.4 9.5 20.1 13.8 20.2 13.2 20.1 12.6 20.1 12.1 60.3 34.9M270.4 215.1l6.7 .7 13.4 1.8 6.7 1.1 13.4 2.8 6.8 1.6 13.4 3.7 13.4 4.3 13.4 4.9 6.7 2.6 13.4 5.7 13.4 6.3 13.4 6.7 20.1 11.1 13.4 7.9 13.4 8.4 20.1 13.3 20.1 14.2 20.1 14.9 26.8 20.9 20.2 16.2 26.8 22.3 80.4 68.3 33.5 27.9 20.1 16.4 20.1 15.9 20.1 15.4 13.5 9.9 20.1 14.5 13.4 9.3 20.1 13.4 20.1 12.9 13.4 8.3 20.1 12.1 60.3 35M274.7 217.5l6.7 .5 13.4 1.6 6.7 1 13.4 2.5 6.7 1.5 13.4 3.4 13.4 4 13.4 4.5 6.7 2.5 13.4 5.4 13.4 5.9 13.4 6.4 13.4 6.9 13.4 7.3 13.4 7.8 13.4 8.2 20.2 13.1 20.1 13.8 20.1 14.6 26.8 20.4 20.1 15.9 20.1 16.2 87.1 72.1 33.6 27.2 33.5 26.2 20.1 15.2 13.4 9.8 20.1 14.3 13.4 9.1 20.1 13.4 20.1 12.8 33.5 20.3 60.4 35M278.9 219.9l6.7 .4 13.4 1.4 6.7 .9 13.4 2.2 6.7 1.4 13.4 3.1 13.4 3.7 13.4 4.2 6.7 2.3 13.4 5.1 13.4 5.5 13.5 6.1 13.4 6.5 13.4 7 13.4 7.5 13.4 7.8 20.1 12.5 20.1 13.3 20.1 14.1 26.8 19.6 20.1 15.4 26.8 21 80.5 64.9 33.5 26.6 33.5 25.8 20.1 14.9 13.4 9.6 20.1 14.1 13.4 9.1 20.1 13.1 20.2 12.7 33.5 20.2 60.3 35M257.7 208.4l8.5 4.4 12.7 7.1M264.4 209.4l8.5 4.2 12.7 6.7M271.1 210.6l8.5 3.9 12.7 6.4M277.8 212l8.5 3.6 12.7 6.1M284.5 213.6l8.5 3.3 12.7 5.7M291.2 215.3l8.5 3.1 12.7 5.2M297.9 217.2l8.5 2.8 12.7 4.8M304.7 219.3l8.4 2.4 12.7 4.5M311.4 221.5l8.4 2.1 12.7 4M318.1 223.9l8.4 1.8 12.7 3.6M324.8 226.5l8.4 1.5 12.7 3.1M331.5 229.2l8.4 1.1 12.7 2.7M338.2 232.1l8.4 .8 4.3 .6 8.4 1.5M344.9 235.1l8.4 .4 4.3 .5 8.4 1.2M351.6 238.3l8.4 .1 4.3 .2 8.4 .9M358.3 241.6l8.4-.3 4.3 .1 8.4 .6M365 245.1l8.4-.7 4.3-.1 8.4 .3M371.7 248.7l8.4-1 4.3-.3 8.4-.1M378.4 252.4l8.4-1.4 4.3-.4 8.4-.5M385.1 256.3l8.5-1.8 4.2-.6 8.5-.8M391.8 260.3l8.5-2.1 4.2-.9 8.5-1.1M398.5 264.4l8.5-2.5 4.2-1 8.5-1.5M405.2 268.7l8.5-2.9 4.2-1.2 8.5-1.9M411.9 273.1l8.5-3.3 4.2-1.4 8.5-2.2M418.6 277.6l8.5-3.7 4.2-1.6 8.5-2.6M425.3 282.2l8.5-4.1 4.2-1.8 8.5-2.9M432 286.9l8.5-4.5 4.2-1.9 8.5-3.3M438.7 291.7l8.5-4.8 4.2-2.2 8.5-3.7M445.4 296.7l8.5-5.3 4.2-2.3 8.5-4.1M452.1 301.7l8.5-5.7 4.2-2.5 8.5-4.4M458.8 306.8l8.5-6 4.2-2.8 8.5-4.7M465.5 312.1l8.5-6.5 4.2-2.9 8.5-5.2M472.2 317.4l8.5-6.9 4.2-3.1 8.5-5.5M478.9 322.8l8.5-7.3 4.2-3.3 8.5-5.9M485.6 328.2l8.5-7.6 4.2-3.5 8.5-6.3M492.3 333.8l8.5-8.1 4.2-3.6 8.5-6.7M499 339.4l8.5-8.4 4.2-3.9 8.5-7M505.7 345.1l8.5-8.8 4.2-4.1 8.5-7.3M512.4 350.8l8.5-9.2 4.2-4.2 8.5-7.7M519.1 356.6l8.5-9.5 4.2-4.4 8.5-8.1M525.8 362.5l8.5-9.9 4.2-4.6 8.5-8.5M532.6 368.4l8.4-10.3 4.3-4.8 8.4-8.8M539.3 374.4l8.4-10.7 4.3-5 8.4-9.1M546 380.4l8.4-11.1 4.3-5.1 8.4-9.5M552.7 386.4l8.4-11.4 4.3-5.3 8.4-9.8M559.4 392.5l8.4-11.8 4.3-5.4 8.4-10.2M566.1 398.6l8.4-12.1 4.3-5.7 8.4-10.5M572.8 404.7l8.4-12.4 4.3-5.8 8.4-10.9M579.5 410.9l8.4-12.8 4.3-6 8.4-11.2M586.2 417l8.4-13.1 4.3-6.1 8.4-11.5M592.9 423.2l8.4-13.4 4.3-6.4 8.4-11.8M599.6 429.4l8.4-13.8 4.3-6.5 8.4-12.1M606.3 435.6l8.5-14.1 4.2-6.6 8.5-12.5M613 441.7l8.5-14.3 4.2-6.8 8.5-12.8M619.7 447.9l8.5-14.7 4.2-6.9 8.5-13M626.4 454.1l8.5-15 4.2-7.1 8.5-13.3M633.1 460.2l8.5-15.3 4.2-7.2 8.5-13.6M639.8 466.3l8.5-15.5 4.2-7.4 8.5-13.8M646.5 472.4l8.5-15.8 4.2-7.5 8.5-14.1M653.2 478.5l8.5-16.1 4.2-7.6 8.5-14.4M659.9 484.5l8.5-16.3 4.2-7.8 8.5-14.6M666.6 490.5l8.5-16.6 4.2-7.8 8.5-14.9M673.3 496.5l8.5-16.9 4.2-7.9 8.5-15.2M680 502.4l8.5-17.1 4.2-8.1 8.5-15.4M686.7 508.2l8.5-17.2 4.2-8.3 8.5-15.6M693.4 514l12.7-25.8 8.5-15.8M700.1 519.8l12.7-26.1 8.5-16.1M706.8 525.5l12.7-26.4 8.5-16.3M713.5 531.1l12.7-26.7 8.5-16.4M720.2 536.7l12.7-27 8.5-16.6M726.9 542.2l12.7-27.2 8.5-16.8M733.6 547.6l12.7-27.4 8.5-17M740.3 553l12.7-27.7 8.5-17.2M747 558.3l12.7-27.9 8.5-17.3M753.8 563.5l12.7-28.1 8.4-17.5M760.5 568.7l12.7-28.4 8.4-17.6M767.2 573.7l12.7-28.5 8.4-17.7M773.9 578.7l12.7-28.7 8.4-17.8M780.6 583.6l12.7-28.8 8.4-18M787.3 588.4l12.7-28.9 8.4-18.2M794 593.2l12.7-29.1 8.4-18.2M800.7 597.9l12.7-29.3 8.4-18.3M807.4 602.5l12.7-29.4 8.4-18.4M814.1 607l12.7-29.5 8.4-18.5M820.8 611.4l12.7-29.5 8.4-18.6M827.5 615.8l12.7-29.6 8.5-18.6M834.2 620.1l12.7-29.7 8.5-18.7M840.9 624.3l12.7-29.7 8.5-18.8M847.6 628.4l12.7-29.7 8.5-18.8M854.3 632.5l12.7-29.7 8.5-18.8M861 636.6l12.7-29.8 8.5-18.8M867.7 640.5l12.7-29.7 8.5-18.9M874.4 644.5l12.7-29.7 8.5-19M881.1 648.4l12.7-29.7 8.5-19M887.8 652.2l12.7-29.6 8.5-19M894.5 656.1l12.7-29.6 8.5-19M901.2 659.9l12.7-29.6 8.5-18.9M907.9 663.7l12.7-29.5 8.5-19M914.6 667.5l12.7-29.5 8.5-18.9M921.3 671.3l12.7-29.4 8.5-18.9M928 675.1l12.7-29.3 8.5-18.9"/><path fill="#000" d="M257.7 208.4l6.7 1 13.4 2.6 6.7 1.6 13.4 3.6 6.8 2.1 13.4 4.6 6.7 2.6 13.4 5.6 6.7 3 13.4 6.5 6.7 3.5 13.4 7.3 20.1 12 13.4 8.7 13.4 9.1 20.1 14.5 20.1 15.4 20.1 16.1 26.8 22.6 20.2 17.6 20.1 18 87.1 79.9 33.5 30.2 20.1 17.5 20.1 17.1 20.1 16.5 13.4 10.7 20.2 15.4 20.1 14.7 20.1 14.1 20.1 13.3 20.1 12.6 20.1 12.1 20.1 11.7 40.2 22.9 0 0-21.1 49 0 0-33.5-17.4-26.9-14.7-13.4-7.7-13.4-8-20.1-12.7-20.1-13.6-20.1-14.6-20.1-15.5-13.4-10.8-13.4-11.2-20.1-17.6-20.1-18.4-20.1-19.2-20.2-19.7-20.1-20.2-20.1-20.6-87.1-90.5-26.8-27.1-20.1-19.7-20.1-19-20.2-18.2-20.1-17.3-20.1-16.3-20.1-15.1-13.4-9.4-6.7-4.5-13.4-8.5-6.7-3.9-13.4-7.5-13.4-6.8-6.7-3.1-13.4-5.7-13.4-4.9-6.7-2.1-13.4-3.7 0 0 8.4 3.5 12.7 6z"/><path d="M236.6 198.9l13.4 3.7 6.7 2.1 13.4 4.9 13.4 5.7 6.7 3.1 13.4 6.8 13.4 7.5 6.7 3.9 13.4 8.5 6.7 4.5 13.4 9.4 20.1 15.1 20.1 16.3 20.1 17.3 20.2 18.2 20.1 19 20.1 19.7 26.8 27.1 87.1 90.5 20.1 20.6 20.1 20.2 20.2 19.7 20.1 19.2 20.1 18.4 20.1 17.6 13.4 11.2 13.4 10.8 20.1 15.5 20.1 14.6 20.1 13.6 20.1 12.7 13.4 8 13.4 7.7 26.9 14.7 33.5 17.4M240.8 200.6l13.4 3.4 6.7 2 13.4 4.5 6.7 2.6 13.4 5.7 6.7 3.1 13.4 6.7 13.4 7.4 6.7 4 13.4 8.3 20.2 13.7 20.1 14.9 20.1 15.9 20.1 17 20.1 17.9 20.1 18.6 20.1 19.3 26.8 26.5 87.2 88.3 20.1 20 20.1 19.8 20.1 19.2 20.1 18.6 20.1 17.9 20.1 17.2 20.1 16.3 20.1 15.4 20.1 14.5 13.4 9.2 13.5 8.8 20.1 12.6 20.1 11.8 26.8 14.9 33.5 17.8M245 202.4l13.4 3.1 6.7 1.8 13.4 4.2 6.7 2.4 13.5 5.3 6.7 3 13.4 6.3 6.7 3.5 13.4 7.3 6.7 3.9 13.4 8.3 20.1 13.4 20.1 14.6 20.1 15.7 20.1 16.7 20.1 17.5 20.1 18.2 20.1 18.9 26.9 25.8 87.1 86.2 33.5 32.4 20.1 18.9 20.1 18.3 20.1 17.7 20.1 17 20.2 16.1 20.1 15.4 20.1 14.5 13.4 9.1 13.4 8.9 20.1 12.6 20.1 11.9 26.8 15.1 33.5 18.3M249.3 204.4l13.4 2.7 6.7 1.7 13.4 3.9 6.7 2.2 13.4 5 6.7 2.7 13.4 6 6.7 3.3 13.4 6.9 6.7 3.7 13.4 7.9 20.1 12.8 20.1 14 20.1 15 20.2 16.1 20.1 16.9 26.8 23.6 20.1 18.4 20.1 18.9 26.8 25.6 67 64.8 33.5 31.6 20.2 18.4 20.1 17.8 20.1 17.3 13.4 11.1 20.1 16 20.1 15.2 20.1 14.4 13.4 9.2 13.4 8.8 20.1 12.7 20.1 12 20.1 11.5 40.3 22.3M253.5 206.4l6.7 1.1 13.4 2.9 6.7 1.7 13.4 3.9 6.7 2.2 13.4 5 6.7 2.7 13.4 6 6.7 3.2 13.4 6.9 6.7 3.6 13.5 7.8 20.1 12.6 20.1 13.7 20.1 14.8 20.1 15.7 20.1 16.5 26.8 23.2 20.1 18 20.1 18.4 87.2 81.9 20.1 18.7 20.1 18.3 20.1 18 20.1 17.3 20.1 16.8 13.4 10.8 20.1 15.6 20.1 14.8 20.1 14.1 20.2 13.4 20.1 12.6 20.1 12.1 20.1 11.6 40.2 22.6M257.7 208.4l6.7 1 13.4 2.6 6.7 1.6 13.4 3.6 6.8 2.1 13.4 4.6 6.7 2.6 13.4 5.6 6.7 3 13.4 6.5 6.7 3.5 13.4 7.3 20.1 12 13.4 8.7 13.4 9.1 20.1 14.5 20.1 15.4 20.1 16.1 26.8 22.6 20.2 17.6 20.1 18 87.1 79.9 33.5 30.2 20.1 17.5 20.1 17.1 20.1 16.5 13.4 10.7 20.2 15.4 20.1 14.7 20.1 14.1 20.1 13.3 20.1 12.6 20.1 12.1 20.1 11.7 40.2 22.9M236.6 198.9l8.4 3.5 12.7 6M243.3 200.6l8.4 3.3 12.7 5.5M250 202.6l8.4 2.9 12.7 5.1M256.7 204.7l8.4 2.6 12.7 4.7M263.4 207.1l8.4 2.2 12.7 4.3M270.1 209.6l8.4 1.9 12.7 3.8M276.8 212.3l8.4 1.6 12.7 3.3M283.5 215.3l8.5 1.2 4.2 .8 8.5 2M290.2 218.4l8.5 .8 4.2 .7 8.5 1.6M296.9 221.7l8.5 .5 4.2 .4 8.5 1.3M303.6 225.2l8.5 .1 4.2 .2 8.5 1M310.3 228.8l8.5-.3 4.2 .1 8.5 .6M317 232.7l8.5-.7 4.2-.1 8.5 .2M323.7 236.6l8.5-1 4.2-.3 8.5-.2M330.4 240.8l8.5-1.5 4.2-.5 8.5-.5M337.1 245.1l8.5-1.9 4.2-.7 8.5-.9M343.8 249.6l8.5-2.3 4.2-.9 8.5-1.3M350.5 254.2l8.5-2.7 4.2-1.1 8.5-1.7M357.2 259l8.5-3.2 4.2-1.3 8.5-2.1M363.9 263.9l8.5-3.6 4.2-1.5 8.5-2.5M370.6 268.9l8.5-4 4.2-1.7 8.5-2.9M377.3 274.1l8.5-4.4 4.2-2 8.5-3.3M384 279.4l8.5-4.9 4.2-2.1 8.5-3.7M390.7 284.8l8.5-5.3 4.2-2.3 8.5-4.1M397.4 290.4l8.5-5.8 4.2-2.5 8.5-4.5M404.1 296l8.5-6.1 4.2-2.8 8.5-4.9M410.8 301.8l8.5-6.6 4.2-3 8.5-5.3M417.5 307.7l8.5-7 4.2-3.2 8.5-5.8M424.2 313.7l8.5-7.5 4.2-3.4 8.5-6.1M431 319.7l8.4-7.8 4.3-3.6 8.4-6.6M437.7 325.9l8.4-8.3 4.3-3.8 8.4-7M444.4 332.2l8.4-8.7 4.3-4.1 8.4-7.3M451.1 338.5l8.4-9.1 4.3-4.2 8.4-7.8M457.8 344.9l8.4-9.5 4.3-4.5 8.4-8.1M464.5 351.4l8.4-9.9 4.3-4.7 8.4-8.6M471.2 358l8.4-10.4 4.3-4.8 8.4-9M477.9 364.6l8.4-10.8 4.3-5 8.4-9.4M484.6 371.3l8.4-11.2 4.3-5.2 8.4-9.8M491.3 378.1l8.4-11.6 4.3-5.5 8.4-10.2M498 384.9l8.4-12 4.3-5.7 8.4-10.6M504.7 391.7l8.5-12.4 4.2-5.8 8.4-11M511.4 398.6l8.5-12.8 4.2-6.1 8.5-11.3M518.1 405.5l8.5-13.2 4.2-6.2 8.5-11.7M524.8 412.4l8.5-13.5 4.2-6.4 8.5-12.1M531.5 419.4l8.5-13.9 4.2-6.6 8.5-12.5M538.2 426.3l8.5-14.2 4.2-6.8 8.5-12.8M544.9 433.3l8.5-14.6 4.2-7 8.5-13.1M551.6 440.3l12.7-22.1 8.5-13.5M558.3 447.3l12.7-22.6 8.5-13.8M565 454.3l12.7-23.1 8.5-14.2M571.7 461.3l12.7-23.6 8.5-14.5M578.4 468.3l12.7-24.1 8.5-14.8M585.1 475.2l12.7-24.5 8.5-15.1M591.8 482.2l12.7-25 8.5-15.5M598.5 489.1l12.7-25.5 8.5-15.7M605.2 495.9l12.7-25.8 8.5-16M611.9 502.8l12.7-26.3 8.5-16.3M618.6 509.6l12.7-26.7 8.5-16.6M625.3 516.3l12.7-27 8.5-16.9M632 523l12.7-27.4 8.5-17.1M638.7 529.6l12.7-27.7 8.5-17.4M645.4 536.2l12.7-28.1 8.5-17.6M652.2 542.7l12.6-28.4 8.5-17.8M658.9 549.2l12.7-28.8 8.4-18M665.6 555.6l12.7-29.1 8.4-18.3M672.3 561.9l12.7-29.4 8.4-18.5M679 568.1l12.7-29.6 8.4-18.7M685.7 574.2l12.7-29.9 8.4-18.8M692.4 580.3l12.7-30.1 8.4-19.1M699.1 586.2l12.7-30.3 8.4-19.2M705.8 592.1l12.7-30.5 8.4-19.4M712.5 597.9l12.7-30.8 8.4-19.5M719.2 603.5l12.7-30.8 8.4-19.7M725.9 609.1l12.7-31 8.4-19.8M732.6 614.6l12.7-31.2 8.5-19.9M739.3 619.9l12.7-31.2 8.5-20M746 625.2l12.7-31.4 8.5-20.1M752.7 630.4l12.7-31.5 8.5-20.2M759.4 635.4l12.7-31.5 8.5-20.3M766.1 640.4l12.7-31.6 8.5-20.4M772.8 645.2l12.7-31.6 8.5-20.4M779.5 650l12.7-31.7 8.5-20.4M786.2 654.6l12.7-31.7 8.5-20.4M792.9 659.2l12.7-31.7 8.5-20.5M799.6 663.6l12.7-31.7 8.5-20.5M806.3 667.9l21.2-52.1M813 672.2l21.2-52.1M819.7 676.3l21.2-52M826.4 680.4l21.2-52M833.1 684.3l21.2-51.8M839.8 688.2l21.2-51.6M846.5 692l21.2-51.5M853.2 695.8l21.2-51.3M859.9 699.5l21.2-51.1M866.6 703.1l21.2-50.9M873.4 706.7l21.1-50.6M880.1 710.2l21.1-50.3M886.8 713.7l21.1-50M893.5 717.2l21.1-49.7M900.2 720.6l21.1-49.3M906.9 724.1l21.1-49"/><path fill="#000" d="M236.6 198.9l13.4 3.7 6.7 2.1 13.4 4.9 13.4 5.7 6.7 3.1 13.4 6.8 13.4 7.5 6.7 3.9 13.4 8.5 6.7 4.5 13.4 9.4 20.1 15.1 20.1 16.3 20.1 17.3 20.2 18.2 20.1 19 20.1 19.7 26.8 27.1 87.1 90.5 20.1 20.6 20.1 20.2 20.2 19.7 20.1 19.2 20.1 18.4 20.1 17.6 13.4 11.2 13.4 10.8 20.1 15.5 20.1 14.6 20.1 13.6 20.1 12.7 13.4 8 13.4 7.7 26.9 14.7 33.5 17.4 0 0-12.7 27.9-8.5 17.1 0 0-26.8-11.3-13.4-5.9-13.4-6.3-13.4-6.6-13.4-7.1-20.1-11.4-13.5-8.3-13.4-8.7-20.1-14.2-20.1-15.5-20.1-16.7-20.1-17.8-13.4-12.5-13.4-13-20.1-20.3-13.4-14-13.4-14.4-20.1-22.2-26.8-30.4-87.2-101.7-33.5-38.3-20.1-22.3-20.1-21.5-20.1-20.7-13.4-13.2-20.1-18.9-20.2-17.6-13.4-11-6.7-5.2-13.4-9.9-6.7-4.7-13.4-8.8-6.7-4.1-13.4-7.6-13.4-6.8-6.7-3-13.4-5.3 0 0 8.5 2.5 12.7 4.5z"/><path d="M215.4 191.9l13.4 5.3 6.7 3 13.4 6.8 13.4 7.6 6.7 4.1 13.4 8.8 6.7 4.7 13.4 9.9 6.7 5.2 13.4 11 20.2 17.6 20.1 18.9 13.4 13.2 20.1 20.7 20.1 21.5 20.1 22.3 33.5 38.3 87.2 101.7 26.8 30.4 20.1 22.2 13.4 14.4 13.4 14 20.1 20.3 13.4 13 13.4 12.5 20.1 17.8 20.1 16.7 20.1 15.5 20.1 14.2 13.4 8.7 13.5 8.3 20.1 11.4 13.4 7.1 13.4 6.6 13.4 6.3 13.4 5.9 26.8 11.3M219.6 193.1l13.4 5 6.7 2.8 13.4 6.4 13.5 7.1 6.7 3.9 13.4 8.4 6.7 4.5 13.4 9.5 6.7 5 13.4 10.5 20.1 17 20.1 18.1 13.4 12.8 20.1 20 20.1 20.9 20.1 21.6 20.1 22.2 20.1 22.7 60.4 69 26.8 30.4 26.8 29.7 20.1 21.6 13.4 14 13.4 13.7 20.1 19.8 13.4 12.7 13.4 12.2 20.2 17.4 20.1 16.3 20.1 15.1 20.1 14 20.1 12.8 20.1 11.7 13.4 7.3 13.4 6.8 13.4 6.6 13.4 6.2 26.8 11.9M223.9 194.4l13.4 4.6 6.7 2.7 13.4 6 6.7 3.3 13.4 7.2 6.7 3.8 13.4 8.4 6.7 4.4 13.4 9.4 6.7 5 13.4 10.4 20.1 16.7 20.1 17.9 13.4 12.5 20.2 19.7 20.1 20.4 20.1 21.2 33.5 36.5 67 74.9 26.8 29.6 26.8 29 20.1 21.1 13.5 13.7 13.4 13.4 20.1 19.3 20.1 18.4 20.1 17.3 20.1 16.3 20.1 15.2 20.1 14 20.1 13 20.1 12 13.4 7.4 13.4 7.1 20.2 10 33.5 15.8M228.1 195.8l13.4 4.3 6.7 2.5 13.4 5.6 6.7 3.1 13.4 6.8 6.7 3.7 13.4 7.9 6.7 4.3 13.4 8.9 6.7 4.8 13.5 9.9 20.1 16 20.1 17.3 13.4 12.1 20.1 18.9 20.1 19.8 20.1 20.6 20.1 21.1 20.1 21.6 67 73.1 26.9 29 26.8 28.3 20.1 20.5 26.8 26.4 20.1 18.8 20.1 17.9 20.1 17 20.1 15.9 20.1 14.8 20.1 13.8 20.2 12.8 20.1 11.9 20.1 11 20.1 10.3 33.5 16.4M232.3 197.3l13.4 4 6.7 2.3 13.4 5.2 13.5 6.1 6.7 3.3 13.4 7.1 13.4 7.9 6.7 4.2 13.4 8.9 13.4 9.5 20.1 15.4 20.1 16.5 20.1 17.7 20.1 18.6 20.1 19.4 20.1 20.1 26.8 27.7 26.9 28.3 67 71.4 20.1 21.1 20.1 20.6 20.1 20 20.1 19.4 20.1 18.6 20.1 17.8 13.5 11.3 13.4 10.9 20.1 15.6 20.1 14.5 20.1 13.5 20.1 12.7 13.4 7.9 13.4 7.6 26.8 14.3 33.5 16.9M236.6 198.9l13.4 3.7 6.7 2.1 13.4 4.9 13.4 5.7 6.7 3.1 13.4 6.8 13.4 7.5 6.7 3.9 13.4 8.5 6.7 4.5 13.4 9.4 20.1 15.1 20.1 16.3 20.1 17.3 20.2 18.2 20.1 19 20.1 19.7 26.8 27.1 87.1 90.5 20.1 20.6 20.1 20.2 20.2 19.7 20.1 19.2 20.1 18.4 20.1 17.6 13.4 11.2 13.4 10.8 20.1 15.5 20.1 14.6 20.1 13.6 20.1 12.7 13.4 8 13.4 7.7 26.9 14.7 33.5 17.4M215.4 191.9l8.5 2.5 12.7 4.5M222.1 194.4l8.5 2.2 12.7 4M228.8 197.2l8.5 1.8 12.7 3.6M235.5 200.2l12.7 2.4 8.5 2.1M242.2 203.5l8.5 1.1 4.2 .7 8.5 1.8M248.9 207l8.5 .7 4.2 .5 8.5 1.4M255.6 210.7l8.5 .3 4.2 .3 8.5 1M262.3 214.6l8.5-.1 4.2 .1 8.5 .7M269 218.7l8.5-.5 4.2-.1 8.5 .3M275.7 223l8.5-1 4.2-.2 8.5-.1M282.4 227.5l8.5-1.4 4.2-.4 8.5-.5M289.1 232.2l8.5-1.8 4.2-.7 8.5-.9M295.8 237.1l8.5-2.3 4.2-.8 8.5-1.3M302.5 242.1l8.5-2.6 4.2-1.1 8.5-1.8M309.2 247.3l8.5-3.1 4.2-1.3 8.5-2.1M315.9 252.7l8.5-3.5 4.2-1.5 8.5-2.6M322.6 258.3l8.5-4 4.2-1.7 8.5-3M329.4 264l8.4-4.4 4.3-2 8.4-3.4M336.1 269.9l8.4-4.9 4.3-2.2 8.4-3.8M342.8 275.9l8.4-5.3 4.3-2.4 8.4-4.3M349.5 282.1l8.4-5.8 4.3-2.7 8.4-4.7M356.2 288.4l8.4-6.3 4.3-2.9 8.4-5.1M362.9 294.8l8.4-6.7 4.3-3.1 8.4-5.6M369.6 301.3l8.4-7.1 4.3-3.3 8.4-6.1M376.3 308l8.4-7.6 4.3-3.5 8.4-6.5M383 314.8l8.4-8.1 4.3-3.7 8.4-7M389.7 321.7l8.4-8.5 4.3-4 8.4-7.4M396.4 328.7l8.4-9 4.3-4.2 8.4-7.8M403.1 335.8l8.5-9.4 4.2-4.5 8.4-8.2M409.8 343l8.5-9.9 4.2-4.7 8.5-8.7M416.5 350.2l12.7-15.1 8.5-9.2M423.2 357.6l12.7-15.9 8.5-9.5M429.9 365l12.7-16.5 8.5-10M436.6 372.5l12.7-17.1 8.5-10.5M443.3 380.1l12.7-17.8 8.5-10.9M450 387.7l12.7-18.4 8.5-11.3M456.7 395.3l12.7-19 8.5-11.7M463.4 403.1l12.7-19.7 8.5-12.1M470.1 410.8l12.7-20.2 8.5-12.5M476.8 418.6l12.7-20.8 8.5-12.9M483.5 426.4l12.7-21.4 8.5-13.3M490.2 434.2l12.7-22 8.5-13.6M496.9 442.1l12.7-22.6 8.5-14M503.6 450l12.7-23.2 8.5-14.4M510.3 457.8l12.7-23.6 8.5-14.8M517 465.7l12.7-24.2 8.5-15.2M523.7 473.5l12.7-24.7 8.5-15.5M530.4 481.4l12.7-25.2 8.5-15.9M537.1 489.2l12.7-25.7 8.5-16.2M543.8 497l12.7-26.2 8.5-16.5M550.6 504.8l12.6-26.7 8.5-16.8M557.3 512.5l12.7-27.1 8.4-17.1M564 520.2l12.7-27.5 8.4-17.5M570.7 527.8l12.7-27.9 8.4-17.7M577.4 535.4l12.7-28.3 8.4-18M584.1 542.9l12.7-28.7 8.4-18.3M590.8 550.4l12.7-29.1 8.4-18.5M597.5 557.8l12.7-29.4 8.4-18.8M604.2 565.1l12.7-29.7 8.4-19.1M610.9 572.3l12.7-30 8.4-19.3M617.6 579.5l12.7-30.4 8.4-19.5M624.3 586.5l12.7-30.6 8.4-19.7M631 593.5l12.7-30.9 8.5-19.9M637.7 600.4l12.7-31.1 8.5-20.1M644.4 607.1l12.7-31.3 8.5-20.2M651.1 613.8l12.7-31.5 8.5-20.4M657.8 620.4l21.2-52.3M664.5 626.8l21.2-52.6M671.2 633.1l21.2-52.8M677.9 639.3l21.2-53.1M684.6 645.4l21.2-53.3M691.3 651.3l21.2-53.4M698 657.1l21.2-53.6M704.7 662.8l21.2-53.7M711.4 668.4l21.2-53.8M718.1 673.8l21.2-53.9M724.8 679.1l21.2-53.9M731.5 684.2l21.2-53.8M738.2 689.3l21.2-53.9M744.9 694.1l21.2-53.7M751.6 698.9l21.2-53.7M758.3 703.5l21.2-53.5M765 707.9l21.2-53.3M771.7 712.2l21.2-53M778.5 716.4l21.1-52.8M785.2 720.5l21.1-52.6M791.9 724.4l21.1-52.2M798.6 728.3l8.4-20.5 12.7-31.5M805.3 731.9l8.4-20.2 12.7-31.3M812 735.5l8.4-20.1 12.7-31.1M818.7 739l8.4-19.9 12.7-30.9M825.4 742.4l8.4-19.7 12.7-30.7M832.1 745.6l8.4-19.4 12.7-30.4M838.8 748.8l8.4-19.2 12.7-30.1M845.5 751.9l8.4-18.9 12.7-29.9M852.2 754.9l8.5-18.7 12.7-29.5M858.9 757.8l8.5-18.3 12.7-29.3M865.6 760.7l8.5-18.1 12.7-28.9M872.3 763.5l8.5-17.7 12.7-28.6M879 766.3l8.5-17.4 12.7-28.3M885.7 769.1l8.5-17.1 12.7-27.9"/></g></mask><filter id="tint" x="0" y="0" width="1" height="1" color-interpolation-filters="sRGB"><feColorMatrix type="matrix" values="0.003 0.036 0.012 0 0.968 -0.175 0.441 -0.073 0 0.752 0.013 -0.167 0.451 0 0.653 0 0 0 1 0"/></filter><filter id="bl" x="0" y="0" width="1400" height="1042" filterUnits="userSpaceOnUse"><feGaussianBlur stdDeviation="0.65"/></filter><filter id="bl2" x="0" y="0" width="1400" height="1042" filterUnits="userSpaceOnUse"><feGaussianBlur stdDeviation="0.45"/></filter><clipPath id="sil"><path d="M638.7 241.4l13.4-.5 20.1-.4 13.4 0 20.1 .4 20.1 .9 13.4 .8 20.2 1.7 13.4 1.3 20.1 2.4 13.4 1.9 20.1 3.2 13.4 2.5 13.4 2.6 20.1 4.4 13.4 3.2 20.1 5.2 26.8 7.6 26.8 8.5 26.9 9.1 26.8 9.7 20.1 7.7 26.8 10.5 100.5 40.9 40.3 16 46.9 17.9 60.3 21.8 0 0-21.2 2.8 0 0-53.6-19.9-46.9-18-40.2-16-93.9-38.3-26.8-10.6-26.8-10.2-26.8-9.6-26.8-9-26.8-8.3-26.8-7.5-20.2-5.1-13.4-3.1-13.4-2.9-20.1-3.9-13.4-2.4-20.1-3.1-13.4-1.8-20.1-2.3-13.4-1.3-20.1-1.6-13.4-.8-20.1-.9-13.4-.4-20.1-.3-20.2 .1-20.1 .5 0 0 12.7-2.8 8.5-2.6z"/><path d="M617.5 246.8l20.1-.5 20.2-.1 20.1 .3 13.4 .4 20.1 .9 13.4 .8 20.1 1.6 13.4 1.3 20.1 2.3 13.4 1.8 20.1 3.1 13.4 2.4 20.1 3.9 13.4 2.9 13.4 3.1 20.2 5.1 26.8 7.5 26.8 8.3 26.8 9 26.8 9.6 26.8 10.2 26.8 10.6 93.9 38.3 40.2 16 46.9 18 53.6 19.9 0 0-21.1 3 0 0-53.7-20.2-40.2-15.6-40.2-16.1-93.8-38.4-26.8-10.6-20.2-7.7-33.5-12.2-26.8-9.1-26.8-8.3-26.8-7.5-20.1-5.1-13.4-3.1-13.4-2.9-20.1-3.9-13.4-2.3-20.1-3.1-13.5-1.8-20.1-2.4-13.4-1.3-20.1-1.6-33.5-2-20.1-.7-20.1-.4-20.1-.2-20.1 .1 0 0 21.1-3.3z"/><path d="M596.4 250.1l20.1-.1 20.1 .2 20.1 .4 20.1 .7 33.5 2 20.1 1.6 13.4 1.3 20.1 2.4 13.5 1.8 20.1 3.1 13.4 2.3 20.1 3.9 13.4 2.9 13.4 3.1 20.1 5.1 26.8 7.5 26.8 8.3 26.8 9.1 33.5 12.2 20.2 7.7 26.8 10.6 93.8 38.4 40.2 16.1 40.2 15.6 53.7 20.2 0 0-21.2 3.1 0 0-53.6-20.4-40.2-15.8-40.3-16.2-87.1-35.6-26.8-10.7-26.8-10.3-26.8-9.7-26.8-9.1-26.9-8.4-26.8-7.6-20.1-5.1-13.4-3.1-26.8-5.6-13.4-2.5-20.1-3.3-13.4-2-20.1-2.5-13.4-1.4-20.1-1.9-20.1-1.5-20.2-1.2-40.2-1.5-46.9-.8 0 0 21.2-3.3z"/><path d="M575.2 253.4l46.9 .8 40.2 1.5 20.2 1.2 20.1 1.5 20.1 1.9 13.4 1.4 20.1 2.5 13.4 2 20.1 3.3 13.4 2.5 26.8 5.6 13.4 3.1 20.1 5.1 26.8 7.6 26.9 8.4 26.8 9.1 26.8 9.7 26.8 10.3 26.8 10.7 87.1 35.6 40.3 16.2 40.2 15.8 53.6 20.4 0 0-21.2 2.9 0 0-60.3-23.2-33.5-13.1-33.5-13.4-93.9-38.3-26.8-10.5-20.1-7.7-33.5-12.2-26.8-9-26.8-8.2-26.8-7.4-20.1-5-13.4-3.1-26.9-5.5-13.4-2.3-20.1-3.2-13.4-1.9-20.1-2.4-13.4-1.4-20.1-1.8-33.5-2.3-40.2-1.7-53.7-1.5 0 0 21.2-4z"/><path d="M554 257.4l53.7 1.5 40.2 1.7 33.5 2.3 20.1 1.8 13.4 1.4 20.1 2.4 13.4 1.9 20.1 3.2 13.4 2.3 26.9 5.5 13.4 3.1 20.1 5 26.8 7.4 26.8 8.2 26.8 9 33.5 12.2 20.1 7.7 26.8 10.5 93.9 38.3 33.5 13.4 33.5 13.1 60.3 23.2 0 0-21.1 2.5 0 0-60.4-23.2-33.5-13-33.5-13.4-87.1-35.2-26.8-10.5-26.8-10.2-33.6-12-26.8-8.8-26.8-8.2-26.8-7.2-20.1-4.9-13.4-3-26.8-5.3-13.4-2.3-20.1-3-13.4-1.8-20.2-2.3-13.4-1.4-20.1-1.6-33.5-2.1-40.2-1.7-53.6-1.6 0 0 21.1-4.9z"/><path d="M532.9 262.3l53.6 1.6 40.2 1.7 33.5 2.1 20.1 1.6 13.4 1.4 20.2 2.3 13.4 1.8 20.1 3 13.4 2.3 26.8 5.3 13.4 3 20.1 4.9 26.8 7.2 26.8 8.2 26.8 8.8 33.6 12 26.8 10.2 26.8 10.5 87.1 35.2 33.5 13.4 33.5 13 60.4 23.2 0 0-21.2 2 0 0-93.8-36-120.7-48-26.8-10.4-26.8-10.1-33.5-11.8-26.8-8.7-26.8-8-26.9-7.1-20.1-4.8-13.4-2.9-26.8-5.1-26.8-4.2-13.4-1.8-20.1-2.3-13.4-1.3-20.1-1.6-33.5-2-40.3-1.5-60.3-1.5 0 0 21.2-5.6z"/><path d="M511.7 267.9l60.3 1.5 40.3 1.5 33.5 2 20.1 1.6 13.4 1.3 20.1 2.3 13.4 1.8 26.8 4.2 26.8 5.1 13.4 2.9 20.1 4.8 26.9 7.1 26.8 8 26.8 8.7 33.5 11.8 26.8 10.1 26.8 10.4 120.7 48 93.8 36 0 0-21.2 2 0 0-100.5-38.6-120.7-47.6-26.8-10.2-20.1-7.4-33.5-11.8-26.8-8.6-26.8-7.9-26.8-7-20.1-4.7-13.4-2.8-26.9-5-13.4-2.1-20.1-2.8-13.4-1.6-20.1-2-13.4-1.1-20.1-1.3-33.5-1.5-33.5-.9-60.4-.8 0 0 21.2-5.4z"/><path d="M490.5 273.3l60.4 .8 33.5 .9 33.5 1.5 20.1 1.3 13.4 1.1 20.1 2 13.4 1.6 20.1 2.8 13.4 2.1 26.9 5 13.4 2.8 20.1 4.7 26.8 7 26.8 7.9 26.8 8.6 33.5 11.8 20.1 7.4 26.8 10.2 120.7 47.6 100.5 38.6 0 0-21.1 2.2 0 0-107.3-41.3-113.9-44.8-26.8-10.3-20.1-7.4-33.6-11.7-26.8-8.7-26.8-7.8-26.8-7-20.1-4.7-13.4-2.8-26.8-4.9-13.4-2.1-20.1-2.7-13.4-1.5-20.1-1.9-13.5-1.1-20.1-1.1-33.5-1.2-40.2-.5-53.6 .2 0 0 8.4-1.7 12.7-2.9z"/><path d="M469.4 277.9l53.6-.2 40.2 .5 33.5 1.2 20.1 1.1 13.5 1.1 20.1 1.9 13.4 1.5 20.1 2.7 13.4 2.1 26.8 4.9 13.4 2.8 20.1 4.7 26.8 7 26.8 7.8 26.8 8.7 33.6 11.7 20.1 7.4 26.8 10.3 113.9 44.8 107.3 41.3 0 0-12.7 1.9-8.5 1.5 0 0-26.8-10.7-87.1-33.9-107.3-42.7-26.8-10.3-20.1-7.6-33.5-11.9-26.8-8.8-20.1-6.1-13.4-3.8-26.9-6.9-20.1-4.6-13.4-2.7-13.4-2.5-13.4-2.3-13.4-2-20.1-2.5-13.4-1.4-20.1-1.7-13.4-.9-20.1-.9-33.5-.8-40.3 .2-46.9 1.1 0 0 8.5-1 12.7-2z"/><path d="M448.2 280.9l46.9-1.1 40.3-.2 33.5 .8 20.1 .9 13.4 .9 20.1 1.7 13.4 1.4 20.1 2.5 13.4 2 13.4 2.3 13.4 2.5 13.4 2.7 20.1 4.6 26.9 6.9 13.4 3.8 20.1 6.1 26.8 8.8 33.5 11.9 20.1 7.6 26.8 10.3 107.3 42.7 87.1 33.9 26.8 10.7 0 0-12.7 2.9-8.4 2.4 0 0-26.9-11-93.8-37.5-107.3-43.8-26.8-10.7-20.1-7.7-33.5-12.2-26.8-9-26.8-8.2-26.8-7.3-20.1-4.8-13.4-2.9-13.4-2.7-13.5-2.4-13.4-2.1-20.1-2.7-13.4-1.5-20.1-1.8-13.4-.9-20.1-1-13.4-.4-20.1-.2-20.1 .1-20.1 .5-47 1.9 0 0 8.5 0 12.7-.7z"/><path d="M427 281.6l47-1.9 20.1-.5 20.1-.1 20.1 .2 13.4 .4 20.1 1 13.4 .9 20.1 1.8 13.4 1.5 20.1 2.7 13.4 2.1 13.5 2.4 13.4 2.7 13.4 2.9 20.1 4.8 26.8 7.3 26.8 8.2 26.8 9 33.5 12.2 20.1 7.7 26.8 10.7 107.3 43.8 93.8 37.5 26.9 11 0 0-8.5 3-4.2 1.6-8.5 3.9 0 0-33.5-14.4-93.9-39.1-107.2-45.9-26.8-11.1-20.1-8.2-33.6-12.8-26.8-9.5-26.8-8.7-26.8-7.7-20.1-5.2-13.4-3-13.4-2.9-13.4-2.5-13.4-2.3-20.1-2.9-13.4-1.6-20.1-1.9-13.5-.9-20.1-1-13.4-.3-20.1-.2-20.1 .3-20.1 .7-20.1 1-20.1 1.3 0 0 8.5 1.1 12.6 .9z"/><path d="M405.9 279.6l20.1-1.3 20.1-1 20.1-.7 20.1-.3 20.1 .2 13.4 .3 20.1 1 13.5 .9 20.1 1.9 13.4 1.6 20.1 2.9 13.4 2.3 13.4 2.5 13.4 2.9 13.4 3 20.1 5.2 26.8 7.7 26.8 8.7 26.8 9.5 33.6 12.8 20.1 8.2 26.8 11.1 107.2 45.9 93.9 39.1 33.5 14.4 0 0-8.5 4.5-4.2 2.5-8.5 5.7 0 0-26.8-12.2-100.5-44.3-120.7-55.2-26.8-11.9-20.1-8.7-33.5-13.7-26.8-10.1-26.9-9.3-13.4-4.2-13.4-4-20.1-5.5-13.4-3.3-20.1-4.5-13.4-2.5-13.4-2.3-13.4-2-13.4-1.7-20.1-2-13.4-1-20.1-1-13.4-.3-20.1 0-13.5 .2-20.1 .8-13.4 .8-20.1 1.5 0 0 12.7 3.3 8.5 1.6z"/><path d="M384.7 274.7l20.1-1.5 13.4-.8 20.1-.8 13.5-.2 20.1 0 13.4 .3 20.1 1 13.4 1 20.1 2 13.4 1.7 13.4 2 13.4 2.3 13.4 2.5 20.1 4.5 13.4 3.3 20.1 5.5 13.4 4 13.4 4.2 26.9 9.3 26.8 10.1 33.5 13.7 20.1 8.7 26.8 11.9 120.7 55.2 100.5 44.3 26.8 12.2 0 0-8.4 6.5-4.3 3.6-8.4 8 0 0-26.9-13-67-31.4-40.2-19.3-40.2-19.8-87.2-43.6-26.8-13-20.1-9.5-26.8-12.1-26.8-11.4-26.8-10.5-13.4-4.8-13.4-4.6-20.1-6.4-13.4-3.8-20.2-5.2-13.4-3.1-13.4-2.8-13.4-2.4-13.4-2.1-20.1-2.6-13.4-1.3-13.4-1-13.4-.8-20.1-.5-13.4 .1-20.1 .5-13.4 .7-20.1 1.5 0 0 12.7 4.9 8.4 2.8z"/><path d="M363.6 267l20.1-1.5 13.4-.7 20.1-.5 13.4-.1 20.1 .5 13.4 .8 13.4 1 13.4 1.3 20.1 2.6 13.4 2.1 13.4 2.4 13.4 2.8 13.4 3.1 20.2 5.2 13.4 3.8 20.1 6.4 13.4 4.6 13.4 4.8 26.8 10.5 26.8 11.4 26.8 12.1 20.1 9.5 26.8 13 87.2 43.6 40.2 19.8 40.2 19.3 67 31.4 26.9 13 0 0-8.5 8.9-4.2 4.9-8.5 10.6 0 0-26.8-13.9-73.8-37.1-40.2-21-46.9-25.4-93.8-52.1-26.8-14.4-20.2-10.5-26.8-13.5-26.8-12.6-13.4-5.9-13.4-5.7-20.1-8-20.1-7.3-13.4-4.5-13.4-4.1-13.4-3.8-20.1-5.1-13.4-2.9-13.4-2.6-13.5-2.2-13.4-1.8-13.4-1.5-13.4-1.2-20.1-1-13.4-.3-13.4 .1-13.4 .4-20.1 1.2 0 0 12.7 6.3 8.5 3.8z"/><path d="M342.4 256.9l20.1-1.2 13.4-.4 13.4-.1 13.4 .3 20.1 1 13.4 1.2 13.4 1.5 13.4 1.8 13.5 2.2 13.4 2.6 13.4 2.9 20.1 5.1 13.4 3.8 13.4 4.1 13.4 4.5 20.1 7.3 20.1 8 13.4 5.7 13.4 5.9 26.8 12.6 26.8 13.5 20.2 10.5 26.8 14.4 93.8 52.1 46.9 25.4 40.2 21 73.8 37.1 26.8 13.9 0 0-8.5 11.6-4.2 6.3-8.5 13.3 0 0-20.1-11-73.7-39.7-26.8-15-26.8-15.4-26.9-15.9-26.8-16.3-107.2-66.8-26.8-16.2-20.1-11.7-26.8-15-20.2-10.6-20.1-10-20.1-9.3-20.1-8.6-13.4-5.3-13.4-5-13.4-4.6-13.4-4.2-13.4-3.8-13.4-3.4-13.4-3-20.1-3.7-13.4-2-13.4-1.6-13.5-1.1-13.4-.8-13.4-.3-13.4 .1-13.4 .5 0 0 12.7 7.3 8.5 4.5z"/><path d="M321.2 245.1l13.4-.5 13.4-.1 13.4 .3 13.4 .8 13.5 1.1 13.4 1.6 13.4 2 20.1 3.7 13.4 3 13.4 3.4 13.4 3.8 13.4 4.2 13.4 4.6 13.4 5 13.4 5.3 20.1 8.6 20.1 9.3 20.1 10 20.2 10.6 26.8 15 20.1 11.7 26.8 16.2 107.2 66.8 26.8 16.3 26.9 15.9 26.8 15.4 26.8 15 73.7 39.7 20.1 11 0 0-8.4 14.4-4.3 7.7-8.4 16 0 0-67.1-38-26.8-15.5-26.8-16.1-26.8-16.7-26.8-17.4-33.5-22.6-33.5-23.4-80.5-57-26.8-18.5-20.1-13.5-26.8-17.4-20.1-12.3-13.4-7.9-13.4-7.6-20.1-10.8-13.5-6.8-13.4-6.3-13.4-6-13.4-5.6-13.4-5.1-13.4-4.7-13.4-4.3-13.4-3.8-13.4-3.4-13.4-2.8-13.4-2.4-13.4-1.9-13.4-1.4-13.4-.9-13.4-.3-6.7 0 0 0 21.1 12.6z"/><path d="M300.1 232.5l6.7 0 13.4 .3 13.4 .9 13.4 1.4 13.4 1.9 13.4 2.4 13.4 2.8 13.4 3.4 13.4 3.8 13.4 4.3 13.4 4.7 13.4 5.1 13.4 5.6 13.4 6 13.4 6.3 13.5 6.8 20.1 10.8 13.4 7.6 13.4 7.9 20.1 12.3 26.8 17.4 20.1 13.5 26.8 18.5 80.5 57 33.5 23.4 33.5 22.6 26.8 17.4 26.8 16.7 26.8 16.1 26.8 15.5 67.1 38 0 0-8.5 17-12.7 27 0 0-60.3-35-33.5-20.2-20.2-12.7-20.1-13.1-13.4-9.1-20.1-14.1-13.4-9.6-20.1-14.9-33.5-25.8-33.5-26.6-80.5-64.9-26.8-21-20.1-15.4-26.8-19.6-20.1-14.1-20.1-13.3-20.1-12.5-13.4-7.8-13.4-7.5-13.4-7-13.4-6.5-13.5-6.1-13.4-5.5-13.4-5.1-6.7-2.3-13.4-4.2-13.4-3.7-13.4-3.1-6.7-1.4-13.4-2.2-6.7-.9-13.4-1.4-6.7-.4 0 0 21.2 12.6z"/><path d="M278.9 219.9l6.7 .4 13.4 1.4 6.7 .9 13.4 2.2 6.7 1.4 13.4 3.1 13.4 3.7 13.4 4.2 6.7 2.3 13.4 5.1 13.4 5.5 13.5 6.1 13.4 6.5 13.4 7 13.4 7.5 13.4 7.8 20.1 12.5 20.1 13.3 20.1 14.1 26.8 19.6 20.1 15.4 26.8 21 80.5 64.9 33.5 26.6 33.5 25.8 20.1 14.9 13.4 9.6 20.1 14.1 13.4 9.1 20.1 13.1 20.2 12.7 33.5 20.2 60.3 35 0 0-8.5 18.9-12.7 29.3 0 0-40.2-22.9-20.1-11.7-20.1-12.1-20.1-12.6-20.1-13.3-20.1-14.1-20.1-14.7-20.2-15.4-13.4-10.7-20.1-16.5-20.1-17.1-20.1-17.5-33.5-30.2-87.1-79.9-20.1-18-20.2-17.6-26.8-22.6-20.1-16.1-20.1-15.4-20.1-14.5-13.4-9.1-13.4-8.7-20.1-12-13.4-7.3-6.7-3.5-13.4-6.5-6.7-3-13.4-5.6-6.7-2.6-13.4-4.6-6.8-2.1-13.4-3.6-6.7-1.6-13.4-2.6-6.7-1 0 0 8.5 4.4 12.7 7.1z"/><path d="M257.7 208.4l6.7 1 13.4 2.6 6.7 1.6 13.4 3.6 6.8 2.1 13.4 4.6 6.7 2.6 13.4 5.6 6.7 3 13.4 6.5 6.7 3.5 13.4 7.3 20.1 12 13.4 8.7 13.4 9.1 20.1 14.5 20.1 15.4 20.1 16.1 26.8 22.6 20.2 17.6 20.1 18 87.1 79.9 33.5 30.2 20.1 17.5 20.1 17.1 20.1 16.5 13.4 10.7 20.2 15.4 20.1 14.7 20.1 14.1 20.1 13.3 20.1 12.6 20.1 12.1 20.1 11.7 40.2 22.9 0 0-21.1 49 0 0-33.5-17.4-26.9-14.7-13.4-7.7-13.4-8-20.1-12.7-20.1-13.6-20.1-14.6-20.1-15.5-13.4-10.8-13.4-11.2-20.1-17.6-20.1-18.4-20.1-19.2-20.2-19.7-20.1-20.2-20.1-20.6-87.1-90.5-26.8-27.1-20.1-19.7-20.1-19-20.2-18.2-20.1-17.3-20.1-16.3-20.1-15.1-13.4-9.4-6.7-4.5-13.4-8.5-6.7-3.9-13.4-7.5-13.4-6.8-6.7-3.1-13.4-5.7-13.4-4.9-6.7-2.1-13.4-3.7 0 0 8.4 3.5 12.7 6z"/><path d="M236.6 198.9l13.4 3.7 6.7 2.1 13.4 4.9 13.4 5.7 6.7 3.1 13.4 6.8 13.4 7.5 6.7 3.9 13.4 8.5 6.7 4.5 13.4 9.4 20.1 15.1 20.1 16.3 20.1 17.3 20.2 18.2 20.1 19 20.1 19.7 26.8 27.1 87.1 90.5 20.1 20.6 20.1 20.2 20.2 19.7 20.1 19.2 20.1 18.4 20.1 17.6 13.4 11.2 13.4 10.8 20.1 15.5 20.1 14.6 20.1 13.6 20.1 12.7 13.4 8 13.4 7.7 26.9 14.7 33.5 17.4 0 0-12.7 27.9-8.5 17.1 0 0-26.8-11.3-13.4-5.9-13.4-6.3-13.4-6.6-13.4-7.1-20.1-11.4-13.5-8.3-13.4-8.7-20.1-14.2-20.1-15.5-20.1-16.7-20.1-17.8-13.4-12.5-13.4-13-20.1-20.3-13.4-14-13.4-14.4-20.1-22.2-26.8-30.4-87.2-101.7-33.5-38.3-20.1-22.3-20.1-21.5-20.1-20.7-13.4-13.2-20.1-18.9-20.2-17.6-13.4-11-6.7-5.2-13.4-9.9-6.7-4.7-13.4-8.8-6.7-4.1-13.4-7.6-13.4-6.8-6.7-3-13.4-5.3 0 0 8.5 2.5 12.7 4.5z"/></clipPath><filter id="dil" x="0" y="0" width="1400" height="1042" filterUnits="userSpaceOnUse"><feMorphology in="SourceGraphic" operator="dilate" radius="2" result="d"/><feMerge><feMergeNode in="d"/><feMergeNode in="SourceGraphic"/></feMerge></filter><g id="cl" shape-rendering="crispEdges" filter="url(#dil)"><path fill="#43a087" stroke="#43a087" stroke-width="6" shape-rendering="auto" d="M630.2 244l13.4-.5 8.5-2.6-13.4 .5z"/><path fill="#44a186" stroke="#44a186" stroke-width="6" shape-rendering="auto" d="M643.6 243.5l13.4-.3 8.5-2.6-13.4 .3z"/><path fill="#45a286" stroke="#45a286" stroke-width="6" shape-rendering="auto" d="M657 243.2l13.5-.1 8.4-2.6-13.4 .1z"/><path fill="#46a285" stroke="#46a285" stroke-width="6" shape-rendering="auto" d="M670.5 243.1l13.4 .2 8.4-2.7-13.4-.1z"/><path fill="#47a384" stroke="#47a384" stroke-width="6" shape-rendering="auto" d="M683.9 243.3l13.4 .3 8.4-2.7-13.4-.3z"/><path fill="#48a383" stroke="#48a383" stroke-width="6" shape-rendering="auto" d="M697.3 243.6l13.4 .4 8.4-2.5-13.4-.6z"/><path fill="#48a483" stroke="#48a483" stroke-width="6" shape-rendering="auto" d="M710.7 244l13.4 .7 8.4-2.5-13.4-.7z"/><path fill="#49a482" stroke="#49a482" stroke-width="6" shape-rendering="auto" d="M724.1 244.7l13.4 .9 8.4-2.5-13.4-.9z"/><path fill="#49a581" stroke="#49a581" stroke-width="6" shape-rendering="auto" d="M737.5 245.6l13.4 1.1 8.5-2.4-13.5-1.2z"/><path fill="#4aa581" stroke="#4aa581" stroke-width="6" shape-rendering="auto" d="M750.9 246.7l13.4 1.2 8.5-2.3-13.4-1.3z"/><path fill="#4aa581" stroke="#4aa581" stroke-width="6" shape-rendering="auto" d="M764.3 247.9l13.4 1.5 8.5-2.2-13.4-1.6z"/><path fill="#4ba680" stroke="#4ba680" stroke-width="6" shape-rendering="auto" d="M777.7 249.4l13.4 1.7 8.5-2.2-13.4-1.7z"/><path fill="#4ba680" stroke="#4ba680" stroke-width="6" shape-rendering="auto" d="M791.1 251.1l13.4 1.9 8.5-2.1-13.4-2z"/><path fill="#4ba680" stroke="#4ba680" stroke-width="6" shape-rendering="auto" d="M804.5 253l13.4 2.1 8.5-2-13.4-2.2z"/><path fill="#4ba680" stroke="#4ba680" stroke-width="6" shape-rendering="auto" d="M817.9 255.1l13.4 2.4 8.5-1.9-13.4-2.5z"/><path fill="#4ba680" stroke="#4ba680" stroke-width="6" shape-rendering="auto" d="M831.3 257.5l13.4 2.5 8.5-1.8-13.4-2.6z"/><path fill="#4ba680" stroke="#4ba680" stroke-width="6" shape-rendering="auto" d="M844.7 260l13.4 2.8 8.5-1.7-13.4-2.9z"/><path fill="#4aa680" stroke="#4aa680" stroke-width="6" shape-rendering="auto" d="M858.1 262.8l13.4 3 8.5-1.6-13.4-3.1z"/><path fill="#4aa581" stroke="#4aa581" stroke-width="6" shape-rendering="auto" d="M871.5 265.8l13.4 3.2 8.5-1.5-13.4-3.3z"/><path fill="#4aa581" stroke="#4aa581" stroke-width="6" shape-rendering="auto" d="M884.9 269l13.5 3.4 8.4-1.4-13.4-3.5z"/><path fill="#49a582" stroke="#49a582" stroke-width="6" shape-rendering="auto" d="M898.4 272.4l13.4 3.7 8.4-1.4-13.4-3.7z"/><path fill="#49a482" stroke="#49a482" stroke-width="6" shape-rendering="auto" d="M911.8 276.1l13.4 3.8 8.4-1.3-13.4-3.9z"/><path fill="#48a483" stroke="#48a483" stroke-width="6" shape-rendering="auto" d="M925.2 279.9l13.4 4 8.4-1.1-13.4-4.2z"/><path fill="#47a383" stroke="#47a383" stroke-width="6" shape-rendering="auto" d="M938.6 283.9l13.4 4.3 8.4-1.1-13.4-4.3z"/><path fill="#47a384" stroke="#47a384" stroke-width="6" shape-rendering="auto" d="M952 288.2l13.4 4.4 8.4-1.1-13.4-4.4z"/><path fill="#46a285" stroke="#46a285" stroke-width="6" shape-rendering="auto" d="M965.4 292.6l13.4 4.6 8.5-1-13.5-4.7z"/><path fill="#45a186" stroke="#45a186" stroke-width="6" shape-rendering="auto" d="M978.8 297.2l13.4 4.7 8.5-.9-13.4-4.8z"/><path fill="#44a187" stroke="#44a187" stroke-width="6" shape-rendering="auto" d="M992.2 301.9l13.4 4.9 8.5-.9-13.4-4.9z"/><path fill="#43a088" stroke="#43a088" stroke-width="6" shape-rendering="auto" d="M1005.6 306.8l13.4 5 8.5-.8-13.4-5.1z"/><path fill="#429f88" stroke="#429f88" stroke-width="6" shape-rendering="auto" d="M1019 311.8l13.4 5.2 8.5-.8-13.4-5.2z"/><path fill="#419e8a" stroke="#419e8a" stroke-width="6" shape-rendering="auto" d="M1032.4 317l13.4 5.2 8.5-.7-13.4-5.3z"/><path fill="#409d8a" stroke="#409d8a" stroke-width="6" shape-rendering="auto" d="M1045.8 322.2l13.4 5.3 8.5-.7-13.4-5.3z"/><path fill="#3f9c8b" stroke="#3f9c8b" stroke-width="6" shape-rendering="auto" d="M1059.2 327.5l13.4 5.4 8.5-.7-13.4-5.4z"/><path fill="#3f9b8c" stroke="#3f9b8c" stroke-width="6" shape-rendering="auto" d="M1072.6 332.9l13.4 5.5 8.5-.7-13.4-5.5z"/><path fill="#3f998c" stroke="#3f998c" stroke-width="6" shape-rendering="auto" d="M1086 338.4l13.4 5.4 8.5-.6-13.4-5.5z"/><path fill="#3e988d" stroke="#3e988d" stroke-width="6" shape-rendering="auto" d="M1099.4 343.8l13.4 5.5 8.5-.7-13.4-5.4z"/><path fill="#3e978e" stroke="#3e978e" stroke-width="6" shape-rendering="auto" d="M1112.8 349.3l13.5 5.5 8.4-.7-13.4-5.5z"/><path fill="#3e958f" stroke="#3e958f" stroke-width="6" shape-rendering="auto" d="M1126.3 354.8l13.4 5.5 8.4-.7-13.4-5.5z"/><path fill="#3d9492" stroke="#3d9492" stroke-width="6" shape-rendering="auto" d="M1139.7 360.3l13.4 5.4 8.4-.7-13.4-5.4z"/><path fill="#3c9394" stroke="#3c9394" stroke-width="6" shape-rendering="auto" d="M1153.1 365.7l13.4 5.4 8.4-.7-13.4-5.4z"/><path fill="#3b9197" stroke="#3b9197" stroke-width="6" shape-rendering="auto" d="M1166.5 371.1l13.4 5.4 8.4-.7-13.4-5.4z"/><path fill="#3b9099" stroke="#3b9099" stroke-width="6" shape-rendering="auto" d="M1179.9 376.5l13.4 5.3 8.5-.8-13.5-5.2z"/><path fill="#3a8f9b" stroke="#3a8f9b" stroke-width="6" shape-rendering="auto" d="M1193.3 381.8l13.4 5.2 8.5-.8-13.4-5.2z"/><path fill="#3a8e9c" stroke="#3a8e9c" stroke-width="6" shape-rendering="auto" d="M1206.7 387l13.4 5.1 8.5-.8-13.4-5.1z"/><path fill="#398d9d" stroke="#398d9d" stroke-width="6" shape-rendering="auto" d="M1220.1 392.1l13.4 5.1 8.5-.8-13.4-5.1z"/><path fill="#398c9e" stroke="#398c9e" stroke-width="6" shape-rendering="auto" d="M1233.5 397.2l13.4 5 8.5-.9-13.4-4.9z"/><path fill="#388b9f" stroke="#388b9f" stroke-width="6" shape-rendering="auto" d="M1246.9 402.2l13.4 5 8.5-1-13.4-4.9z"/><path fill="#388aa0" stroke="#388aa0" stroke-width="6" shape-rendering="auto" d="M1260.3 407.2l13.4 4.8 8.5-.9-13.4-4.9z"/><path fill="#3889a1" stroke="#3889a1" stroke-width="6" shape-rendering="auto" d="M1273.7 412l13.4 4.9 8.5-1-13.4-4.8z"/><path fill="#3788a2" stroke="#3788a2" stroke-width="6" shape-rendering="auto" d="M1287.1 416.9l13.4 4.9 8.5-1.1-13.4-4.8z"/><path fill="#43a087" stroke="#43a087" stroke-width="6" shape-rendering="auto" d="M621.8 245.9l13.4-.4 8.4-2-13.4 .5z"/><path fill="#44a186" d="M635.2 245.5l13.4-.2 8.4-2.1-13.4 .3z"/><path fill="#45a285" d="M648.6 245.3l13.4 0 8.5-2.2-13.5 .1z"/><path fill="#46a384" d="M662 245.3l13.4 .1 8.5-2.1-13.4-.2z"/><path fill="#47a383" d="M675.4 245.4l13.4 .3 8.5-2.1-13.4-.3z"/><path fill="#48a483" d="M688.8 245.7l13.4 .5 8.5-2.2-13.4-.4z"/><path fill="#49a482" d="M702.2 246.2l13.4 .7 8.5-2.2-13.4-.7z"/><path fill="#49a581" d="M715.6 246.9l13.4 .8 8.5-2.1-13.4-.9z"/><path fill="#4aa581" d="M729 247.7l13.4 1 8.5-2-13.4-1.1z"/><path fill="#4aa680" d="M742.4 248.7l13.4 1.2 8.5-2-13.4-1.2z"/><path fill="#4ba680" d="M755.8 249.9l13.4 1.5 8.5-2-13.4-1.5z"/><path fill="#4ba680" d="M769.2 251.4l13.4 1.6 8.5-1.9-13.4-1.7z"/><path fill="#4ba680" d="M782.6 253l13.4 1.8 8.5-1.8-13.4-1.9z"/><path fill="#4ba680" d="M796 254.8l13.5 2 8.4-1.7-13.4-2.1z"/><path fill="#4ba680" d="M809.5 256.8l13.4 2.3 8.4-1.6-13.4-2.4z"/><path fill="#4ba680" d="M822.9 259.1l13.4 2.5 8.4-1.6-13.4-2.5z"/><path fill="#4ba680" d="M836.3 261.6l13.4 2.7 8.4-1.5-13.4-2.8z"/><path fill="#4ba680" d="M849.7 264.3l13.4 2.9 8.4-1.4-13.4-3z"/><path fill="#4ba680" d="M863.1 267.2l13.4 3.1 8.4-1.3-13.4-3.2z"/><path fill="#4ba680" d="M876.5 270.3l13.4 3.4 8.5-1.3-13.5-3.4z"/><path fill="#4aa581" d="M889.9 273.7l13.4 3.6 8.5-1.2-13.4-3.7z"/><path fill="#4aa581" d="M903.3 277.3l13.4 3.7 8.5-1.1-13.4-3.8z"/><path fill="#49a582" d="M916.7 281l13.4 4 8.5-1.1-13.4-4z"/><path fill="#48a482" d="M930.1 285l13.4 4.2 8.5-1-13.4-4.3z"/><path fill="#48a483" d="M943.5 289.2l13.4 4.4 8.5-1-13.4-4.4z"/><path fill="#47a384" d="M956.9 293.6l13.4 4.5 8.5-.9-13.4-4.6z"/><path fill="#46a285" d="M970.3 298.1l13.4 4.7 8.5-.9-13.4-4.7z"/><path fill="#45a286" d="M983.7 302.8l13.4 4.9 8.5-.9-13.4-4.9z"/><path fill="#44a186" d="M997.1 307.7l13.4 4.9 8.5-.8-13.4-5z"/><path fill="#43a087" d="M1010.5 312.6l13.4 5.1 8.5-.7-13.4-5.2z"/><path fill="#429f88" d="M1023.9 317.7l13.5 5.3 8.4-.8-13.4-5.2z"/><path fill="#419e89" d="M1037.4 323l13.4 5.3 8.4-.8-13.4-5.3z"/><path fill="#409d8a" d="M1050.8 328.3l13.4 5.3 8.4-.7-13.4-5.4z"/><path fill="#3f9c8b" d="M1064.2 333.6l13.4 5.5 8.4-.7-13.4-5.5z"/><path fill="#3f9b8c" d="M1077.6 339.1l13.4 5.4 8.4-.7-13.4-5.4z"/><path fill="#3f998c" d="M1091 344.5l13.4 5.5 8.4-.7-13.4-5.5z"/><path fill="#3e988d" d="M1104.4 350l13.4 5.5 8.5-.7-13.5-5.5z"/><path fill="#3e978e" d="M1117.8 355.5l13.4 5.5 8.5-.7-13.4-5.5z"/><path fill="#3e958f" d="M1131.2 361l13.4 5.5 8.5-.8-13.4-5.4z"/><path fill="#3d9492" d="M1144.6 366.5l13.4 5.4 8.5-.8-13.4-5.4z"/><path fill="#3c9394" d="M1158 371.9l13.4 5.4 8.5-.8-13.4-5.4z"/><path fill="#3b9197" d="M1171.4 377.3l13.4 5.3 8.5-.8-13.4-5.3z"/><path fill="#3b9099" d="M1184.8 382.6l13.4 5.2 8.5-.8-13.4-5.2z"/><path fill="#3a8f9b" d="M1198.2 387.8l13.4 5.2 8.5-.9-13.4-5.1z"/><path fill="#3a8e9c" d="M1211.6 393l13.4 5.1 8.5-.9-13.4-5.1z"/><path fill="#398d9d" d="M1225 398.1l13.4 5.1 8.5-1-13.4-5z"/><path fill="#398c9e" d="M1238.4 403.2l13.4 4.9 8.5-.9-13.4-5z"/><path fill="#388b9f" d="M1251.8 408.1l13.5 5 8.4-1.1-13.4-4.8z"/><path fill="#388aa0" d="M1265.3 413.1l13.4 4.9 8.4-1.1-13.4-4.9z"/><path fill="#3889a1" stroke="#3889a1" stroke-width="6" shape-rendering="auto" d="M1278.7 418l13.4 4.9 8.4-1.1-13.4-4.9z"/><path fill="#44a186" stroke="#44a186" stroke-width="6" shape-rendering="auto" d="M613.3 247.5l13.4-.3 8.5-1.7-13.4 .4z"/><path fill="#45a285" d="M626.7 247.2l13.4-.1 8.5-1.8-13.4 .2z"/><path fill="#46a384" d="M640.1 247.1l13.4 0 8.5-1.8-13.4 0z"/><path fill="#47a384" d="M653.5 247.1l13.4 .2 8.5-1.9-13.4-.1z"/><path fill="#48a483" d="M666.9 247.3l13.4 .3 8.5-1.9-13.4-.3z"/><path fill="#49a482" d="M680.3 247.6l13.4 .5 8.5-1.9-13.4-.5z"/><path fill="#49a581" d="M693.7 248.1l13.4 .6 8.5-1.8-13.4-.7z"/><path fill="#4aa581" d="M707.1 248.7l13.4 .8 8.5-1.8-13.4-.8z"/><path fill="#4ba680" d="M720.5 249.5l13.5 1 8.4-1.8-13.4-1z"/><path fill="#4ba680" d="M734 250.5l13.4 1.2 8.4-1.8-13.4-1.2z"/><path fill="#4ba680" d="M747.4 251.7l13.4 1.4 8.4-1.7-13.4-1.5z"/><path fill="#4ba680" d="M760.8 253.1l13.4 1.5 8.4-1.6-13.4-1.6z"/><path fill="#4ba680" d="M774.2 254.6l13.4 1.8 8.4-1.6-13.4-1.8z"/><path fill="#4ba780" d="M787.6 256.4l13.4 2 8.5-1.6-13.5-2z"/><path fill="#4ba780" d="M801 258.4l13.4 2.2 8.5-1.5-13.4-2.3z"/><path fill="#4ba780" d="M814.4 260.6l13.4 2.4 8.5-1.4-13.4-2.5z"/><path fill="#4ba780" d="M827.8 263l13.4 2.7 8.5-1.4-13.4-2.7z"/><path fill="#4ba680" d="M841.2 265.7l13.4 2.8 8.5-1.3-13.4-2.9z"/><path fill="#4ba680" d="M854.6 268.5l13.4 3.1 8.5-1.3-13.4-3.1z"/><path fill="#4ba680" d="M868 271.6l13.4 3.3 8.5-1.2-13.4-3.4z"/><path fill="#4ba680" d="M881.4 274.9l13.4 3.5 8.5-1.1-13.4-3.6z"/><path fill="#4ba680" d="M894.8 278.4l13.4 3.8 8.5-1.2-13.4-3.7z"/><path fill="#4aa581" d="M908.2 282.2l13.4 3.9 8.5-1.1-13.4-4z"/><path fill="#4aa581" d="M921.6 286.1l13.4 4.1 8.5-1-13.4-4.2z"/><path fill="#49a482" d="M935 290.2l13.5 4.3 8.4-.9-13.4-4.4z"/><path fill="#48a483" d="M948.5 294.5l13.4 4.5 8.4-.9-13.4-4.5z"/><path fill="#47a384" d="M961.9 299l13.4 4.7 8.4-.9-13.4-4.7z"/><path fill="#46a284" d="M975.3 303.7l13.4 4.8 8.4-.8-13.4-4.9z"/><path fill="#45a285" d="M988.7 308.5l13.4 5 8.4-.9-13.4-4.9z"/><path fill="#44a186" d="M1002.1 313.5l13.4 5.1 8.4-.9-13.4-5.1z"/><path fill="#43a087" d="M1015.5 318.6l13.4 5.2 8.5-.8-13.5-5.3z"/><path fill="#429f88" d="M1028.9 323.8l13.4 5.2 8.5-.7-13.4-5.3z"/><path fill="#419e89" d="M1042.3 329l13.4 5.4 8.5-.8-13.4-5.3z"/><path fill="#409d8a" d="M1055.7 334.4l13.4 5.4 8.5-.7-13.4-5.5z"/><path fill="#3f9c8b" d="M1069.1 339.8l13.4 5.5 8.5-.8-13.4-5.4z"/><path fill="#3f9b8c" d="M1082.5 345.3l13.4 5.5 8.5-.8-13.4-5.5z"/><path fill="#3f998c" d="M1095.9 350.8l13.4 5.5 8.5-.8-13.4-5.5z"/><path fill="#3e988d" d="M1109.3 356.3l13.4 5.5 8.5-.8-13.4-5.5z"/><path fill="#3e978e" d="M1122.7 361.8l13.4 5.5 8.5-.8-13.4-5.5z"/><path fill="#3e958f" d="M1136.1 367.3l13.4 5.4 8.5-.8-13.4-5.4z"/><path fill="#3d9492" d="M1149.5 372.7l13.4 5.4 8.5-.8-13.4-5.4z"/><path fill="#3c9394" d="M1162.9 378.1l13.5 5.3 8.4-.8-13.4-5.3z"/><path fill="#3b9197" d="M1176.4 383.4l13.4 5.3 8.4-.9-13.4-5.2z"/><path fill="#3b9099" d="M1189.8 388.7l13.4 5.2 8.4-.9-13.4-5.2z"/><path fill="#3a8f9b" d="M1203.2 393.9l13.4 5.2 8.4-1-13.4-5.1z"/><path fill="#3a8e9c" d="M1216.6 399.1l13.4 5.1 8.4-1-13.4-5.1z"/><path fill="#398d9d" d="M1230 404.2l13.4 5 8.4-1.1-13.4-4.9z"/><path fill="#398c9e" d="M1243.4 409.2l13.4 5 8.5-1.1-13.5-5z"/><path fill="#388b9f" d="M1256.8 414.2l13.4 4.9 8.5-1.1-13.4-4.9z"/><path fill="#388aa0" stroke="#388aa0" stroke-width="6" shape-rendering="auto" d="M1270.2 419.1l13.4 5 8.5-1.2-13.4-4.9z"/><path fill="#45a285" stroke="#45a285" stroke-width="6" shape-rendering="auto" d="M604.8 248.9l13.4-.2 8.5-1.5-13.4 .3z"/><path fill="#46a284" d="M618.2 248.7l13.4-.1 8.5-1.5-13.4 .1z"/><path fill="#47a384" d="M631.6 248.6l13.5 .1 8.4-1.6-13.4 0z"/><path fill="#48a483" d="M645.1 248.7l13.4 .2 8.4-1.6-13.4-.2z"/><path fill="#49a482" d="M658.5 248.9l13.4 .3 8.4-1.6-13.4-.3z"/><path fill="#4aa581" d="M671.9 249.2l13.4 .5 8.4-1.6-13.4-.5z"/><path fill="#4aa581" d="M685.3 249.7l13.4 .7 8.4-1.7-13.4-.6z"/><path fill="#4ba680" d="M698.7 250.4l13.4 .8 8.4-1.7-13.4-.8z"/><path fill="#4ba680" d="M712.1 251.2l13.4 1 8.5-1.7-13.5-1z"/><path fill="#4ba680" d="M725.5 252.2l13.4 1.1 8.5-1.6-13.4-1.2z"/><path fill="#4ba780" d="M738.9 253.3l13.4 1.4 8.5-1.6-13.4-1.4z"/><path fill="#4ba780" d="M752.3 254.7l13.4 1.5 8.5-1.6-13.4-1.5z"/><path fill="#4ba780" d="M765.7 256.2l13.4 1.7 8.5-1.5-13.4-1.8z"/><path fill="#4ba780" d="M779.1 257.9l13.4 2 8.5-1.5-13.4-2z"/><path fill="#4ba780" d="M792.5 259.9l13.4 2.1 8.5-1.4-13.4-2.2z"/><path fill="#4ba780" d="M805.9 262l13.4 2.4 8.5-1.4-13.4-2.4z"/><path fill="#4ba780" d="M819.3 264.4l13.4 2.6 8.5-1.3-13.4-2.7z"/><path fill="#4ba780" d="M832.7 267l13.4 2.8 8.5-1.3-13.4-2.8z"/><path fill="#4ba780" d="M846.1 269.8l13.5 3.1 8.4-1.3-13.4-3.1z"/><path fill="#4ba780" d="M859.6 272.9l13.4 3.2 8.4-1.2-13.4-3.3z"/><path fill="#4ba680" d="M873 276.1l13.4 3.5 8.4-1.2-13.4-3.5z"/><path fill="#4ba680" d="M886.4 279.6l13.4 3.7 8.4-1.1-13.4-3.8z"/><path fill="#4ba680" d="M899.8 283.3l13.4 3.9 8.4-1.1-13.4-3.9z"/><path fill="#4ba680" d="M913.2 287.2l13.4 4.1 8.4-1.1-13.4-4.1z"/><path fill="#4aa581" d="M926.6 291.3l13.4 4.2 8.5-1-13.5-4.3z"/><path fill="#49a582" d="M940 295.5l13.4 4.5 8.5-1-13.4-4.5z"/><path fill="#48a483" d="M953.4 300l13.4 4.6 8.5-.9-13.4-4.7z"/><path fill="#47a383" d="M966.8 304.6l13.4 4.8 8.5-.9-13.4-4.8z"/><path fill="#46a384" d="M980.2 309.4l13.4 5 8.5-.9-13.4-5z"/><path fill="#45a285" d="M993.6 314.4l13.4 5 8.5-.8-13.4-5.1z"/><path fill="#44a186" d="M1007 319.4l13.4 5.2 8.5-.8-13.4-5.2z"/><path fill="#43a087" d="M1020.4 324.6l13.4 5.3 8.5-.9-13.4-5.2z"/><path fill="#429f88" d="M1033.8 329.9l13.4 5.4 8.5-.9-13.4-5.4z"/><path fill="#419e89" d="M1047.2 335.3l13.4 5.4 8.5-.9-13.4-5.4z"/><path fill="#409d8a" d="M1060.6 340.7l13.4 5.5 8.5-.9-13.4-5.5z"/><path fill="#3f9c8b" d="M1074 346.2l13.5 5.5 8.4-.9-13.4-5.5z"/><path fill="#3f9b8c" d="M1087.5 351.7l13.4 5.5 8.4-.9-13.4-5.5z"/><path fill="#3f998c" d="M1100.9 357.2l13.4 5.5 8.4-.9-13.4-5.5z"/><path fill="#3e988d" d="M1114.3 362.7l13.4 5.5 8.4-.9-13.4-5.5z"/><path fill="#3e968e" d="M1127.7 368.2l13.4 5.4 8.4-.9-13.4-5.4z"/><path fill="#3e9590" d="M1141.1 373.6l13.4 5.4 8.4-.9-13.4-5.4z"/><path fill="#3d9492" d="M1154.5 379l13.4 5.4 8.5-1-13.5-5.3z"/><path fill="#3c9394" d="M1167.9 384.4l13.4 5.3 8.5-1-13.4-5.3z"/><path fill="#3b9197" d="M1181.3 389.7l13.4 5.2 8.5-1-13.4-5.2z"/><path fill="#3b9099" d="M1194.7 394.9l13.4 5.2 8.5-1-13.4-5.2z"/><path fill="#3a8f9b" d="M1208.1 400.1l13.4 5.1 8.5-1-13.4-5.1z"/><path fill="#3a8e9c" d="M1221.5 405.2l13.4 5.1 8.5-1.1-13.4-5z"/><path fill="#398d9d" d="M1234.9 410.3l13.4 5 8.5-1.1-13.4-5z"/><path fill="#398c9e" d="M1248.3 415.3l13.4 5 8.5-1.2-13.4-4.9z"/><path fill="#388b9f" stroke="#388b9f" stroke-width="6" shape-rendering="auto" d="M1261.7 420.3l13.4 5 8.5-1.2-13.4-5z"/><path fill="#46a285" stroke="#46a285" stroke-width="6" shape-rendering="auto" d="M596.4 250.1l13.4-.1 8.4-1.3-13.4 .2z"/><path fill="#47a384" d="M609.8 250l13.4 .1 8.4-1.5-13.4 .1z"/><path fill="#48a483" d="M623.2 250.1l13.4 .1 8.5-1.5-13.5-.1z"/><path fill="#49a482" d="M636.6 250.2l13.4 .2 8.5-1.5-13.4-.2z"/><path fill="#4aa581" d="M650 250.4l13.4 .4 8.5-1.6-13.4-.3z"/><path fill="#4aa681" d="M663.4 250.8l13.4 .5 8.5-1.6-13.4-.5z"/><path fill="#4ba680" d="M676.8 251.3l13.4 .7 8.5-1.6-13.4-.7z"/><path fill="#4ba680" d="M690.2 252l13.4 .8 8.5-1.6-13.4-.8z"/><path fill="#4ba780" d="M703.6 252.8l13.4 1 8.5-1.6-13.4-1z"/><path fill="#4ba780" d="M717 253.8l13.4 1.1 8.5-1.6-13.4-1.1z"/><path fill="#4ba780" d="M730.4 254.9l13.4 1.3 8.5-1.5-13.4-1.4z"/><path fill="#4ba780" d="M743.8 256.2l13.4 1.5 8.5-1.5-13.4-1.5z"/><path fill="#4ba780" d="M757.2 257.7l13.4 1.7 8.5-1.5-13.4-1.7z"/><path fill="#4ba780" d="M770.6 259.4l13.5 2 8.4-1.5-13.4-2z"/><path fill="#4ba780" d="M784.1 261.4l13.4 2.1 8.4-1.5-13.4-2.1z"/><path fill="#4ba780" d="M797.5 263.5l13.4 2.3 8.4-1.4-13.4-2.4z"/><path fill="#4ba780" d="M810.9 265.8l13.4 2.6 8.4-1.4-13.4-2.6z"/><path fill="#4ba780" d="M824.3 268.4l13.4 2.7 8.4-1.3-13.4-2.8z"/><path fill="#4ba780" d="M837.7 271.1l13.4 3 8.5-1.2-13.5-3.1z"/><path fill="#4ba780" d="M851.1 274.1l13.4 3.2 8.5-1.2-13.4-3.2z"/><path fill="#4ba780" d="M864.5 277.3l13.4 3.5 8.5-1.2-13.4-3.5z"/><path fill="#4ba780" d="M877.9 280.8l13.4 3.6 8.5-1.1-13.4-3.7z"/><path fill="#4ba680" d="M891.3 284.4l13.4 3.9 8.5-1.1-13.4-3.9z"/><path fill="#4ba680" d="M904.7 288.3l13.4 4.1 8.5-1.1-13.4-4.1z"/><path fill="#4ba680" d="M918.1 292.4l13.4 4.2 8.5-1.1-13.4-4.2z"/><path fill="#4aa581" d="M931.5 296.6l13.4 4.4 8.5-1-13.4-4.5z"/><path fill="#49a582" d="M944.9 301l13.4 4.7 8.5-1.1-13.4-4.6z"/><path fill="#48a482" d="M958.3 305.7l13.4 4.7 8.5-1-13.4-4.8z"/><path fill="#47a383" d="M971.7 310.4l13.4 5 8.5-1-13.4-5z"/><path fill="#46a384" d="M985.1 315.4l13.5 5 8.4-1-13.4-5z"/><path fill="#45a285" d="M998.6 320.4l13.4 5.2 8.4-1-13.4-5.2z"/><path fill="#44a186" d="M1012 325.6l13.4 5.2 8.4-.9-13.4-5.3z"/><path fill="#43a087" d="M1025.4 330.8l13.4 5.4 8.4-.9-13.4-5.4z"/><path fill="#429f88" d="M1038.8 336.2l13.4 5.4 8.4-.9-13.4-5.4z"/><path fill="#409e8a" d="M1052.2 341.6l13.4 5.5 8.4-.9-13.4-5.5z"/><path fill="#409d8a" d="M1065.6 347.1l13.4 5.5 8.5-.9-13.5-5.5z"/><path fill="#3f9c8b" d="M1079 352.6l13.4 5.5 8.5-.9-13.4-5.5z"/><path fill="#3f9a8c" d="M1092.4 358.1l13.4 5.5 8.5-.9-13.4-5.5z"/><path fill="#3f998c" d="M1105.8 363.6l13.4 5.5 8.5-.9-13.4-5.5z"/><path fill="#3e988d" d="M1119.2 369.1l13.4 5.5 8.5-1-13.4-5.4z"/><path fill="#3e968e" d="M1132.6 374.6l13.4 5.4 8.5-1-13.4-5.4z"/><path fill="#3d9590" d="M1146 380l13.4 5.4 8.5-1-13.4-5.4z"/><path fill="#3d9492" d="M1159.4 385.4l13.4 5.3 8.5-1-13.4-5.3z"/><path fill="#3c9394" d="M1172.8 390.7l13.4 5.3 8.5-1.1-13.4-5.2z"/><path fill="#3b9197" d="M1186.2 396l13.4 5.2 8.5-1.1-13.4-5.2z"/><path fill="#3b9099" d="M1199.6 401.2l13.4 5.1 8.5-1.1-13.4-5.1z"/><path fill="#3a8f9b" d="M1213 406.3l13.5 5.1 8.4-1.1-13.4-5.1z"/><path fill="#3a8e9c" d="M1226.5 411.4l13.4 5.1 8.4-1.2-13.4-5z"/><path fill="#398d9d" d="M1239.9 416.5l13.4 5 8.4-1.2-13.4-5z"/><path fill="#398c9e" stroke="#398c9e" stroke-width="6" shape-rendering="auto" d="M1253.3 421.5l13.4 5 8.4-1.2-13.4-5z"/><path fill="#47a384" stroke="#47a384" stroke-width="6" shape-rendering="auto" d="M587.9 251.4l13.4 0 8.5-1.4-13.4 .1z"/><path fill="#48a483" d="M601.3 251.4l13.4 .1 8.5-1.4-13.4-.1z"/><path fill="#49a482" d="M614.7 251.5l13.4 .2 8.5-1.5-13.4-.1z"/><path fill="#4aa581" d="M628.1 251.7l13.4 .3 8.5-1.6-13.4-.2z"/><path fill="#4ba680" d="M641.5 252l13.4 .4 8.5-1.6-13.4-.4z"/><path fill="#4ba680" d="M654.9 252.4l13.4 .5 8.5-1.6-13.4-.5z"/><path fill="#4ba680" d="M668.3 252.9l13.4 .7 8.5-1.6-13.4-.7z"/><path fill="#4ba780" d="M681.7 253.6l13.5 .8 8.4-1.6-13.4-.8z"/><path fill="#4ba780" d="M695.2 254.4l13.4 1 8.4-1.6-13.4-1z"/><path fill="#4ba780" d="M708.6 255.4l13.4 1.1 8.4-1.6-13.4-1.1z"/><path fill="#4ba780" d="M722 256.5l13.4 1.3 8.4-1.6-13.4-1.3z"/><path fill="#4ba780" d="M735.4 257.8l13.4 1.5 8.4-1.6-13.4-1.5z"/><path fill="#4ba780" d="M748.8 259.3l13.4 1.7 8.4-1.6-13.4-1.7z"/><path fill="#4ba880" d="M762.2 261l13.4 1.8 8.5-1.4-13.5-2z"/><path fill="#4ba880" d="M775.6 262.8l13.4 2.1 8.5-1.4-13.4-2.1z"/><path fill="#4ba880" d="M789 264.9l13.4 2.3 8.5-1.4-13.4-2.3z"/><path fill="#4ba880" d="M802.4 267.2l13.4 2.6 8.5-1.4-13.4-2.6z"/><path fill="#4ba880" d="M815.8 269.8l13.4 2.7 8.5-1.4-13.4-2.7z"/><path fill="#4ba780" d="M829.2 272.5l13.4 3 8.5-1.4-13.4-3z"/><path fill="#4ba780" d="M842.6 275.5l13.4 3.1 8.5-1.3-13.4-3.2z"/><path fill="#4ba780" d="M856 278.6l13.4 3.4 8.5-1.2-13.4-3.5z"/><path fill="#4ba780" d="M869.4 282l13.4 3.7 8.5-1.3-13.4-3.6z"/><path fill="#4ba780" d="M882.8 285.7l13.4 3.8 8.5-1.2-13.4-3.9z"/><path fill="#4ba780" d="M896.2 289.5l13.4 4 8.5-1.1-13.4-4.1z"/><path fill="#4ba680" d="M909.6 293.5l13.5 4.2 8.4-1.1-13.4-4.2z"/><path fill="#4ba680" d="M923.1 297.7l13.4 4.5 8.4-1.2-13.4-4.4z"/><path fill="#4aa681" d="M936.5 302.2l13.4 4.6 8.4-1.1-13.4-4.7z"/><path fill="#49a581" d="M949.9 306.8l13.4 4.7 8.4-1.1-13.4-4.7z"/><path fill="#48a482" d="M963.3 311.5l13.4 4.9 8.4-1-13.4-5z"/><path fill="#47a383" d="M976.7 316.4l13.4 5.1 8.5-1.1-13.5-5z"/><path fill="#46a384" d="M990.1 321.5l13.4 5.1 8.5-1-13.4-5.2z"/><path fill="#45a285" d="M1003.5 326.6l13.4 5.3 8.5-1.1-13.4-5.2z"/><path fill="#44a186" d="M1016.9 331.9l13.4 5.3 8.5-1-13.4-5.4z"/><path fill="#43a087" d="M1030.3 337.2l13.4 5.4 8.5-1-13.4-5.4z"/><path fill="#429f89" d="M1043.7 342.6l13.4 5.5 8.5-1-13.4-5.5z"/><path fill="#409e8a" d="M1057.1 348.1l13.4 5.5 8.5-1-13.4-5.5z"/><path fill="#409d8a" d="M1070.5 353.6l13.4 5.5 8.5-1-13.4-5.5z"/><path fill="#3f9c8b" d="M1083.9 359.1l13.4 5.5 8.5-1-13.4-5.5z"/><path fill="#3f9a8c" d="M1097.3 364.6l13.4 5.5 8.5-1-13.4-5.5z"/><path fill="#3f998d" d="M1110.7 370.1l13.4 5.5 8.5-1-13.4-5.5z"/><path fill="#3e988d" d="M1124.1 375.6l13.5 5.5 8.4-1.1-13.4-5.4z"/><path fill="#3e968e" d="M1137.6 381.1l13.4 5.3 8.4-1-13.4-5.4z"/><path fill="#3d9590" d="M1151 386.4l13.4 5.4 8.4-1.1-13.4-5.3z"/><path fill="#3d9492" d="M1164.4 391.8l13.4 5.3 8.4-1.1-13.4-5.3z"/><path fill="#3c9295" d="M1177.8 397.1l13.4 5.2 8.4-1.1-13.4-5.2z"/><path fill="#3b9197" d="M1191.2 402.3l13.4 5.2 8.4-1.2-13.4-5.1z"/><path fill="#3b9099" d="M1204.6 407.5l13.4 5.1 8.5-1.2-13.5-5.1z"/><path fill="#3a8f9b" d="M1218 412.6l13.4 5.1 8.5-1.2-13.4-5.1z"/><path fill="#3a8e9c" d="M1231.4 417.7l13.4 5 8.5-1.2-13.4-5z"/><path fill="#398d9d" stroke="#398d9d" stroke-width="6" shape-rendering="auto" d="M1244.8 422.7l13.4 5.1 8.5-1.3-13.4-5z"/><path fill="#48a483" stroke="#48a483" stroke-width="6" shape-rendering="auto" d="M579.4 252.7l13.4 .1 8.5-1.4-13.4 0z"/><path fill="#49a482" d="M592.8 252.8l13.4 .2 8.5-1.5-13.4-.1z"/><path fill="#4aa581" d="M606.2 253l13.5 .2 8.4-1.5-13.4-.2z"/><path fill="#4ba680" d="M619.7 253.2l13.4 .4 8.4-1.6-13.4-.3z"/><path fill="#4ba680" d="M633.1 253.6l13.4 .4 8.4-1.6-13.4-.4z"/><path fill="#4ba680" d="M646.5 254l13.4 .6 8.4-1.7-13.4-.5z"/><path fill="#4ba780" d="M659.9 254.6l13.4 .6 8.4-1.6-13.4-.7z"/><path fill="#4ba780" d="M673.3 255.2l13.4 .9 8.5-1.7-13.5-.8z"/><path fill="#4ba780" d="M686.7 256.1l13.4 .9 8.5-1.6-13.4-1z"/><path fill="#4ba780" d="M700.1 257l13.4 1.1 8.5-1.6-13.4-1.1z"/><path fill="#4ba780" d="M713.5 258.1l13.4 1.3 8.5-1.6-13.4-1.3z"/><path fill="#4ba880" d="M726.9 259.4l13.4 1.5 8.5-1.6-13.4-1.5z"/><path fill="#4ba880" d="M740.3 260.9l13.4 1.6 8.5-1.5-13.4-1.7z"/><path fill="#4ba880" d="M753.7 262.5l13.4 1.9 8.5-1.6-13.4-1.8z"/><path fill="#4ba880" d="M767.1 264.4l13.4 2.1 8.5-1.6-13.4-2.1z"/><path fill="#4ba880" d="M780.5 266.5l13.4 2.2 8.5-1.5-13.4-2.3z"/><path fill="#4ba880" d="M793.9 268.7l13.4 2.5 8.5-1.4-13.4-2.6z"/><path fill="#4ba880" d="M807.3 271.2l13.4 2.7 8.5-1.4-13.4-2.7z"/><path fill="#4ba880" d="M820.7 273.9l13.5 2.9 8.4-1.3-13.4-3z"/><path fill="#4ba880" d="M834.2 276.8l13.4 3.2 8.4-1.4-13.4-3.1z"/><path fill="#4ba880" d="M847.6 280l13.4 3.4 8.4-1.4-13.4-3.4z"/><path fill="#4ba780" d="M861 283.4l13.4 3.6 8.4-1.3-13.4-3.7z"/><path fill="#4ba780" d="M874.4 287l13.4 3.8 8.4-1.3-13.4-3.8z"/><path fill="#4ba780" d="M887.8 290.8l13.4 4 8.4-1.3-13.4-4z"/><path fill="#4ba780" d="M901.2 294.8l13.4 4.2 8.5-1.3-13.5-4.2z"/><path fill="#4ba680" d="M914.6 299l13.4 4.4 8.5-1.2-13.4-4.5z"/><path fill="#4ba680" d="M928 303.4l13.4 4.5 8.5-1.1-13.4-4.6z"/><path fill="#4ba680" d="M941.4 307.9l13.4 4.8 8.5-1.2-13.4-4.7z"/><path fill="#4aa581" d="M954.8 312.7l13.4 4.9 8.5-1.2-13.4-4.9z"/><path fill="#49a482" d="M968.2 317.6l13.4 5 8.5-1.1-13.4-5.1z"/><path fill="#47a383" d="M981.6 322.6l13.4 5.1 8.5-1.1-13.4-5.1z"/><path fill="#46a384" d="M995 327.7l13.4 5.3 8.5-1.1-13.4-5.3z"/><path fill="#45a285" d="M1008.4 333l13.4 5.3 8.5-1.1-13.4-5.3z"/><path fill="#44a186" d="M1021.8 338.3l13.4 5.4 8.5-1.1-13.4-5.4z"/><path fill="#43a088" d="M1035.2 343.7l13.4 5.5 8.5-1.1-13.4-5.5z"/><path fill="#419f89" d="M1048.6 349.2l13.5 5.5 8.4-1.1-13.4-5.5z"/><path fill="#409e8a" d="M1062.1 354.7l13.4 5.5 8.4-1.1-13.4-5.5z"/><path fill="#409d8b" d="M1075.5 360.2l13.4 5.5 8.4-1.1-13.4-5.5z"/><path fill="#3f9b8b" d="M1088.9 365.7l13.4 5.5 8.4-1.1-13.4-5.5z"/><path fill="#3f9a8c" d="M1102.3 371.2l13.4 5.5 8.4-1.1-13.4-5.5z"/><path fill="#3f998d" d="M1115.7 376.7l13.4 5.4 8.5-1-13.5-5.5z"/><path fill="#3e978d" d="M1129.1 382.1l13.4 5.4 8.5-1.1-13.4-5.3z"/><path fill="#3e968e" d="M1142.5 387.5l13.4 5.4 8.5-1.1-13.4-5.4z"/><path fill="#3d9590" d="M1155.9 392.9l13.4 5.3 8.5-1.1-13.4-5.3z"/><path fill="#3d9492" d="M1169.3 398.2l13.4 5.2 8.5-1.1-13.4-5.2z"/><path fill="#3c9295" d="M1182.7 403.4l13.4 5.2 8.5-1.1-13.4-5.2z"/><path fill="#3b9197" d="M1196.1 408.6l13.4 5.1 8.5-1.1-13.4-5.1z"/><path fill="#3b9099" d="M1209.5 413.7l13.4 5.1 8.5-1.1-13.4-5.1z"/><path fill="#3a8f9b" d="M1222.9 418.8l13.4 5.1 8.5-1.2-13.4-5z"/><path fill="#3a8e9c" stroke="#3a8e9c" stroke-width="6" shape-rendering="auto" d="M1236.3 423.9l13.4 5.1 8.5-1.2-13.4-5.1z"/><path fill="#49a582" stroke="#49a582" stroke-width="6" shape-rendering="auto" d="M571 254.1l13.4 .2 8.4-1.5-13.4-.1z"/><path fill="#4aa581" d="M584.4 254.3l13.4 .2 8.4-1.5-13.4-.2z"/><path fill="#4ba680" d="M597.8 254.5l13.4 .3 8.5-1.6-13.5-.2z"/><path fill="#4ba680" d="M611.2 254.8l13.4 .4 8.5-1.6-13.4-.4z"/><path fill="#4ba680" d="M624.6 255.2l13.4 .5 8.5-1.7-13.4-.4z"/><path fill="#4ba780" d="M638 255.7l13.4 .6 8.5-1.7-13.4-.6z"/><path fill="#4ba780" d="M651.4 256.3l13.4 .7 8.5-1.8-13.4-.6z"/><path fill="#4ba780" d="M664.8 257l13.4 .8 8.5-1.7-13.4-.9z"/><path fill="#4ba780" d="M678.2 257.8l13.4 .9 8.5-1.7-13.4-.9z"/><path fill="#4ba880" d="M691.6 258.7l13.4 1.1 8.5-1.7-13.4-1.1z"/><path fill="#4ba880" d="M705 259.8l13.4 1.3 8.5-1.7-13.4-1.3z"/><path fill="#4ba880" d="M718.4 261.1l13.4 1.4 8.5-1.6-13.4-1.5z"/><path fill="#4ca880" d="M731.8 262.5l13.5 1.7 8.4-1.7-13.4-1.6z"/><path fill="#4da87f" d="M745.3 264.2l13.4 1.8 8.4-1.6-13.4-1.9z"/><path fill="#4da87f" d="M758.7 266l13.4 2 8.4-1.5-13.4-2.1z"/><path fill="#4ea87f" d="M772.1 268l13.4 2.3 8.4-1.6-13.4-2.2z"/><path fill="#4ea87f" d="M785.5 270.3l13.4 2.4 8.4-1.5-13.4-2.5z"/><path fill="#4da87f" d="M798.9 272.7l13.4 2.7 8.4-1.5-13.4-2.7z"/><path fill="#4da87f" d="M812.3 275.4l13.4 2.9 8.5-1.5-13.5-2.9z"/><path fill="#4ca880" d="M825.7 278.3l13.4 3.1 8.5-1.4-13.4-3.2z"/><path fill="#4ba880" d="M839.1 281.4l13.4 3.4 8.5-1.4-13.4-3.4z"/><path fill="#4ba880" d="M852.5 284.8l13.4 3.5 8.5-1.3-13.4-3.6z"/><path fill="#4ba880" d="M865.9 288.3l13.4 3.8 8.5-1.3-13.4-3.8z"/><path fill="#4ba780" d="M879.3 292.1l13.4 4 8.5-1.3-13.4-4z"/><path fill="#4ba780" d="M892.7 296.1l13.4 4.2 8.5-1.3-13.4-4.2z"/><path fill="#4ba780" d="M906.1 300.3l13.4 4.3 8.5-1.2-13.4-4.4z"/><path fill="#4ba780" d="M919.5 304.6l13.4 4.6 8.5-1.3-13.4-4.5z"/><path fill="#4ba680" d="M932.9 309.2l13.4 4.7 8.5-1.2-13.4-4.8z"/><path fill="#4ba680" d="M946.3 313.9l13.4 4.9 8.5-1.2-13.4-4.9z"/><path fill="#4aa581" d="M959.7 318.8l13.5 5 8.4-1.2-13.4-5z"/><path fill="#48a482" d="M973.2 323.8l13.4 5.1 8.4-1.2-13.4-5.1z"/><path fill="#47a383" d="M986.6 328.9l13.4 5.2 8.4-1.1-13.4-5.3z"/><path fill="#46a284" d="M1000 334.1l13.4 5.4 8.4-1.2-13.4-5.3z"/><path fill="#45a285" d="M1013.4 339.5l13.4 5.3 8.4-1.1-13.4-5.4z"/><path fill="#44a187" d="M1026.8 344.8l13.4 5.5 8.4-1.1-13.4-5.5z"/><path fill="#43a088" d="M1040.2 350.3l13.4 5.5 8.5-1.1-13.5-5.5z"/><path fill="#419f89" d="M1053.6 355.8l13.4 5.5 8.5-1.1-13.4-5.5z"/><path fill="#409e8a" d="M1067 361.3l13.4 5.5 8.5-1.1-13.4-5.5z"/><path fill="#409d8b" d="M1080.4 366.8l13.4 5.5 8.5-1.1-13.4-5.5z"/><path fill="#3f9b8b" d="M1093.8 372.3l13.4 5.5 8.5-1.1-13.4-5.5z"/><path fill="#3f9a8c" d="M1107.2 377.8l13.4 5.4 8.5-1.1-13.4-5.4z"/><path fill="#3f998d" d="M1120.6 383.2l13.4 5.4 8.5-1.1-13.4-5.4z"/><path fill="#3e978d" d="M1134 388.6l13.4 5.4 8.5-1.1-13.4-5.4z"/><path fill="#3e968e" d="M1147.4 394l13.4 5.3 8.5-1.1-13.4-5.3z"/><path fill="#3d9590" d="M1160.8 399.3l13.4 5.2 8.5-1.1-13.4-5.2z"/><path fill="#3d9493" d="M1174.2 404.5l13.4 5.2 8.5-1.1-13.4-5.2z"/><path fill="#3c9295" d="M1187.6 409.7l13.5 5.2 8.4-1.2-13.4-5.1z"/><path fill="#3b9197" d="M1201.1 414.9l13.4 5.1 8.4-1.2-13.4-5.1z"/><path fill="#3b9099" d="M1214.5 420l13.4 5.1 8.4-1.2-13.4-5.1z"/><path fill="#3a8f9b" stroke="#3a8f9b" stroke-width="6" shape-rendering="auto" d="M1227.9 425.1l13.4 5.1 8.4-1.2-13.4-5.1z"/><path fill="#4aa581" stroke="#4aa581" stroke-width="6" shape-rendering="auto" d="M562.5 255.7l13.4 .2 8.5-1.6-13.4-.2z"/><path fill="#4ba680" d="M575.9 255.9l13.4 .3 8.5-1.7-13.4-.2z"/><path fill="#4ba680" d="M589.3 256.2l13.4 .4 8.5-1.8-13.4-.3z"/><path fill="#4ba680" d="M602.7 256.6l13.4 .4 8.5-1.8-13.4-.4z"/><path fill="#4ba780" d="M616.1 257l13.4 .5 8.5-1.8-13.4-.5z"/><path fill="#4ba780" d="M629.5 257.5l13.4 .6 8.5-1.8-13.4-.6z"/><path fill="#4ba780" d="M642.9 258.1l13.4 .7 8.5-1.8-13.4-.7z"/><path fill="#4ba880" d="M656.3 258.8l13.5 .8 8.4-1.8-13.4-.8z"/><path fill="#4ba880" d="M669.8 259.6l13.4 .9 8.4-1.8-13.4-.9z"/><path fill="#4ba880" d="M683.2 260.5l13.4 1.1 8.4-1.8-13.4-1.1z"/><path fill="#4ca87f" d="M696.6 261.6l13.4 1.2 8.4-1.7-13.4-1.3z"/><path fill="#4da87f" d="M710 262.8l13.4 1.5 8.4-1.8-13.4-1.4z"/><path fill="#4fa87e" d="M723.4 264.3l13.4 1.6 8.5-1.7-13.5-1.7z"/><path fill="#50a87e" d="M736.8 265.9l13.4 1.8 8.5-1.7-13.4-1.8z"/><path fill="#50a87d" d="M750.2 267.7l13.4 2 8.5-1.7-13.4-2z"/><path fill="#51a87d" d="M763.6 269.7l13.4 2.2 8.5-1.6-13.4-2.3z"/><path fill="#51a87d" d="M777 271.9l13.4 2.4 8.5-1.6-13.4-2.4z"/><path fill="#50a87d" d="M790.4 274.3l13.4 2.7 8.5-1.6-13.4-2.7z"/><path fill="#50a87d" d="M803.8 277l13.4 2.8 8.5-1.5-13.4-2.9z"/><path fill="#4fa87e" d="M817.2 279.8l13.4 3.1 8.5-1.5-13.4-3.1z"/><path fill="#4ea87f" d="M830.6 282.9l13.4 3.3 8.5-1.4-13.4-3.4z"/><path fill="#4ca87f" d="M844 286.2l13.4 3.6 8.5-1.5-13.4-3.5z"/><path fill="#4ba880" d="M857.4 289.8l13.4 3.7 8.5-1.4-13.4-3.8z"/><path fill="#4ba880" d="M870.8 293.5l13.4 4 8.5-1.4-13.4-4z"/><path fill="#4ba780" d="M884.2 297.5l13.5 4.1 8.4-1.3-13.4-4.2z"/><path fill="#4ba780" d="M897.7 301.6l13.4 4.4 8.4-1.4-13.4-4.3z"/><path fill="#4ba780" d="M911.1 306l13.4 4.5 8.4-1.3-13.4-4.6z"/><path fill="#4ba780" d="M924.5 310.5l13.4 4.7 8.4-1.3-13.4-4.7z"/><path fill="#4ba680" d="M937.9 315.2l13.4 4.8 8.4-1.2-13.4-4.9z"/><path fill="#4ba680" d="M951.3 320l13.4 5 8.5-1.2-13.5-5z"/><path fill="#49a581" d="M964.7 325l13.4 5.1 8.5-1.2-13.4-5.1z"/><path fill="#48a482" d="M978.1 330.1l13.4 5.2 8.5-1.2-13.4-5.2z"/><path fill="#47a383" d="M991.5 335.3l13.4 5.3 8.5-1.1-13.4-5.4z"/><path fill="#46a285" d="M1004.9 340.6l13.4 5.4 8.5-1.2-13.4-5.3z"/><path fill="#45a186" d="M1018.3 346l13.4 5.5 8.5-1.2-13.4-5.5z"/><path fill="#44a187" d="M1031.7 351.5l13.4 5.4 8.5-1.1-13.4-5.5z"/><path fill="#42a088" d="M1045.1 356.9l13.4 5.5 8.5-1.1-13.4-5.5z"/><path fill="#419f89" d="M1058.5 362.4l13.4 5.5 8.5-1.1-13.4-5.5z"/><path fill="#409e8a" d="M1071.9 367.9l13.4 5.5 8.5-1.1-13.4-5.5z"/><path fill="#409c8b" d="M1085.3 373.4l13.4 5.5 8.5-1.1-13.4-5.5z"/><path fill="#3f9b8b" d="M1098.7 378.9l13.5 5.5 8.4-1.2-13.4-5.4z"/><path fill="#3f9a8c" d="M1112.2 384.4l13.4 5.4 8.4-1.2-13.4-5.4z"/><path fill="#3f988d" d="M1125.6 389.8l13.4 5.3 8.4-1.1-13.4-5.4z"/><path fill="#3e978d" d="M1139 395.1l13.4 5.3 8.4-1.1-13.4-5.3z"/><path fill="#3e968e" d="M1152.4 400.4l13.4 5.3 8.4-1.2-13.4-5.2z"/><path fill="#3d9590" d="M1165.8 405.7l13.4 5.2 8.4-1.2-13.4-5.2z"/><path fill="#3d9393" d="M1179.2 410.9l13.4 5.1 8.5-1.1-13.5-5.2z"/><path fill="#3c9295" d="M1192.6 416l13.4 5.1 8.5-1.1-13.4-5.1z"/><path fill="#3b9197" d="M1206 421.1l13.4 5.2 8.5-1.2-13.4-5.1z"/><path fill="#3b9099" stroke="#3b9099" stroke-width="6" shape-rendering="auto" d="M1219.4 426.3l13.4 5.1 8.5-1.2-13.4-5.1z"/><path fill="#4ba680" stroke="#4ba680" stroke-width="6" shape-rendering="auto" d="M554 257.4l13.4 .3 8.5-1.8-13.4-.2z"/><path fill="#4ba680" d="M567.4 257.7l13.5 .3 8.4-1.8-13.4-.3z"/><path fill="#4ba680" d="M580.9 258l13.4 .4 8.4-1.8-13.4-.4z"/><path fill="#4ba780" d="M594.3 258.4l13.4 .5 8.4-1.9-13.4-.4z"/><path fill="#4ba780" d="M607.7 258.9l13.4 .5 8.4-1.9-13.4-.5z"/><path fill="#4ba780" d="M621.1 259.4l13.4 .6 8.4-1.9-13.4-.6z"/><path fill="#4ba880" d="M634.5 260l13.4 .6 8.4-1.8-13.4-.7z"/><path fill="#4ba880" d="M647.9 260.6l13.4 .8 8.5-1.8-13.5-.8z"/><path fill="#4ba880" d="M661.3 261.4l13.4 1 8.5-1.9-13.4-.9z"/><path fill="#4da87f" d="M674.7 262.4l13.4 1 8.5-1.8-13.4-1.1z"/><path fill="#4fa87e" d="M688.1 263.4l13.4 1.3 8.5-1.9-13.4-1.2z"/><path fill="#50a87d" d="M701.5 264.7l13.4 1.4 8.5-1.8-13.4-1.5z"/><path fill="#52a87c" d="M714.9 266.1l13.4 1.5 8.5-1.7-13.4-1.6z"/><path fill="#53a87c" d="M728.3 267.6l13.4 1.8 8.5-1.7-13.4-1.8z"/><path fill="#53a87c" d="M741.7 269.4l13.4 2 8.5-1.7-13.4-2z"/><path fill="#54a87b" d="M755.1 271.4l13.4 2.2 8.5-1.7-13.4-2.2z"/><path fill="#54a87b" d="M768.5 273.6l13.4 2.3 8.5-1.6-13.4-2.4z"/><path fill="#54a87b" d="M781.9 275.9l13.4 2.7 8.5-1.6-13.4-2.7z"/><path fill="#53a87c" d="M795.3 278.6l13.5 2.8 8.4-1.6-13.4-2.8z"/><path fill="#52a87c" d="M808.8 281.4l13.4 3.1 8.4-1.6-13.4-3.1z"/><path fill="#51a87d" d="M822.2 284.5l13.4 3.2 8.4-1.5-13.4-3.3z"/><path fill="#50a87e" d="M835.6 287.7l13.4 3.5 8.4-1.4-13.4-3.6z"/><path fill="#4ea87f" d="M849 291.2l13.4 3.8 8.4-1.5-13.4-3.7z"/><path fill="#4ca880" d="M862.4 295l13.4 3.9 8.4-1.4-13.4-4z"/><path fill="#4ba880" d="M875.8 298.9l13.4 4.1 8.5-1.4-13.5-4.1z"/><path fill="#4ba880" d="M889.2 303l13.4 4.3 8.5-1.3-13.4-4.4z"/><path fill="#4ba780" d="M902.6 307.3l13.4 4.5 8.5-1.3-13.4-4.5z"/><path fill="#4ba780" d="M916 311.8l13.4 4.7 8.5-1.3-13.4-4.7z"/><path fill="#4ba780" d="M929.4 316.5l13.4 4.8 8.5-1.3-13.4-4.8z"/><path fill="#4ba680" d="M942.8 321.3l13.4 5 8.5-1.3-13.4-5z"/><path fill="#4aa680" d="M956.2 326.3l13.4 5.1 8.5-1.3-13.4-5.1z"/><path fill="#49a581" d="M969.6 331.4l13.4 5.2 8.5-1.3-13.4-5.2z"/><path fill="#48a483" d="M983 336.6l13.4 5.3 8.5-1.3-13.4-5.3z"/><path fill="#47a384" d="M996.4 341.9l13.4 5.3 8.5-1.2-13.4-5.4z"/><path fill="#46a285" d="M1009.8 347.2l13.5 5.4 8.4-1.1-13.4-5.5z"/><path fill="#45a186" d="M1023.3 352.6l13.4 5.5 8.4-1.2-13.4-5.4z"/><path fill="#43a087" d="M1036.7 358.1l13.4 5.5 8.4-1.2-13.4-5.5z"/><path fill="#42a088" d="M1050.1 363.6l13.4 5.5 8.4-1.2-13.4-5.5z"/><path fill="#419f89" d="M1063.5 369.1l13.4 5.5 8.4-1.2-13.4-5.5z"/><path fill="#409e8a" d="M1076.9 374.6l13.4 5.4 8.4-1.1-13.4-5.5z"/><path fill="#409c8b" d="M1090.3 380l13.4 5.5 8.5-1.1-13.5-5.5z"/><path fill="#3f9b8c" d="M1103.7 385.5l13.4 5.4 8.5-1.1-13.4-5.4z"/><path fill="#3f9a8c" d="M1117.1 390.9l13.4 5.3 8.5-1.1-13.4-5.3z"/><path fill="#3f988d" d="M1130.5 396.2l13.4 5.3 8.5-1.1-13.4-5.3z"/><path fill="#3e978d" d="M1143.9 401.5l13.4 5.2 8.5-1-13.4-5.3z"/><path fill="#3e968e" d="M1157.3 406.7l13.4 5.2 8.5-1-13.4-5.2z"/><path fill="#3d9591" d="M1170.7 411.9l13.4 5.2 8.5-1.1-13.4-5.1z"/><path fill="#3d9393" d="M1184.1 417.1l13.4 5.1 8.5-1.1-13.4-5.1z"/><path fill="#3c9295" d="M1197.5 422.2l13.4 5.2 8.5-1.1-13.4-5.2z"/><path fill="#3b9197" stroke="#3b9197" stroke-width="6" shape-rendering="auto" d="M1210.9 427.4l13.4 5.1 8.5-1.1-13.4-5.1z"/><path fill="#4ba680" stroke="#4ba680" stroke-width="6" shape-rendering="auto" d="M545.6 259.3l13.4 .3 8.4-1.9-13.4-.3z"/><path fill="#4ba680" d="M559 259.6l13.4 .4 8.5-2-13.5-.3z"/><path fill="#4ba780" d="M572.4 260l13.4 .4 8.5-2-13.4-.4z"/><path fill="#4ba780" d="M585.8 260.4l13.4 .4 8.5-1.9-13.4-.5z"/><path fill="#4ba780" d="M599.2 260.8l13.4 .5 8.5-1.9-13.4-.5z"/><path fill="#4ba880" d="M612.6 261.3l13.4 .6 8.5-1.9-13.4-.6z"/><path fill="#4ba880" d="M626 261.9l13.4 .7 8.5-2-13.4-.6z"/><path fill="#4ca880" d="M639.4 262.6l13.4 .8 8.5-2-13.4-.8z"/><path fill="#4ea87e" d="M652.8 263.4l13.4 .9 8.5-1.9-13.4-1z"/><path fill="#50a87d" d="M666.2 264.3l13.4 1 8.5-1.9-13.4-1z"/><path fill="#52a87c" d="M679.6 265.3l13.4 1.2 8.5-1.8-13.4-1.3z"/><path fill="#53a87c" d="M693 266.5l13.4 1.4 8.5-1.8-13.4-1.4z"/><path fill="#55a87b" d="M706.4 267.9l13.5 1.5 8.4-1.8-13.4-1.5z"/><path fill="#56a87a" d="M719.9 269.4l13.4 1.8 8.4-1.8-13.4-1.8z"/><path fill="#56a87a" d="M733.3 271.2l13.4 1.9 8.4-1.7-13.4-2z"/><path fill="#57a87a" d="M746.7 273.1l13.4 2.2 8.4-1.7-13.4-2.2z"/><path fill="#57a87a" d="M760.1 275.3l13.4 2.3 8.4-1.7-13.4-2.3z"/><path fill="#57a87a" d="M773.5 277.6l13.4 2.6 8.4-1.6-13.4-2.7z"/><path fill="#56a87a" d="M786.9 280.2l13.4 2.8 8.5-1.6-13.5-2.8z"/><path fill="#55a87b" d="M800.3 283l13.4 3 8.5-1.5-13.4-3.1z"/><path fill="#54a87b" d="M813.7 286l13.4 3.3 8.5-1.6-13.4-3.2z"/><path fill="#53a87c" d="M827.1 289.3l13.4 3.4 8.5-1.5-13.4-3.5z"/><path fill="#51a87d" d="M840.5 292.7l13.4 3.7 8.5-1.4-13.4-3.8z"/><path fill="#4fa87e" d="M853.9 296.4l13.4 3.9 8.5-1.4-13.4-3.9z"/><path fill="#4da87f" d="M867.3 300.3l13.4 4.1 8.5-1.4-13.4-4.1z"/><path fill="#4ba880" d="M880.7 304.4l13.4 4.3 8.5-1.4-13.4-4.3z"/><path fill="#4ba880" d="M894.1 308.7l13.4 4.5 8.5-1.4-13.4-4.5z"/><path fill="#4ba780" d="M907.5 313.2l13.4 4.6 8.5-1.3-13.4-4.7z"/><path fill="#4ba780" d="M920.9 317.8l13.4 4.8 8.5-1.3-13.4-4.8z"/><path fill="#4ba780" d="M934.3 322.6l13.5 5 8.4-1.3-13.4-5z"/><path fill="#4ba680" d="M947.8 327.6l13.4 5 8.4-1.2-13.4-5.1z"/><path fill="#4aa681" d="M961.2 332.6l13.4 5.2 8.4-1.2-13.4-5.2z"/><path fill="#49a582" d="M974.6 337.8l13.4 5.3 8.4-1.2-13.4-5.3z"/><path fill="#48a483" d="M988 343.1l13.4 5.3 8.4-1.2-13.4-5.3z"/><path fill="#47a384" d="M1001.4 348.4l13.4 5.4 8.5-1.2-13.5-5.4z"/><path fill="#46a285" d="M1014.8 353.8l13.4 5.5 8.5-1.2-13.4-5.5z"/><path fill="#44a186" d="M1028.2 359.3l13.4 5.4 8.5-1.1-13.4-5.5z"/><path fill="#43a087" d="M1041.6 364.7l13.4 5.5 8.5-1.1-13.4-5.5z"/><path fill="#429f88" d="M1055 370.2l13.4 5.5 8.5-1.1-13.4-5.5z"/><path fill="#419e89" d="M1068.4 375.7l13.4 5.4 8.5-1.1-13.4-5.4z"/><path fill="#409d8a" d="M1081.8 381.1l13.4 5.4 8.5-1-13.4-5.5z"/><path fill="#409c8b" d="M1095.2 386.5l13.4 5.4 8.5-1-13.4-5.4z"/><path fill="#3f9b8c" d="M1108.6 391.9l13.4 5.4 8.5-1.1-13.4-5.3z"/><path fill="#3f998c" d="M1122 397.3l13.4 5.2 8.5-1-13.4-5.3z"/><path fill="#3f988d" d="M1135.4 402.5l13.4 5.3 8.5-1.1-13.4-5.2z"/><path fill="#3e978e" d="M1148.8 407.8l13.5 5.2 8.4-1.1-13.4-5.2z"/><path fill="#3e968e" d="M1162.3 413l13.4 5.1 8.4-1-13.4-5.2z"/><path fill="#3d9591" d="M1175.7 418.1l13.4 5.1 8.4-1-13.4-5.1z"/><path fill="#3d9393" d="M1189.1 423.2l13.4 5.2 8.4-1-13.4-5.2z"/><path fill="#3c9295" stroke="#3c9295" stroke-width="6" shape-rendering="auto" d="M1202.5 428.4l13.4 5.1 8.4-1-13.4-5.1z"/><path fill="#4ba680" stroke="#4ba680" stroke-width="6" shape-rendering="auto" d="M537.1 261.3l13.4 .4 8.5-2.1-13.4-.3z"/><path fill="#4ba780" d="M550.5 261.7l13.4 .3 8.5-2-13.4-.4z"/><path fill="#4ba780" d="M563.9 262l13.4 .4 8.5-2-13.4-.4z"/><path fill="#4ba780" d="M577.3 262.4l13.4 .5 8.5-2.1-13.4-.4z"/><path fill="#4ba880" d="M590.7 262.9l13.4 .5 8.5-2.1-13.4-.5z"/><path fill="#4ba880" d="M604.1 263.4l13.4 .5 8.5-2-13.4-.6z"/><path fill="#4ca880" d="M617.5 263.9l13.4 .7 8.5-2-13.4-.7z"/><path fill="#4ea87e" d="M630.9 264.6l13.5 .7 8.4-1.9-13.4-.8z"/><path fill="#51a87d" d="M644.4 265.3l13.4 .9 8.4-1.9-13.4-.9z"/><path fill="#53a87c" d="M657.8 266.2l13.4 1 8.4-1.9-13.4-1z"/><path fill="#54a87b" d="M671.2 267.2l13.4 1.2 8.4-1.9-13.4-1.2z"/><path fill="#56a87a" d="M684.6 268.4l13.4 1.3 8.4-1.8-13.4-1.4z"/><path fill="#57a879" d="M698 269.7l13.4 1.5 8.5-1.8-13.5-1.5z"/><path fill="#58a879" d="M711.4 271.2l13.4 1.8 8.5-1.8-13.4-1.8z"/><path fill="#59a879" d="M724.8 273l13.4 1.9 8.5-1.8-13.4-1.9z"/><path fill="#5aa878" d="M738.2 274.9l13.4 2.1 8.5-1.7-13.4-2.2z"/><path fill="#5aa878" d="M751.6 277l13.4 2.3 8.5-1.7-13.4-2.3z"/><path fill="#5aa878" d="M765 279.3l13.4 2.5 8.5-1.6-13.4-2.6z"/><path fill="#59a878" d="M778.4 281.8l13.4 2.8 8.5-1.6-13.4-2.8z"/><path fill="#59a879" d="M791.8 284.6l13.4 3 8.5-1.6-13.4-3z"/><path fill="#57a879" d="M805.2 287.6l13.4 3.2 8.5-1.5-13.4-3.3z"/><path fill="#56a87a" d="M818.6 290.8l13.4 3.5 8.5-1.6-13.4-3.4z"/><path fill="#54a87b" d="M832 294.3l13.4 3.6 8.5-1.5-13.4-3.7z"/><path fill="#52a87c" d="M845.4 297.9l13.5 3.9 8.4-1.5-13.4-3.9z"/><path fill="#50a87d" d="M858.9 301.8l13.4 4 8.4-1.4-13.4-4.1z"/><path fill="#4da87f" d="M872.3 305.8l13.4 4.3 8.4-1.4-13.4-4.3z"/><path fill="#4ba880" d="M885.7 310.1l13.4 4.5 8.4-1.4-13.4-4.5z"/><path fill="#4ba880" d="M899.1 314.6l13.4 4.6 8.4-1.4-13.4-4.6z"/><path fill="#4ba780" d="M912.5 319.2l13.4 4.8 8.4-1.4-13.4-4.8z"/><path fill="#4ba780" d="M925.9 324l13.4 4.9 8.5-1.3-13.5-5z"/><path fill="#4ba780" d="M939.3 328.9l13.4 5 8.5-1.3-13.4-5z"/><path fill="#4ba680" d="M952.7 333.9l13.4 5.2 8.5-1.3-13.4-5.2z"/><path fill="#4aa581" d="M966.1 339.1l13.4 5.2 8.5-1.2-13.4-5.3z"/><path fill="#49a582" d="M979.5 344.3l13.4 5.3 8.5-1.2-13.4-5.3z"/><path fill="#48a483" d="M992.9 349.6l13.4 5.4 8.5-1.2-13.4-5.4z"/><path fill="#47a384" d="M1006.3 355l13.4 5.4 8.5-1.1-13.4-5.5z"/><path fill="#45a285" d="M1019.7 360.4l13.4 5.5 8.5-1.2-13.4-5.4z"/><path fill="#44a186" d="M1033.1 365.9l13.4 5.4 8.5-1.1-13.4-5.5z"/><path fill="#43a087" d="M1046.5 371.3l13.4 5.5 8.5-1.1-13.4-5.5z"/><path fill="#429f88" d="M1059.9 376.8l13.4 5.4 8.5-1.1-13.4-5.4z"/><path fill="#419e8a" d="M1073.3 382.2l13.5 5.4 8.4-1.1-13.4-5.4z"/><path fill="#409d8a" d="M1086.8 387.6l13.4 5.3 8.4-1-13.4-5.4z"/><path fill="#3f9c8b" d="M1100.2 392.9l13.4 5.4 8.4-1-13.4-5.4z"/><path fill="#3f9b8c" d="M1113.6 398.3l13.4 5.2 8.4-1-13.4-5.2z"/><path fill="#3f998c" d="M1127 403.5l13.4 5.3 8.4-1-13.4-5.3z"/><path fill="#3f988d" d="M1140.4 408.8l13.4 5.1 8.5-.9-13.5-5.2z"/><path fill="#3e978e" d="M1153.8 413.9l13.4 5.2 8.5-1-13.4-5.1z"/><path fill="#3e968e" d="M1167.2 419.1l13.4 5.1 8.5-1-13.4-5.1z"/><path fill="#3d9591" d="M1180.6 424.2l13.4 5.1 8.5-.9-13.4-5.2z"/><path fill="#3d9393" stroke="#3d9393" stroke-width="6" shape-rendering="auto" d="M1194 429.3l13.4 5.2 8.5-1-13.4-5.1z"/><path fill="#4ba780" stroke="#4ba780" stroke-width="6" shape-rendering="auto" d="M528.6 263.4l13.4 .4 8.5-2.1-13.4-.4z"/><path fill="#4ba780" d="M542 263.8l13.5 .4 8.4-2.2-13.4-.3z"/><path fill="#4ba780" d="M555.5 264.2l13.4 .3 8.4-2.1-13.4-.4z"/><path fill="#4ba880" d="M568.9 264.5l13.4 .5 8.4-2.1-13.4-.5z"/><path fill="#4ba880" d="M582.3 265l13.4 .4 8.4-2-13.4-.5z"/><path fill="#4ca880" d="M595.7 265.4l13.4 .6 8.4-2.1-13.4-.5z"/><path fill="#4ea87e" d="M609.1 266l13.4 .6 8.4-2-13.4-.7z"/><path fill="#51a87d" d="M622.5 266.6l13.4 .7 8.5-2-13.5-.7z"/><path fill="#53a87c" d="M635.9 267.3l13.4 .9 8.5-2-13.4-.9z"/><path fill="#55a87b" d="M649.3 268.2l13.4 1 8.5-2-13.4-1z"/><path fill="#57a87a" d="M662.7 269.2l13.4 1.1 8.5-1.9-13.4-1.2z"/><path fill="#59a879" d="M676.1 270.3l13.4 1.3 8.5-1.9-13.4-1.3z"/><path fill="#5aa878" d="M689.5 271.6l13.4 1.5 8.5-1.9-13.4-1.5z"/><path fill="#5ba877" d="M702.9 273.1l13.4 1.6 8.5-1.7-13.4-1.8z"/><path fill="#5ca877" d="M716.3 274.7l13.4 1.9 8.5-1.7-13.4-1.9z"/><path fill="#5da877" d="M729.7 276.6l13.4 2.1 8.5-1.7-13.4-2.1z"/><path fill="#5da877" d="M743.1 278.7l13.4 2.3 8.5-1.7-13.4-2.3z"/><path fill="#5da877" d="M756.5 281l13.5 2.5 8.4-1.7-13.4-2.5z"/><path fill="#5ca877" d="M770 283.5l13.4 2.7 8.4-1.6-13.4-2.8z"/><path fill="#5ca877" d="M783.4 286.2l13.4 3 8.4-1.6-13.4-3z"/><path fill="#5ba878" d="M796.8 289.2l13.4 3.1 8.4-1.5-13.4-3.2z"/><path fill="#59a878" d="M810.2 292.3l13.4 3.4 8.4-1.4-13.4-3.5z"/><path fill="#58a879" d="M823.6 295.7l13.4 3.7 8.4-1.5-13.4-3.6z"/><path fill="#56a87a" d="M837 299.4l13.4 3.8 8.5-1.4-13.5-3.9z"/><path fill="#53a87c" d="M850.4 303.2l13.4 4.1 8.5-1.5-13.4-4z"/><path fill="#51a87d" d="M863.8 307.3l13.4 4.2 8.5-1.4-13.4-4.3z"/><path fill="#4ea87e" d="M877.2 311.5l13.4 4.4 8.5-1.3-13.4-4.5z"/><path fill="#4ba880" d="M890.6 315.9l13.4 4.6 8.5-1.3-13.4-4.6z"/><path fill="#4ba880" d="M904 320.5l13.4 4.7 8.5-1.2-13.4-4.8z"/><path fill="#4ba780" d="M917.4 325.2l13.4 4.9 8.5-1.2-13.4-4.9z"/><path fill="#4ba780" d="M930.8 330.1l13.4 5 8.5-1.2-13.4-5z"/><path fill="#4ba780" d="M944.2 335.1l13.4 5.2 8.5-1.2-13.4-5.2z"/><path fill="#4ba680" d="M957.6 340.3l13.4 5.2 8.5-1.2-13.4-5.2z"/><path fill="#4aa581" d="M971 345.5l13.4 5.3 8.5-1.2-13.4-5.3z"/><path fill="#49a582" d="M984.4 350.8l13.5 5.3 8.4-1.1-13.4-5.4z"/><path fill="#48a483" d="M997.9 356.1l13.4 5.4 8.4-1.1-13.4-5.4z"/><path fill="#47a384" d="M1011.3 361.5l13.4 5.5 8.4-1.1-13.4-5.5z"/><path fill="#45a285" d="M1024.7 367l13.4 5.4 8.4-1.1-13.4-5.4z"/><path fill="#44a186" d="M1038.1 372.4l13.4 5.4 8.4-1-13.4-5.5z"/><path fill="#43a087" d="M1051.5 377.8l13.4 5.4 8.4-1-13.4-5.4z"/><path fill="#429f89" d="M1064.9 383.2l13.4 5.4 8.5-1-13.5-5.4z"/><path fill="#409e8a" d="M1078.3 388.6l13.4 5.3 8.5-1-13.4-5.3z"/><path fill="#409d8a" d="M1091.7 393.9l13.4 5.3 8.5-.9-13.4-5.4z"/><path fill="#3f9c8b" d="M1105.1 399.2l13.4 5.3 8.5-1-13.4-5.2z"/><path fill="#3f9b8c" d="M1118.5 404.5l13.4 5.2 8.5-.9-13.4-5.3z"/><path fill="#3f998c" d="M1131.9 409.7l13.4 5.2 8.5-1-13.4-5.1z"/><path fill="#3f988d" d="M1145.3 414.9l13.4 5.1 8.5-.9-13.4-5.2z"/><path fill="#3e978e" d="M1158.7 420l13.4 5.1 8.5-.9-13.4-5.1z"/><path fill="#3e968e" d="M1172.1 425.1l13.4 5.1 8.5-.9-13.4-5.1z"/><path fill="#3d9591" stroke="#3d9591" stroke-width="6" shape-rendering="auto" d="M1185.5 430.2l13.4 5.2 8.5-.9-13.4-5.2z"/><path fill="#4ba780" stroke="#4ba780" stroke-width="6" shape-rendering="auto" d="M520.2 265.6l13.4 .4 8.4-2.2-13.4-.4z"/><path fill="#4ba780" d="M533.6 266l13.4 .3 8.5-2.1-13.5-.4z"/><path fill="#4ba780" d="M547 266.3l13.4 .4 8.5-2.2-13.4-.3z"/><path fill="#4ba880" d="M560.4 266.7l13.4 .4 8.5-2.1-13.4-.5z"/><path fill="#4ca880" d="M573.8 267.1l13.4 .4 8.5-2.1-13.4-.4z"/><path fill="#4ea87e" d="M587.2 267.5l13.4 .5 8.5-2-13.4-.6z"/><path fill="#51a87d" d="M600.6 268l13.4 .6 8.5-2-13.4-.6z"/><path fill="#53a87c" d="M614 268.6l13.4 .7 8.5-2-13.4-.7z"/><path fill="#56a87a" d="M627.4 269.3l13.4 .8 8.5-1.9-13.4-.9z"/><path fill="#58a879" d="M640.8 270.1l13.4 .9 8.5-1.8-13.4-1z"/><path fill="#5aa878" d="M654.2 271l13.4 1.1 8.5-1.8-13.4-1.1z"/><path fill="#5ca877" d="M667.6 272.1l13.4 1.3 8.5-1.8-13.4-1.3z"/><path fill="#5da877" d="M681 273.4l13.5 1.4 8.4-1.7-13.4-1.5z"/><path fill="#5ea876" d="M694.5 274.8l13.4 1.6 8.4-1.7-13.4-1.6z"/><path fill="#5fa875" d="M707.9 276.4l13.4 1.9 8.4-1.7-13.4-1.9z"/><path fill="#60a875" d="M721.3 278.3l13.4 2 8.4-1.6-13.4-2.1z"/><path fill="#60a875" d="M734.7 280.3l13.4 2.3 8.4-1.6-13.4-2.3z"/><path fill="#60a875" d="M748.1 282.6l13.4 2.4 8.5-1.5-13.5-2.5z"/><path fill="#60a875" d="M761.5 285l13.4 2.7 8.5-1.5-13.4-2.7z"/><path fill="#5fa875" d="M774.9 287.7l13.4 3 8.5-1.5-13.4-3z"/><path fill="#5ea876" d="M788.3 290.7l13.4 3.1 8.5-1.5-13.4-3.1z"/><path fill="#5da877" d="M801.7 293.8l13.4 3.4 8.5-1.5-13.4-3.4z"/><path fill="#5ba878" d="M815.1 297.2l13.4 3.6 8.5-1.4-13.4-3.7z"/><path fill="#59a879" d="M828.5 300.8l13.4 3.8 8.5-1.4-13.4-3.8z"/><path fill="#57a87a" d="M841.9 304.6l13.4 4 8.5-1.3-13.4-4.1z"/><path fill="#54a87b" d="M855.3 308.6l13.4 4.2 8.5-1.3-13.4-4.2z"/><path fill="#51a87d" d="M868.7 312.8l13.4 4.4 8.5-1.3-13.4-4.4z"/><path fill="#4ea87e" d="M882.1 317.2l13.4 4.6 8.5-1.3-13.4-4.6z"/><path fill="#4ba880" d="M895.5 321.8l13.4 4.7 8.5-1.3-13.4-4.7z"/><path fill="#4ba880" d="M908.9 326.5l13.5 4.9 8.4-1.3-13.4-4.9z"/><path fill="#4ba780" d="M922.4 331.4l13.4 4.9 8.4-1.2-13.4-5z"/><path fill="#4ba780" d="M935.8 336.3l13.4 5.1 8.4-1.1-13.4-5.2z"/><path fill="#4ba680" d="M949.2 341.4l13.4 5.2 8.4-1.1-13.4-5.2z"/><path fill="#4ba680" d="M962.6 346.6l13.4 5.3 8.4-1.1-13.4-5.3z"/><path fill="#4aa581" d="M976 351.9l13.4 5.3 8.5-1.1-13.5-5.3z"/><path fill="#49a482" d="M989.4 357.2l13.4 5.4 8.5-1.1-13.4-5.4z"/><path fill="#48a483" d="M1002.8 362.6l13.4 5.4 8.5-1-13.4-5.5z"/><path fill="#46a384" d="M1016.2 368l13.4 5.4 8.5-1-13.4-5.4z"/><path fill="#45a285" d="M1029.6 373.4l13.4 5.4 8.5-1-13.4-5.4z"/><path fill="#44a186" d="M1043 378.8l13.4 5.4 8.5-1-13.4-5.4z"/><path fill="#43a088" d="M1056.4 384.2l13.4 5.3 8.5-.9-13.4-5.4z"/><path fill="#429f89" d="M1069.8 389.5l13.4 5.4 8.5-1-13.4-5.3z"/><path fill="#409e8a" d="M1083.2 394.9l13.4 5.2 8.5-.9-13.4-5.3z"/><path fill="#409d8a" d="M1096.6 400.1l13.4 5.3 8.5-.9-13.4-5.3z"/><path fill="#3f9c8b" d="M1110 405.4l13.4 5.2 8.5-.9-13.4-5.2z"/><path fill="#3f9b8c" d="M1123.4 410.6l13.5 5.1 8.4-.8-13.4-5.2z"/><path fill="#3f998c" d="M1136.9 415.7l13.4 5.1 8.4-.8-13.4-5.1z"/><path fill="#3f988d" d="M1150.3 420.8l13.4 5.2 8.4-.9-13.4-5.1z"/><path fill="#3e978d" d="M1163.7 426l13.4 5.1 8.4-.9-13.4-5.1z"/><path fill="#3e968e" stroke="#3e968e" stroke-width="6" shape-rendering="auto" d="M1177.1 431.1l13.4 5.2 8.4-.9-13.4-5.2z"/><path fill="#4ba780" stroke="#4ba780" stroke-width="6" shape-rendering="auto" d="M511.7 267.9l13.4 .3 8.5-2.2-13.4-.4z"/><path fill="#4ba780" d="M525.1 268.2l13.4 .3 8.5-2.2-13.4-.3z"/><path fill="#4ba880" d="M538.5 268.5l13.4 .3 8.5-2.1-13.4-.4z"/><path fill="#4ba880" d="M551.9 268.8l13.4 .4 8.5-2.1-13.4-.4z"/><path fill="#4ea87e" d="M565.3 269.2l13.4 .4 8.5-2.1-13.4-.4z"/><path fill="#51a87d" d="M578.7 269.6l13.4 .4 8.5-2-13.4-.5z"/><path fill="#54a87b" d="M592.1 270l13.5 .6 8.4-2-13.4-.6z"/><path fill="#56a87a" d="M605.6 270.6l13.4 .6 8.4-1.9-13.4-.7z"/><path fill="#58a879" d="M619 271.2l13.4 .8 8.4-1.9-13.4-.8z"/><path fill="#5ba878" d="M632.4 272l13.4 .9 8.4-1.9-13.4-.9z"/><path fill="#5da877" d="M645.8 272.9l13.4 1 8.4-1.8-13.4-1.1z"/><path fill="#5ea876" d="M659.2 273.9l13.4 1.2 8.4-1.7-13.4-1.3z"/><path fill="#60a875" d="M672.6 275.1l13.4 1.4 8.5-1.7-13.5-1.4z"/><path fill="#61a874" d="M686 276.5l13.4 1.6 8.5-1.7-13.4-1.6z"/><path fill="#62a874" d="M699.4 278.1l13.4 1.8 8.5-1.6-13.4-1.9z"/><path fill="#63a873" d="M712.8 279.9l13.4 2 8.5-1.6-13.4-2z"/><path fill="#63a873" d="M726.2 281.9l13.4 2.2 8.5-1.5-13.4-2.3z"/><path fill="#63a873" d="M739.6 284.1l13.4 2.4 8.5-1.5-13.4-2.4z"/><path fill="#63a873" d="M753 286.5l13.4 2.7 8.5-1.5-13.4-2.7z"/><path fill="#62a874" d="M766.4 289.2l13.4 2.9 8.5-1.4-13.4-3z"/><path fill="#61a874" d="M779.8 292.1l13.4 3.1 8.5-1.4-13.4-3.1z"/><path fill="#60a875" d="M793.2 295.2l13.4 3.4 8.5-1.4-13.4-3.4z"/><path fill="#5ea876" d="M806.6 298.6l13.4 3.5 8.5-1.3-13.4-3.6z"/><path fill="#5ca877" d="M820 302.1l13.5 3.8 8.4-1.3-13.4-3.8z"/><path fill="#5aa878" d="M833.5 305.9l13.4 4 8.4-1.3-13.4-4z"/><path fill="#58a879" d="M846.9 309.9l13.4 4.2 8.4-1.3-13.4-4.2z"/><path fill="#55a87b" d="M860.3 314.1l13.4 4.4 8.4-1.3-13.4-4.4z"/><path fill="#52a87c" d="M873.7 318.5l13.4 4.5 8.4-1.2-13.4-4.6z"/><path fill="#4fa87e" d="M887.1 323l13.4 4.7 8.4-1.2-13.4-4.7z"/><path fill="#4ba880" d="M900.5 327.7l13.4 4.8 8.5-1.1-13.5-4.9z"/><path fill="#4ba880" d="M913.9 332.5l13.4 5 8.5-1.2-13.4-4.9z"/><path fill="#4ba780" d="M927.3 337.5l13.4 5.1 8.5-1.2-13.4-5.1z"/><path fill="#4ba780" d="M940.7 342.6l13.4 5.1 8.5-1.1-13.4-5.2z"/><path fill="#4ba680" d="M954.1 347.7l13.4 5.3 8.5-1.1-13.4-5.3z"/><path fill="#4ba680" d="M967.5 353l13.4 5.3 8.5-1.1-13.4-5.3z"/><path fill="#4aa581" d="M980.9 358.3l13.4 5.3 8.5-1-13.4-5.4z"/><path fill="#49a482" d="M994.3 363.6l13.4 5.4 8.5-1-13.4-5.4z"/><path fill="#47a383" d="M1007.7 369l13.4 5.4 8.5-1-13.4-5.4z"/><path fill="#46a384" d="M1021.1 374.4l13.4 5.4 8.5-1-13.4-5.4z"/><path fill="#45a285" d="M1034.5 379.8l13.4 5.3 8.5-.9-13.4-5.4z"/><path fill="#44a186" d="M1047.9 385.1l13.5 5.3 8.4-.9-13.4-5.3z"/><path fill="#43a088" d="M1061.4 390.4l13.4 5.3 8.4-.8-13.4-5.4z"/><path fill="#429f89" d="M1074.8 395.7l13.4 5.3 8.4-.9-13.4-5.2z"/><path fill="#409e8a" d="M1088.2 401l13.4 5.2 8.4-.8-13.4-5.3z"/><path fill="#409d8a" d="M1101.6 406.2l13.4 5.2 8.4-.8-13.4-5.2z"/><path fill="#3f9c8b" d="M1115 411.4l13.4 5.1 8.5-.8-13.5-5.1z"/><path fill="#3f9b8c" d="M1128.4 416.5l13.4 5.1 8.5-.8-13.4-5.1z"/><path fill="#3f9a8c" d="M1141.8 421.6l13.4 5.2 8.5-.8-13.4-5.2z"/><path fill="#3f988d" d="M1155.2 426.8l13.4 5.1 8.5-.8-13.4-5.1z"/><path fill="#3e978d" stroke="#3e978d" stroke-width="6" shape-rendering="auto" d="M1168.6 431.9l13.4 5.1 8.5-.7-13.4-5.2z"/><path fill="#4ba780" stroke="#4ba780" stroke-width="6" shape-rendering="auto" d="M503.2 270.1l13.5 .3 8.4-2.2-13.4-.3z"/><path fill="#4ba880" d="M516.7 270.4l13.4 .2 8.4-2.1-13.4-.3z"/><path fill="#4ba880" d="M530.1 270.6l13.4 .3 8.4-2.1-13.4-.3z"/><path fill="#4ea87f" d="M543.5 270.9l13.4 .3 8.4-2-13.4-.4z"/><path fill="#51a87d" d="M556.9 271.2l13.4 .3 8.4-1.9-13.4-.4z"/><path fill="#53a87c" d="M570.3 271.5l13.4 .4 8.4-1.9-13.4-.4z"/><path fill="#56a87a" d="M583.7 271.9l13.4 .5 8.5-1.8-13.5-.6z"/><path fill="#59a879" d="M597.1 272.4l13.4 .6 8.5-1.8-13.4-.6z"/><path fill="#5ba877" d="M610.5 273l13.4 .7 8.5-1.7-13.4-.8z"/><path fill="#5da876" d="M623.9 273.7l13.4 .9 8.5-1.7-13.4-.9z"/><path fill="#60a875" d="M637.3 274.6l13.4 1 8.5-1.7-13.4-1z"/><path fill="#61a874" d="M650.7 275.6l13.4 1.1 8.5-1.6-13.4-1.2z"/><path fill="#63a873" d="M664.1 276.7l13.4 1.4 8.5-1.6-13.4-1.4z"/><path fill="#64a873" d="M677.5 278.1l13.4 1.5 8.5-1.5-13.4-1.6z"/><path fill="#65a872" d="M690.9 279.6l13.4 1.8 8.5-1.5-13.4-1.8z"/><path fill="#66a872" d="M704.3 281.4l13.4 2 8.5-1.5-13.4-2z"/><path fill="#66a872" d="M717.7 283.4l13.4 2.1 8.5-1.4-13.4-2.2z"/><path fill="#66a872" d="M731.1 285.5l13.5 2.5 8.4-1.5-13.4-2.4z"/><path fill="#66a872" d="M744.6 288l13.4 2.6 8.4-1.4-13.4-2.7z"/><path fill="#66a872" d="M758 290.6l13.4 2.9 8.4-1.4-13.4-2.9z"/><path fill="#65a872" d="M771.4 293.5l13.4 3 8.4-1.3-13.4-3.1z"/><path fill="#63a873" d="M784.8 296.5l13.4 3.4 8.4-1.3-13.4-3.4z"/><path fill="#62a874" d="M798.2 299.9l13.4 3.5 8.4-1.3-13.4-3.5z"/><path fill="#60a875" d="M811.6 303.4l13.4 3.8 8.5-1.3-13.5-3.8z"/><path fill="#5ea876" d="M825 307.2l13.4 3.9 8.5-1.2-13.4-4z"/><path fill="#5ba877" d="M838.4 311.1l13.4 4.2 8.5-1.2-13.4-4.2z"/><path fill="#59a879" d="M851.8 315.3l13.4 4.3 8.5-1.1-13.4-4.4z"/><path fill="#56a87a" d="M865.2 319.6l13.4 4.5 8.5-1.1-13.4-4.5z"/><path fill="#52a87c" d="M878.6 324.1l13.4 4.7 8.5-1.1-13.4-4.7z"/><path fill="#4fa87e" d="M892 328.8l13.4 4.8 8.5-1.1-13.4-4.8z"/><path fill="#4ba880" d="M905.4 333.6l13.4 5 8.5-1.1-13.4-5z"/><path fill="#4ba880" d="M918.8 338.6l13.4 5 8.5-1-13.4-5.1z"/><path fill="#4ba780" d="M932.2 343.6l13.4 5.2 8.5-1.1-13.4-5.1z"/><path fill="#4ba780" d="M945.6 348.8l13.4 5.2 8.5-1-13.4-5.3z"/><path fill="#4ba680" d="M959 354l13.5 5.3 8.4-1-13.4-5.3z"/><path fill="#4ba680" d="M972.5 359.3l13.4 5.3 8.4-1-13.4-5.3z"/><path fill="#4aa581" d="M985.9 364.6l13.4 5.4 8.4-1-13.4-5.4z"/><path fill="#49a482" d="M999.3 370l13.4 5.3 8.4-.9-13.4-5.4z"/><path fill="#47a383" d="M1012.7 375.3l13.4 5.4 8.4-.9-13.4-5.4z"/><path fill="#46a384" d="M1026.1 380.7l13.4 5.3 8.4-.9-13.4-5.3z"/><path fill="#45a285" d="M1039.5 386l13.4 5.3 8.5-.9-13.5-5.3z"/><path fill="#44a187" d="M1052.9 391.3l13.4 5.3 8.5-.9-13.4-5.3z"/><path fill="#43a088" d="M1066.3 396.6l13.4 5.2 8.5-.8-13.4-5.3z"/><path fill="#429f89" d="M1079.7 401.8l13.4 5.2 8.5-.8-13.4-5.2z"/><path fill="#409e8a" d="M1093.1 407l13.4 5.2 8.5-.8-13.4-5.2z"/><path fill="#409d8a" d="M1106.5 412.2l13.4 5.1 8.5-.8-13.4-5.1z"/><path fill="#409c8b" d="M1119.9 417.3l13.4 5.1 8.5-.8-13.4-5.1z"/><path fill="#3f9b8c" d="M1133.3 422.4l13.4 5.1 8.5-.7-13.4-5.2z"/><path fill="#3f9a8c" d="M1146.7 427.5l13.4 5.1 8.5-.7-13.4-5.1z"/><path fill="#3f988d" stroke="#3f988d" stroke-width="6" shape-rendering="auto" d="M1160.1 432.6l13.4 5.2 8.5-.8-13.4-5.1z"/><path fill="#4ba880" stroke="#4ba880" stroke-width="6" shape-rendering="auto" d="M494.8 272.2l13.4 .3 8.5-2.1-13.5-.3z"/><path fill="#4ba880" d="M508.2 272.5l13.4 .2 8.5-2.1-13.4-.2z"/><path fill="#4da87f" d="M521.6 272.7l13.4 .2 8.5-2-13.4-.3z"/><path fill="#50a87d" d="M535 272.9l13.4 .2 8.5-1.9-13.4-.3z"/><path fill="#53a87c" d="M548.4 273.1l13.4 .3 8.5-1.9-13.4-.3z"/><path fill="#56a87a" d="M561.8 273.4l13.4 .3 8.5-1.8-13.4-.4z"/><path fill="#59a879" d="M575.2 273.7l13.4 .5 8.5-1.8-13.4-.5z"/><path fill="#5ca877" d="M588.6 274.2l13.4 .5 8.5-1.7-13.4-.6z"/><path fill="#5ea876" d="M602 274.7l13.4 .7 8.5-1.7-13.4-.7z"/><path fill="#61a875" d="M615.4 275.4l13.4 .8 8.5-1.6-13.4-.9z"/><path fill="#63a874" d="M628.8 276.2l13.4 .9 8.5-1.5-13.4-1z"/><path fill="#65a873" d="M642.2 277.1l13.4 1.1 8.5-1.5-13.4-1.1z"/><path fill="#66a872" d="M655.6 278.2l13.5 1.3 8.4-1.4-13.4-1.4z"/><path fill="#68a871" d="M669.1 279.5l13.4 1.6 8.4-1.5-13.4-1.5z"/><path fill="#69a870" d="M682.5 281.1l13.4 1.7 8.4-1.4-13.4-1.8z"/><path fill="#69a870" d="M695.9 282.8l13.4 1.9 8.4-1.3-13.4-2z"/><path fill="#6aa870" d="M709.3 284.7l13.4 2.2 8.4-1.4-13.4-2.1z"/><path fill="#6aa870" d="M722.7 286.9l13.4 2.3 8.5-1.2-13.5-2.5z"/><path fill="#6aa870" d="M736.1 289.2l13.4 2.6 8.5-1.2-13.4-2.6z"/><path fill="#69a870" d="M749.5 291.8l13.4 2.9 8.5-1.2-13.4-2.9z"/><path fill="#68a871" d="M762.9 294.7l13.4 3.1 8.5-1.3-13.4-3z"/><path fill="#67a871" d="M776.3 297.8l13.4 3.2 8.5-1.1-13.4-3.4z"/><path fill="#66a872" d="M789.7 301l13.4 3.6 8.5-1.2-13.4-3.5z"/><path fill="#64a873" d="M803.1 304.6l13.4 3.7 8.5-1.1-13.4-3.8z"/><path fill="#62a874" d="M816.5 308.3l13.4 3.9 8.5-1.1-13.4-3.9z"/><path fill="#5fa875" d="M829.9 312.2l13.4 4.2 8.5-1.1-13.4-4.2z"/><path fill="#5da877" d="M843.3 316.4l13.4 4.3 8.5-1.1-13.4-4.3z"/><path fill="#5aa878" d="M856.7 320.7l13.4 4.5 8.5-1.1-13.4-4.5z"/><path fill="#56a87a" d="M870.1 325.2l13.5 4.7 8.4-1.1-13.4-4.7z"/><path fill="#53a87c" d="M883.6 329.9l13.4 4.8 8.4-1.1-13.4-4.8z"/><path fill="#4fa87e" d="M897 334.7l13.4 4.9 8.4-1-13.4-5z"/><path fill="#4ca880" d="M910.4 339.6l13.4 5 8.4-1-13.4-5z"/><path fill="#4ba880" d="M923.8 344.6l13.4 5.2 8.4-1-13.4-5.2z"/><path fill="#4ba780" d="M937.2 349.8l13.4 5.2 8.4-1-13.4-5.2z"/><path fill="#4ba780" d="M950.6 355l13.4 5.2 8.5-.9-13.5-5.3z"/><path fill="#4ba680" d="M964 360.2l13.4 5.3 8.5-.9-13.4-5.3z"/><path fill="#4ba680" d="M977.4 365.5l13.4 5.4 8.5-.9-13.4-5.4z"/><path fill="#4aa581" d="M990.8 370.9l13.4 5.3 8.5-.9-13.4-5.3z"/><path fill="#49a482" d="M1004.2 376.2l13.4 5.3 8.5-.8-13.4-5.4z"/><path fill="#47a383" d="M1017.6 381.5l13.4 5.4 8.5-.9-13.4-5.3z"/><path fill="#46a284" d="M1031 386.9l13.4 5.2 8.5-.8-13.4-5.3z"/><path fill="#45a285" d="M1044.4 392.1l13.4 5.3 8.5-.8-13.4-5.3z"/><path fill="#44a186" d="M1057.8 397.4l13.4 5.2 8.5-.8-13.4-5.2z"/><path fill="#43a088" d="M1071.2 402.6l13.4 5.2 8.5-.8-13.4-5.2z"/><path fill="#429f89" d="M1084.6 407.8l13.4 5.1 8.5-.7-13.4-5.2z"/><path fill="#419e8a" d="M1098 412.9l13.5 5.2 8.4-.8-13.4-5.1z"/><path fill="#409d8a" d="M1111.5 418.1l13.4 5.1 8.4-.8-13.4-5.1z"/><path fill="#409c8b" d="M1124.9 423.2l13.4 5.1 8.4-.8-13.4-5.1z"/><path fill="#3f9b8c" d="M1138.3 428.3l13.4 5.1 8.4-.8-13.4-5.1z"/><path fill="#3f9a8c" stroke="#3f9a8c" stroke-width="6" shape-rendering="auto" d="M1151.7 433.4l13.4 5.2 8.4-.8-13.4-5.2z"/><path fill="#4ba880" stroke="#4ba880" stroke-width="6" shape-rendering="auto" d="M486.3 274.3l13.4 .1 8.5-1.9-13.4-.3z"/><path fill="#4da87f" d="M499.7 274.4l13.4 .2 8.5-1.9-13.4-.2z"/><path fill="#50a87d" d="M513.1 274.6l13.4 .1 8.5-1.8-13.4-.2z"/><path fill="#53a87c" d="M526.5 274.7l13.4 .2 8.5-1.8-13.4-.2z"/><path fill="#56a87a" d="M539.9 274.9l13.4 .2 8.5-1.7-13.4-.3z"/><path fill="#59a879" d="M553.3 275.1l13.4 .3 8.5-1.7-13.4-.3z"/><path fill="#5ca877" d="M566.7 275.4l13.5 .3 8.4-1.5-13.4-.5z"/><path fill="#5fa876" d="M580.2 275.7l13.4 .5 8.4-1.5-13.4-.5z"/><path fill="#61a874" d="M593.6 276.2l13.4 .6 8.4-1.4-13.4-.7z"/><path fill="#64a873" d="M607 276.8l13.4 .8 8.4-1.4-13.4-.8z"/><path fill="#66a872" d="M620.4 277.6l13.4 .9 8.4-1.4-13.4-.9z"/><path fill="#68a871" d="M633.8 278.5l13.4 1.1 8.4-1.4-13.4-1.1z"/><path fill="#6aa870" d="M647.2 279.6l13.4 1.2 8.5-1.3-13.5-1.3z"/><path fill="#6ba86f" d="M660.6 280.8l13.4 1.5 8.5-1.2-13.4-1.6z"/><path fill="#6ca86e" d="M674 282.3l13.4 1.7 8.5-1.2-13.4-1.7z"/><path fill="#6da86e" d="M687.4 284l13.4 1.9 8.5-1.2-13.4-1.9z"/><path fill="#6da86e" d="M700.8 285.9l13.4 2.1 8.5-1.1-13.4-2.2z"/><path fill="#6ea86e" d="M714.2 288l13.4 2.4 8.5-1.2-13.4-2.3z"/><path fill="#6da86e" d="M727.6 290.4l13.4 2.6 8.5-1.2-13.4-2.6z"/><path fill="#6da86e" d="M741 293l13.4 2.8 8.5-1.1-13.4-2.9z"/><path fill="#6ca86f" d="M754.4 295.8l13.4 3 8.5-1-13.4-3.1z"/><path fill="#6ba86f" d="M767.8 298.8l13.4 3.3 8.5-1.1-13.4-3.2z"/><path fill="#69a870" d="M781.2 302.1l13.5 3.5 8.4-1-13.4-3.6z"/><path fill="#68a871" d="M794.7 305.6l13.4 3.7 8.4-1-13.4-3.7z"/><path fill="#66a872" d="M808.1 309.3l13.4 4 8.4-1.1-13.4-3.9z"/><path fill="#63a873" d="M821.5 313.3l13.4 4.1 8.4-1-13.4-4.2z"/><path fill="#60a875" d="M834.9 317.4l13.4 4.3 8.4-1-13.4-4.3z"/><path fill="#5da876" d="M848.3 321.7l13.4 4.5 8.4-1-13.4-4.5z"/><path fill="#5aa878" d="M861.7 326.2l13.4 4.6 8.5-.9-13.5-4.7z"/><path fill="#57a87a" d="M875.1 330.8l13.4 4.8 8.5-.9-13.4-4.8z"/><path fill="#53a87c" d="M888.5 335.6l13.4 5 8.5-1-13.4-4.9z"/><path fill="#50a87e" d="M901.9 340.6l13.4 5 8.5-1-13.4-5z"/><path fill="#4ca880" d="M915.3 345.6l13.4 5.1 8.5-.9-13.4-5.2z"/><path fill="#4ba880" d="M928.7 350.7l13.4 5.2 8.5-.9-13.4-5.2z"/><path fill="#4ba780" d="M942.1 355.9l13.4 5.2 8.5-.9-13.4-5.2z"/><path fill="#4ba780" d="M955.5 361.1l13.4 5.3 8.5-.9-13.4-5.3z"/><path fill="#4ba680" d="M968.9 366.4l13.4 5.3 8.5-.8-13.4-5.4z"/><path fill="#4ba680" d="M982.3 371.7l13.4 5.4 8.5-.9-13.4-5.3z"/><path fill="#4aa581" d="M995.7 377.1l13.4 5.3 8.5-.9-13.4-5.3z"/><path fill="#49a482" d="M1009.1 382.4l13.5 5.3 8.4-.8-13.4-5.4z"/><path fill="#47a383" d="M1022.6 387.7l13.4 5.3 8.4-.9-13.4-5.2z"/><path fill="#46a384" d="M1036 393l13.4 5.2 8.4-.8-13.4-5.3z"/><path fill="#45a285" d="M1049.4 398.2l13.4 5.2 8.4-.8-13.4-5.2z"/><path fill="#44a186" d="M1062.8 403.4l13.4 5.2 8.4-.8-13.4-5.2z"/><path fill="#43a087" d="M1076.2 408.6l13.4 5.1 8.4-.8-13.4-5.1z"/><path fill="#429f88" d="M1089.6 413.7l13.4 5.1 8.5-.7-13.5-5.2z"/><path fill="#419e89" d="M1103 418.8l13.4 5.1 8.5-.7-13.4-5.1z"/><path fill="#409d8a" d="M1116.4 423.9l13.4 5.1 8.5-.7-13.4-5.1z"/><path fill="#409c8b" d="M1129.8 429l13.4 5.2 8.5-.8-13.4-5.1z"/><path fill="#3f9b8b" stroke="#3f9b8b" stroke-width="6" shape-rendering="auto" d="M1143.2 434.2l13.4 5.2 8.5-.8-13.4-5.2z"/><path fill="#4ca87f" stroke="#4ca87f" stroke-width="6" shape-rendering="auto" d="M477.8 276.2l13.5 0 8.4-1.8-13.4-.1z"/><path fill="#4fa87e" d="M491.3 276.2l13.4 .1 8.4-1.7-13.4-.2z"/><path fill="#53a87c" d="M504.7 276.3l13.4 0 8.4-1.6-13.4-.1z"/><path fill="#56a87a" d="M518.1 276.3l13.4 .1 8.4-1.5-13.4-.2z"/><path fill="#59a878" d="M531.5 276.4l13.4 .2 8.4-1.5-13.4-.2z"/><path fill="#5ca877" d="M544.9 276.6l13.4 .2 8.4-1.4-13.4-.3z"/><path fill="#5fa875" d="M558.3 276.8l13.4 .3 8.5-1.4-13.5-.3z"/><path fill="#62a874" d="M571.7 277.1l13.4 .4 8.5-1.3-13.4-.5z"/><path fill="#65a872" d="M585.1 277.5l13.4 .6 8.5-1.3-13.4-.6z"/><path fill="#67a871" d="M598.5 278.1l13.4 .7 8.5-1.2-13.4-.8z"/><path fill="#6aa870" d="M611.9 278.8l13.4 .8 8.5-1.1-13.4-.9z"/><path fill="#6ca86f" d="M625.3 279.6l13.4 1.1 8.5-1.1-13.4-1.1z"/><path fill="#6da86e" d="M638.7 280.7l13.4 1.2 8.5-1.1-13.4-1.2z"/><path fill="#6fa86d" d="M652.1 281.9l13.4 1.4 8.5-1-13.4-1.5z"/><path fill="#70a86c" d="M665.5 283.3l13.4 1.7 8.5-1-13.4-1.7z"/><path fill="#71a86c" d="M678.9 285l13.4 1.9 8.5-1-13.4-1.9z"/><path fill="#71a86c" d="M692.3 286.9l13.4 2.1 8.5-1-13.4-2.1z"/><path fill="#72a86c" d="M705.7 289l13.5 2.3 8.4-.9-13.4-2.4z"/><path fill="#71a86c" d="M719.2 291.3l13.4 2.6 8.4-.9-13.4-2.6z"/><path fill="#71a86c" d="M732.6 293.9l13.4 2.8 8.4-.9-13.4-2.8z"/><path fill="#70a86c" d="M746 296.7l13.4 3.1 8.4-1-13.4-3z"/><path fill="#6fa86d" d="M759.4 299.8l13.4 3.2 8.4-.9-13.4-3.3z"/><path fill="#6da86e" d="M772.8 303l13.4 3.5 8.5-.9-13.5-3.5z"/><path fill="#6ca86f" d="M786.2 306.5l13.4 3.8 8.5-1-13.4-3.7z"/><path fill="#6aa870" d="M799.6 310.3l13.4 3.9 8.5-.9-13.4-4z"/><path fill="#67a871" d="M813 314.2l13.4 4.1 8.5-.9-13.4-4.1z"/><path fill="#65a873" d="M826.4 318.3l13.4 4.3 8.5-.9-13.4-4.3z"/><path fill="#62a874" d="M839.8 322.6l13.4 4.5 8.5-.9-13.4-4.5z"/><path fill="#5ea876" d="M853.2 327.1l13.4 4.7 8.5-1-13.4-4.6z"/><path fill="#5ba878" d="M866.6 331.8l13.4 4.7 8.5-.9-13.4-4.8z"/><path fill="#57a879" d="M880 336.5l13.4 5 8.5-.9-13.4-5z"/><path fill="#54a87b" d="M893.4 341.5l13.4 5 8.5-.9-13.4-5z"/><path fill="#50a87d" d="M906.8 346.5l13.4 5.1 8.5-.9-13.4-5.1z"/><path fill="#4ca880" d="M920.2 351.6l13.4 5.2 8.5-.9-13.4-5.2z"/><path fill="#4ba880" d="M933.6 356.8l13.5 5.2 8.4-.9-13.4-5.2z"/><path fill="#4ba780" d="M947.1 362l13.4 5.3 8.4-.9-13.4-5.3z"/><path fill="#4ba780" d="M960.5 367.3l13.4 5.3 8.4-.9-13.4-5.3z"/><path fill="#4ba680" d="M973.9 372.6l13.4 5.3 8.4-.8-13.4-5.4z"/><path fill="#4ba680" d="M987.3 377.9l13.4 5.3 8.4-.8-13.4-5.3z"/><path fill="#4aa581" d="M1000.7 383.2l13.4 5.3 8.5-.8-13.5-5.3z"/><path fill="#49a482" d="M1014.1 388.5l13.4 5.3 8.5-.8-13.4-5.3z"/><path fill="#47a383" d="M1027.5 393.8l13.4 5.2 8.5-.8-13.4-5.2z"/><path fill="#46a384" d="M1040.9 399l13.4 5.2 8.5-.8-13.4-5.2z"/><path fill="#45a285" d="M1054.3 404.2l13.4 5.2 8.5-.8-13.4-5.2z"/><path fill="#44a186" d="M1067.7 409.4l13.4 5.1 8.5-.8-13.4-5.1z"/><path fill="#43a087" d="M1081.1 414.5l13.4 5.2 8.5-.9-13.4-5.1z"/><path fill="#429f88" d="M1094.5 419.7l13.4 5.1 8.5-.9-13.4-5.1z"/><path fill="#419f89" d="M1107.9 424.8l13.4 5.1 8.5-.9-13.4-5.1z"/><path fill="#409e8a" d="M1121.3 429.9l13.4 5.1 8.5-.8-13.4-5.2z"/><path fill="#409c8b" stroke="#409c8b" stroke-width="6" shape-rendering="auto" d="M1134.7 435l13.4 5.3 8.5-.9-13.4-5.2z"/><path fill="#4fa87e" stroke="#4fa87e" stroke-width="6" shape-rendering="auto" d="M469.4 277.9l13.4-.1 8.5-1.6-13.5 0z"/><path fill="#53a87c" d="M482.8 277.8l13.4 0 8.5-1.5-13.4-.1z"/><path fill="#56a87a" d="M496.2 277.8l13.4-.1 8.5-1.4-13.4 0z"/><path fill="#59a878" d="M509.6 277.7l13.4 0 8.5-1.3-13.4-.1z"/><path fill="#5da877" d="M523 277.7l13.4 .1 8.5-1.2-13.4-.2z"/><path fill="#60a875" d="M536.4 277.8l13.4 .1 8.5-1.1-13.4-.2z"/><path fill="#63a873" d="M549.8 277.9l13.4 .3 8.5-1.1-13.4-.3z"/><path fill="#66a872" d="M563.2 278.2l13.4 .4 8.5-1.1-13.4-.4z"/><path fill="#69a870" d="M576.6 278.6l13.4 .5 8.5-1-13.4-.6z"/><path fill="#6ba86f" d="M590 279.1l13.4 .6 8.5-.9-13.4-.7z"/><path fill="#6da86e" d="M603.4 279.7l13.4 .8 8.5-.9-13.4-.8z"/><path fill="#70a86d" d="M616.8 280.5l13.5 1.1 8.4-.9-13.4-1.1z"/><path fill="#71a86c" d="M630.3 281.6l13.4 1.2 8.4-.9-13.4-1.2z"/><path fill="#73a86b" d="M643.7 282.8l13.4 1.4 8.4-.9-13.4-1.4z"/><path fill="#74a86a" d="M657.1 284.2l13.4 1.6 8.4-.8-13.4-1.7z"/><path fill="#75a86a" d="M670.5 285.8l13.4 1.9 8.4-.8-13.4-1.9z"/><path fill="#75a86a" d="M683.9 287.7l13.4 2.1 8.4-.8-13.4-2.1z"/><path fill="#76a869" d="M697.3 289.8l13.4 2.3 8.5-.8-13.5-2.3z"/><path fill="#76a86a" d="M710.7 292.1l13.4 2.6 8.5-.8-13.4-2.6z"/><path fill="#75a86a" d="M724.1 294.7l13.4 2.8 8.5-.8-13.4-2.8z"/><path fill="#74a86a" d="M737.5 297.5l13.4 3 8.5-.7-13.4-3.1z"/><path fill="#73a86b" d="M750.9 300.5l13.4 3.3 8.5-.8-13.4-3.2z"/><path fill="#72a86c" d="M764.3 303.8l13.4 3.5 8.5-.8-13.4-3.5z"/><path fill="#70a86d" d="M777.7 307.3l13.4 3.8 8.5-.8-13.4-3.8z"/><path fill="#6ea86e" d="M791.1 311.1l13.4 3.9 8.5-.8-13.4-3.9z"/><path fill="#6ba86f" d="M804.5 315l13.4 4.1 8.5-.8-13.4-4.1z"/><path fill="#69a870" d="M817.9 319.1l13.4 4.4 8.5-.9-13.4-4.3z"/><path fill="#66a872" d="M831.3 323.5l13.4 4.4 8.5-.8-13.4-4.5z"/><path fill="#63a874" d="M844.7 327.9l13.5 4.7 8.4-.8-13.4-4.7z"/><path fill="#5fa875" d="M858.2 332.6l13.4 4.8 8.4-.9-13.4-4.7z"/><path fill="#5ca877" d="M871.6 337.4l13.4 4.9 8.4-.8-13.4-5z"/><path fill="#58a879" d="M885 342.3l13.4 5 8.4-.8-13.4-5z"/><path fill="#54a87b" d="M898.4 347.3l13.4 5.2 8.4-.9-13.4-5.1z"/><path fill="#50a87d" d="M911.8 352.5l13.4 5.2 8.4-.9-13.4-5.2z"/><path fill="#4ca880" d="M925.2 357.7l13.4 5.2 8.5-.9-13.5-5.2z"/><path fill="#4ba880" d="M938.6 362.9l13.4 5.3 8.5-.9-13.4-5.3z"/><path fill="#4ba780" d="M952 368.2l13.4 5.3 8.5-.9-13.4-5.3z"/><path fill="#4ba780" d="M965.4 373.5l13.4 5.3 8.5-.9-13.4-5.3z"/><path fill="#4ba680" d="M978.8 378.8l13.4 5.3 8.5-.9-13.4-5.3z"/><path fill="#4ba680" d="M992.2 384.1l13.4 5.3 8.5-.9-13.4-5.3z"/><path fill="#4aa581" d="M1005.6 389.4l13.4 5.3 8.5-.9-13.4-5.3z"/><path fill="#49a482" d="M1019 394.7l13.4 5.2 8.5-.9-13.4-5.2z"/><path fill="#47a383" d="M1032.4 399.9l13.4 5.2 8.5-.9-13.4-5.2z"/><path fill="#46a384" d="M1045.8 405.1l13.4 5.2 8.5-.9-13.4-5.2z"/><path fill="#45a285" d="M1059.2 410.3l13.4 5.1 8.5-.9-13.4-5.1z"/><path fill="#44a186" d="M1072.6 415.4l13.5 5.2 8.4-.9-13.4-5.2z"/><path fill="#43a087" d="M1086.1 420.6l13.4 5.1 8.4-.9-13.4-5.1z"/><path fill="#429f88" d="M1099.5 425.7l13.4 5.1 8.4-.9-13.4-5.1z"/><path fill="#419f89" d="M1112.9 430.8l13.4 5.2 8.4-1-13.4-5.1z"/><path fill="#409e8a" stroke="#409e8a" stroke-width="6" shape-rendering="auto" d="M1126.3 436l13.4 5.2 8.4-.9-13.4-5.3z"/><path fill="#52a87c" stroke="#52a87c" stroke-width="6" shape-rendering="auto" d="M460.9 279.3l13.4-.2 8.5-1.3-13.4 .1z"/><path fill="#56a87a" d="M474.3 279.1l13.4-.1 8.5-1.2-13.4 0z"/><path fill="#59a878" d="M487.7 279l13.4-.1 8.5-1.2-13.4 .1z"/><path fill="#5da876" d="M501.1 278.9l13.4-.1 8.5-1.1-13.4 0z"/><path fill="#60a875" d="M514.5 278.8l13.4 0 8.5-1-13.4-.1z"/><path fill="#64a873" d="M527.9 278.8l13.4 0 8.5-.9-13.4-.1z"/><path fill="#67a871" d="M541.3 278.8l13.5 .2 8.4-.8-13.4-.3z"/><path fill="#6aa870" d="M554.8 279l13.4 .3 8.4-.7-13.4-.4z"/><path fill="#6da86e" d="M568.2 279.3l13.4 .5 8.4-.7-13.4-.5z"/><path fill="#6fa86d" d="M581.6 279.8l13.4 .6 8.4-.7-13.4-.6z"/><path fill="#72a86c" d="M595 280.4l13.4 .8 8.4-.7-13.4-.8z"/><path fill="#74a86a" d="M608.4 281.2l13.4 1 8.5-.6-13.5-1.1z"/><path fill="#76a869" d="M621.8 282.2l13.4 1.2 8.5-.6-13.4-1.2z"/><path fill="#77a869" d="M635.2 283.4l13.4 1.4 8.5-.6-13.4-1.4z"/><path fill="#78a868" d="M648.6 284.8l13.4 1.6 8.5-.6-13.4-1.6z"/><path fill="#79a868" d="M662 286.4l13.4 1.9 8.5-.6-13.4-1.9z"/><path fill="#7aa867" d="M675.4 288.3l13.4 2.1 8.5-.6-13.4-2.1z"/><path fill="#7aa867" d="M688.8 290.4l13.4 2.3 8.5-.6-13.4-2.3z"/><path fill="#7aa867" d="M702.2 292.7l13.4 2.6 8.5-.6-13.4-2.6z"/><path fill="#7aa867" d="M715.6 295.3l13.4 2.8 8.5-.6-13.4-2.8z"/><path fill="#79a868" d="M729 298.1l13.4 3.1 8.5-.7-13.4-3z"/><path fill="#78a868" d="M742.4 301.2l13.4 3.3 8.5-.7-13.4-3.3z"/><path fill="#76a869" d="M755.8 304.5l13.5 3.5 8.4-.7-13.4-3.5z"/><path fill="#74a86a" d="M769.3 308l13.4 3.8 8.4-.7-13.4-3.8z"/><path fill="#72a86b" d="M782.7 311.8l13.4 3.9 8.4-.7-13.4-3.9z"/><path fill="#70a86d" d="M796.1 315.7l13.4 4.2 8.4-.8-13.4-4.1z"/><path fill="#6da86e" d="M809.5 319.9l13.4 4.3 8.4-.7-13.4-4.4z"/><path fill="#6aa870" d="M822.9 324.2l13.4 4.5 8.4-.8-13.4-4.4z"/><path fill="#67a871" d="M836.3 328.7l13.4 4.7 8.5-.8-13.5-4.7z"/><path fill="#63a873" d="M849.7 333.4l13.4 4.8 8.5-.8-13.4-4.8z"/><path fill="#60a875" d="M863.1 338.2l13.4 5 8.5-.9-13.4-4.9z"/><path fill="#5ca877" d="M876.5 343.2l13.4 5 8.5-.9-13.4-5z"/><path fill="#58a879" d="M889.9 348.2l13.4 5.1 8.5-.8-13.4-5.2z"/><path fill="#54a87b" d="M903.3 353.3l13.4 5.2 8.5-.8-13.4-5.2z"/><path fill="#50a87d" d="M916.7 358.5l13.4 5.3 8.5-.9-13.4-5.2z"/><path fill="#4ca880" d="M930.1 363.8l13.4 5.3 8.5-.9-13.4-5.3z"/><path fill="#4ba880" d="M943.5 369.1l13.4 5.3 8.5-.9-13.4-5.3z"/><path fill="#4ba780" d="M956.9 374.4l13.4 5.4 8.5-1-13.4-5.3z"/><path fill="#4ba780" d="M970.3 379.8l13.4 5.3 8.5-1-13.4-5.3z"/><path fill="#4ba680" d="M983.7 385.1l13.5 5.3 8.4-1-13.4-5.3z"/><path fill="#4ba680" d="M997.2 390.4l13.4 5.3 8.4-1-13.4-5.3z"/><path fill="#4aa581" d="M1010.6 395.7l13.4 5.2 8.4-1-13.4-5.2z"/><path fill="#49a482" d="M1024 400.9l13.4 5.2 8.4-1-13.4-5.2z"/><path fill="#47a383" d="M1037.4 406.1l13.4 5.2 8.4-1-13.4-5.2z"/><path fill="#46a384" d="M1050.8 411.3l13.4 5.2 8.4-1.1-13.4-5.1z"/><path fill="#45a285" d="M1064.2 416.5l13.4 5.1 8.5-1-13.5-5.2z"/><path fill="#44a186" d="M1077.6 421.6l13.4 5.1 8.5-1-13.4-5.1z"/><path fill="#43a087" d="M1091 426.7l13.4 5.2 8.5-1.1-13.4-5.1z"/><path fill="#429f88" d="M1104.4 431.9l13.4 5.2 8.5-1.1-13.4-5.2z"/><path fill="#419f89" stroke="#419f89" stroke-width="6" shape-rendering="auto" d="M1117.8 437.1l13.4 5.3 8.5-1.2-13.4-5.2z"/><path fill="#56a87a" stroke="#56a87a" stroke-width="6" shape-rendering="auto" d="M452.4 280.4l13.5-.3 8.4-1-13.4 .2z"/><path fill="#5aa878" d="M465.9 280.1l13.4-.2 8.4-.9-13.4 .1z"/><path fill="#5da876" d="M479.3 279.9l13.4-.2 8.4-.8-13.4 .1z"/><path fill="#61a874" d="M492.7 279.7l13.4-.2 8.4-.7-13.4 .1z"/><path fill="#65a872" d="M506.1 279.5l13.4-.1 8.4-.6-13.4 0z"/><path fill="#68a871" d="M519.5 279.4l13.4 0 8.4-.6-13.4 0z"/><path fill="#6ba86f" d="M532.9 279.4l13.4 .2 8.5-.6-13.5-.2z"/><path fill="#6ea86d" d="M546.3 279.6l13.4 .2 8.5-.5-13.4-.3z"/><path fill="#71a86c" d="M559.7 279.8l13.4 .4 8.5-.4-13.4-.5z"/><path fill="#74a86a" d="M573.1 280.2l13.4 .6 8.5-.4-13.4-.6z"/><path fill="#76a869" d="M586.5 280.8l13.4 .8 8.5-.4-13.4-.8z"/><path fill="#79a868" d="M599.9 281.6l13.4 1 8.5-.4-13.4-1z"/><path fill="#7aa867" d="M613.3 282.6l13.4 1.2 8.5-.4-13.4-1.2z"/><path fill="#7ca866" d="M626.7 283.8l13.4 1.4 8.5-.4-13.4-1.4z"/><path fill="#7da865" d="M640.1 285.2l13.4 1.6 8.5-.4-13.4-1.6z"/><path fill="#7ea865" d="M653.5 286.8l13.4 1.9 8.5-.4-13.4-1.9z"/><path fill="#7fa865" d="M666.9 288.7l13.5 2.1 8.4-.4-13.4-2.1z"/><path fill="#7fa865" d="M680.4 290.8l13.4 2.3 8.4-.4-13.4-2.3z"/><path fill="#7fa865" d="M693.8 293.1l13.4 2.7 8.4-.5-13.4-2.6z"/><path fill="#7ea865" d="M707.2 295.8l13.4 2.8 8.4-.5-13.4-2.8z"/><path fill="#7da865" d="M720.6 298.6l13.4 3.1 8.4-.5-13.4-3.1z"/><path fill="#7ca866" d="M734 301.7l13.4 3.3 8.4-.5-13.4-3.3z"/><path fill="#7ba867" d="M747.4 305l13.4 3.6 8.5-.6-13.5-3.5z"/><path fill="#79a868" d="M760.8 308.6l13.4 3.8 8.5-.6-13.4-3.8z"/><path fill="#77a869" d="M774.2 312.4l13.4 3.9 8.5-.6-13.4-3.9z"/><path fill="#74a86a" d="M787.6 316.3l13.4 4.2 8.5-.6-13.4-4.2z"/><path fill="#71a86c" d="M801 320.5l13.4 4.4 8.5-.7-13.4-4.3z"/><path fill="#6ea86d" d="M814.4 324.9l13.4 4.6 8.5-.8-13.4-4.5z"/><path fill="#6ba86f" d="M827.8 329.5l13.4 4.7 8.5-.8-13.4-4.7z"/><path fill="#68a871" d="M841.2 334.2l13.4 4.8 8.5-.8-13.4-4.8z"/><path fill="#64a873" d="M854.6 339l13.4 5 8.5-.8-13.4-5z"/><path fill="#60a875" d="M868 344l13.4 5.1 8.5-.9-13.4-5z"/><path fill="#5ca877" d="M881.4 349.1l13.4 5.1 8.5-.9-13.4-5.1z"/><path fill="#58a879" d="M894.8 354.2l13.5 5.3 8.4-1-13.4-5.2z"/><path fill="#54a87b" d="M908.3 359.5l13.4 5.3 8.4-1-13.4-5.3z"/><path fill="#50a87d" d="M921.7 364.8l13.4 5.3 8.4-1-13.4-5.3z"/><path fill="#4ca880" d="M935.1 370.1l13.4 5.3 8.4-1-13.4-5.3z"/><path fill="#4ba880" d="M948.5 375.4l13.4 5.4 8.4-1-13.4-5.4z"/><path fill="#4ba780" d="M961.9 380.8l13.4 5.3 8.4-1-13.4-5.3z"/><path fill="#4ba780" d="M975.3 386.1l13.4 5.4 8.5-1.1-13.5-5.3z"/><path fill="#4ba680" d="M988.7 391.5l13.4 5.3 8.5-1.1-13.4-5.3z"/><path fill="#4ba680" d="M1002.1 396.8l13.4 5.2 8.5-1.1-13.4-5.2z"/><path fill="#4aa581" d="M1015.5 402l13.4 5.3 8.5-1.2-13.4-5.2z"/><path fill="#48a482" d="M1028.9 407.3l13.4 5.2 8.5-1.2-13.4-5.2z"/><path fill="#47a383" d="M1042.3 412.5l13.4 5.2 8.5-1.2-13.4-5.2z"/><path fill="#46a384" d="M1055.7 417.7l13.4 5.1 8.5-1.2-13.4-5.1z"/><path fill="#45a285" d="M1069.1 422.8l13.4 5.2 8.5-1.3-13.4-5.1z"/><path fill="#44a186" d="M1082.5 428l13.4 5.2 8.5-1.3-13.4-5.2z"/><path fill="#43a087" d="M1095.9 433.2l13.4 5.2 8.5-1.3-13.4-5.2z"/><path fill="#429f88" stroke="#429f88" stroke-width="6" shape-rendering="auto" d="M1109.3 438.4l13.4 5.4 8.5-1.4-13.4-5.3z"/><path fill="#5aa878" stroke="#5aa878" stroke-width="6" shape-rendering="auto" d="M444 281.2l13.4-.4 8.5-.7-13.5 .3z"/><path fill="#5ea876" d="M457.4 280.8l13.4-.4 8.5-.5-13.4 .2z"/><path fill="#62a874" d="M470.8 280.4l13.4-.3 8.5-.4-13.4 .2z"/><path fill="#66a872" d="M484.2 280.1l13.4-.2 8.5-.4-13.4 .2z"/><path fill="#69a870" d="M497.6 279.9l13.4-.2 8.5-.3-13.4 .1z"/><path fill="#6da86e" d="M511 279.7l13.4 0 8.5-.3-13.4 0z"/><path fill="#70a86c" d="M524.4 279.7l13.4 .1 8.5-.2-13.4-.2z"/><path fill="#73a86b" d="M537.8 279.8l13.4 .2 8.5-.2-13.4-.2z"/><path fill="#76a869" d="M551.2 280l13.4 .4 8.5-.2-13.4-.4z"/><path fill="#79a868" d="M564.6 280.4l13.4 .6 8.5-.2-13.4-.6z"/><path fill="#7ba866" d="M578 281l13.4 .7 8.5-.1-13.4-.8z"/><path fill="#7ea865" d="M591.4 281.7l13.5 1 8.4-.1-13.4-1z"/><path fill="#80a864" d="M604.9 282.7l13.4 1.2 8.4-.1-13.4-1.2z"/><path fill="#81a864" d="M618.3 283.9l13.4 1.4 8.4-.1-13.4-1.4z"/><path fill="#82a863" d="M631.7 285.3l13.4 1.7 8.4-.2-13.4-1.6z"/><path fill="#83a863" d="M645.1 287l13.4 1.9 8.4-.2-13.4-1.9z"/><path fill="#84a863" d="M658.5 288.9l13.4 2.1 8.5-.2-13.5-2.1z"/><path fill="#84a863" d="M671.9 291l13.4 2.4 8.5-.3-13.4-2.3z"/><path fill="#84a863" d="M685.3 293.4l13.4 2.6 8.5-.2-13.4-2.7z"/><path fill="#83a863" d="M698.7 296l13.4 2.9 8.5-.3-13.4-2.8z"/><path fill="#82a863" d="M712.1 298.9l13.4 3.2 8.5-.4-13.4-3.1z"/><path fill="#81a864" d="M725.5 302.1l13.4 3.3 8.5-.4-13.4-3.3z"/><path fill="#7fa864" d="M738.9 305.4l13.4 3.6 8.5-.4-13.4-3.6z"/><path fill="#7da865" d="M752.3 309l13.4 3.9 8.5-.5-13.4-3.8z"/><path fill="#7ba867" d="M765.7 312.9l13.4 4 8.5-.6-13.4-3.9z"/><path fill="#79a868" d="M779.1 316.9l13.4 4.3 8.5-.7-13.4-4.2z"/><path fill="#76a869" d="M792.5 321.2l13.4 4.4 8.5-.7-13.4-4.4z"/><path fill="#73a86b" d="M805.9 325.6l13.5 4.6 8.4-.7-13.4-4.6z"/><path fill="#70a86d" d="M819.4 330.2l13.4 4.8 8.4-.8-13.4-4.7z"/><path fill="#6ca86f" d="M832.8 335l13.4 4.9 8.4-.9-13.4-4.8z"/><path fill="#68a871" d="M846.2 339.9l13.4 5 8.4-.9-13.4-5z"/><path fill="#64a873" d="M859.6 344.9l13.4 5.1 8.4-.9-13.4-5.1z"/><path fill="#60a875" d="M873 350l13.4 5.2 8.4-1-13.4-5.1z"/><path fill="#5ca877" d="M886.4 355.2l13.4 5.3 8.5-1-13.5-5.3z"/><path fill="#58a879" d="M899.8 360.5l13.4 5.3 8.5-1-13.4-5.3z"/><path fill="#54a87b" d="M913.2 365.8l13.4 5.4 8.5-1.1-13.4-5.3z"/><path fill="#4fa87e" d="M926.6 371.2l13.4 5.4 8.5-1.2-13.4-5.3z"/><path fill="#4ba880" d="M940 376.6l13.4 5.4 8.5-1.2-13.4-5.4z"/><path fill="#4ba880" d="M953.4 382l13.4 5.4 8.5-1.3-13.4-5.3z"/><path fill="#4ba780" d="M966.8 387.4l13.4 5.3 8.5-1.2-13.4-5.4z"/><path fill="#4ba780" d="M980.2 392.7l13.4 5.4 8.5-1.3-13.4-5.3z"/><path fill="#4ba680" d="M993.6 398.1l13.4 5.3 8.5-1.4-13.4-5.2z"/><path fill="#4ba680" d="M1007 403.4l13.4 5.2 8.5-1.3-13.4-5.3z"/><path fill="#49a581" d="M1020.4 408.6l13.4 5.3 8.5-1.4-13.4-5.2z"/><path fill="#48a482" d="M1033.8 413.9l13.5 5.2 8.4-1.4-13.4-5.2z"/><path fill="#47a383" d="M1047.3 419.1l13.4 5.2 8.4-1.5-13.4-5.1z"/><path fill="#46a284" d="M1060.7 424.3l13.4 5.2 8.4-1.5-13.4-5.2z"/><path fill="#45a285" d="M1074.1 429.5l13.4 5.3 8.4-1.6-13.4-5.2z"/><path fill="#44a187" d="M1087.5 434.8l13.4 5.3 8.4-1.7-13.4-5.2z"/><path fill="#43a088" stroke="#43a088" stroke-width="6" shape-rendering="auto" d="M1100.9 440.1l13.4 5.3 8.4-1.6-13.4-5.4z"/><path fill="#5fa875" stroke="#5fa875" stroke-width="6" shape-rendering="auto" d="M435.5 281.6l13.4-.5 8.5-.3-13.4 .4z"/><path fill="#63a873" d="M448.9 281.1l13.4-.5 8.5-.2-13.4 .4z"/><path fill="#67a871" d="M462.3 280.6l13.4-.4 8.5-.1-13.4 .3z"/><path fill="#6ba86f" d="M475.7 280.2l13.4-.3 8.5 0-13.4 .2z"/><path fill="#6fa86d" d="M489.1 279.9l13.4-.2 8.5 0-13.4 .2z"/><path fill="#72a86b" d="M502.5 279.7l13.5-.1 8.4 .1-13.4 0z"/><path fill="#76a869" d="M516 279.6l13.4 0 8.4 .2-13.4-.1z"/><path fill="#79a868" d="M529.4 279.6l13.4 .2 8.4 .2-13.4-.2z"/><path fill="#7ca866" d="M542.8 279.8l13.4 .4 8.4 .2-13.4-.4z"/><path fill="#7fa865" d="M556.2 280.2l13.4 .6 8.4 .2-13.4-.6z"/><path fill="#81a864" d="M569.6 280.8l13.4 .7 8.4 .2-13.4-.7z"/><path fill="#83a863" d="M583 281.5l13.4 1 8.5 .2-13.5-1z"/><path fill="#85a863" d="M596.4 282.5l13.4 1.2 8.5 .2-13.4-1.2z"/><path fill="#86a862" d="M609.8 283.7l13.4 1.5 8.5 .1-13.4-1.4z"/><path fill="#88a862" d="M623.2 285.2l13.4 1.7 8.5 .1-13.4-1.7z"/><path fill="#88a862" d="M636.6 286.9l13.4 1.9 8.5 .1-13.4-1.9z"/><path fill="#89a862" d="M650 288.8l13.4 2.2 8.5 0-13.4-2.1z"/><path fill="#89a862" d="M663.4 291l13.4 2.5 8.5-.1-13.4-2.4z"/><path fill="#89a862" d="M676.8 293.5l13.4 2.7 8.5-.2-13.4-2.6z"/><path fill="#88a862" d="M690.2 296.2l13.4 2.9 8.5-.2-13.4-2.9z"/><path fill="#87a862" d="M703.6 299.1l13.4 3.2 8.5-.2-13.4-3.2z"/><path fill="#86a862" d="M717 302.3l13.4 3.5 8.5-.4-13.4-3.3z"/><path fill="#84a863" d="M730.4 305.8l13.5 3.6 8.4-.4-13.4-3.6z"/><path fill="#82a863" d="M743.9 309.4l13.4 3.9 8.4-.4-13.4-3.9z"/><path fill="#80a864" d="M757.3 313.3l13.4 4.2 8.4-.6-13.4-4z"/><path fill="#7da865" d="M770.7 317.5l13.4 4.3 8.4-.6-13.4-4.3z"/><path fill="#7aa867" d="M784.1 321.8l13.4 4.5 8.4-.7-13.4-4.4z"/><path fill="#77a869" d="M797.5 326.3l13.4 4.7 8.5-.8-13.5-4.6z"/><path fill="#74a86a" d="M810.9 331l13.4 4.8 8.5-.8-13.4-4.8z"/><path fill="#70a86c" d="M824.3 335.8l13.4 5 8.5-.9-13.4-4.9z"/><path fill="#6ca86e" d="M837.7 340.8l13.4 5.1 8.5-1-13.4-5z"/><path fill="#69a870" d="M851.1 345.9l13.4 5.1 8.5-1-13.4-5.1z"/><path fill="#64a873" d="M864.5 351l13.4 5.3 8.5-1.1-13.4-5.2z"/><path fill="#60a875" d="M877.9 356.3l13.4 5.4 8.5-1.2-13.4-5.3z"/><path fill="#5ca877" d="M891.3 361.7l13.4 5.4 8.5-1.3-13.4-5.3z"/><path fill="#58a879" d="M904.7 367.1l13.4 5.4 8.5-1.3-13.4-5.4z"/><path fill="#53a87c" d="M918.1 372.5l13.4 5.4 8.5-1.3-13.4-5.4z"/><path fill="#4fa87e" d="M931.5 377.9l13.4 5.5 8.5-1.4-13.4-5.4z"/><path fill="#4ba880" d="M944.9 383.4l13.5 5.4 8.4-1.4-13.4-5.4z"/><path fill="#4ba780" d="M958.4 388.8l13.4 5.4 8.4-1.5-13.4-5.3z"/><path fill="#4ba780" d="M971.8 394.2l13.4 5.4 8.4-1.5-13.4-5.4z"/><path fill="#4ba780" d="M985.2 399.6l13.4 5.3 8.4-1.5-13.4-5.3z"/><path fill="#4ba680" d="M998.6 404.9l13.4 5.4 8.4-1.7-13.4-5.2z"/><path fill="#4aa681" d="M1012 410.3l13.4 5.3 8.4-1.7-13.4-5.3z"/><path fill="#49a582" d="M1025.4 415.6l13.4 5.2 8.5-1.7-13.5-5.2z"/><path fill="#48a483" d="M1038.8 420.8l13.4 5.3 8.5-1.8-13.4-5.2z"/><path fill="#47a384" d="M1052.2 426.1l13.4 5.2 8.5-1.8-13.4-5.2z"/><path fill="#46a285" d="M1065.6 431.3l13.4 5.3 8.5-1.8-13.4-5.3z"/><path fill="#45a186" d="M1079 436.6l13.4 5.4 8.5-1.9-13.4-5.3z"/><path fill="#43a087" stroke="#43a087" stroke-width="6" shape-rendering="auto" d="M1092.4 442l13.4 5.5 8.5-2.1-13.4-5.3z"/><path fill="#64a873" stroke="#64a873" stroke-width="6" shape-rendering="auto" d="M427 281.6l13.5-.7 8.4 .2-13.4 .5z"/><path fill="#68a870" d="M440.5 280.9l13.4-.5 8.4 .2-13.4 .5z"/><path fill="#6ca86e" d="M453.9 280.4l13.4-.5 8.4 .3-13.4 .4z"/><path fill="#70a86c" d="M467.3 279.9l13.4-.4 8.4 .4-13.4 .3z"/><path fill="#74a86a" d="M480.7 279.5l13.4-.3 8.4 .5-13.4 .2z"/><path fill="#78a868" d="M494.1 279.2l13.4-.1 8.5 .5-13.5 .1z"/><path fill="#7ba866" d="M507.5 279.1l13.4 0 8.5 .5-13.4 0z"/><path fill="#7fa865" d="M520.9 279.1l13.4 .2 8.5 .5-13.4-.2z"/><path fill="#82a864" d="M534.3 279.3l13.4 .4 8.5 .5-13.4-.4z"/><path fill="#84a863" d="M547.7 279.7l13.4 .6 8.5 .5-13.4-.6z"/><path fill="#87a862" d="M561.1 280.3l13.4 .8 8.5 .4-13.4-.7z"/><path fill="#89a862" d="M574.5 281.1l13.4 1 8.5 .4-13.4-1z"/><path fill="#8ba861" d="M587.9 282.1l13.4 1.3 8.5 .3-13.4-1.2z"/><path fill="#8ca861" d="M601.3 283.4l13.4 1.5 8.5 .3-13.4-1.5z"/><path fill="#8da861" d="M614.7 284.9l13.4 1.7 8.5 .3-13.4-1.7z"/><path fill="#8ea860" d="M628.1 286.6l13.4 2 8.5 .2-13.4-1.9z"/><path fill="#8ea860" d="M641.5 288.6l13.5 2.3 8.4 .1-13.4-2.2z"/><path fill="#8fa860" d="M655 290.9l13.4 2.5 8.4 .1-13.4-2.5z"/><path fill="#8ea860" d="M668.4 293.4l13.4 2.8 8.4 0-13.4-2.7z"/><path fill="#8da861" d="M681.8 296.2l13.4 3 8.4-.1-13.4-2.9z"/><path fill="#8ca861" d="M695.2 299.2l13.4 3.3 8.4-.2-13.4-3.2z"/><path fill="#8ba861" d="M708.6 302.5l13.4 3.5 8.4-.2-13.4-3.5z"/><path fill="#89a862" d="M722 306l13.4 3.8 8.5-.4-13.5-3.6z"/><path fill="#87a862" d="M735.4 309.8l13.4 4 8.5-.5-13.4-3.9z"/><path fill="#85a863" d="M748.8 313.8l13.4 4.2 8.5-.5-13.4-4.2z"/><path fill="#82a864" d="M762.2 318l13.4 4.4 8.5-.6-13.4-4.3z"/><path fill="#7fa865" d="M775.6 322.4l13.4 4.6 8.5-.7-13.4-4.5z"/><path fill="#7ca866" d="M789 327l13.4 4.8 8.5-.8-13.4-4.7z"/><path fill="#78a868" d="M802.4 331.8l13.4 4.9 8.5-.9-13.4-4.8z"/><path fill="#74a86a" d="M815.8 336.7l13.4 5.1 8.5-1-13.4-5z"/><path fill="#70a86c" d="M829.2 341.8l13.4 5.1 8.5-1-13.4-5.1z"/><path fill="#6ca86e" d="M842.6 346.9l13.4 5.3 8.5-1.2-13.4-5.1z"/><path fill="#68a871" d="M856 352.2l13.4 5.4 8.5-1.3-13.4-5.3z"/><path fill="#64a873" d="M869.4 357.6l13.5 5.4 8.4-1.3-13.4-5.4z"/><path fill="#60a875" d="M882.9 363l13.4 5.5 8.4-1.4-13.4-5.4z"/><path fill="#5ba878" d="M896.3 368.5l13.4 5.5 8.4-1.5-13.4-5.4z"/><path fill="#57a87a" d="M909.7 374l13.4 5.5 8.4-1.6-13.4-5.4z"/><path fill="#52a87c" d="M923.1 379.5l13.4 5.5 8.4-1.6-13.4-5.5z"/><path fill="#4ea87f" d="M936.5 385l13.4 5.5 8.5-1.7-13.5-5.4z"/><path fill="#4ba880" d="M949.9 390.5l13.4 5.5 8.5-1.8-13.4-5.4z"/><path fill="#4ba780" d="M963.3 396l13.4 5.4 8.5-1.8-13.4-5.4z"/><path fill="#4ba780" d="M976.7 401.4l13.4 5.4 8.5-1.9-13.4-5.3z"/><path fill="#4ba680" d="M990.1 406.8l13.4 5.4 8.5-1.9-13.4-5.4z"/><path fill="#4ba680" d="M1003.5 412.2l13.4 5.4 8.5-2-13.4-5.3z"/><path fill="#4aa581" d="M1016.9 417.6l13.4 5.3 8.5-2.1-13.4-5.2z"/><path fill="#49a482" d="M1030.3 422.9l13.4 5.3 8.5-2.1-13.4-5.3z"/><path fill="#48a483" d="M1043.7 428.2l13.4 5.4 8.5-2.3-13.4-5.2z"/><path fill="#46a384" d="M1057.1 433.6l13.4 5.3 8.5-2.3-13.4-5.3z"/><path fill="#45a285" d="M1070.5 438.9l13.4 5.5 8.5-2.4-13.4-5.4z"/><path fill="#44a186" stroke="#44a186" stroke-width="6" shape-rendering="auto" d="M1083.9 444.4l13.5 5.5 8.4-2.4-13.4-5.5z"/><path fill="#6aa870" stroke="#6aa870" stroke-width="6" shape-rendering="auto" d="M418.6 281.1l13.4-.7 8.5 .5-13.5 .7z"/><path fill="#6ea86d" d="M432 280.4l13.4-.7 8.5 .7-13.4 .5z"/><path fill="#73a86b" d="M445.4 279.7l13.4-.5 8.5 .7-13.4 .5z"/><path fill="#77a869" d="M458.8 279.2l13.4-.5 8.5 .8-13.4 .4z"/><path fill="#7ba867" d="M472.2 278.7l13.4-.3 8.5 .8-13.4 .3z"/><path fill="#7ea865" d="M485.6 278.4l13.4-.1 8.5 .8-13.4 .1z"/><path fill="#82a864" d="M499 278.3l13.4 0 8.5 .8-13.4 0z"/><path fill="#85a863" d="M512.4 278.3l13.4 .2 8.5 .8-13.4-.2z"/><path fill="#88a862" d="M525.8 278.5l13.4 .4 8.5 .8-13.4-.4z"/><path fill="#8ba861" d="M539.2 278.9l13.4 .6 8.5 .8-13.4-.6z"/><path fill="#8da861" d="M552.6 279.5l13.4 .8 8.5 .8-13.4-.8z"/><path fill="#8fa860" d="M566 280.3l13.5 1.1 8.4 .7-13.4-1z"/><path fill="#91a860" d="M579.5 281.4l13.4 1.3 8.4 .7-13.4-1.3z"/><path fill="#92a85f" d="M592.9 282.7l13.4 1.6 8.4 .6-13.4-1.5z"/><path fill="#93a85f" d="M606.3 284.3l13.4 1.8 8.4 .5-13.4-1.7z"/><path fill="#94a85f" d="M619.7 286.1l13.4 2.1 8.4 .4-13.4-2z"/><path fill="#94a85f" d="M633.1 288.2l13.4 2.4 8.5 .3-13.5-2.3z"/><path fill="#94a85f" d="M646.5 290.6l13.4 2.6 8.5 .2-13.4-2.5z"/><path fill="#94a85f" d="M659.9 293.2l13.4 2.9 8.5 .1-13.4-2.8z"/><path fill="#93a85f" d="M673.3 296.1l13.4 3.1 8.5 0-13.4-3z"/><path fill="#92a85f" d="M686.7 299.2l13.4 3.4 8.5-.1-13.4-3.3z"/><path fill="#90a860" d="M700.1 302.6l13.4 3.7 8.5-.3-13.4-3.5z"/><path fill="#8ea860" d="M713.5 306.3l13.4 3.9 8.5-.4-13.4-3.8z"/><path fill="#8ca861" d="M726.9 310.2l13.4 4.1 8.5-.5-13.4-4z"/><path fill="#89a862" d="M740.3 314.3l13.4 4.3 8.5-.6-13.4-4.2z"/><path fill="#86a862" d="M753.7 318.6l13.4 4.5 8.5-.7-13.4-4.4z"/><path fill="#83a863" d="M767.1 323.1l13.4 4.7 8.5-.8-13.4-4.6z"/><path fill="#80a864" d="M780.5 327.8l13.5 4.9 8.4-.9-13.4-4.8z"/><path fill="#7ca866" d="M794 332.7l13.4 5.1 8.4-1.1-13.4-4.9z"/><path fill="#78a868" d="M807.4 337.8l13.4 5.1 8.4-1.1-13.4-5.1z"/><path fill="#74a86a" d="M820.8 342.9l13.4 5.3 8.4-1.3-13.4-5.1z"/><path fill="#70a86c" d="M834.2 348.2l13.4 5.4 8.4-1.4-13.4-5.3z"/><path fill="#6ca86f" d="M847.6 353.6l13.4 5.5 8.4-1.5-13.4-5.4z"/><path fill="#67a871" d="M861 359.1l13.4 5.5 8.5-1.6-13.5-5.4z"/><path fill="#63a873" d="M874.4 364.6l13.4 5.6 8.5-1.7-13.4-5.5z"/><path fill="#5ea876" d="M887.8 370.2l13.4 5.6 8.5-1.8-13.4-5.5z"/><path fill="#5aa878" d="M901.2 375.8l13.4 5.6 8.5-1.9-13.4-5.5z"/><path fill="#55a87b" d="M914.6 381.4l13.4 5.6 8.5-2-13.4-5.5z"/><path fill="#50a87d" d="M928 387l13.4 5.5 8.5-2-13.4-5.5z"/><path fill="#4ca880" d="M941.4 392.5l13.4 5.6 8.5-2.1-13.4-5.5z"/><path fill="#4ba880" d="M954.8 398.1l13.4 5.5 8.5-2.2-13.4-5.4z"/><path fill="#4ba780" d="M968.2 403.6l13.4 5.5 8.5-2.3-13.4-5.4z"/><path fill="#4ba780" d="M981.6 409.1l13.4 5.5 8.5-2.4-13.4-5.4z"/><path fill="#4ba680" d="M995 414.6l13.4 5.4 8.5-2.4-13.4-5.4z"/><path fill="#4ba680" d="M1008.4 420l13.5 5.4 8.4-2.5-13.4-5.3z"/><path fill="#49a581" d="M1021.9 425.4l13.4 5.4 8.4-2.6-13.4-5.3z"/><path fill="#48a483" d="M1035.3 430.8l13.4 5.4 8.4-2.6-13.4-5.4z"/><path fill="#47a384" d="M1048.7 436.2l13.4 5.5 8.4-2.8-13.4-5.3z"/><path fill="#46a285" d="M1062.1 441.7l13.4 5.5 8.4-2.8-13.4-5.5z"/><path fill="#45a186" stroke="#45a186" stroke-width="6" shape-rendering="auto" d="M1075.5 447.2l13.4 5.7 8.5-3-13.5-5.5z"/><path fill="#71a86c" stroke="#71a86c" stroke-width="6" shape-rendering="auto" d="M410.1 280.2l13.4-.8 8.5 1-13.4 .7z"/><path fill="#75a86a" d="M423.5 279.4l13.4-.8 8.5 1.1-13.4 .7z"/><path fill="#79a867" d="M436.9 278.6l13.4-.6 8.5 1.2-13.4 .5z"/><path fill="#7ea865" d="M450.3 278l13.4-.5 8.5 1.2-13.4 .5z"/><path fill="#82a864" d="M463.7 277.5l13.4-.3 8.5 1.2-13.4 .3z"/><path fill="#85a863" d="M477.1 277.2l13.5-.1 8.4 1.2-13.4 .1z"/><path fill="#89a862" d="M490.6 277.1l13.4 0 8.4 1.2-13.4 0z"/><path fill="#8ca861" d="M504 277.1l13.4 .2 8.4 1.2-13.4-.2z"/><path fill="#8fa860" d="M517.4 277.3l13.4 .5 8.4 1.1-13.4-.4z"/><path fill="#92a85f" d="M530.8 277.8l13.4 .6 8.4 1.1-13.4-.6z"/><path fill="#94a85f" d="M544.2 278.4l13.4 .9 8.4 1-13.4-.8z"/><path fill="#96a85e" d="M557.6 279.3l13.4 1.2 8.5 .9-13.5-1.1z"/><path fill="#98a85e" d="M571 280.5l13.4 1.4 8.5 .8-13.4-1.3z"/><path fill="#99a85e" d="M584.4 281.9l13.4 1.6 8.5 .8-13.4-1.6z"/><path fill="#9aa85d" d="M597.8 283.5l13.4 2 8.5 .6-13.4-1.8z"/><path fill="#9aa85d" d="M611.2 285.5l13.4 2.2 8.5 .5-13.4-2.1z"/><path fill="#9aa85d" d="M624.6 287.7l13.4 2.5 8.5 .4-13.4-2.4z"/><path fill="#9aa85d" d="M638 290.2l13.4 2.7 8.5 .3-13.4-2.6z"/><path fill="#99a85d" d="M651.4 292.9l13.4 3 8.5 .2-13.4-2.9z"/><path fill="#98a85e" d="M664.8 295.9l13.4 3.3 8.5 0-13.4-3.1z"/><path fill="#97a85e" d="M678.2 299.2l13.4 3.6 8.5-.2-13.4-3.4z"/><path fill="#95a85f" d="M691.6 302.8l13.4 3.7 8.5-.2-13.4-3.7z"/><path fill="#93a85f" d="M705 306.5l13.5 4.1 8.4-.4-13.4-3.9z"/><path fill="#91a860" d="M718.5 310.6l13.4 4.2 8.4-.5-13.4-4.1z"/><path fill="#8ea860" d="M731.9 314.8l13.4 4.5 8.4-.7-13.4-4.3z"/><path fill="#8ba861" d="M745.3 319.3l13.4 4.7 8.4-.9-13.4-4.5z"/><path fill="#87a862" d="M758.7 324l13.4 4.8 8.4-1-13.4-4.7z"/><path fill="#84a863" d="M772.1 328.8l13.4 5 8.5-1.1-13.5-4.9z"/><path fill="#80a864" d="M785.5 333.8l13.4 5.2 8.5-1.2-13.4-5.1z"/><path fill="#7ca866" d="M798.9 339l13.4 5.3 8.5-1.4-13.4-5.1z"/><path fill="#78a868" d="M812.3 344.3l13.4 5.4 8.5-1.5-13.4-5.3z"/><path fill="#73a86b" d="M825.7 349.7l13.4 5.6 8.5-1.7-13.4-5.4z"/><path fill="#6fa86d" d="M839.1 355.3l13.4 5.5 8.5-1.7-13.4-5.5z"/><path fill="#6aa86f" d="M852.5 360.8l13.4 5.7 8.5-1.9-13.4-5.5z"/><path fill="#66a872" d="M865.9 366.5l13.4 5.7 8.5-2-13.4-5.6z"/><path fill="#61a874" d="M879.3 372.2l13.4 5.7 8.5-2.1-13.4-5.6z"/><path fill="#5ca877" d="M892.7 377.9l13.4 5.7 8.5-2.2-13.4-5.6z"/><path fill="#57a879" d="M906.1 383.6l13.4 5.7 8.5-2.3-13.4-5.6z"/><path fill="#53a87c" d="M919.5 389.3l13.5 5.7 8.4-2.5-13.4-5.5z"/><path fill="#4ea87e" d="M933 395l13.4 5.6 8.4-2.5-13.4-5.6z"/><path fill="#4ba880" d="M946.4 400.6l13.4 5.7 8.4-2.7-13.4-5.5z"/><path fill="#4ba780" d="M959.8 406.3l13.4 5.5 8.4-2.7-13.4-5.5z"/><path fill="#4ba780" d="M973.2 411.8l13.4 5.6 8.4-2.8-13.4-5.5z"/><path fill="#4ba680" d="M986.6 417.4l13.4 5.5 8.4-2.9-13.4-5.4z"/><path fill="#4ba680" d="M1000 422.9l13.4 5.5 8.5-3-13.5-5.4z"/><path fill="#4aa581" d="M1013.4 428.4l13.4 5.5 8.5-3.1-13.4-5.4z"/><path fill="#49a482" d="M1026.8 433.9l13.4 5.5 8.5-3.2-13.4-5.4z"/><path fill="#47a383" d="M1040.2 439.4l13.4 5.6 8.5-3.3-13.4-5.5z"/><path fill="#46a284" d="M1053.6 445l13.4 5.6 8.5-3.4-13.4-5.5z"/><path fill="#45a186" stroke="#45a186" stroke-width="6" shape-rendering="auto" d="M1067 450.6l13.4 5.8 8.5-3.5-13.4-5.7z"/><path fill="#78a868" stroke="#78a868" stroke-width="6" shape-rendering="auto" d="M401.7 278.8l13.4-.9 8.4 1.5-13.4 .8z"/><path fill="#7ca866" d="M415.1 277.9l13.4-.8 8.4 1.5-13.4 .8z"/><path fill="#81a864" d="M428.5 277.1l13.4-.6 8.4 1.5-13.4 .6z"/><path fill="#85a863" d="M441.9 276.5l13.4-.5 8.4 1.5-13.4 .5z"/><path fill="#89a862" d="M455.3 276l13.4-.4 8.4 1.6-13.4 .3z"/><path fill="#8da861" d="M468.7 275.6l13.4-.1 8.5 1.6-13.5 .1z"/><path fill="#90a860" d="M482.1 275.5l13.4 0 8.5 1.6-13.4 0z"/><path fill="#93a85f" d="M495.5 275.5l13.4 .3 8.5 1.5-13.4-.2z"/><path fill="#96a85e" d="M508.9 275.8l13.4 .5 8.5 1.5-13.4-.5z"/><path fill="#99a85e" d="M522.3 276.3l13.4 .8 8.5 1.3-13.4-.6z"/><path fill="#9ba75d" d="M535.7 277.1l13.4 1 8.5 1.2-13.4-.9z"/><path fill="#9da75d" d="M549.1 278.1l13.4 1.2 8.5 1.2-13.4-1.2z"/><path fill="#9ea75c" d="M562.5 279.3l13.4 1.5 8.5 1.1-13.4-1.4z"/><path fill="#9fa75c" d="M575.9 280.8l13.4 1.8 8.5 .9-13.4-1.6z"/><path fill="#a0a75c" d="M589.3 282.6l13.4 2.1 8.5 .8-13.4-2z"/><path fill="#a1a75c" d="M602.7 284.7l13.4 2.4 8.5 .6-13.4-2.2z"/><path fill="#a0a75c" d="M616.1 287.1l13.5 2.6 8.4 .5-13.4-2.5z"/><path fill="#a0a75c" d="M629.6 289.7l13.4 2.9 8.4 .3-13.4-2.7z"/><path fill="#9fa75c" d="M643 292.6l13.4 3.2 8.4 .1-13.4-3z"/><path fill="#9ea75c" d="M656.4 295.8l13.4 3.4 8.4 0-13.4-3.3z"/><path fill="#9ca75d" d="M669.8 299.2l13.4 3.7 8.4-.1-13.4-3.6z"/><path fill="#9aa85d" d="M683.2 302.9l13.4 4 8.4-.4-13.4-3.7z"/><path fill="#98a85e" d="M696.6 306.9l13.4 4.2 8.5-.5-13.5-4.1z"/><path fill="#95a85e" d="M710 311.1l13.4 4.4 8.5-.7-13.4-4.2z"/><path fill="#92a85f" d="M723.4 315.5l13.4 4.6 8.5-.8-13.4-4.5z"/><path fill="#8fa860" d="M736.8 320.1l13.4 4.9 8.5-1-13.4-4.7z"/><path fill="#8ba861" d="M750.2 325l13.4 5 8.5-1.2-13.4-4.8z"/><path fill="#88a862" d="M763.6 330l13.4 5.2 8.5-1.4-13.4-5z"/><path fill="#84a863" d="M777 335.2l13.4 5.3 8.5-1.5-13.4-5.2z"/><path fill="#7fa864" d="M790.4 340.5l13.4 5.5 8.5-1.7-13.4-5.3z"/><path fill="#7ba867" d="M803.8 346l13.4 5.6 8.5-1.9-13.4-5.4z"/><path fill="#76a869" d="M817.2 351.6l13.4 5.6 8.5-1.9-13.4-5.6z"/><path fill="#72a86c" d="M830.6 357.2l13.4 5.8 8.5-2.2-13.4-5.5z"/><path fill="#6da86e" d="M844 363l13.5 5.8 8.4-2.3-13.4-5.7z"/><path fill="#68a871" d="M857.5 368.8l13.4 5.8 8.4-2.4-13.4-5.7z"/><path fill="#63a873" d="M870.9 374.6l13.4 5.8 8.4-2.5-13.4-5.7z"/><path fill="#5ea876" d="M884.3 380.4l13.4 5.9 8.4-2.7-13.4-5.7z"/><path fill="#59a878" d="M897.7 386.3l13.4 5.8 8.4-2.8-13.4-5.7z"/><path fill="#54a87b" d="M911.1 392.1l13.4 5.8 8.5-2.9-13.5-5.7z"/><path fill="#50a87e" d="M924.5 397.9l13.4 5.8 8.5-3.1-13.4-5.6z"/><path fill="#4ba880" d="M937.9 403.7l13.4 5.7 8.5-3.1-13.4-5.7z"/><path fill="#4ba780" d="M951.3 409.4l13.4 5.7 8.5-3.3-13.4-5.5z"/><path fill="#4ba780" d="M964.7 415.1l13.4 5.7 8.5-3.4-13.4-5.6z"/><path fill="#4ba780" d="M978.1 420.8l13.4 5.6 8.5-3.5-13.4-5.5z"/><path fill="#4ba680" d="M991.5 426.4l13.4 5.6 8.5-3.6-13.4-5.5z"/><path fill="#4aa581" d="M1004.9 432l13.4 5.6 8.5-3.7-13.4-5.5z"/><path fill="#49a482" d="M1018.3 437.6l13.4 5.6 8.5-3.8-13.4-5.5z"/><path fill="#47a383" d="M1031.7 443.2l13.4 5.7 8.5-3.9-13.4-5.6z"/><path fill="#46a284" d="M1045.1 448.9l13.4 5.7 8.5-4-13.4-5.6z"/><path fill="#45a186" stroke="#45a186" stroke-width="6" shape-rendering="auto" d="M1058.5 454.6l13.5 5.9 8.4-4.1-13.4-5.8z"/><path fill="#80a864" stroke="#80a864" stroke-width="6" shape-rendering="auto" d="M393.2 277l13.4-1 8.5 1.9-13.4 .9z"/><path fill="#84a863" d="M406.6 276l13.4-.8 8.5 1.9-13.4 .8z"/><path fill="#89a862" d="M420 275.2l13.4-.7 8.5 2-13.4 .6z"/><path fill="#8da861" d="M433.4 274.5l13.4-.5 8.5 2-13.4 .5z"/><path fill="#91a860" d="M446.8 274l13.4-.3 8.5 1.9-13.4 .4z"/><path fill="#95a85f" d="M460.2 273.7l13.4-.1 8.5 1.9-13.4 .1z"/><path fill="#98a85e" d="M473.6 273.6l13.4 .1 8.5 1.8-13.4 0z"/><path fill="#9ba75d" d="M487 273.7l13.4 .3 8.5 1.8-13.4-.3z"/><path fill="#9ea75c" d="M500.4 274l13.4 .6 8.5 1.7-13.4-.5z"/><path fill="#a0a75c" d="M513.8 274.6l13.4 .9 8.5 1.6-13.4-.8z"/><path fill="#a2a75b" d="M527.2 275.5l13.5 1.1 8.4 1.5-13.4-1z"/><path fill="#a4a75b" d="M540.7 276.6l13.4 1.4 8.4 1.3-13.4-1.2z"/><path fill="#a5a75a" d="M554.1 278l13.4 1.7 8.4 1.1-13.4-1.5z"/><path fill="#a6a75a" d="M567.5 279.7l13.4 1.9 8.4 1-13.4-1.8z"/><path fill="#a7a75a" d="M580.9 281.6l13.4 2.2 8.4 .9-13.4-2.1z"/><path fill="#a7a75a" d="M594.3 283.8l13.4 2.6 8.4 .7-13.4-2.4z"/><path fill="#a7a75a" d="M607.7 286.4l13.4 2.8 8.5 .5-13.5-2.6z"/><path fill="#a6a75a" d="M621.1 289.2l13.4 3.1 8.5 .3-13.4-2.9z"/><path fill="#a5a75a" d="M634.5 292.3l13.4 3.3 8.5 .2-13.4-3.2z"/><path fill="#a3a75b" d="M647.9 295.6l13.4 3.7 8.5-.1-13.4-3.4z"/><path fill="#a2a75b" d="M661.3 299.3l13.4 3.9 8.5-.3-13.4-3.7z"/><path fill="#9fa75c" d="M674.7 303.2l13.4 4.1 8.5-.4-13.4-4z"/><path fill="#9da75d" d="M688.1 307.3l13.4 4.4 8.5-.6-13.4-4.2z"/><path fill="#9aa85d" d="M701.5 311.7l13.4 4.6 8.5-.8-13.4-4.4z"/><path fill="#97a85e" d="M714.9 316.3l13.4 4.9 8.5-1.1-13.4-4.6z"/><path fill="#93a85f" d="M728.3 321.2l13.4 5 8.5-1.2-13.4-4.9z"/><path fill="#8fa860" d="M741.7 326.2l13.4 5.2 8.5-1.4-13.4-5z"/><path fill="#8ba861" d="M755.1 331.4l13.5 5.4 8.4-1.6-13.4-5.2z"/><path fill="#87a862" d="M768.6 336.8l13.4 5.5 8.4-1.8-13.4-5.3z"/><path fill="#82a863" d="M782 342.3l13.4 5.7 8.4-2-13.4-5.5z"/><path fill="#7ea865" d="M795.4 348l13.4 5.8 8.4-2.2-13.4-5.6z"/><path fill="#79a868" d="M808.8 353.8l13.4 5.8 8.4-2.4-13.4-5.6z"/><path fill="#74a86a" d="M822.2 359.6l13.4 5.9 8.4-2.5-13.4-5.8z"/><path fill="#6fa86d" d="M835.6 365.5l13.4 6 8.5-2.7-13.5-5.8z"/><path fill="#6aa870" d="M849 371.5l13.4 6 8.5-2.9-13.4-5.8z"/><path fill="#65a872" d="M862.4 377.5l13.4 5.9 8.5-3-13.4-5.8z"/><path fill="#60a875" d="M875.8 383.4l13.4 6 8.5-3.1-13.4-5.9z"/><path fill="#5aa878" d="M889.2 389.4l13.4 6 8.5-3.3-13.4-5.8z"/><path fill="#55a87b" d="M902.6 395.4l13.4 6 8.5-3.5-13.4-5.8z"/><path fill="#50a87d" d="M916 401.4l13.4 5.9 8.5-3.6-13.4-5.8z"/><path fill="#4ba880" d="M929.4 407.3l13.4 5.9 8.5-3.8-13.4-5.7z"/><path fill="#4ba880" d="M942.8 413.2l13.4 5.8 8.5-3.9-13.4-5.7z"/><path fill="#4ba780" d="M956.2 419l13.4 5.8 8.5-4-13.4-5.7z"/><path fill="#4ba780" d="M969.6 424.8l13.5 5.7 8.4-4.1-13.4-5.6z"/><path fill="#4ba680" d="M983.1 430.5l13.4 5.8 8.4-4.3-13.4-5.6z"/><path fill="#4aa581" d="M996.5 436.3l13.4 5.7 8.4-4.4-13.4-5.6z"/><path fill="#49a482" d="M1009.9 442l13.4 5.7 8.4-4.5-13.4-5.6z"/><path fill="#47a383" d="M1023.3 447.7l13.4 5.8 8.4-4.6-13.4-5.7z"/><path fill="#46a285" d="M1036.7 453.5l13.4 5.9 8.4-4.8-13.4-5.7z"/><path fill="#44a186" stroke="#44a186" stroke-width="6" shape-rendering="auto" d="M1050.1 459.4l13.4 6 8.5-4.9-13.5-5.9z"/><path fill="#88a862" stroke="#88a862" stroke-width="6" shape-rendering="auto" d="M384.7 274.7l13.4-1.1 8.5 2.4-13.4 1z"/><path fill="#8da861" d="M398.1 273.6l13.4-.8 8.5 2.4-13.4 .8z"/><path fill="#91a860" d="M411.5 272.8l13.4-.7 8.5 2.4-13.4 .7z"/><path fill="#95a85e" d="M424.9 272.1l13.4-.5 8.5 2.4-13.4 .5z"/><path fill="#99a85d" d="M438.3 271.6l13.5-.2 8.4 2.3-13.4 .3z"/><path fill="#9da75c" d="M451.8 271.4l13.4-.1 8.4 2.3-13.4 .1z"/><path fill="#a0a75c" d="M465.2 271.3l13.4 .2 8.4 2.2-13.4-.1z"/><path fill="#a3a75b" d="M478.6 271.5l13.4 .5 8.4 2-13.4-.3z"/><path fill="#a6a75a" d="M492 272l13.4 .7 8.4 1.9-13.4-.6z"/><path fill="#a8a75a" d="M505.4 272.7l13.4 1 8.4 1.8-13.4-.9z"/><path fill="#aaa759" d="M518.8 273.7l13.4 1.3 8.5 1.6-13.5-1.1z"/><path fill="#aca759" d="M532.2 275l13.4 1.5 8.5 1.5-13.4-1.4z"/><path fill="#ada758" d="M545.6 276.5l13.4 1.9 8.5 1.3-13.4-1.7z"/><path fill="#ada758" d="M559 278.4l13.4 2.1 8.5 1.1-13.4-1.9z"/><path fill="#aea758" d="M572.4 280.5l13.4 2.4 8.5 .9-13.4-2.2z"/><path fill="#aea758" d="M585.8 282.9l13.4 2.7 8.5 .8-13.4-2.6z"/><path fill="#ada758" d="M599.2 285.6l13.4 3.1 8.5 .5-13.4-2.8z"/><path fill="#aca759" d="M612.6 288.7l13.4 3.3 8.5 .3-13.4-3.1z"/><path fill="#aba759" d="M626 292l13.4 3.6 8.5 0-13.4-3.3z"/><path fill="#a9a759" d="M639.4 295.6l13.4 3.8 8.5-.1-13.4-3.7z"/><path fill="#a7a75a" d="M652.8 299.4l13.4 4.2 8.5-.4-13.4-3.9z"/><path fill="#a4a75b" d="M666.2 303.6l13.5 4.3 8.4-.6-13.4-4.1z"/><path fill="#a1a75b" d="M679.7 307.9l13.4 4.7 8.4-.9-13.4-4.4z"/><path fill="#9ea75c" d="M693.1 312.6l13.4 4.8 8.4-1.1-13.4-4.6z"/><path fill="#9aa85d" d="M706.5 317.4l13.4 5.1 8.4-1.3-13.4-4.9z"/><path fill="#97a85e" d="M719.9 322.5l13.4 5.3 8.4-1.6-13.4-5z"/><path fill="#92a85f" d="M733.3 327.8l13.4 5.4 8.4-1.8-13.4-5.2z"/><path fill="#8ea860" d="M746.7 333.2l13.4 5.6 8.5-2-13.5-5.4z"/><path fill="#89a862" d="M760.1 338.8l13.4 5.8 8.5-2.3-13.4-5.5z"/><path fill="#85a863" d="M773.5 344.6l13.4 5.8 8.5-2.4-13.4-5.7z"/><path fill="#80a864" d="M786.9 350.4l13.4 6 8.5-2.6-13.4-5.8z"/><path fill="#7ba867" d="M800.3 356.4l13.4 6 8.5-2.8-13.4-5.8z"/><path fill="#75a86a" d="M813.7 362.4l13.4 6.1 8.5-3-13.4-5.9z"/><path fill="#70a86c" d="M827.1 368.5l13.4 6.2 8.5-3.2-13.4-6z"/><path fill="#6ba86f" d="M840.5 374.7l13.4 6.2 8.5-3.4-13.4-6z"/><path fill="#65a872" d="M853.9 380.9l13.4 6.1 8.5-3.6-13.4-5.9z"/><path fill="#60a875" d="M867.3 387l13.4 6.2 8.5-3.8-13.4-6z"/><path fill="#5ba878" d="M880.7 393.2l13.4 6.2 8.5-4-13.4-6z"/><path fill="#55a87a" d="M894.1 399.4l13.5 6.1 8.4-4.1-13.4-6z"/><path fill="#50a87d" d="M907.6 405.5l13.4 6 8.4-4.2-13.4-5.9z"/><path fill="#4ba880" d="M921 411.5l13.4 6.1 8.4-4.4-13.4-5.9z"/><path fill="#4ba780" d="M934.4 417.6l13.4 5.9 8.4-4.5-13.4-5.8z"/><path fill="#4ba780" d="M947.8 423.5l13.4 6 8.4-4.7-13.4-5.8z"/><path fill="#4ba680" d="M961.2 429.5l13.4 5.9 8.5-4.9-13.5-5.7z"/><path fill="#4ba680" d="M974.6 435.4l13.4 5.8 8.5-4.9-13.4-5.8z"/><path fill="#4aa581" d="M988 441.2l13.4 5.9 8.5-5.1-13.4-5.7z"/><path fill="#48a483" d="M1001.4 447.1l13.4 5.9 8.5-5.3-13.4-5.7z"/><path fill="#47a384" d="M1014.8 453l13.4 5.9 8.5-5.4-13.4-5.8z"/><path fill="#45a285" d="M1028.2 458.9l13.4 6 8.5-5.5-13.4-5.9z"/><path fill="#44a186" stroke="#44a186" stroke-width="6" shape-rendering="auto" d="M1041.6 464.9l13.4 6.2 8.5-5.7-13.4-6z"/><path fill="#91a860" stroke="#91a860" stroke-width="6" shape-rendering="auto" d="M376.3 271.9l13.4-1 8.4 2.7-13.4 1.1z"/><path fill="#96a85e" d="M389.7 270.9l13.4-.9 8.4 2.8-13.4 .8z"/><path fill="#9aa85d" d="M403.1 270l13.4-.7 8.4 2.8-13.4 .7z"/><path fill="#9fa75c" d="M416.5 269.3l13.4-.4 8.4 2.7-13.4 .5z"/><path fill="#a2a75b" d="M429.9 268.9l13.4-.2 8.5 2.7-13.5 .2z"/><path fill="#a6a75a" d="M443.3 268.7l13.4 .1 8.5 2.5-13.4 .1z"/><path fill="#a9a759" d="M456.7 268.8l13.4 .3 8.5 2.4-13.4-.2z"/><path fill="#aca759" d="M470.1 269.1l13.4 .6 8.5 2.3-13.4-.5z"/><path fill="#afa758" d="M483.5 269.7l13.4 .9 8.5 2.1-13.4-.7z"/><path fill="#b1a757" d="M496.9 270.6l13.4 1.1 8.5 2-13.4-1z"/><path fill="#b2a757" d="M510.3 271.7l13.4 1.5 8.5 1.8-13.4-1.3z"/><path fill="#b3a757" d="M523.7 273.2l13.4 1.7 8.5 1.6-13.4-1.5z"/><path fill="#b4a756" d="M537.1 274.9l13.4 2.1 8.5 1.4-13.4-1.9z"/><path fill="#b5a756" d="M550.5 277l13.4 2.3 8.5 1.2-13.4-2.1z"/><path fill="#b5a756" d="M563.9 279.3l13.4 2.7 8.5 .9-13.4-2.4z"/><path fill="#b4a756" d="M577.3 282l13.5 3 8.4 .6-13.4-2.7z"/><path fill="#b3a757" d="M590.8 285l13.4 3.2 8.4 .5-13.4-3.1z"/><path fill="#b2a757" d="M604.2 288.2l13.4 3.6 8.4 .2-13.4-3.3z"/><path fill="#b0a758" d="M617.6 291.8l13.4 3.8 8.4 0-13.4-3.6z"/><path fill="#aea758" d="M631 295.6l13.4 4.2 8.4-.4-13.4-3.8z"/><path fill="#aca759" d="M644.4 299.8l13.4 4.4 8.4-.6-13.4-4.2z"/><path fill="#a9a759" d="M657.8 304.2l13.4 4.6 8.5-.9-13.5-4.3z"/><path fill="#a5a75a" d="M671.2 308.8l13.4 4.9 8.5-1.1-13.4-4.7z"/><path fill="#a2a75b" d="M684.6 313.7l13.4 5.1 8.5-1.4-13.4-4.8z"/><path fill="#9ea75c" d="M698 318.8l13.4 5.4 8.5-1.7-13.4-5.1z"/><path fill="#9aa85d" d="M711.4 324.2l13.4 5.5 8.5-1.9-13.4-5.3z"/><path fill="#95a85f" d="M724.8 329.7l13.4 5.7 8.5-2.2-13.4-5.4z"/><path fill="#90a860" d="M738.2 335.4l13.4 5.9 8.5-2.5-13.4-5.6z"/><path fill="#8ca861" d="M751.6 341.3l13.4 5.9 8.5-2.6-13.4-5.8z"/><path fill="#86a862" d="M765 347.2l13.4 6.2 8.5-3-13.4-5.8z"/><path fill="#81a864" d="M778.4 353.4l13.4 6.2 8.5-3.2-13.4-6z"/><path fill="#7ca866" d="M791.8 359.6l13.4 6.2 8.5-3.4-13.4-6z"/><path fill="#76a869" d="M805.2 365.8l13.5 6.4 8.4-3.7-13.4-6.1z"/><path fill="#71a86c" d="M818.7 372.2l13.4 6.3 8.4-3.8-13.4-6.2z"/><path fill="#6ba86f" d="M832.1 378.5l13.4 6.4 8.4-4-13.4-6.2z"/><path fill="#65a872" d="M845.5 384.9l13.4 6.4 8.4-4.3-13.4-6.1z"/><path fill="#60a875" d="M858.9 391.3l13.4 6.4 8.4-4.5-13.4-6.2z"/><path fill="#5aa878" d="M872.3 397.7l13.4 6.3 8.4-4.6-13.4-6.2z"/><path fill="#55a87b" d="M885.7 404l13.4 6.3 8.5-4.8-13.5-6.1z"/><path fill="#4fa87e" d="M899.1 410.3l13.4 6.2 8.5-5-13.4-6z"/><path fill="#4ba880" d="M912.5 416.5l13.4 6.2 8.5-5.1-13.4-6.1z"/><path fill="#4ba780" d="M925.9 422.7l13.4 6.2 8.5-5.4-13.4-5.9z"/><path fill="#4ba780" d="M939.3 428.9l13.4 6 8.5-5.4-13.4-6z"/><path fill="#4ba680" d="M952.7 434.9l13.4 6.1 8.5-5.6-13.4-5.9z"/><path fill="#4aa581" d="M966.1 441l13.4 6 8.5-5.8-13.4-5.8z"/><path fill="#49a482" d="M979.5 447l13.4 6 8.5-5.9-13.4-5.9z"/><path fill="#47a383" d="M992.9 453l13.4 6.1 8.5-6.1-13.4-5.9z"/><path fill="#46a285" d="M1006.3 459.1l13.4 6 8.5-6.2-13.4-5.9z"/><path fill="#45a186" d="M1019.7 465.1l13.4 6.2 8.5-6.4-13.4-6z"/><path fill="#43a087" stroke="#43a087" stroke-width="6" shape-rendering="auto" d="M1033.1 471.3l13.5 6.3 8.4-6.5-13.4-6.2z"/><path fill="#9ba85d" stroke="#9ba85d" stroke-width="6" shape-rendering="auto" d="M367.8 268.8l13.4-1.1 8.5 3.2-13.4 1z"/><path fill="#a0a75c" d="M381.2 267.7l13.4-.9 8.5 3.2-13.4 .9z"/><path fill="#a4a75b" d="M394.6 266.8l13.4-.6 8.5 3.1-13.4 .7z"/><path fill="#a8a75a" d="M408 266.2l13.4-.3 8.5 3-13.4 .4z"/><path fill="#aca759" d="M421.4 265.9l13.4-.1 8.5 2.9-13.4 .2z"/><path fill="#afa758" d="M434.8 265.8l13.4 .2 8.5 2.8-13.4-.1z"/><path fill="#b2a757" d="M448.2 266l13.4 .5 8.5 2.6-13.4-.3z"/><path fill="#b5a756" d="M461.6 266.5l13.4 .7 8.5 2.5-13.4-.6z"/><path fill="#b7a756" d="M475 267.2l13.4 1.1 8.5 2.3-13.4-.9z"/><path fill="#b8a755" d="M488.4 268.3l13.4 1.3 8.5 2.1-13.4-1.1z"/><path fill="#b9a755" d="M501.8 269.6l13.5 1.7 8.4 1.9-13.4-1.5z"/><path fill="#baa754" d="M515.3 271.3l13.4 2 8.4 1.6-13.4-1.7z"/><path fill="#bba754" d="M528.7 273.3l13.4 2.3 8.4 1.4-13.4-2.1z"/><path fill="#bba754" d="M542.1 275.6l13.4 2.6 8.4 1.1-13.4-2.3z"/><path fill="#baa754" d="M555.5 278.2l13.4 3 8.4 .8-13.4-2.7z"/><path fill="#baa755" d="M568.9 281.2l13.4 3.2 8.5 .6-13.5-3z"/><path fill="#b9a755" d="M582.3 284.4l13.4 3.6 8.5 .2-13.4-3.2z"/><path fill="#b7a755" d="M595.7 288l13.4 3.8 8.5 0-13.4-3.6z"/><path fill="#b6a756" d="M609.1 291.8l13.4 4.1 8.5-.3-13.4-3.8z"/><path fill="#b3a757" d="M622.5 295.9l13.4 4.5 8.5-.6-13.4-4.2z"/><path fill="#b0a758" d="M635.9 300.4l13.4 4.7 8.5-.9-13.4-4.4z"/><path fill="#ada758" d="M649.3 305.1l13.4 4.9 8.5-1.2-13.4-4.6z"/><path fill="#a9a759" d="M662.7 310l13.4 5.2 8.5-1.5-13.4-4.9z"/><path fill="#a5a75a" d="M676.1 315.2l13.4 5.4 8.5-1.8-13.4-5.1z"/><path fill="#a1a75b" d="M689.5 320.6l13.4 5.7 8.5-2.1-13.4-5.4z"/><path fill="#9ca75d" d="M702.9 326.3l13.4 5.8 8.5-2.4-13.4-5.5z"/><path fill="#97a85e" d="M716.3 332.1l13.4 6 8.5-2.7-13.4-5.7z"/><path fill="#92a85f" d="M729.7 338.1l13.5 6.1 8.4-2.9-13.4-5.9z"/><path fill="#8da861" d="M743.2 344.2l13.4 6.3 8.4-3.3-13.4-5.9z"/><path fill="#87a862" d="M756.6 350.5l13.4 6.3 8.4-3.4-13.4-6.2z"/><path fill="#82a864" d="M770 356.8l13.4 6.5 8.4-3.7-13.4-6.2z"/><path fill="#7ca866" d="M783.4 363.3l13.4 6.5 8.4-4-13.4-6.2z"/><path fill="#76a869" d="M796.8 369.8l13.4 6.6 8.5-4.2-13.5-6.4z"/><path fill="#70a86c" d="M810.2 376.4l13.4 6.6 8.5-4.5-13.4-6.3z"/><path fill="#6aa86f" d="M823.6 383l13.4 6.6 8.5-4.7-13.4-6.4z"/><path fill="#64a873" d="M837 389.6l13.4 6.7 8.5-5-13.4-6.4z"/><path fill="#5ea876" d="M850.4 396.3l13.4 6.5 8.5-5.1-13.4-6.4z"/><path fill="#58a879" d="M863.8 402.8l13.4 6.6 8.5-5.4-13.4-6.3z"/><path fill="#53a87c" d="M877.2 409.4l13.4 6.5 8.5-5.6-13.4-6.3z"/><path fill="#4da87f" d="M890.6 415.9l13.4 6.4 8.5-5.8-13.4-6.2z"/><path fill="#4ba880" d="M904 422.3l13.4 6.4 8.5-6-13.4-6.2z"/><path fill="#4ba780" d="M917.4 428.7l13.4 6.3 8.5-6.1-13.4-6.2z"/><path fill="#4ba680" d="M930.8 435l13.4 6.3 8.5-6.4-13.4-6z"/><path fill="#4ba680" d="M944.2 441.3l13.5 6.2 8.4-6.5-13.4-6.1z"/><path fill="#49a582" d="M957.7 447.5l13.4 6.2 8.4-6.7-13.4-6z"/><path fill="#48a483" d="M971.1 453.7l13.4 6.1 8.4-6.8-13.4-6z"/><path fill="#46a384" d="M984.5 459.8l13.4 6.2 8.4-6.9-13.4-6.1z"/><path fill="#45a286" d="M997.9 466l13.4 6.3 8.4-7.2-13.4-6z"/><path fill="#43a087" d="M1011.3 472.3l13.4 6.3 8.4-7.3-13.4-6.2z"/><path fill="#429f88" stroke="#429f88" stroke-width="6" shape-rendering="auto" d="M1024.7 478.6l13.4 6.5 8.5-7.5-13.5-6.3z"/><path fill="#a5a75a" stroke="#a5a75a" stroke-width="6" shape-rendering="auto" d="M359.3 265.2l13.4-1.1 8.5 3.6-13.4 1.1z"/><path fill="#aaa759" d="M372.7 264.1l13.4-.8 8.5 3.5-13.4 .9z"/><path fill="#aea758" d="M386.1 263.3l13.4-.5 8.5 3.4-13.4 .6z"/><path fill="#b2a757" d="M399.5 262.8l13.4-.2 8.5 3.3-13.4 .3z"/><path fill="#b6a756" d="M412.9 262.6l13.5 0 8.4 3.2-13.4 .1z"/><path fill="#b8a755" d="M426.4 262.6l13.4 .4 8.4 3-13.4-.2z"/><path fill="#bba754" d="M439.8 263l13.4 .6 8.4 2.9-13.4-.5z"/><path fill="#bca753" d="M453.2 263.6l13.4 1 8.4 2.6-13.4-.7z"/><path fill="#bea753" d="M466.6 264.6l13.4 1.3 8.4 2.4-13.4-1.1z"/><path fill="#bfa752" d="M480 265.9l13.4 1.6 8.4 2.1-13.4-1.3z"/><path fill="#c0a752" d="M493.4 267.5l13.4 1.9 8.5 1.9-13.5-1.7z"/><path fill="#c0a652" d="M506.8 269.4l13.4 2.3 8.5 1.6-13.4-2z"/><path fill="#c0a652" d="M520.2 271.7l13.4 2.6 8.5 1.3-13.4-2.3z"/><path fill="#c0a652" d="M533.6 274.3l13.4 2.9 8.5 1-13.4-2.6z"/><path fill="#c0a752" d="M547 277.2l13.4 3.2 8.5 .8-13.4-3z"/><path fill="#bfa753" d="M560.4 280.4l13.4 3.6 8.5 .4-13.4-3.2z"/><path fill="#bda753" d="M573.8 284l13.4 3.9 8.5 .1-13.4-3.6z"/><path fill="#bca754" d="M587.2 287.9l13.4 4.1 8.5-.2-13.4-3.8z"/><path fill="#baa755" d="M600.6 292l13.4 4.5 8.5-.6-13.4-4.1z"/><path fill="#b7a756" d="M614 296.5l13.4 4.8 8.5-.9-13.4-4.5z"/><path fill="#b4a756" d="M627.4 301.3l13.4 5 8.5-1.2-13.4-4.7z"/><path fill="#b0a757" d="M640.8 306.3l13.5 5.3 8.4-1.6-13.4-4.9z"/><path fill="#aca759" d="M654.3 311.6l13.4 5.5 8.4-1.9-13.4-5.2z"/><path fill="#a8a75a" d="M667.7 317.1l13.4 5.8 8.4-2.3-13.4-5.4z"/><path fill="#a3a75b" d="M681.1 322.9l13.4 5.9 8.4-2.5-13.4-5.7z"/><path fill="#9ea75c" d="M694.5 328.8l13.4 6.2 8.4-2.9-13.4-5.8z"/><path fill="#99a85e" d="M707.9 335l13.4 6.3 8.4-3.2-13.4-6z"/><path fill="#93a85f" d="M721.3 341.3l13.4 6.4 8.5-3.5-13.5-6.1z"/><path fill="#8da861" d="M734.7 347.7l13.4 6.6 8.5-3.8-13.4-6.3z"/><path fill="#88a862" d="M748.1 354.3l13.4 6.7 8.5-4.2-13.4-6.3z"/><path fill="#82a864" d="M761.5 361l13.4 6.7 8.5-4.4-13.4-6.5z"/><path fill="#7ba866" d="M774.9 367.7l13.4 6.9 8.5-4.8-13.4-6.5z"/><path fill="#75a86a" d="M788.3 374.6l13.4 6.8 8.5-5-13.4-6.6z"/><path fill="#6fa86d" d="M801.7 381.4l13.4 6.9 8.5-5.3-13.4-6.6z"/><path fill="#69a870" d="M815.1 388.3l13.4 6.9 8.5-5.6-13.4-6.6z"/><path fill="#62a874" d="M828.5 395.2l13.4 6.8 8.5-5.7-13.4-6.7z"/><path fill="#5ca877" d="M841.9 402l13.4 6.8 8.5-6-13.4-6.5z"/><path fill="#56a87a" d="M855.3 408.8l13.5 6.8 8.4-6.2-13.4-6.6z"/><path fill="#50a87e" d="M868.8 415.6l13.4 6.7 8.4-6.4-13.4-6.5z"/><path fill="#4ba880" d="M882.2 422.3l13.4 6.7 8.4-6.7-13.4-6.4z"/><path fill="#4ba780" d="M895.6 429l13.4 6.6 8.4-6.9-13.4-6.4z"/><path fill="#4ba780" d="M909 435.6l13.4 6.5 8.4-7.1-13.4-6.3z"/><path fill="#4ba680" d="M922.4 442.1l13.4 6.4 8.4-7.2-13.4-6.3z"/><path fill="#4aa581" d="M935.8 448.5l13.4 6.4 8.5-7.4-13.5-6.2z"/><path fill="#48a483" d="M949.2 454.9l13.4 6.4 8.5-7.6-13.4-6.2z"/><path fill="#46a384" d="M962.6 461.3l13.4 6.3 8.5-7.8-13.4-6.1z"/><path fill="#45a286" d="M976 467.6l13.4 6.4 8.5-8-13.4-6.2z"/><path fill="#43a087" d="M989.4 474l13.4 6.4 8.5-8.1-13.4-6.3z"/><path fill="#429f88" d="M1002.8 480.4l13.4 6.5 8.5-8.3-13.4-6.3z"/><path fill="#409e8a" stroke="#409e8a" stroke-width="6" shape-rendering="auto" d="M1016.2 486.9l13.4 6.6 8.5-8.4-13.4-6.5z"/><path fill="#b0a758" stroke="#b0a758" stroke-width="6" shape-rendering="auto" d="M350.9 261.2l13.4-1 8.4 3.9-13.4 1.1z"/><path fill="#b5a756" d="M364.3 260.2l13.4-.7 8.4 3.8-13.4 .8z"/><path fill="#b8a755" d="M377.7 259.5l13.4-.4 8.4 3.7-13.4 .5z"/><path fill="#bba754" d="M391.1 259.1l13.4-.1 8.4 3.6-13.4 .2z"/><path fill="#bea753" d="M404.5 259l13.4 .3 8.5 3.3-13.5 0z"/><path fill="#c0a652" d="M417.9 259.3l13.4 .5 8.5 3.2-13.4-.4z"/><path fill="#c2a651" d="M431.3 259.8l13.4 .9 8.5 2.9-13.4-.6z"/><path fill="#c4a651" d="M444.7 260.7l13.4 1.2 8.5 2.7-13.4-1z"/><path fill="#c5a650" d="M458.1 261.9l13.4 1.5 8.5 2.5-13.4-1.3z"/><path fill="#c6a650" d="M471.5 263.4l13.4 1.9 8.5 2.2-13.4-1.6z"/><path fill="#c6a64f" d="M484.9 265.3l13.4 2.3 8.5 1.8-13.4-1.9z"/><path fill="#c6a64f" d="M498.3 267.6l13.4 2.5 8.5 1.6-13.4-2.3z"/><path fill="#c6a650" d="M511.7 270.1l13.4 3 8.5 1.2-13.4-2.6z"/><path fill="#c6a650" d="M525.1 273.1l13.4 3.2 8.5 .9-13.4-2.9z"/><path fill="#c5a650" d="M538.5 276.3l13.4 3.6 8.5 .5-13.4-3.2z"/><path fill="#c3a651" d="M551.9 279.9l13.5 3.9 8.4 .2-13.4-3.6z"/><path fill="#c2a651" d="M565.4 283.8l13.4 4.2 8.4-.1-13.4-3.9z"/><path fill="#c0a752" d="M578.8 288l13.4 4.6 8.4-.6-13.4-4.1z"/><path fill="#bda753" d="M592.2 292.6l13.4 4.8 8.4-.9-13.4-4.5z"/><path fill="#baa754" d="M605.6 297.4l13.4 5.2 8.4-1.3-13.4-4.8z"/><path fill="#b7a755" d="M619 302.6l13.4 5.4 8.4-1.7-13.4-5z"/><path fill="#b4a757" d="M632.4 308l13.4 5.6 8.5-2-13.5-5.3z"/><path fill="#afa758" d="M645.8 313.6l13.4 5.9 8.5-2.4-13.4-5.5z"/><path fill="#aaa759" d="M659.2 319.5l13.4 6.1 8.5-2.7-13.4-5.8z"/><path fill="#a5a75a" d="M672.6 325.6l13.4 6.4 8.5-3.2-13.4-5.9z"/><path fill="#9fa75c" d="M686 332l13.4 6.5 8.5-3.5-13.4-6.2z"/><path fill="#99a85d" d="M699.4 338.5l13.4 6.6 8.5-3.8-13.4-6.3z"/><path fill="#93a85f" d="M712.8 345.1l13.4 6.8 8.5-4.2-13.4-6.4z"/><path fill="#8da861" d="M726.2 351.9l13.4 6.9 8.5-4.5-13.4-6.6z"/><path fill="#87a862" d="M739.6 358.8l13.4 7.1 8.5-4.9-13.4-6.7z"/><path fill="#80a864" d="M753 365.9l13.4 7 8.5-5.2-13.4-6.7z"/><path fill="#7aa867" d="M766.4 372.9l13.4 7.2 8.5-5.5-13.4-6.9z"/><path fill="#73a86b" d="M779.8 380.1l13.5 7.1 8.4-5.8-13.4-6.8z"/><path fill="#6ca86e" d="M793.3 387.2l13.4 7.2 8.4-6.1-13.4-6.9z"/><path fill="#66a872" d="M806.7 394.4l13.4 7.1 8.4-6.3-13.4-6.9z"/><path fill="#5fa875" d="M820.1 401.5l13.4 7.1 8.4-6.6-13.4-6.8z"/><path fill="#58a879" d="M833.5 408.6l13.4 7.1 8.4-6.9-13.4-6.8z"/><path fill="#52a87c" d="M846.9 415.7l13.4 7 8.5-7.1-13.5-6.8z"/><path fill="#4ba880" d="M860.3 422.7l13.4 7 8.5-7.4-13.4-6.7z"/><path fill="#4ba780" d="M873.7 429.7l13.4 6.9 8.5-7.6-13.4-6.7z"/><path fill="#4ba780" d="M887.1 436.6l13.4 6.8 8.5-7.8-13.4-6.6z"/><path fill="#4ba680" d="M900.5 443.4l13.4 6.7 8.5-8-13.4-6.5z"/><path fill="#4aa581" d="M913.9 450.1l13.4 6.6 8.5-8.2-13.4-6.4z"/><path fill="#48a483" d="M927.3 456.7l13.4 6.6 8.5-8.4-13.4-6.4z"/><path fill="#46a384" d="M940.7 463.3l13.4 6.6 8.5-8.6-13.4-6.4z"/><path fill="#45a186" d="M954.1 469.9l13.4 6.5 8.5-8.8-13.4-6.3z"/><path fill="#43a087" d="M967.5 476.4l13.4 6.5 8.5-8.9-13.4-6.4z"/><path fill="#419f89" d="M980.9 482.9l13.4 6.6 8.5-9.1-13.4-6.4z"/><path fill="#409e8a" d="M994.3 489.5l13.4 6.7 8.5-9.3-13.4-6.5z"/><path fill="#3f9c8b" stroke="#3f9c8b" stroke-width="6" shape-rendering="auto" d="M1007.7 496.2l13.5 6.8 8.4-9.5-13.4-6.6z"/><path fill="#baa754" stroke="#baa754" stroke-width="6" shape-rendering="auto" d="M342.4 256.9l13.4-.9 8.5 4.2-13.4 1z"/><path fill="#bea753" d="M355.8 256l13.4-.5 8.5 4-13.4 .7z"/><path fill="#c1a652" d="M369.2 255.5l13.4-.3 8.5 3.9-13.4 .4z"/><path fill="#c4a651" d="M382.6 255.2l13.4 .1 8.5 3.7-13.4 .1z"/><path fill="#c6a650" d="M396 255.3l13.4 .4 8.5 3.6-13.4-.3z"/><path fill="#c8a64f" d="M409.4 255.7l13.4 .8 8.5 3.3-13.4-.5z"/><path fill="#caa64e" d="M422.8 256.5l13.4 1.2 8.5 3-13.4-.9z"/><path fill="#cba64e" d="M436.2 257.7l13.4 1.5 8.5 2.7-13.4-1.2z"/><path fill="#cca64d" d="M449.6 259.2l13.4 1.8 8.5 2.4-13.4-1.5z"/><path fill="#cda64d" d="M463 261l13.5 2.2 8.4 2.1-13.4-1.9z"/><path fill="#cda64d" d="M476.5 263.2l13.4 2.6 8.4 1.8-13.4-2.3z"/><path fill="#cda64d" d="M489.9 265.8l13.4 2.9 8.4 1.4-13.4-2.5z"/><path fill="#cca64d" d="M503.3 268.7l13.4 3.3 8.4 1.1-13.4-3z"/><path fill="#cba64e" d="M516.7 272l13.4 3.7 8.4 .6-13.4-3.2z"/><path fill="#caa64e" d="M530.1 275.7l13.4 3.9 8.4 .3-13.4-3.6z"/><path fill="#c8a64f" d="M543.5 279.6l13.4 4.3 8.5-.1-13.5-3.9z"/><path fill="#c6a650" d="M556.9 283.9l13.4 4.7 8.5-.6-13.4-4.2z"/><path fill="#c3a651" d="M570.3 288.6l13.4 4.9 8.5-.9-13.4-4.6z"/><path fill="#c0a652" d="M583.7 293.5l13.4 5.3 8.5-1.4-13.4-4.8z"/><path fill="#bda753" d="M597.1 298.8l13.4 5.5 8.5-1.7-13.4-5.2z"/><path fill="#baa755" d="M610.5 304.3l13.4 5.8 8.5-2.1-13.4-5.4z"/><path fill="#b6a756" d="M623.9 310.1l13.4 6.1 8.5-2.6-13.4-5.6z"/><path fill="#b1a757" d="M637.3 316.2l13.4 6.3 8.5-3-13.4-5.9z"/><path fill="#aba759" d="M650.7 322.5l13.4 6.5 8.5-3.4-13.4-6.1z"/><path fill="#a5a75a" d="M664.1 329l13.4 6.7 8.5-3.7-13.4-6.4z"/><path fill="#9fa75c" d="M677.5 335.7l13.4 6.9 8.5-4.1-13.4-6.5z"/><path fill="#99a85e" d="M690.9 342.6l13.5 7.1 8.4-4.6-13.4-6.6z"/><path fill="#92a85f" d="M704.4 349.7l13.4 7.2 8.4-5-13.4-6.8z"/><path fill="#8ca861" d="M717.8 356.9l13.4 7.2 8.4-5.3-13.4-6.9z"/><path fill="#85a863" d="M731.2 364.1l13.4 7.4 8.4-5.6-13.4-7.1z"/><path fill="#7ea865" d="M744.6 371.5l13.4 7.4 8.4-6-13.4-7z"/><path fill="#77a869" d="M758 378.9l13.4 7.5 8.4-6.3-13.4-7.2z"/><path fill="#70a86d" d="M771.4 386.4l13.4 7.5 8.5-6.7-13.5-7.1z"/><path fill="#69a870" d="M784.8 393.9l13.4 7.5 8.5-7-13.4-7.2z"/><path fill="#61a874" d="M798.2 401.4l13.4 7.4 8.5-7.3-13.4-7.1z"/><path fill="#5aa878" d="M811.6 408.8l13.4 7.4 8.5-7.6-13.4-7.1z"/><path fill="#53a87c" d="M825 416.2l13.4 7.4 8.5-7.9-13.4-7.1z"/><path fill="#4ca87f" d="M838.4 423.6l13.4 7.3 8.5-8.2-13.4-7z"/><path fill="#4ba780" d="M851.8 430.9l13.4 7.2 8.5-8.4-13.4-7z"/><path fill="#4ba780" d="M865.2 438.1l13.4 7.1 8.5-8.6-13.4-6.9z"/><path fill="#4ba680" d="M878.6 445.2l13.4 7 8.5-8.8-13.4-6.8z"/><path fill="#49a581" d="M892 452.2l13.4 7 8.5-9.1-13.4-6.7z"/><path fill="#48a483" d="M905.4 459.2l13.4 6.8 8.5-9.3-13.4-6.6z"/><path fill="#46a285" d="M918.8 466l13.5 6.8 8.4-9.5-13.4-6.6z"/><path fill="#44a186" d="M932.3 472.8l13.4 6.8 8.4-9.7-13.4-6.6z"/><path fill="#43a088" d="M945.7 479.6l13.4 6.7 8.4-9.9-13.4-6.5z"/><path fill="#419f89" d="M959.1 486.3l13.4 6.7 8.4-10.1-13.4-6.5z"/><path fill="#409d8a" d="M972.5 493l13.4 6.7 8.4-10.2-13.4-6.6z"/><path fill="#3f9b8b" d="M985.9 499.7l13.4 6.9 8.4-10.4-13.4-6.7z"/><path fill="#3f998c" stroke="#3f998c" stroke-width="6" shape-rendering="auto" d="M999.3 506.6l13.4 7 8.5-10.6-13.5-6.8z"/><path fill="#c3a651" stroke="#c3a651" stroke-width="6" shape-rendering="auto" d="M333.9 252.4l13.4-.8 8.5 4.4-13.4 .9z"/><path fill="#c6a64f" d="M347.3 251.6l13.4-.4 8.5 4.3-13.4 .5z"/><path fill="#c9a64e" d="M360.7 251.2l13.4-.1 8.5 4.1-13.4 .3z"/><path fill="#cca64d" d="M374.1 251.1l13.4 .3 8.5 3.9-13.4-.1z"/><path fill="#cea64c" d="M387.5 251.4l13.5 .7 8.4 3.6-13.4-.4z"/><path fill="#d0a64c" d="M401 252.1l13.4 1.1 8.4 3.3-13.4-.8z"/><path fill="#d2a64b" d="M414.4 253.2l13.4 1.5 8.4 3-13.4-1.2z"/><path fill="#d3a64b" d="M427.8 254.7l13.4 1.8 8.4 2.7-13.4-1.5z"/><path fill="#d3a64a" d="M441.2 256.5l13.4 2.2 8.4 2.3-13.4-1.8z"/><path fill="#d3a64a" d="M454.6 258.7l13.4 2.6 8.5 1.9-13.5-2.2z"/><path fill="#d3a64a" d="M468 261.3l13.4 2.9 8.5 1.6-13.4-2.6z"/><path fill="#d2a64b" d="M481.4 264.2l13.4 3.3 8.5 1.2-13.4-2.9z"/><path fill="#d1a64b" d="M494.8 267.5l13.4 3.7 8.5 .8-13.4-3.3z"/><path fill="#d0a64c" d="M508.2 271.2l13.4 4.1 8.5 .4-13.4-3.7z"/><path fill="#cea64c" d="M521.6 275.3l13.4 4.4 8.5-.1-13.4-3.9z"/><path fill="#cca64d" d="M535 279.7l13.4 4.7 8.5-.5-13.4-4.3z"/><path fill="#c9a64e" d="M548.4 284.4l13.4 5.1 8.5-.9-13.4-4.7z"/><path fill="#c6a64f" d="M561.8 289.5l13.4 5.4 8.5-1.4-13.4-4.9z"/><path fill="#c3a651" d="M575.2 294.9l13.4 5.7 8.5-1.8-13.4-5.3z"/><path fill="#bfa752" d="M588.6 300.6l13.4 6 8.5-2.3-13.4-5.5z"/><path fill="#bba754" d="M602 306.6l13.5 6.3 8.4-2.8-13.4-5.8z"/><path fill="#b7a756" d="M615.5 312.9l13.4 6.5 8.4-3.2-13.4-6.1z"/><path fill="#b2a757" d="M628.9 319.4l13.4 6.7 8.4-3.6-13.4-6.3z"/><path fill="#aca759" d="M642.3 326.1l13.4 7 8.4-4.1-13.4-6.5z"/><path fill="#a5a75a" d="M655.7 333.1l13.4 7.2 8.4-4.6-13.4-6.7z"/><path fill="#9ea75c" d="M669.1 340.3l13.4 7.3 8.4-5-13.4-6.9z"/><path fill="#98a85e" d="M682.5 347.6l13.4 7.4 8.5-5.3-13.5-7.1z"/><path fill="#90a860" d="M695.9 355l13.4 7.6 8.5-5.7-13.4-7.2z"/><path fill="#89a862" d="M709.3 362.6l13.4 7.7 8.5-6.2-13.4-7.2z"/><path fill="#82a864" d="M722.7 370.3l13.4 7.8 8.5-6.6-13.4-7.4z"/><path fill="#7aa867" d="M736.1 378.1l13.4 7.8 8.5-7-13.4-7.4z"/><path fill="#73a86b" d="M749.5 385.9l13.4 7.8 8.5-7.3-13.4-7.5z"/><path fill="#6ba86f" d="M762.9 393.7l13.4 7.8 8.5-7.6-13.4-7.5z"/><path fill="#63a873" d="M776.3 401.5l13.4 7.8 8.5-7.9-13.4-7.5z"/><path fill="#5ca877" d="M789.7 409.3l13.4 7.8 8.5-8.3-13.4-7.4z"/><path fill="#54a87b" d="M803.1 417.1l13.4 7.7 8.5-8.6-13.4-7.4z"/><path fill="#4da87f" d="M816.5 424.8l13.4 7.7 8.5-8.9-13.4-7.4z"/><path fill="#4ba780" d="M829.9 432.5l13.5 7.5 8.4-9.1-13.4-7.3z"/><path fill="#4ba780" d="M843.4 440l13.4 7.5 8.4-9.4-13.4-7.2z"/><path fill="#4ba680" d="M856.8 447.5l13.4 7.4 8.4-9.7-13.4-7.1z"/><path fill="#49a582" d="M870.2 454.9l13.4 7.2 8.4-9.9-13.4-7z"/><path fill="#47a383" d="M883.6 462.1l13.4 7.2 8.4-10.1-13.4-7z"/><path fill="#45a285" d="M897 469.3l13.4 7.1 8.4-10.4-13.4-6.8z"/><path fill="#43a187" d="M910.4 476.4l13.4 7 8.5-10.6-13.5-6.8z"/><path fill="#429f88" d="M923.8 483.4l13.4 6.9 8.5-10.7-13.4-6.8z"/><path fill="#409e8a" d="M937.2 490.3l13.4 6.9 8.5-10.9-13.4-6.7z"/><path fill="#3f9c8b" d="M950.6 497.2l13.4 6.9 8.5-11.1-13.4-6.7z"/><path fill="#3f9a8c" d="M964 504.1l13.4 7 8.5-11.4-13.4-6.7z"/><path fill="#3f988d" d="M977.4 511.1l13.4 7 8.5-11.5-13.4-6.9z"/><path fill="#3e968e" stroke="#3e968e" stroke-width="6" shape-rendering="auto" d="M990.8 518.1l13.4 7.1 8.5-11.6-13.4-7z"/><path fill="#cca64d" stroke="#cca64d" stroke-width="6" shape-rendering="auto" d="M325.5 247.6l13.4-.6 8.4 4.6-13.4 .8z"/><path fill="#d0a64c" d="M338.9 247l13.4-.2 8.4 4.4-13.4 .4z"/><path fill="#d2a64b" d="M352.3 246.8l13.4 .1 8.4 4.2-13.4 .1z"/><path fill="#d5a54a" d="M365.7 246.9l13.4 .6 8.4 3.9-13.4-.3z"/><path fill="#d7a549" d="M379.1 247.5l13.4 1 8.5 3.6-13.5-.7z"/><path fill="#d8a548" d="M392.5 248.5l13.4 1.4 8.5 3.3-13.4-1.1z"/><path fill="#d9a548" d="M405.9 249.9l13.4 1.8 8.5 3-13.4-1.5z"/><path fill="#daa548" d="M419.3 251.7l13.4 2.2 8.5 2.6-13.4-1.8z"/><path fill="#daa548" d="M432.7 253.9l13.4 2.6 8.5 2.2-13.4-2.2z"/><path fill="#daa548" d="M446.1 256.5l13.4 3 8.5 1.8-13.4-2.6z"/><path fill="#d9a548" d="M459.5 259.5l13.4 3.4 8.5 1.3-13.4-2.9z"/><path fill="#d8a548" d="M472.9 262.9l13.4 3.7 8.5 .9-13.4-3.3z"/><path fill="#d7a549" d="M486.3 266.6l13.4 4.2 8.5 .4-13.4-3.7z"/><path fill="#d5a54a" d="M499.7 270.8l13.4 4.5 8.5 0-13.4-4.1z"/><path fill="#d2a64b" d="M513.1 275.3l13.4 4.9 8.5-.5-13.4-4.4z"/><path fill="#d0a64c" d="M526.5 280.2l13.5 5.2 8.4-1-13.4-4.7z"/><path fill="#cca64d" d="M540 285.4l13.4 5.6 8.4-1.5-13.4-5.1z"/><path fill="#c9a64e" d="M553.4 291l13.4 5.8 8.4-1.9-13.4-5.4z"/><path fill="#c5a650" d="M566.8 296.8l13.4 6.2 8.4-2.4-13.4-5.7z"/><path fill="#c1a652" d="M580.2 303l13.4 6.5 8.4-2.9-13.4-6z"/><path fill="#bca753" d="M593.6 309.5l13.4 6.8 8.5-3.4-13.5-6.3z"/><path fill="#b8a755" d="M607 316.3l13.4 7 8.5-3.9-13.4-6.5z"/><path fill="#b2a757" d="M620.4 323.3l13.4 7.2 8.5-4.4-13.4-6.7z"/><path fill="#aba759" d="M633.8 330.5l13.4 7.4 8.5-4.8-13.4-7z"/><path fill="#a4a75b" d="M647.2 337.9l13.4 7.7 8.5-5.3-13.4-7.2z"/><path fill="#9da75d" d="M660.6 345.6l13.4 7.7 8.5-5.7-13.4-7.3z"/><path fill="#95a85f" d="M674 353.3l13.4 7.9 8.5-6.2-13.4-7.4z"/><path fill="#8da861" d="M687.4 361.2l13.4 8.1 8.5-6.7-13.4-7.6z"/><path fill="#85a863" d="M700.8 369.3l13.4 8.1 8.5-7.1-13.4-7.7z"/><path fill="#7da865" d="M714.2 377.4l13.4 8.1 8.5-7.4-13.4-7.8z"/><path fill="#75a86a" d="M727.6 385.5l13.4 8.2 8.5-7.8-13.4-7.8z"/><path fill="#6da86e" d="M741 393.7l13.4 8.2 8.5-8.2-13.4-7.8z"/><path fill="#65a872" d="M754.4 401.9l13.5 8.2 8.4-8.6-13.4-7.8z"/><path fill="#5da877" d="M767.9 410.1l13.4 8.2 8.4-9-13.4-7.8z"/><path fill="#55a87b" d="M781.3 418.3l13.4 8.1 8.4-9.3-13.4-7.8z"/><path fill="#4da87f" d="M794.7 426.4l13.4 8.1 8.4-9.7-13.4-7.7z"/><path fill="#4ba780" d="M808.1 434.5l13.4 7.9 8.4-9.9-13.4-7.7z"/><path fill="#4ba780" d="M821.5 442.4l13.4 7.9 8.5-10.3-13.5-7.5z"/><path fill="#4ba680" d="M834.9 450.3l13.4 7.7 8.5-10.5-13.4-7.5z"/><path fill="#48a482" d="M848.3 458l13.4 7.7 8.5-10.8-13.4-7.4z"/><path fill="#46a384" d="M861.7 465.7l13.4 7.5 8.5-11.1-13.4-7.2z"/><path fill="#44a186" d="M875.1 473.2l13.4 7.4 8.5-11.3-13.4-7.2z"/><path fill="#43a088" d="M888.5 480.6l13.4 7.3 8.5-11.5-13.4-7.1z"/><path fill="#419e89" d="M901.9 487.9l13.4 7.2 8.5-11.7-13.4-7z"/><path fill="#409d8b" d="M915.3 495.1l13.4 7.1 8.5-11.9-13.4-6.9z"/><path fill="#3f9b8c" d="M928.7 502.2l13.4 7.1 8.5-12.1-13.4-6.9z"/><path fill="#3f998d" d="M942.1 509.3l13.4 7.1 8.5-12.3-13.4-6.9z"/><path fill="#3e978e" d="M955.5 516.4l13.4 7.1 8.5-12.4-13.4-7z"/><path fill="#3d9591" d="M968.9 523.5l13.5 7.2 8.4-12.6-13.4-7z"/><path fill="#3c9394" stroke="#3c9394" stroke-width="6" shape-rendering="auto" d="M982.4 530.7l13.4 7.3 8.4-12.8-13.4-7.1z"/><path fill="#d6a549" stroke="#d6a549" stroke-width="6" shape-rendering="auto" d="M317 242.7l13.4-.5 8.5 4.8-13.4 .6z"/><path fill="#d9a548" d="M330.4 242.2l13.4 0 8.5 4.6-13.4 .2z"/><path fill="#dca547" d="M343.8 242.2l13.4 .5 8.5 4.2-13.4-.1z"/><path fill="#dea546" d="M357.2 242.7l13.4 .9 8.5 3.9-13.4-.6z"/><path fill="#dea546" d="M370.6 243.6l13.4 1.3 8.5 3.6-13.4-1z"/><path fill="#dfa545" d="M384 244.9l13.4 1.8 8.5 3.2-13.4-1.4z"/><path fill="#dfa545" d="M397.4 246.7l13.4 2.2 8.5 2.8-13.4-1.8z"/><path fill="#dfa545" d="M410.8 248.9l13.4 2.6 8.5 2.4-13.4-2.2z"/><path fill="#dfa545" d="M424.2 251.5l13.4 3 8.5 2-13.4-2.6z"/><path fill="#dfa545" d="M437.6 254.5l13.5 3.4 8.4 1.6-13.4-3z"/><path fill="#dea546" d="M451.1 257.9l13.4 3.9 8.4 1.1-13.4-3.4z"/><path fill="#dda546" d="M464.5 261.8l13.4 4.3 8.4 .5-13.4-3.7z"/><path fill="#dba547" d="M477.9 266.1l13.4 4.6 8.4 .1-13.4-4.2z"/><path fill="#d9a548" d="M491.3 270.7l13.4 5 8.4-.4-13.4-4.5z"/><path fill="#d6a549" d="M504.7 275.7l13.4 5.4 8.4-.9-13.4-4.9z"/><path fill="#d3a64b" d="M518.1 281.1l13.4 5.8 8.5-1.5-13.5-5.2z"/><path fill="#cfa64c" d="M531.5 286.9l13.4 6.1 8.5-2-13.4-5.6z"/><path fill="#cba64e" d="M544.9 293l13.4 6.4 8.5-2.6-13.4-5.8z"/><path fill="#c7a64f" d="M558.3 299.4l13.4 6.7 8.5-3.1-13.4-6.2z"/><path fill="#c2a651" d="M571.7 306.1l13.4 7 8.5-3.6-13.4-6.5z"/><path fill="#bda753" d="M585.1 313.1l13.4 7.3 8.5-4.1-13.4-6.8z"/><path fill="#b7a755" d="M598.5 320.4l13.4 7.5 8.5-4.6-13.4-7z"/><path fill="#b1a757" d="M611.9 327.9l13.4 7.8 8.5-5.2-13.4-7.2z"/><path fill="#a9a759" d="M625.3 335.7l13.4 7.9 8.5-5.7-13.4-7.4z"/><path fill="#a1a75b" d="M638.7 343.6l13.4 8.1 8.5-6.1-13.4-7.7z"/><path fill="#99a85d" d="M652.1 351.7l13.4 8.3 8.5-6.7-13.4-7.7z"/><path fill="#91a860" d="M665.5 360l13.5 8.4 8.4-7.2-13.4-7.9z"/><path fill="#89a862" d="M679 368.4l13.4 8.5 8.4-7.6-13.4-8.1z"/><path fill="#80a864" d="M692.4 376.9l13.4 8.5 8.4-8-13.4-8.1z"/><path fill="#78a868" d="M705.8 385.4l13.4 8.6 8.4-8.5-13.4-8.1z"/><path fill="#6fa86d" d="M719.2 394l13.4 8.6 8.4-8.9-13.4-8.2z"/><path fill="#66a872" d="M732.6 402.6l13.4 8.6 8.4-9.3-13.4-8.2z"/><path fill="#5ea876" d="M746 411.2l13.4 8.6 8.5-9.7-13.5-8.2z"/><path fill="#55a87b" d="M759.4 419.8l13.4 8.6 8.5-10.1-13.4-8.2z"/><path fill="#4ca87f" d="M772.8 428.4l13.4 8.4 8.5-10.4-13.4-8.1z"/><path fill="#4ba780" d="M786.2 436.8l13.4 8.4 8.5-10.7-13.4-8.1z"/><path fill="#4ba680" d="M799.6 445.2l13.4 8.3 8.5-11.1-13.4-7.9z"/><path fill="#4aa581" d="M813 453.5l13.4 8.2 8.5-11.4-13.4-7.9z"/><path fill="#48a483" d="M826.4 461.7l13.4 8 8.5-11.7-13.4-7.7z"/><path fill="#45a285" d="M839.8 469.7l13.4 7.9 8.5-11.9-13.4-7.7z"/><path fill="#43a087" d="M853.2 477.6l13.4 7.8 8.5-12.2-13.4-7.5z"/><path fill="#419f89" d="M866.6 485.4l13.4 7.6 8.5-12.4-13.4-7.4z"/><path fill="#409d8a" d="M880 493l13.5 7.6 8.4-12.7-13.4-7.3z"/><path fill="#3f9b8c" d="M893.5 500.6l13.4 7.4 8.4-12.9-13.4-7.2z"/><path fill="#3f998d" d="M906.9 508l13.4 7.3 8.4-13.1-13.4-7.1z"/><path fill="#3e978e" d="M920.3 515.3l13.4 7.3 8.4-13.3-13.4-7.1z"/><path fill="#3d9590" d="M933.7 522.6l13.4 7.2 8.4-13.4-13.4-7.1z"/><path fill="#3c9394" d="M947.1 529.8l13.4 7.3 8.4-13.6-13.4-7.1z"/><path fill="#3b9198" d="M960.5 537.1l13.4 7.3 8.5-13.7-13.5-7.2z"/><path fill="#3a8f9b" stroke="#3a8f9b" stroke-width="6" shape-rendering="auto" d="M973.9 544.4l13.4 7.5 8.5-13.9-13.4-7.3z"/><path fill="#dfa546" stroke="#dfa546" stroke-width="6" shape-rendering="auto" d="M308.5 237.6l13.4-.2 8.5 4.8-13.4 .5z"/><path fill="#e0a545" d="M321.9 237.4l13.4 .3 8.5 4.5-13.4 0z"/><path fill="#e1a544" d="M335.3 237.7l13.4 .8 8.5 4.2-13.4-.5z"/><path fill="#e2a544" d="M348.7 238.5l13.4 1.2 8.5 3.9-13.4-.9z"/><path fill="#e2a544" d="M362.1 239.7l13.5 1.7 8.4 3.5-13.4-1.3z"/><path fill="#e2a543" d="M375.6 241.4l13.4 2.2 8.4 3.1-13.4-1.8z"/><path fill="#e2a543" d="M389 243.6l13.4 2.6 8.4 2.7-13.4-2.2z"/><path fill="#e2a543" d="M402.4 246.2l13.4 3.1 8.4 2.2-13.4-2.6z"/><path fill="#e2a544" d="M415.8 249.3l13.4 3.5 8.4 1.7-13.4-3z"/><path fill="#e1a544" d="M429.2 252.8l13.4 4 8.5 1.1-13.5-3.4z"/><path fill="#e1a544" d="M442.6 256.8l13.4 4.3 8.5 .7-13.4-3.9z"/><path fill="#e0a545" d="M456 261.1l13.4 4.8 8.5 .2-13.4-4.3z"/><path fill="#dfa546" d="M469.4 265.9l13.4 5.2 8.5-.4-13.4-4.6z"/><path fill="#dda547" d="M482.8 271.1l13.4 5.6 8.5-1-13.4-5z"/><path fill="#d9a548" d="M496.2 276.7l13.4 5.9 8.5-1.5-13.4-5.4z"/><path fill="#d5a54a" d="M509.6 282.6l13.4 6.4 8.5-2.1-13.4-5.8z"/><path fill="#d1a64b" d="M523 289l13.4 6.6 8.5-2.6-13.4-6.1z"/><path fill="#cca64d" d="M536.4 295.6l13.4 7 8.5-3.2-13.4-6.4z"/><path fill="#c7a64f" d="M549.8 302.6l13.4 7.3 8.5-3.8-13.4-6.7z"/><path fill="#c2a651" d="M563.2 309.9l13.4 7.6 8.5-4.4-13.4-7z"/><path fill="#bca754" d="M576.6 317.5l13.5 7.8 8.4-4.9-13.4-7.3z"/><path fill="#b6a756" d="M590.1 325.3l13.4 8.1 8.4-5.5-13.4-7.5z"/><path fill="#aea758" d="M603.5 333.4l13.4 8.3 8.4-6-13.4-7.8z"/><path fill="#a6a75a" d="M616.9 341.7l13.4 8.5 8.4-6.6-13.4-7.9z"/><path fill="#9ea75c" d="M630.3 350.2l13.4 8.6 8.4-7.1-13.4-8.1z"/><path fill="#95a85f" d="M643.7 358.8l13.4 8.8 8.4-7.6-13.4-8.3z"/><path fill="#8ca861" d="M657.1 367.6l13.4 8.9 8.5-8.1-13.5-8.4z"/><path fill="#83a863" d="M670.5 376.5l13.4 9 8.5-8.6-13.4-8.5z"/><path fill="#7aa867" d="M683.9 385.5l13.4 9 8.5-9.1-13.4-8.5z"/><path fill="#70a86c" d="M697.3 394.5l13.4 9 8.5-9.5-13.4-8.6z"/><path fill="#67a871" d="M710.7 403.5l13.4 9.1 8.5-10-13.4-8.6z"/><path fill="#5ea876" d="M724.1 412.6l13.4 9.1 8.5-10.5-13.4-8.6z"/><path fill="#54a87b" d="M737.5 421.7l13.4 9 8.5-10.9-13.4-8.6z"/><path fill="#4ba880" d="M750.9 430.7l13.4 8.9 8.5-11.2-13.4-8.6z"/><path fill="#4ba780" d="M764.3 439.6l13.4 8.8 8.5-11.6-13.4-8.4z"/><path fill="#4ba680" d="M777.7 448.4l13.4 8.8 8.5-12-13.4-8.4z"/><path fill="#49a582" d="M791.1 457.2l13.4 8.6 8.5-12.3-13.4-8.3z"/><path fill="#47a384" d="M804.5 465.8l13.5 8.4 8.4-12.5-13.4-8.2z"/><path fill="#44a186" d="M818 474.2l13.4 8.4 8.4-12.9-13.4-8z"/><path fill="#429f88" d="M831.4 482.6l13.4 8.1 8.4-13.1-13.4-7.9z"/><path fill="#409e8a" d="M844.8 490.7l13.4 8.1 8.4-13.4-13.4-7.8z"/><path fill="#3f9b8b" d="M858.2 498.8l13.4 7.8 8.4-13.6-13.4-7.6z"/><path fill="#3f998c" d="M871.6 506.6l13.4 7.8 8.5-13.8-13.5-7.6z"/><path fill="#3e978e" d="M885 514.4l13.4 7.6 8.5-14-13.4-7.4z"/><path fill="#3d9591" d="M898.4 522l13.4 7.5 8.5-14.2-13.4-7.3z"/><path fill="#3c9295" d="M911.8 529.5l13.4 7.5 8.5-14.4-13.4-7.3z"/><path fill="#3b9098" d="M925.2 537l13.4 7.4 8.5-14.6-13.4-7.2z"/><path fill="#3a8e9c" d="M938.6 544.4l13.4 7.4 8.5-14.7-13.4-7.3z"/><path fill="#398c9e" d="M952 551.8l13.4 7.5 8.5-14.9-13.4-7.3z"/><path fill="#388aa0" stroke="#388aa0" stroke-width="6" shape-rendering="auto" d="M965.4 559.3l13.4 7.6 8.5-15-13.4-7.5z"/><path fill="#e3a543" stroke="#e3a543" stroke-width="6" shape-rendering="auto" d="M300.1 232.5l13.4 .1 8.4 4.8-13.4 .2z"/><path fill="#e4a542" d="M313.5 232.6l13.4 .6 8.4 4.5-13.4-.3z"/><path fill="#e5a542" d="M326.9 233.2l13.4 1.1 8.4 4.2-13.4-.8z"/><path fill="#e5a542" d="M340.3 234.3l13.4 1.7 8.4 3.7-13.4-1.2z"/><path fill="#e6a541" d="M353.7 236l13.4 2.1 8.5 3.3-13.5-1.7z"/><path fill="#e6a541" d="M367.1 238.1l13.4 2.6 8.5 2.9-13.4-2.2z"/><path fill="#e5a541" d="M380.5 240.7l13.4 3.2 8.5 2.3-13.4-2.6z"/><path fill="#e5a542" d="M393.9 243.9l13.4 3.5 8.5 1.9-13.4-3.1z"/><path fill="#e5a542" d="M407.3 247.4l13.4 4.1 8.5 1.3-13.4-3.5z"/><path fill="#e4a542" d="M420.7 251.5l13.4 4.5 8.5 .8-13.4-4z"/><path fill="#e3a543" d="M434.1 256l13.4 4.9 8.5 .2-13.4-4.3z"/><path fill="#e2a544" d="M447.5 260.9l13.4 5.4 8.5-.4-13.4-4.8z"/><path fill="#e0a545" d="M460.9 266.3l13.4 5.7 8.5-.9-13.4-5.2z"/><path fill="#dfa546" d="M474.3 272l13.4 6.2 8.5-1.5-13.4-5.6z"/><path fill="#dca547" d="M487.7 278.2l13.4 6.6 8.5-2.2-13.4-5.9z"/><path fill="#d7a549" d="M501.1 284.8l13.5 6.9 8.4-2.7-13.4-6.4z"/><path fill="#d2a64b" d="M514.6 291.7l13.4 7.3 8.4-3.4-13.4-6.6z"/><path fill="#cda64d" d="M528 299l13.4 7.6 8.4-4-13.4-7z"/><path fill="#c7a64f" d="M541.4 306.6l13.4 7.9 8.4-4.6-13.4-7.3z"/><path fill="#c1a652" d="M554.8 314.5l13.4 8.1 8.4-5.1-13.4-7.6z"/><path fill="#bba754" d="M568.2 322.6l13.4 8.5 8.5-5.8-13.5-7.8z"/><path fill="#b4a757" d="M581.6 331.1l13.4 8.6 8.5-6.3-13.4-8.1z"/><path fill="#aba759" d="M595 339.7l13.4 8.9 8.5-6.9-13.4-8.3z"/><path fill="#a2a75b" d="M608.4 348.6l13.4 9.1 8.5-7.5-13.4-8.5z"/><path fill="#99a85e" d="M621.8 357.7l13.4 9.2 8.5-8.1-13.4-8.6z"/><path fill="#8fa860" d="M635.2 366.9l13.4 9.3 8.5-8.6-13.4-8.8z"/><path fill="#85a863" d="M648.6 376.2l13.4 9.4 8.5-9.1-13.4-8.9z"/><path fill="#7ca866" d="M662 385.6l13.4 9.5 8.5-9.6-13.4-9z"/><path fill="#72a86c" d="M675.4 395.1l13.4 9.5 8.5-10.1-13.4-9z"/><path fill="#68a871" d="M688.8 404.6l13.4 9.6 8.5-10.7-13.4-9z"/><path fill="#5ea876" d="M702.2 414.2l13.4 9.5 8.5-11.1-13.4-9.1z"/><path fill="#54a87b" d="M715.6 423.7l13.5 9.5 8.4-11.5-13.4-9.1z"/><path fill="#4ba880" d="M729.1 433.2l13.4 9.4 8.4-11.9-13.4-9z"/><path fill="#4ba780" d="M742.5 442.6l13.4 9.3 8.4-12.3-13.4-8.9z"/><path fill="#4ba680" d="M755.9 451.9l13.4 9.3 8.4-12.8-13.4-8.8z"/><path fill="#48a483" d="M769.3 461.2l13.4 9 8.4-13-13.4-8.8z"/><path fill="#46a285" d="M782.7 470.2l13.4 9 8.4-13.4-13.4-8.6z"/><path fill="#43a087" d="M796.1 479.2l13.4 8.8 8.5-13.8-13.5-8.4z"/><path fill="#419e8a" d="M809.5 488l13.4 8.6 8.5-14-13.4-8.4z"/><path fill="#3f9c8b" d="M822.9 496.6l13.4 8.4 8.5-14.3-13.4-8.1z"/><path fill="#3f998c" d="M836.3 505l13.4 8.3 8.5-14.5-13.4-8.1z"/><path fill="#3e978e" d="M849.7 513.3l13.4 8.1 8.5-14.8-13.4-7.8z"/><path fill="#3d9591" d="M863.1 521.4l13.4 8 8.5-15-13.4-7.8z"/><path fill="#3c9295" d="M876.5 529.4l13.4 7.8 8.5-15.2-13.4-7.6z"/><path fill="#3b9099" d="M889.9 537.2l13.4 7.7 8.5-15.4-13.4-7.5z"/><path fill="#3a8e9c" d="M903.3 544.9l13.4 7.6 8.5-15.5-13.4-7.5z"/><path fill="#398c9e" d="M916.7 552.5l13.4 7.5 8.5-15.6-13.4-7.4z"/><path fill="#388aa0" d="M930.1 560l13.4 7.6 8.5-15.8-13.4-7.4z"/><path fill="#3788a2" d="M943.5 567.6l13.5 7.6 8.4-15.9-13.4-7.5z"/><path fill="#3586a4" stroke="#3586a4" stroke-width="6" shape-rendering="auto" d="M957 575.2l13.4 7.7 8.4-16-13.4-7.6z"/><path fill="#e7a540" stroke="#e7a540" stroke-width="6" shape-rendering="auto" d="M291.6 227.4l13.4 .4 8.5 4.8-13.4-.1z"/><path fill="#e8a540" d="M305 227.8l13.4 1 8.5 4.4-13.4-.6z"/><path fill="#e8a540" d="M318.4 228.8l13.4 1.6 8.5 3.9-13.4-1.1z"/><path fill="#e9a53f" d="M331.8 230.4l13.4 2 8.5 3.6-13.4-1.7z"/><path fill="#e9a53f" d="M345.2 232.4l13.4 2.7 8.5 3-13.4-2.1z"/><path fill="#e9a53f" d="M358.6 235.1l13.4 3.1 8.5 2.5-13.4-2.6z"/><path fill="#e8a540" d="M372 238.2l13.4 3.6 8.5 2.1-13.4-3.2z"/><path fill="#e8a540" d="M385.4 241.8l13.4 4.1 8.5 1.5-13.4-3.5z"/><path fill="#e7a540" d="M398.8 245.9l13.4 4.7 8.5 .9-13.4-4.1z"/><path fill="#e6a541" d="M412.2 250.6l13.5 5 8.4 .4-13.4-4.5z"/><path fill="#e5a542" d="M425.7 255.6l13.4 5.6 8.4-.3-13.4-4.9z"/><path fill="#e3a543" d="M439.1 261.2l13.4 6 8.4-.9-13.4-5.4z"/><path fill="#e2a544" d="M452.5 267.2l13.4 6.4 8.4-1.6-13.4-5.7z"/><path fill="#e0a545" d="M465.9 273.6l13.4 6.8 8.4-2.2-13.4-6.2z"/><path fill="#dda546" d="M479.3 280.4l13.4 7.2 8.4-2.8-13.4-6.6z"/><path fill="#d8a548" d="M492.7 287.6l13.4 7.6 8.5-3.5-13.5-6.9z"/><path fill="#d3a64b" d="M506.1 295.2l13.4 7.9 8.5-4.1-13.4-7.3z"/><path fill="#cca64d" d="M519.5 303.1l13.4 8.2 8.5-4.7-13.4-7.6z"/><path fill="#c6a650" d="M532.9 311.3l13.4 8.6 8.5-5.4-13.4-7.9z"/><path fill="#bfa752" d="M546.3 319.9l13.4 8.8 8.5-6.1-13.4-8.1z"/><path fill="#b8a755" d="M559.7 328.7l13.4 9.1 8.5-6.7-13.4-8.5z"/><path fill="#b0a758" d="M573.1 337.8l13.4 9.2 8.5-7.3-13.4-8.6z"/><path fill="#a6a75a" d="M586.5 347l13.4 9.5 8.5-7.9-13.4-8.9z"/><path fill="#9ca75d" d="M599.9 356.5l13.4 9.7 8.5-8.5-13.4-9.1z"/><path fill="#92a85f" d="M613.3 366.2l13.4 9.8 8.5-9.1-13.4-9.2z"/><path fill="#88a862" d="M626.7 376l13.5 9.9 8.4-9.7-13.4-9.3z"/><path fill="#7da865" d="M640.2 385.9l13.4 10 8.4-10.3-13.4-9.4z"/><path fill="#73a86b" d="M653.6 395.9l13.4 10 8.4-10.8-13.4-9.5z"/><path fill="#68a871" d="M667 405.9l13.4 10 8.4-11.3-13.4-9.5z"/><path fill="#5da876" d="M680.4 415.9l13.4 10.1 8.4-11.8-13.4-9.6z"/><path fill="#53a87c" d="M693.8 426l13.4 10 8.4-12.3-13.4-9.5z"/><path fill="#4ba880" d="M707.2 436l13.4 9.9 8.5-12.7-13.5-9.5z"/><path fill="#4ba780" d="M720.6 445.9l13.4 9.8 8.5-13.1-13.4-9.4z"/><path fill="#4aa581" d="M734 455.7l13.4 9.8 8.5-13.6-13.4-9.3z"/><path fill="#47a384" d="M747.4 465.5l13.4 9.6 8.5-13.9-13.4-9.3z"/><path fill="#44a186" d="M760.8 475.1l13.4 9.4 8.5-14.3-13.4-9z"/><path fill="#429f89" d="M774.2 484.5l13.4 9.3 8.5-14.6-13.4-9z"/><path fill="#409d8b" d="M787.6 493.8l13.4 9.1 8.5-14.9-13.4-8.8z"/><path fill="#3f9a8c" d="M801 502.9l13.4 8.9 8.5-15.2-13.4-8.6z"/><path fill="#3e978d" d="M814.4 511.8l13.4 8.7 8.5-15.5-13.4-8.4z"/><path fill="#3d9591" d="M827.8 520.5l13.4 8.5 8.5-15.7-13.4-8.3z"/><path fill="#3c9295" d="M841.2 529l13.4 8.4 8.5-16-13.4-8.1z"/><path fill="#3a909a" d="M854.6 537.4l13.5 8.1 8.4-16.1-13.4-8z"/><path fill="#398d9d" d="M868.1 545.5l13.4 8 8.4-16.3-13.4-7.8z"/><path fill="#398b9f" d="M881.5 553.5l13.4 7.8 8.4-16.4-13.4-7.7z"/><path fill="#3889a1" d="M894.9 561.3l13.4 7.8 8.4-16.6-13.4-7.6z"/><path fill="#3787a3" d="M908.3 569.1l13.4 7.6 8.4-16.7-13.4-7.5z"/><path fill="#3485a5" d="M921.7 576.7l13.4 7.7 8.4-16.8-13.4-7.6z"/><path fill="#3283a7" d="M935.1 584.4l13.4 7.7 8.5-16.9-13.5-7.6z"/><path fill="#2f81a9" stroke="#2f81a9" stroke-width="6" shape-rendering="auto" d="M948.5 592.1l13.4 7.8 8.5-17-13.4-7.7z"/><path fill="#eba53e" stroke="#eba53e" stroke-width="6" shape-rendering="auto" d="M283.1 222.4l13.4 .8 8.5 4.6-13.4-.4z"/><path fill="#eba63e" d="M296.5 223.2l13.4 1.4 8.5 4.2-13.4-1z"/><path fill="#eba73e" d="M309.9 224.6l13.4 2 8.5 3.8-13.4-1.6z"/><path fill="#eba83e" d="M323.3 226.6l13.5 2.6 8.4 3.2-13.4-2z"/><path fill="#eba73e" d="M336.8 229.2l13.4 3.1 8.4 2.8-13.4-2.7z"/><path fill="#eba73e" d="M350.2 232.3l13.4 3.7 8.4 2.2-13.4-3.1z"/><path fill="#eba53e" d="M363.6 236l13.4 4.2 8.4 1.6-13.4-3.6z"/><path fill="#eaa53e" d="M377 240.2l13.4 4.7 8.4 1-13.4-4.1z"/><path fill="#e9a53f" d="M390.4 244.9l13.4 5.2 8.4 .5-13.4-4.7z"/><path fill="#e8a540" d="M403.8 250.1l13.4 5.8 8.5-.3-13.5-5z"/><path fill="#e6a541" d="M417.2 255.9l13.4 6.2 8.5-.9-13.4-5.6z"/><path fill="#e5a542" d="M430.6 262.1l13.4 6.6 8.5-1.5-13.4-6z"/><path fill="#e3a543" d="M444 268.7l13.4 7.1 8.5-2.2-13.4-6.4z"/><path fill="#e1a544" d="M457.4 275.8l13.4 7.5 8.5-2.9-13.4-6.8z"/><path fill="#dea546" d="M470.8 283.3l13.4 7.9 8.5-3.6-13.4-7.2z"/><path fill="#d8a548" d="M484.2 291.2l13.4 8.2 8.5-4.2-13.4-7.6z"/><path fill="#d2a64b" d="M497.6 299.4l13.4 8.6 8.5-4.9-13.4-7.9z"/><path fill="#cba64d" d="M511 308l13.4 9 8.5-5.7-13.4-8.2z"/><path fill="#c4a650" d="M524.4 317l13.4 9.2 8.5-6.3-13.4-8.6z"/><path fill="#bda753" d="M537.8 326.2l13.4 9.5 8.5-7-13.4-8.8z"/><path fill="#b5a756" d="M551.2 335.7l13.5 9.7 8.4-7.6-13.4-9.1z"/><path fill="#aaa759" d="M564.7 345.4l13.4 9.9 8.4-8.3-13.4-9.2z"/><path fill="#a0a75c" d="M578.1 355.3l13.4 10.2 8.4-9-13.4-9.5z"/><path fill="#95a85f" d="M591.5 365.5l13.4 10.2 8.4-9.5-13.4-9.7z"/><path fill="#8aa861" d="M604.9 375.7l13.4 10.4 8.4-10.1-13.4-9.8z"/><path fill="#7fa865" d="M618.3 386.1l13.4 10.5 8.5-10.7-13.5-9.9z"/><path fill="#74a86b" d="M631.7 396.6l13.4 10.6 8.5-11.3-13.4-10z"/><path fill="#68a871" d="M645.1 407.2l13.4 10.6 8.5-11.9-13.4-10z"/><path fill="#5da877" d="M658.5 417.8l13.4 10.5 8.5-12.4-13.4-10z"/><path fill="#51a87d" d="M671.9 428.3l13.4 10.6 8.5-12.9-13.4-10.1z"/><path fill="#4ba780" d="M685.3 438.9l13.4 10.5 8.5-13.4-13.4-10z"/><path fill="#4ba680" d="M698.7 449.4l13.4 10.4 8.5-13.9-13.4-9.9z"/><path fill="#49a482" d="M712.1 459.8l13.4 10.2 8.5-14.3-13.4-9.8z"/><path fill="#46a285" d="M725.5 470l13.4 10.2 8.5-14.7-13.4-9.8z"/><path fill="#43a087" d="M738.9 480.2l13.4 10 8.5-15.1-13.4-9.6z"/><path fill="#409e8a" d="M752.3 490.2l13.4 9.8 8.5-15.5-13.4-9.4z"/><path fill="#3f9b8c" d="M765.7 500l13.4 9.6 8.5-15.8-13.4-9.3z"/><path fill="#3e988d" d="M779.1 509.6l13.5 9.4 8.4-16.1-13.4-9.1z"/><path fill="#3d9590" d="M792.6 519l13.4 9.2 8.4-16.4-13.4-8.9z"/><path fill="#3c9295" d="M806 528.2l13.4 8.9 8.4-16.6-13.4-8.7z"/><path fill="#3a8f9a" d="M819.4 537.1l13.4 8.8 8.4-16.9-13.4-8.5z"/><path fill="#398d9d" d="M832.8 545.9l13.4 8.5 8.4-17-13.4-8.4z"/><path fill="#388aa0" d="M846.2 554.4l13.4 8.3 8.5-17.2-13.5-8.1z"/><path fill="#3788a2" d="M859.6 562.7l13.4 8.2 8.5-17.4-13.4-8z"/><path fill="#3686a4" d="M873 570.9l13.4 7.9 8.5-17.5-13.4-7.8z"/><path fill="#3384a6" d="M886.4 578.8l13.4 7.9 8.5-17.6-13.4-7.8z"/><path fill="#3082a8" d="M899.8 586.7l13.4 7.7 8.5-17.7-13.4-7.6z"/><path fill="#2e80aa" d="M913.2 594.4l13.4 7.8 8.5-17.8-13.4-7.7z"/><path fill="#2b7eab" d="M926.6 602.2l13.4 7.7 8.5-17.8-13.4-7.7z"/><path fill="#297cad" stroke="#297cad" stroke-width="6" shape-rendering="auto" d="M940 609.9l13.4 7.8 8.5-17.8-13.4-7.8z"/><path fill="#ebad3d" stroke="#ebad3d" stroke-width="6" shape-rendering="auto" d="M274.7 217.5l13.4 1.2 8.4 4.5-13.4-.8z"/><path fill="#ebae3d" d="M288.1 218.7l13.4 1.9 8.4 4-13.4-1.4z"/><path fill="#ebae3d" d="M301.5 220.6l13.4 2.5 8.4 3.5-13.4-2z"/><path fill="#ebae3d" d="M314.9 223.1l13.4 3.1 8.5 3-13.5-2.6z"/><path fill="#ebae3d" d="M328.3 226.2l13.4 3.7 8.5 2.4-13.4-3.1z"/><path fill="#ebac3e" d="M341.7 229.9l13.4 4.3 8.5 1.8-13.4-3.7z"/><path fill="#ebab3e" d="M355.1 234.2l13.4 4.8 8.5 1.2-13.4-4.2z"/><path fill="#eba83e" d="M368.5 239l13.4 5.4 8.5 .5-13.4-4.7z"/><path fill="#eba63e" d="M381.9 244.4l13.4 5.9 8.5-.2-13.4-5.2z"/><path fill="#eaa53f" d="M395.3 250.3l13.4 6.4 8.5-.8-13.4-5.8z"/><path fill="#e8a540" d="M408.7 256.7l13.4 6.9 8.5-1.5-13.4-6.2z"/><path fill="#e6a541" d="M422.1 263.6l13.4 7.3 8.5-2.2-13.4-6.6z"/><path fill="#e3a543" d="M435.5 270.9l13.4 7.8 8.5-2.9-13.4-7.1z"/><path fill="#e1a544" d="M448.9 278.7l13.4 8.2 8.5-3.6-13.4-7.5z"/><path fill="#dea546" d="M462.3 286.9l13.5 8.6 8.4-4.3-13.4-7.9z"/><path fill="#d8a548" d="M475.8 295.5l13.4 9 8.4-5.1-13.4-8.2z"/><path fill="#d1a64b" d="M489.2 304.5l13.4 9.3 8.4-5.8-13.4-8.6z"/><path fill="#c9a64e" d="M502.6 313.8l13.4 9.7 8.4-6.5-13.4-9z"/><path fill="#c1a652" d="M516 323.5l13.4 9.9 8.4-7.2-13.4-9.2z"/><path fill="#b9a755" d="M529.4 333.4l13.4 10.2 8.4-7.9-13.4-9.5z"/><path fill="#afa758" d="M542.8 343.6l13.4 10.4 8.5-8.6-13.5-9.7z"/><path fill="#a4a75b" d="M556.2 354l13.4 10.7 8.5-9.4-13.4-9.9z"/><path fill="#98a85e" d="M569.6 364.7l13.4 10.8 8.5-10-13.4-10.2z"/><path fill="#8da861" d="M583 375.5l13.4 10.9 8.5-10.7-13.4-10.2z"/><path fill="#81a864" d="M596.4 386.4l13.4 11 8.5-11.3-13.4-10.4z"/><path fill="#75a86a" d="M609.8 397.4l13.4 11.1 8.5-11.9-13.4-10.5z"/><path fill="#68a871" d="M623.2 408.5l13.4 11.1 8.5-12.4-13.4-10.6z"/><path fill="#5ca877" d="M636.6 419.6l13.4 11.2 8.5-13-13.4-10.6z"/><path fill="#50a87d" d="M650 430.8l13.4 11.1 8.5-13.6-13.4-10.5z"/><path fill="#4ba780" d="M663.4 441.9l13.4 11.1 8.5-14.1-13.4-10.6z"/><path fill="#4ba680" d="M676.8 453l13.4 10.9 8.5-14.5-13.4-10.5z"/><path fill="#48a483" d="M690.2 463.9l13.5 10.9 8.4-15-13.4-10.4z"/><path fill="#44a186" d="M703.7 474.8l13.4 10.7 8.4-15.5-13.4-10.2z"/><path fill="#419f89" d="M717.1 485.5l13.4 10.6 8.4-15.9-13.4-10.2z"/><path fill="#3f9c8b" d="M730.5 496.1l13.4 10.3 8.4-16.2-13.4-10z"/><path fill="#3f998d" d="M743.9 506.4l13.4 10.2 8.4-16.6-13.4-9.8z"/><path fill="#3e958f" d="M757.3 516.6l13.4 9.9 8.4-16.9-13.4-9.6z"/><path fill="#3c9295" d="M770.7 526.5l13.4 9.7 8.5-17.2-13.5-9.4z"/><path fill="#3a8f9b" d="M784.1 536.2l13.4 9.5 8.5-17.5-13.4-9.2z"/><path fill="#398d9d" d="M797.5 545.7l13.4 9.1 8.5-17.7-13.4-8.9z"/><path fill="#388aa0" d="M810.9 554.8l13.4 9 8.5-17.9-13.4-8.8z"/><path fill="#3787a3" d="M824.3 563.8l13.4 8.7 8.5-18.1-13.4-8.5z"/><path fill="#3485a5" d="M837.7 572.5l13.4 8.5 8.5-18.3-13.4-8.3z"/><path fill="#3283a7" d="M851.1 581l13.4 8.2 8.5-18.3-13.4-8.2z"/><path fill="#2f81a9" d="M864.5 589.2l13.4 8.1 8.5-18.5-13.4-7.9z"/><path fill="#2c7fab" d="M877.9 597.3l13.4 7.9 8.5-18.5-13.4-7.9z"/><path fill="#297dad" d="M891.3 605.2l13.4 7.8 8.5-18.6-13.4-7.7z"/><path fill="#277bae" d="M904.7 613l13.5 7.8 8.4-18.6-13.4-7.8z"/><path fill="#2479b0" d="M918.2 620.8l13.4 7.7 8.4-18.6-13.4-7.7z"/><path fill="#2177b2" stroke="#2177b2" stroke-width="6" shape-rendering="auto" d="M931.6 628.5l13.4 7.8 8.4-18.6-13.4-7.8z"/><path fill="#ebb53d" stroke="#ebb53d" stroke-width="6" shape-rendering="auto" d="M266.2 212.8l13.4 1.7 8.5 4.2-13.4-1.2z"/><path fill="#ebb53d" d="M279.6 214.5l13.4 2.4 8.5 3.7-13.4-1.9z"/><path fill="#ebb53d" d="M293 216.9l13.4 3.1 8.5 3.1-13.4-2.5z"/><path fill="#ebb53d" d="M306.4 220l13.4 3.6 8.5 2.6-13.4-3.1z"/><path fill="#ebb33d" d="M319.8 223.6l13.4 4.4 8.5 1.9-13.4-3.7z"/><path fill="#ebb23d" d="M333.2 228l13.4 4.9 8.5 1.3-13.4-4.3z"/><path fill="#ebaf3d" d="M346.6 232.9l13.4 5.5 8.5 .6-13.4-4.8z"/><path fill="#ebac3e" d="M360 238.4l13.4 6 8.5 0-13.4-5.4z"/><path fill="#eba93e" d="M373.4 244.4l13.4 6.6 8.5-.7-13.4-5.9z"/><path fill="#eba53e" d="M386.8 251l13.5 7.2 8.4-1.5-13.4-6.4z"/><path fill="#e9a53f" d="M400.3 258.2l13.4 7.6 8.4-2.2-13.4-6.9z"/><path fill="#e6a541" d="M413.7 265.8l13.4 8.1 8.4-3-13.4-7.3z"/><path fill="#e4a542" d="M427.1 273.9l13.4 8.5 8.4-3.7-13.4-7.8z"/><path fill="#e1a544" d="M440.5 282.4l13.4 9 8.4-4.5-13.4-8.2z"/><path fill="#dea546" d="M453.9 291.4l13.4 9.4 8.5-5.3-13.5-8.6z"/><path fill="#d6a549" d="M467.3 300.8l13.4 9.7 8.5-6-13.4-9z"/><path fill="#cea64c" d="M480.7 310.5l13.4 10.1 8.5-6.8-13.4-9.3z"/><path fill="#c6a650" d="M494.1 320.6l13.4 10.4 8.5-7.5-13.4-9.7z"/><path fill="#bda753" d="M507.5 331l13.4 10.6 8.5-8.2-13.4-9.9z"/><path fill="#b4a757" d="M520.9 341.6l13.4 11 8.5-9-13.4-10.2z"/><path fill="#a8a75a" d="M534.3 352.6l13.4 11.1 8.5-9.7-13.4-10.4z"/><path fill="#9ca75d" d="M547.7 363.7l13.4 11.3 8.5-10.3-13.4-10.7z"/><path fill="#8fa860" d="M561.1 375l13.4 11.5 8.5-11-13.4-10.8z"/><path fill="#82a863" d="M574.5 386.5l13.4 11.6 8.5-11.7-13.4-10.9z"/><path fill="#75a86a" d="M587.9 398.1l13.4 11.7 8.5-12.4-13.4-11z"/><path fill="#68a870" d="M601.3 409.8l13.5 11.7 8.4-13-13.4-11.1z"/><path fill="#5ba877" d="M614.8 421.5l13.4 11.7 8.4-13.6-13.4-11.1z"/><path fill="#4ea87e" d="M628.2 433.2l13.4 11.7 8.4-14.1-13.4-11.2z"/><path fill="#4ba780" d="M641.6 444.9l13.4 11.7 8.4-14.7-13.4-11.1z"/><path fill="#4aa581" d="M655 456.6l13.4 11.6 8.4-15.2-13.4-11.1z"/><path fill="#47a384" d="M668.4 468.2l13.4 11.4 8.4-15.7-13.4-10.9z"/><path fill="#43a087" d="M681.8 479.6l13.4 11.4 8.5-16.2-13.5-10.9z"/><path fill="#409e8a" d="M695.2 491l13.4 11.1 8.5-16.6-13.4-10.7z"/><path fill="#3f9a8c" d="M708.6 502.1l13.4 11 8.5-17-13.4-10.6z"/><path fill="#3e968e" d="M722 513.1l13.4 10.7 8.5-17.4-13.4-10.3z"/><path fill="#3c9394" d="M735.4 523.8l13.4 10.5 8.5-17.7-13.4-10.2z"/><path fill="#3a909a" d="M748.8 534.3l13.4 10.2 8.5-18-13.4-9.9z"/><path fill="#398d9d" d="M762.2 544.5l13.4 10 8.5-18.3-13.4-9.7z"/><path fill="#388aa0" d="M775.6 554.5l13.4 9.7 8.5-18.5-13.4-9.5z"/><path fill="#3787a3" d="M789 564.2l13.4 9.4 8.5-18.8-13.4-9.1z"/><path fill="#3384a5" d="M802.4 573.6l13.4 9.1 8.5-18.9-13.4-9z"/><path fill="#3082a8" d="M815.8 582.7l13.4 8.8 8.5-19-13.4-8.7z"/><path fill="#2d80aa" d="M829.2 591.5l13.5 8.6 8.4-19.1-13.4-8.5z"/><path fill="#2a7eac" d="M842.7 600.1l13.4 8.4 8.4-19.3-13.4-8.2z"/><path fill="#277bae" d="M856.1 608.5l13.4 8.1 8.4-19.3-13.4-8.1z"/><path fill="#2579b0" d="M869.5 616.6l13.4 7.9 8.4-19.3-13.4-7.9z"/><path fill="#2277b2" d="M882.9 624.5l13.4 7.8 8.4-19.3-13.4-7.8z"/><path fill="#1f75b4" d="M896.3 632.3l13.4 7.7 8.5-19.2-13.5-7.8z"/><path fill="#1d73b6" d="M909.7 640l13.4 7.7 8.5-19.2-13.4-7.7z"/><path fill="#1d71b5" stroke="#1d71b5" stroke-width="6" shape-rendering="auto" d="M923.1 647.7l13.4 7.8 8.5-19.2-13.4-7.8z"/><path fill="#ebbc3c" stroke="#ebbc3c" stroke-width="6" shape-rendering="auto" d="M257.7 208.4l13.4 2.2 8.5 3.9-13.4-1.7z"/><path fill="#ebbc3c" d="M271.1 210.6l13.4 3 8.5 3.3-13.4-2.4z"/><path fill="#ebbc3c" d="M284.5 213.6l13.4 3.6 8.5 2.8-13.4-3.1z"/><path fill="#ebbb3d" d="M297.9 217.2l13.5 4.3 8.4 2.1-13.4-3.6z"/><path fill="#ebb93d" d="M311.4 221.5l13.4 5 8.4 1.5-13.4-4.4z"/><path fill="#ebb63d" d="M324.8 226.5l13.4 5.6 8.4 .8-13.4-4.9z"/><path fill="#ebb33d" d="M338.2 232.1l13.4 6.2 8.4 .1-13.4-5.5z"/><path fill="#ebb03d" d="M351.6 238.3l13.4 6.8 8.4-.7-13.4-6z"/><path fill="#ebac3e" d="M365 245.1l13.4 7.3 8.4-1.4-13.4-6.6z"/><path fill="#eba73e" d="M378.4 252.4l13.4 7.9 8.5-2.1-13.5-7.2z"/><path fill="#eaa53f" d="M391.8 260.3l13.4 8.4 8.5-2.9-13.4-7.6z"/><path fill="#e7a541" d="M405.2 268.7l13.4 8.9 8.5-3.7-13.4-8.1z"/><path fill="#e4a542" d="M418.6 277.6l13.4 9.3 8.5-4.5-13.4-8.5z"/><path fill="#e1a544" d="M432 286.9l13.4 9.8 8.5-5.3-13.4-9z"/><path fill="#dca547" d="M445.4 296.7l13.4 10.1 8.5-6-13.4-9.4z"/><path fill="#d4a64a" d="M458.8 306.8l13.4 10.6 8.5-6.9-13.4-9.7z"/><path fill="#cba64e" d="M472.2 317.4l13.4 10.8 8.5-7.6-13.4-10.1z"/><path fill="#c2a651" d="M485.6 328.2l13.4 11.2 8.5-8.4-13.4-10.4z"/><path fill="#b8a755" d="M499 339.4l13.4 11.4 8.5-9.2-13.4-10.6z"/><path fill="#aca759" d="M512.4 350.8l13.4 11.7 8.5-9.9-13.4-11z"/><path fill="#9fa75c" d="M525.8 362.5l13.5 11.9 8.4-10.7-13.4-11.1z"/><path fill="#92a85f" d="M539.3 374.4l13.4 12 8.4-11.4-13.4-11.3z"/><path fill="#84a863" d="M552.7 386.4l13.4 12.2 8.4-12.1-13.4-11.5z"/><path fill="#77a869" d="M566.1 398.6l13.4 12.3 8.4-12.8-13.4-11.6z"/><path fill="#69a870" d="M579.5 410.9l13.4 12.3 8.4-13.4-13.4-11.7z"/><path fill="#5ba878" d="M592.9 423.2l13.4 12.4 8.5-14.1-13.5-11.7z"/><path fill="#4da87f" d="M606.3 435.6l13.4 12.3 8.5-14.7-13.4-11.7z"/><path fill="#4ba780" d="M619.7 447.9l13.4 12.3 8.5-15.3-13.4-11.7z"/><path fill="#49a582" d="M633.1 460.2l13.4 12.2 8.5-15.8-13.4-11.7z"/><path fill="#46a285" d="M646.5 472.4l13.4 12.1 8.5-16.3-13.4-11.6z"/><path fill="#429f88" d="M659.9 484.5l13.4 12 8.5-16.9-13.4-11.4z"/><path fill="#3f9c8b" d="M673.3 496.5l13.4 11.7 8.5-17.2-13.4-11.4z"/><path fill="#3e988d" d="M686.7 508.2l13.4 11.6 8.5-17.7-13.4-11.1z"/><path fill="#3d9492" d="M700.1 519.8l13.4 11.3 8.5-18-13.4-11z"/><path fill="#3b9098" d="M713.5 531.1l13.4 11.1 8.5-18.4-13.4-10.7z"/><path fill="#398d9d" d="M726.9 542.2l13.4 10.8 8.5-18.7-13.4-10.5z"/><path fill="#388aa0" d="M740.3 553l13.5 10.5 8.4-19-13.4-10.2z"/><path fill="#3787a3" d="M753.8 563.5l13.4 10.2 8.4-19.2-13.4-10z"/><path fill="#3384a6" d="M767.2 573.7l13.4 9.9 8.4-19.4-13.4-9.7z"/><path fill="#2f81a8" d="M780.6 583.6l13.4 9.6 8.4-19.6-13.4-9.4z"/><path fill="#2c7fab" d="M794 593.2l13.4 9.3 8.4-19.8-13.4-9.1z"/><path fill="#297cad" d="M807.4 602.5l13.4 8.9 8.4-19.9-13.4-8.8z"/><path fill="#257aaf" d="M820.8 611.4l13.4 8.7 8.5-20-13.5-8.6z"/><path fill="#2278b1" d="M834.2 620.1l13.4 8.3 8.5-19.9-13.4-8.4z"/><path fill="#2076b3" d="M847.6 628.4l13.4 8.2 8.5-20-13.4-8.1z"/><path fill="#1d74b5" d="M861 636.6l13.4 7.9 8.5-20-13.4-7.9z"/><path fill="#1d71b5" d="M874.4 644.5l13.4 7.7 8.5-19.9-13.4-7.8z"/><path fill="#1e6fb4" d="M887.8 652.2l13.4 7.7 8.5-19.9-13.4-7.7z"/><path fill="#1f6db3" d="M901.2 659.9l13.4 7.6 8.5-19.8-13.4-7.7z"/><path fill="#206bb2" stroke="#206bb2" stroke-width="6" shape-rendering="auto" d="M914.6 667.5l13.4 7.6 8.5-19.6-13.4-7.8z"/><path fill="#ebc43c" stroke="#ebc43c" stroke-width="6" shape-rendering="auto" d="M249.3 204.4l13.4 2.7 8.4 3.5-13.4-2.2z"/><path fill="#ebc33c" d="M262.7 207.1l13.4 3.5 8.4 3-13.4-3z"/><path fill="#ebc23c" d="M276.1 210.6l13.4 4.3 8.4 2.3-13.4-3.6z"/><path fill="#ebc03c" d="M289.5 214.9l13.4 5 8.5 1.6-13.5-4.3z"/><path fill="#ebbe3c" d="M302.9 219.9l13.4 5.6 8.5 1-13.4-5z"/><path fill="#ebbb3d" d="M316.3 225.5l13.4 6.4 8.5 .2-13.4-5.6z"/><path fill="#ebb73d" d="M329.7 231.9l13.4 6.9 8.5-.5-13.4-6.2z"/><path fill="#ebb33d" d="M343.1 238.8l13.4 7.6 8.5-1.3-13.4-6.8z"/><path fill="#ebae3d" d="M356.5 246.4l13.4 8.1 8.5-2.1-13.4-7.3z"/><path fill="#eba93e" d="M369.9 254.5l13.4 8.7 8.5-2.9-13.4-7.9z"/><path fill="#eaa53f" d="M383.3 263.2l13.4 9.2 8.5-3.7-13.4-8.4z"/><path fill="#e7a541" d="M396.7 272.4l13.4 9.7 8.5-4.5-13.4-8.9z"/><path fill="#e3a543" d="M410.1 282.1l13.4 10.1 8.5-5.3-13.4-9.3z"/><path fill="#e0a545" d="M423.5 292.2l13.4 10.6 8.5-6.1-13.4-9.8z"/><path fill="#daa548" d="M436.9 302.8l13.5 11 8.4-7-13.4-10.1z"/><path fill="#d0a64c" d="M450.4 313.8l13.4 11.4 8.4-7.8-13.4-10.6z"/><path fill="#c6a64f" d="M463.8 325.2l13.4 11.6 8.4-8.6-13.4-10.8z"/><path fill="#bca753" d="M477.2 336.8l13.4 12 8.4-9.4-13.4-11.2z"/><path fill="#b1a757" d="M490.6 348.8l13.4 12.2 8.4-10.2-13.4-11.4z"/><path fill="#a3a75b" d="M504 361l13.4 12.5 8.4-11-13.4-11.7z"/><path fill="#95a85f" d="M517.4 373.5l13.4 12.6 8.5-11.7-13.5-11.9z"/><path fill="#87a862" d="M530.8 386.1l13.4 12.8 8.5-12.5-13.4-12z"/><path fill="#78a868" d="M544.2 398.9l13.4 12.8 8.5-13.1-13.4-12.2z"/><path fill="#69a870" d="M557.6 411.7l13.4 13 8.5-13.8-13.4-12.3z"/><path fill="#5ba878" d="M571 424.7l13.4 13 8.5-14.5-13.4-12.3z"/><path fill="#4ca880" d="M584.4 437.7l13.4 13 8.5-15.1-13.4-12.4z"/><path fill="#4ba780" d="M597.8 450.7l13.4 12.9 8.5-15.7-13.4-12.3z"/><path fill="#48a482" d="M611.2 463.6l13.4 12.9 8.5-16.3-13.4-12.3z"/><path fill="#44a186" d="M624.6 476.5l13.4 12.8 8.5-16.9-13.4-12.2z"/><path fill="#409e8a" d="M638 489.3l13.4 12.6 8.5-17.4-13.4-12.1z"/><path fill="#3f9a8c" d="M651.4 501.9l13.4 12.4 8.5-17.8-13.4-12z"/><path fill="#3e968e" d="M664.8 514.3l13.5 12.2 8.4-18.3-13.4-11.7z"/><path fill="#3c9296" d="M678.3 526.5l13.4 12 8.4-18.7-13.4-11.6z"/><path fill="#3a8e9c" d="M691.7 538.5l13.4 11.7 8.4-19.1-13.4-11.3z"/><path fill="#388aa0" d="M705.1 550.2l13.4 11.4 8.4-19.4-13.4-11.1z"/><path fill="#3787a3" d="M718.5 561.6l13.4 11.1 8.4-19.7-13.4-10.8z"/><path fill="#3384a6" d="M731.9 572.7l13.4 10.7 8.5-19.9-13.5-10.5z"/><path fill="#2f81a9" d="M745.3 583.4l13.4 10.4 8.5-20.1-13.4-10.2z"/><path fill="#2b7eab" d="M758.7 593.8l13.4 10.1 8.5-20.3-13.4-9.9z"/><path fill="#277bae" d="M772.1 603.9l13.4 9.7 8.5-20.4-13.4-9.6z"/><path fill="#2479b0" d="M785.5 613.6l13.4 9.3 8.5-20.4-13.4-9.3z"/><path fill="#2176b3" d="M798.9 622.9l13.4 9 8.5-20.5-13.4-8.9z"/><path fill="#1d74b5" d="M812.3 631.9l13.4 8.7 8.5-20.5-13.4-8.7z"/><path fill="#1d72b5" d="M825.7 640.6l13.4 8.4 8.5-20.6-13.4-8.3z"/><path fill="#1e6fb4" d="M839.1 649l13.4 8 8.5-20.4-13.4-8.2z"/><path fill="#1f6db3" d="M852.5 657l13.4 7.9 8.5-20.4-13.4-7.9z"/><path fill="#206bb2" d="M865.9 664.9l13.4 7.6 8.5-20.3-13.4-7.7z"/><path fill="#2169b1" d="M879.3 672.5l13.5 7.5 8.4-20.1-13.4-7.7z"/><path fill="#2266b0" d="M892.8 680l13.4 7.4 8.4-19.9-13.4-7.6z"/><path fill="#2364af" stroke="#2364af" stroke-width="6" shape-rendering="auto" d="M906.2 687.4l13.4 7.4 8.4-19.7-13.4-7.6z"/><path fill="#e8cb3c" stroke="#e8cb3c" stroke-width="6" shape-rendering="auto" d="M240.8 200.6l13.4 3.4 8.5 3.1-13.4-2.7z"/><path fill="#e9ca3c" d="M254.2 204l13.4 4.1 8.5 2.5-13.4-3.5z"/><path fill="#e9c83c" d="M267.6 208.1l13.4 5 8.5 1.8-13.4-4.3z"/><path fill="#eac53c" d="M281 213.1l13.4 5.7 8.5 1.1-13.4-5z"/><path fill="#ebc23c" d="M294.4 218.8l13.4 6.4 8.5 .3-13.4-5.6z"/><path fill="#ebbf3c" d="M307.8 225.2l13.4 7 8.5-.3-13.4-6.4z"/><path fill="#ebba3d" d="M321.2 232.2l13.4 7.8 8.5-1.2-13.4-6.9z"/><path fill="#ebb53d" d="M334.6 240l13.4 8.3 8.5-1.9-13.4-7.6z"/><path fill="#ebb03d" d="M348 248.3l13.5 9 8.4-2.8-13.4-8.1z"/><path fill="#ebaa3e" d="M361.5 257.3l13.4 9.5 8.4-3.6-13.4-8.7z"/><path fill="#eaa53f" d="M374.9 266.8l13.4 10.1 8.4-4.5-13.4-9.2z"/><path fill="#e7a541" d="M388.3 276.9l13.4 10.5 8.4-5.3-13.4-9.7z"/><path fill="#e3a543" d="M401.7 287.4l13.4 11 8.4-6.2-13.4-10.1z"/><path fill="#dfa546" d="M415.1 298.4l13.4 11.4 8.4-7-13.4-10.6z"/><path fill="#d6a549" d="M428.5 309.8l13.4 11.9 8.5-7.9-13.5-11z"/><path fill="#cca64d" d="M441.9 321.7l13.4 12.1 8.5-8.6-13.4-11.4z"/><path fill="#c1a652" d="M455.3 333.8l13.4 12.5 8.5-9.5-13.4-11.6z"/><path fill="#b6a756" d="M468.7 346.3l13.4 12.8 8.5-10.3-13.4-12z"/><path fill="#a7a75a" d="M482.1 359.1l13.4 13 8.5-11.1-13.4-12.2z"/><path fill="#99a85e" d="M495.5 372.1l13.4 13.3 8.5-11.9-13.4-12.5z"/><path fill="#89a862" d="M508.9 385.4l13.4 13.4 8.5-12.7-13.4-12.6z"/><path fill="#7aa867" d="M522.3 398.8l13.4 13.5 8.5-13.4-13.4-12.8z"/><path fill="#6aa86f" d="M535.7 412.3l13.4 13.6 8.5-14.2-13.4-12.8z"/><path fill="#5ba878" d="M549.1 425.9l13.4 13.6 8.5-14.8-13.4-13z"/><path fill="#4ba880" d="M562.5 439.5l13.4 13.7 8.5-15.5-13.4-13z"/><path fill="#4ba680" d="M575.9 453.2l13.5 13.6 8.4-16.1-13.4-13z"/><path fill="#48a483" d="M589.4 466.8l13.4 13.6 8.4-16.8-13.4-12.9z"/><path fill="#43a087" d="M602.8 480.4l13.4 13.4 8.4-17.3-13.4-12.9z"/><path fill="#409d8a" d="M616.2 493.8l13.4 13.3 8.4-17.8-13.4-12.8z"/><path fill="#3f988d" d="M629.6 507.1l13.4 13.1 8.4-18.3-13.4-12.6z"/><path fill="#3d9492" d="M643 520.2l13.4 12.8 8.4-18.7-13.4-12.4z"/><path fill="#3a909a" d="M656.4 533l13.4 12.7 8.5-19.2-13.5-12.2z"/><path fill="#398c9e" d="M669.8 545.7l13.4 12.3 8.5-19.5-13.4-12z"/><path fill="#3788a2" d="M683.2 558l13.4 12 8.5-19.8-13.4-11.7z"/><path fill="#3384a5" d="M696.6 570l13.4 11.7 8.5-20.1-13.4-11.4z"/><path fill="#2f81a9" d="M710 581.7l13.4 11.4 8.5-20.4-13.4-11.1z"/><path fill="#2b7eac" d="M723.4 593.1l13.4 10.9 8.5-20.6-13.4-10.7z"/><path fill="#277bae" d="M736.8 604l13.4 10.6 8.5-20.8-13.4-10.4z"/><path fill="#2378b1" d="M750.2 614.6l13.4 10.2 8.5-20.9-13.4-10.1z"/><path fill="#1f75b4" d="M763.6 624.8l13.4 9.8 8.5-21-13.4-9.7z"/><path fill="#1c73b6" d="M777 634.6l13.4 9.4 8.5-21.1-13.4-9.3z"/><path fill="#1d70b5" d="M790.4 644l13.5 9 8.4-21.1-13.4-9z"/><path fill="#1f6db3" d="M803.9 653l13.4 8.6 8.4-21-13.4-8.7z"/><path fill="#206bb2" d="M817.3 661.6l13.4 8.3 8.4-20.9-13.4-8.4z"/><path fill="#2168b1" d="M830.7 669.9l13.4 7.9 8.4-20.8-13.4-8z"/><path fill="#2266b0" d="M844.1 677.8l13.4 7.7 8.4-20.6-13.4-7.9z"/><path fill="#2364af" d="M857.5 685.5l13.4 7.4 8.4-20.4-13.4-7.6z"/><path fill="#245fad" d="M870.9 692.9l13.4 7.3 8.5-20.2-13.5-7.5z"/><path fill="#255baa" d="M884.3 700.2l13.4 7.1 8.5-19.9-13.4-7.4z"/><path fill="#2657a8" stroke="#2657a8" stroke-width="6" shape-rendering="auto" d="M897.7 707.3l13.4 7.1 8.5-19.6-13.4-7.4z"/><path fill="#e6d13c" stroke="#e6d13c" stroke-width="6" shape-rendering="auto" d="M232.3 197.3l13.4 4 8.5 2.7-13.4-3.4z"/><path fill="#e7cf3c" d="M245.7 201.3l13.4 4.8 8.5 2-13.4-4.1z"/><path fill="#e8cd3c" d="M259.1 206.1l13.5 5.7 8.4 1.3-13.4-5z"/><path fill="#e9ca3c" d="M272.6 211.8l13.4 6.4 8.4 .6-13.4-5.7z"/><path fill="#eac63c" d="M286 218.2l13.4 7.1 8.4-.1-13.4-6.4z"/><path fill="#ebc23c" d="M299.4 225.3l13.4 7.9 8.4-1-13.4-7z"/><path fill="#ebbd3c" d="M312.8 233.2l13.4 8.6 8.4-1.8-13.4-7.8z"/><path fill="#ebb73d" d="M326.2 241.8l13.4 9.2 8.4-2.7-13.4-8.3z"/><path fill="#ebb13d" d="M339.6 251l13.4 9.8 8.5-3.5-13.5-9z"/><path fill="#ebaa3e" d="M353 260.8l13.4 10.4 8.5-4.4-13.4-9.5z"/><path fill="#eaa53f" d="M366.4 271.2l13.4 10.9 8.5-5.2-13.4-10.1z"/><path fill="#e6a541" d="M379.8 282.1l13.4 11.4 8.5-6.1-13.4-10.5z"/><path fill="#e2a544" d="M393.2 293.5l13.4 11.9 8.5-7-13.4-11z"/><path fill="#dca547" d="M406.6 305.4l13.4 12.3 8.5-7.9-13.4-11.4z"/><path fill="#d1a64b" d="M420 317.7l13.4 12.7 8.5-8.7-13.4-11.9z"/><path fill="#c6a650" d="M433.4 330.4l13.4 13 8.5-9.6-13.4-12.1z"/><path fill="#bba754" d="M446.8 343.4l13.4 13.4 8.5-10.5-13.4-12.5z"/><path fill="#aca758" d="M460.2 356.8l13.4 13.6 8.5-11.3-13.4-12.8z"/><path fill="#9da75d" d="M473.6 370.4l13.4 13.8 8.5-12.1-13.4-13z"/><path fill="#8da861" d="M487 384.2l13.5 14 8.4-12.8-13.4-13.3z"/><path fill="#7ca866" d="M500.5 398.2l13.4 14.2 8.4-13.6-13.4-13.4z"/><path fill="#6ca86f" d="M513.9 412.4l13.4 14.3 8.4-14.4-13.4-13.5z"/><path fill="#5ba877" d="M527.3 426.7l13.4 14.3 8.4-15.1-13.4-13.6z"/><path fill="#4ba880" d="M540.7 441l13.4 14.3 8.4-15.8-13.4-13.6z"/><path fill="#4ba680" d="M554.1 455.3l13.4 14.3 8.4-16.4-13.4-13.7z"/><path fill="#47a384" d="M567.5 469.6l13.4 14.2 8.5-17-13.5-13.6z"/><path fill="#42a088" d="M580.9 483.8l13.4 14.2 8.5-17.6-13.4-13.6z"/><path fill="#3f9c8b" d="M594.3 498l13.4 14 8.5-18.2-13.4-13.4z"/><path fill="#3e978e" d="M607.7 512l13.4 13.7 8.5-18.6-13.4-13.3z"/><path fill="#3c9295" d="M621.1 525.7l13.4 13.6 8.5-19.1-13.4-13.1z"/><path fill="#398e9c" d="M634.5 539.3l13.4 13.3 8.5-19.6-13.4-12.8z"/><path fill="#3889a1" d="M647.9 552.6l13.4 13 8.5-19.9-13.4-12.7z"/><path fill="#3585a4" d="M661.3 565.6l13.4 12.7 8.5-20.3-13.4-12.3z"/><path fill="#3082a8" d="M674.7 578.3l13.4 12.3 8.5-20.6-13.4-12z"/><path fill="#2b7eab" d="M688.1 590.6l13.4 12 8.5-20.9-13.4-11.7z"/><path fill="#277bae" d="M701.5 602.6l13.4 11.5 8.5-21-13.4-11.4z"/><path fill="#2278b1" d="M714.9 614.1l13.5 11.1 8.4-21.2-13.4-10.9z"/><path fill="#1e75b4" d="M728.4 625.2l13.4 10.7 8.4-21.3-13.4-10.6z"/><path fill="#1d72b5" d="M741.8 635.9l13.4 10.3 8.4-21.4-13.4-10.2z"/><path fill="#1e6eb4" d="M755.2 646.2l13.4 9.8 8.4-21.4-13.4-9.8z"/><path fill="#1f6cb3" d="M768.6 656l13.4 9.3 8.4-21.3-13.4-9.4z"/><path fill="#2169b1" d="M782 665.3l13.4 8.9 8.5-21.2-13.5-9z"/><path fill="#2266b0" d="M795.4 674.2l13.4 8.6 8.5-21.2-13.4-8.6z"/><path fill="#2363af" d="M808.8 682.8l13.4 8.1 8.5-21-13.4-8.3z"/><path fill="#245eac" d="M822.2 690.9l13.4 7.7 8.5-20.8-13.4-7.9z"/><path fill="#255aaa" d="M835.6 698.6l13.4 7.4 8.5-20.5-13.4-7.7z"/><path fill="#2655a7" d="M849 706l13.4 7.2 8.5-20.3-13.4-7.4z"/><path fill="#2751a5" d="M862.4 713.2l13.4 6.9 8.5-19.9-13.4-7.3z"/><path fill="#284da3" d="M875.8 720.1l13.4 6.8 8.5-19.6-13.4-7.1z"/><path fill="#2949a1" stroke="#2949a1" stroke-width="6" shape-rendering="auto" d="M889.2 726.9l13.4 6.7 8.5-19.2-13.4-7.1z"/><path fill="#e4d73c" stroke="#e4d73c" stroke-width="6" shape-rendering="auto" d="M223.9 194.4l13.4 4.6 8.4 2.3-13.4-4z"/><path fill="#e5d53c" d="M237.3 199l13.4 5.6 8.4 1.5-13.4-4.8z"/><path fill="#e6d23c" d="M250.7 204.6l13.4 6.4 8.5 .8-13.5-5.7z"/><path fill="#e7ce3c" d="M264.1 211l13.4 7.2 8.5 0-13.4-6.4z"/><path fill="#e9ca3c" d="M277.5 218.2l13.4 7.9 8.5-.8-13.4-7.1z"/><path fill="#ebc43c" d="M290.9 226.1l13.4 8.7 8.5-1.6-13.4-7.9z"/><path fill="#ebbf3c" d="M304.3 234.8l13.4 9.4 8.5-2.4-13.4-8.6z"/><path fill="#ebb83d" d="M317.7 244.2l13.4 10.1 8.5-3.3-13.4-9.2z"/><path fill="#ebb13d" d="M331.1 254.3l13.4 10.7 8.5-4.2-13.4-9.8z"/><path fill="#eba93e" d="M344.5 265l13.4 11.3 8.5-5.1-13.4-10.4z"/><path fill="#e9a53f" d="M357.9 276.3l13.4 11.8 8.5-6-13.4-10.9z"/><path fill="#e5a542" d="M371.3 288.1l13.4 12.3 8.5-6.9-13.4-11.4z"/><path fill="#e0a545" d="M384.7 300.4l13.4 12.8 8.5-7.8-13.4-11.9z"/><path fill="#d8a549" d="M398.1 313.2l13.5 13.2 8.4-8.7-13.4-12.3z"/><path fill="#cca64d" d="M411.6 326.4l13.4 13.5 8.4-9.5-13.4-12.7z"/><path fill="#c0a752" d="M425 339.9l13.4 13.9 8.4-10.4-13.4-13z"/><path fill="#b2a757" d="M438.4 353.8l13.4 14.2 8.4-11.2-13.4-13.4z"/><path fill="#a2a75b" d="M451.8 368l13.4 14.5 8.4-12.1-13.4-13.6z"/><path fill="#91a860" d="M465.2 382.5l13.4 14.6 8.4-12.9-13.4-13.8z"/><path fill="#80a864" d="M478.6 397.1l13.4 14.8 8.5-13.7-13.5-14z"/><path fill="#6ea86d" d="M492 411.9l13.4 15 8.5-14.5-13.4-14.2z"/><path fill="#5da877" d="M505.4 426.9l13.4 15 8.5-15.2-13.4-14.3z"/><path fill="#4ba880" d="M518.8 441.9l13.4 15 8.5-15.9-13.4-14.3z"/><path fill="#4ba680" d="M532.2 456.9l13.4 15 8.5-16.6-13.4-14.3z"/><path fill="#47a384" d="M545.6 471.9l13.4 14.9 8.5-17.2-13.4-14.3z"/><path fill="#429f88" d="M559 486.8l13.4 14.9 8.5-17.9-13.4-14.2z"/><path fill="#3f9b8c" d="M572.4 501.7l13.4 14.7 8.5-18.4-13.4-14.2z"/><path fill="#3e958f" d="M585.8 516.4l13.4 14.5 8.5-18.9-13.4-14z"/><path fill="#3b9098" d="M599.2 530.9l13.4 14.2 8.5-19.4-13.4-13.7z"/><path fill="#398c9e" d="M612.6 545.1l13.4 14 8.5-19.8-13.4-13.6z"/><path fill="#3787a3" d="M626 559.1l13.5 13.7 8.4-20.2-13.4-13.3z"/><path fill="#3283a7" d="M639.5 572.8l13.4 13.4 8.4-20.6-13.4-13z"/><path fill="#2d7faa" d="M652.9 586.2l13.4 12.9 8.4-20.8-13.4-12.7z"/><path fill="#287cae" d="M666.3 599.1l13.4 12.6 8.4-21.1-13.4-12.3z"/><path fill="#2378b1" d="M679.7 611.7l13.4 12.2 8.4-21.3-13.4-12z"/><path fill="#1e75b4" d="M693.1 623.9l13.4 11.6 8.4-21.4-13.4-11.5z"/><path fill="#1d71b5" d="M706.5 635.5l13.4 11.3 8.5-21.6-13.5-11.1z"/><path fill="#1e6eb4" d="M719.9 646.8l13.4 10.7 8.5-21.6-13.4-10.7z"/><path fill="#206ab2" d="M733.3 657.5l13.4 10.2 8.5-21.5-13.4-10.3z"/><path fill="#2167b1" d="M746.7 667.7l13.4 9.8 8.5-21.5-13.4-9.8z"/><path fill="#2364af" d="M760.1 677.5l13.4 9.2 8.5-21.4-13.4-9.3z"/><path fill="#245fac" d="M773.5 686.7l13.4 8.8 8.5-21.3-13.4-8.9z"/><path fill="#2559a9" d="M786.9 695.5l13.4 8.3 8.5-21-13.4-8.6z"/><path fill="#2654a7" d="M800.3 703.8l13.4 7.9 8.5-20.8-13.4-8.1z"/><path fill="#2750a4" d="M813.7 711.7l13.4 7.4 8.5-20.5-13.4-7.7z"/><path fill="#284ba2" d="M827.1 719.1l13.4 7.1 8.5-20.2-13.4-7.4z"/><path fill="#2947a0" d="M840.5 726.2l13.4 6.8 8.5-19.8-13.4-7.2z"/><path fill="#2a439d" d="M853.9 733l13.5 6.5 8.4-19.4-13.4-6.9z"/><path fill="#2b419a" d="M867.4 739.5l13.4 6.3 8.4-18.9-13.4-6.8z"/><path fill="#2c3e97" stroke="#2c3e97" stroke-width="6" shape-rendering="auto" d="M880.8 745.8l13.4 6.2 8.4-18.4-13.4-6.7z"/><path fill="#e2dd3c" stroke="#e2dd3c" stroke-width="6" shape-rendering="auto" d="M215.4 191.9l13.4 5.3 8.5 1.8-13.4-4.6z"/><path fill="#e3da3c" stroke="#e3da3c" stroke-width="6" shape-rendering="auto" d="M228.8 197.2l13.4 6.3 8.5 1.1-13.4-5.6z"/><path fill="#e5d63c" stroke="#e5d63c" stroke-width="6" shape-rendering="auto" d="M242.2 203.5l13.4 7.2 8.5 .3-13.4-6.4z"/><path fill="#e6d23c" stroke="#e6d23c" stroke-width="6" shape-rendering="auto" d="M255.6 210.7l13.4 8 8.5-.5-13.4-7.2z"/><path fill="#e8cd3c" stroke="#e8cd3c" stroke-width="6" shape-rendering="auto" d="M269 218.7l13.4 8.8 8.5-1.4-13.4-7.9z"/><path fill="#eac73c" stroke="#eac73c" stroke-width="6" shape-rendering="auto" d="M282.4 227.5l13.4 9.6 8.5-2.3-13.4-8.7z"/><path fill="#ebc03c" stroke="#ebc03c" stroke-width="6" shape-rendering="auto" d="M295.8 237.1l13.4 10.2 8.5-3.1-13.4-9.4z"/><path fill="#ebb93d" stroke="#ebb93d" stroke-width="6" shape-rendering="auto" d="M309.2 247.3l13.4 11 8.5-4-13.4-10.1z"/><path fill="#ebb13d" stroke="#ebb13d" stroke-width="6" shape-rendering="auto" d="M322.6 258.3l13.5 11.6 8.4-4.9-13.4-10.7z"/><path fill="#eba83e" stroke="#eba83e" stroke-width="6" shape-rendering="auto" d="M336.1 269.9l13.4 12.2 8.4-5.8-13.4-11.3z"/><path fill="#e8a540" stroke="#e8a540" stroke-width="6" shape-rendering="auto" d="M349.5 282.1l13.4 12.7 8.4-6.7-13.4-11.8z"/><path fill="#e3a543" stroke="#e3a543" stroke-width="6" shape-rendering="auto" d="M362.9 294.8l13.4 13.2 8.4-7.6-13.4-12.3z"/><path fill="#dea546" stroke="#dea546" stroke-width="6" shape-rendering="auto" d="M376.3 308l13.4 13.7 8.4-8.5-13.4-12.8z"/><path fill="#d2a64b" stroke="#d2a64b" stroke-width="6" shape-rendering="auto" d="M389.7 321.7l13.4 14.1 8.5-9.4-13.5-13.2z"/><path fill="#c6a650" stroke="#c6a650" stroke-width="6" shape-rendering="auto" d="M403.1 335.8l13.4 14.4 8.5-10.3-13.4-13.5z"/><path fill="#b8a755" stroke="#b8a755" stroke-width="6" shape-rendering="auto" d="M416.5 350.2l13.4 14.8 8.5-11.2-13.4-13.9z"/><path fill="#a8a75a" stroke="#a8a75a" stroke-width="6" shape-rendering="auto" d="M429.9 365l13.4 15.1 8.5-12.1-13.4-14.2z"/><path fill="#96a85e" stroke="#96a85e" stroke-width="6" shape-rendering="auto" d="M443.3 380.1l13.4 15.2 8.5-12.8-13.4-14.5z"/><path fill="#84a863" stroke="#84a863" stroke-width="6" shape-rendering="auto" d="M456.7 395.3l13.4 15.5 8.5-13.7-13.4-14.6z"/><path fill="#71a86c" stroke="#71a86c" stroke-width="6" shape-rendering="auto" d="M470.1 410.8l13.4 15.6 8.5-14.5-13.4-14.8z"/><path fill="#5fa876" stroke="#5fa876" stroke-width="6" shape-rendering="auto" d="M483.5 426.4l13.4 15.7 8.5-15.2-13.4-15z"/><path fill="#4ca87f" stroke="#4ca87f" stroke-width="6" shape-rendering="auto" d="M496.9 442.1l13.4 15.7 8.5-15.9-13.4-15z"/><path fill="#4ba680" stroke="#4ba680" stroke-width="6" shape-rendering="auto" d="M510.3 457.8l13.4 15.7 8.5-16.6-13.4-15z"/><path fill="#46a384" stroke="#46a384" stroke-width="6" shape-rendering="auto" d="M523.7 473.5l13.4 15.7 8.5-17.3-13.4-15z"/><path fill="#419f89" stroke="#419f89" stroke-width="6" shape-rendering="auto" d="M537.1 489.2l13.5 15.6 8.4-18-13.4-14.9z"/><path fill="#3f9a8c" stroke="#3f9a8c" stroke-width="6" shape-rendering="auto" d="M550.6 504.8l13.4 15.4 8.4-18.5-13.4-14.9z"/><path fill="#3d9491" stroke="#3d9491" stroke-width="6" shape-rendering="auto" d="M564 520.2l13.4 15.2 8.4-19-13.4-14.7z"/><path fill="#3a8f9b" stroke="#3a8f9b" stroke-width="6" shape-rendering="auto" d="M577.4 535.4l13.4 15 8.4-19.5-13.4-14.5z"/><path fill="#388aa0" stroke="#388aa0" stroke-width="6" shape-rendering="auto" d="M590.8 550.4l13.4 14.7 8.4-20-13.4-14.2z"/><path fill="#3586a4" stroke="#3586a4" stroke-width="6" shape-rendering="auto" d="M604.2 565.1l13.4 14.4 8.4-20.4-13.4-14z"/><path fill="#2f81a8" stroke="#2f81a8" stroke-width="6" shape-rendering="auto" d="M617.6 579.5l13.4 14 8.5-20.7-13.5-13.7z"/><path fill="#2a7dac" stroke="#2a7dac" stroke-width="6" shape-rendering="auto" d="M631 593.5l13.4 13.6 8.5-20.9-13.4-13.4z"/><path fill="#2479b0" stroke="#2479b0" stroke-width="6" shape-rendering="auto" d="M644.4 607.1l13.4 13.3 8.5-21.3-13.4-12.9z"/><path fill="#1f75b4" stroke="#1f75b4" stroke-width="6" shape-rendering="auto" d="M657.8 620.4l13.4 12.7 8.5-21.4-13.4-12.6z"/><path fill="#1d72b5" stroke="#1d72b5" stroke-width="6" shape-rendering="auto" d="M671.2 633.1l13.4 12.3 8.5-21.5-13.4-12.2z"/><path fill="#1f6eb3" stroke="#1f6eb3" stroke-width="6" shape-rendering="auto" d="M684.6 645.4l13.4 11.7 8.5-21.6-13.4-11.6z"/><path fill="#206ab2" stroke="#206ab2" stroke-width="6" shape-rendering="auto" d="M698 657.1l13.4 11.3 8.5-21.6-13.4-11.3z"/><path fill="#2266b0" stroke="#2266b0" stroke-width="6" shape-rendering="auto" d="M711.4 668.4l13.4 10.7 8.5-21.6-13.4-10.7z"/><path fill="#2362ae" stroke="#2362ae" stroke-width="6" shape-rendering="auto" d="M724.8 679.1l13.4 10.2 8.5-21.6-13.4-10.2z"/><path fill="#255baa" stroke="#255baa" stroke-width="6" shape-rendering="auto" d="M738.2 689.3l13.4 9.6 8.5-21.4-13.4-9.8z"/><path fill="#2655a7" stroke="#2655a7" stroke-width="6" shape-rendering="auto" d="M751.6 698.9l13.4 9 8.5-21.2-13.4-9.2z"/><path fill="#2750a4" stroke="#2750a4" stroke-width="6" shape-rendering="auto" d="M765 707.9l13.5 8.5 8.4-20.9-13.4-8.8z"/><path fill="#294aa1" stroke="#294aa1" stroke-width="6" shape-rendering="auto" d="M778.5 716.4l13.4 8 8.4-20.6-13.4-8.3z"/><path fill="#2a459f" stroke="#2a459f" stroke-width="6" shape-rendering="auto" d="M791.9 724.4l13.4 7.5 8.4-20.2-13.4-7.9z"/><path fill="#2b429c" stroke="#2b429c" stroke-width="6" shape-rendering="auto" d="M805.3 731.9l13.4 7.1 8.4-19.9-13.4-7.4z"/><path fill="#2c3f98" stroke="#2c3f98" stroke-width="6" shape-rendering="auto" d="M818.7 739l13.4 6.6 8.4-19.4-13.4-7.1z"/><path fill="#2d3c95" stroke="#2d3c95" stroke-width="6" shape-rendering="auto" d="M832.1 745.6l13.4 6.3 8.4-18.9-13.4-6.8z"/><path fill="#2e3a92" stroke="#2e3a92" stroke-width="6" shape-rendering="auto" d="M845.5 751.9l13.4 5.9 8.5-18.3-13.5-6.5z"/><path fill="#2f3790" stroke="#2f3790" stroke-width="6" shape-rendering="auto" d="M858.9 757.8l13.4 5.7 8.5-17.7-13.4-6.3z"/><path fill="#30358d" stroke="#30358d" stroke-width="6" shape-rendering="auto" d="M872.3 763.5l13.4 5.6 8.5-17.1-13.4-6.2z"/></g></defs><rect width="1400" height="1042" fill="#fff"/><path fill="none" stroke="#dfdfdf" stroke-width="2.2" d="M295.3 735.3 L295.3 156.3 M379.9 697.6 L379.9 118.6 M464.6 659.8 L464.6 80.8 M549.3 622.1 L549.3 43.1 M633.9 584.3 L633.9 5.4 M215.4 695.6 L638.7 507 M215.4 620.4 L638.7 431.7 M215.4 545.1 L638.7 356.5 M215.4 469.9 L638.7 281.2 M215.4 394.6 L638.7 206 M215.4 319.4 L638.7 130.7 M215.4 244.1 L638.7 55.5 M638.7 582.2 L638.7 3.2 M772.8 605.9 L772.8 26.9 M906.8 629.6 L906.8 50.6 M1040.9 653.2 L1040.9 74.3 M1174.9 676.9 L1174.9 97.9 M1309 700.6 L1309 121.6 M638.7 507 L1309 625.3 M638.7 431.7 L1309 550.1 M638.7 356.5 L1309 474.8 M638.7 281.2 L1309 399.6 M638.7 206 L1309 324.3 M638.7 130.7 L1309 249.1 M638.7 55.5 L1309 173.8 M349.5 794.6 L772.8 605.9 M483.5 818.3 L906.8 629.6 M617.6 841.9 L1040.9 653.2 M751.6 865.6 L1174.9 676.9 M885.7 889.3 L1309 700.6 M295.3 735.3 L970.4 851.6 M379.9 697.6 L1055 813.8 M464.6 659.8 L1139.7 776.1 M549.3 622.1 L1224.3 738.3 M215.4 770.9 L638.7 582.2"/><path fill="none" stroke="#dadada" stroke-width="4.5" d="M638.7 582.2 L1309 700.6"/><g fill="none" stroke-width="2.7" filter="url(#bl2)"><g stroke-width="5.5"><path stroke="#fde3f0" d="M786.4 871.8l43.1 3.2 74.5 6.2"/><path stroke="#feedf2" d="M661.5 849.7l28.4 .3 29.7 .7 60.4 2.3 58.3 3.2 106.2 6.9"/><path stroke="#fff6f0" d="M575.7 834.5l39.2-1.1 42.1-.7 43.9-.1 49 .4 38.8 .8 41.2 1.1 121.5 4.5 43.3 1.3M1239.8 731.4l-10.6-15-9.3-12.2-8.6-10.3-11.3-12.6"/><path stroke="#fff9e2" d="M499.2 821l48.4-3.5 57.3-3.3 52.4-2.5 114.8-4.8 42.6-2.2 39.8-2.6 32.3-3.1 19.7-2.6 14.6-2.7 12.3-3.1 5.2-1.7 4.7-1.8 4-2 3.4-2 2.8-2.1 2.2-2.3 1.6-2.3 1.2-2.5 .6-2.5 0-3.5-.4-2.7-.8-2.8-2.6-5.7-4.3-6.9-5.8-8-11.7-14.3-22.2-26.2-9.1-9.9-9.1-8.5-7.8-6.2-7.4-5.1-8-4.7-8.8-4.5-9.5-4.1-10.2-3.8-11-3.4-11.7-3.1-14.7-3.2-13.4-2.4-16.7-2.3-15.2-1.5-16.7-1.3-19.1-.8-17.9-.4-18.8 0-19.6 .4-19.6 .7-40.8 2.5-42 3.5-79.9 7.8"/><path stroke="#fff0d9" d="M421.6 807.3l88.5-12.4 32.4-4.9 30.3-5.1 14-2.8 10.8-2.5 11.8-3.2 8.6-2.9 7.3-3.1 4.6-2.7 3.5-2.9 1.2-1.5 .8-1.6 .4-1.7-.2-1.8-1.3-3-1.8-2-2.1-1.8-5.2-3.3-7.6-3.5-10.4-3.7-11.3-3.3-14.3-3.4-15.1-3-18.1-3-19-2.7-22.1-2.7-22.8-2.3-23.4-2.1-53.8-3.8-58.8-3"/><path stroke="#fff1d4" d="M329.7 791.1l9.6-3.6 8.6-3.7 6.2-3.3 4.9-3.6 2.6-3 .7-1.6 .2-1.6-.1-1.3-.7-1.6-2.3-2.7-4.1-2.9-5.9-2.8-8.2-2.9-9.6-2.6-12.5-2.8-13.3-2.4-13.9-2.2-17-2.1"/></g><path stroke="#2c46a0" d="M786.4 871.8l43.1 3.2 74.5 6.2"/><path stroke="#196eb9" d="M661.5 849.7l28.4 .3 29.7 .7 60.4 2.3 58.3 3.2 106.2 6.9"/><path stroke="#1e96be" d="M575.7 834.5l39.2-1.1 42.1-.7 43.9-.1 49 .4 38.8 .8 41.2 1.1 121.5 4.5 43.3 1.3M1239.8 731.4l-10.6-15-9.3-12.2-8.6-10.3-11.3-12.6"/><path stroke="#41a88a" d="M499.2 821l48.4-3.5 57.3-3.3 52.4-2.5 114.8-4.8 42.6-2.2 39.8-2.6 32.3-3.1 19.7-2.6 14.6-2.7 12.3-3.1 5.2-1.7 4.7-1.8 4-2 3.4-2 2.8-2.1 2.2-2.3 1.6-2.3 1.2-2.5 .6-2.5 0-3.5-.4-2.7-.8-2.8-2.6-5.7-4.3-6.9-5.8-8-11.7-14.3-22.2-26.2-9.1-9.9-9.1-8.5-7.8-6.2-7.4-5.1-8-4.7-8.8-4.5-9.5-4.1-10.2-3.8-11-3.4-11.7-3.1-14.7-3.2-13.4-2.4-16.7-2.3-15.2-1.5-16.7-1.3-19.1-.8-17.9-.4-18.8 0-19.6 .4-19.6 .7-40.8 2.5-42 3.5-79.9 7.8"/><path stroke="#b4a964" d="M421.6 807.3l88.5-12.4 32.4-4.9 30.3-5.1 14-2.8 10.8-2.5 11.8-3.2 8.6-2.9 7.3-3.1 4.6-2.7 3.5-2.9 1.2-1.5 .8-1.6 .4-1.7-.2-1.8-1.3-3-1.8-2-2.1-1.8-5.2-3.3-7.6-3.5-10.4-3.7-11.3-3.3-14.3-3.4-15.1-3-18.1-3-19-2.7-22.1-2.7-22.8-2.3-23.4-2.1-53.8-3.8-58.8-3"/><path stroke="#f0c35a" d="M329.7 791.1l9.6-3.6 8.6-3.7 6.2-3.3 4.9-3.6 2.6-3 .7-1.6 .2-1.6-.1-1.3-.7-1.6-2.3-2.7-4.1-2.9-5.9-2.8-8.2-2.9-9.6-2.6-12.5-2.8-13.3-2.4-13.9-2.2-17-2.1"/></g><g filter="url(#bl)"><g clip-path="url(#sil)"><use href="#cl" filter="url(#tint)"/></g><use href="#cl" mask="url(#mm)"/></g><path fill="none" stroke="#262626" stroke-width="2.6" d="M215.4 770.9 L215.4 191.9 M215.4 770.9 L885.7 889.3 M885.7 889.3 L1309 700.6 M215.4 770.9 L198.7 767.9 M215.4 695.6 L198.7 692.7 M215.4 620.4 L198.7 617.4 M215.4 545.1 L198.7 542.2 M215.4 469.9 L198.7 466.9 M215.4 394.6 L198.7 391.7 M215.4 319.4 L198.7 316.4 M215.4 244.1 L198.7 241.2 M215.4 770.9 L199.9 777.8 M349.5 794.6 L333.9 801.5 M483.5 818.3 L468 825.2 M617.6 841.9 L602.1 848.9 M751.6 865.6 L736.1 872.5 M885.7 889.3 L870.2 896.2 M970.4 851.6 L987.1 854.5 M1055 813.8 L1071.8 816.8 M1139.7 776.1 L1156.4 779 M1224.3 738.3 L1241.1 741.3 M1309 700.6 L1325.7 703.6"/><g style="font-family:'Liberation Serif','Times New Roman',serif;font-size:55px" fill="#1a1a1a"><text transform="translate(180.9 248.5) scale(1 1.07)" text-anchor="end">300</text><text transform="translate(180.9 323.7) scale(1 1.07)" text-anchor="end">200</text><text transform="translate(180.9 399.0) scale(1 1.07)" text-anchor="end">100</text><text transform="translate(162.7 474.3) scale(1 1.07)" text-anchor="end">0</text><text transform="translate(190.5 549.0) scale(1 1.07)" text-anchor="end">-100</text><text transform="translate(190.5 624.2) scale(1 1.07)" text-anchor="end">-200</text><text transform="translate(190.5 699.5) scale(1 1.07)" text-anchor="end">-300</text><text transform="translate(192.0 775.3) scale(1 1.07)" text-anchor="end">-400</text><text transform="translate(212.9 839.7) scale(1 1.07)" text-anchor="end">46</text><text transform="translate(355.8 863.0) scale(1 1.07)" text-anchor="end">46.2</text><text transform="translate(489.7 887.9) scale(1 1.07)" text-anchor="end">46.4</text><text transform="translate(625.5 911.0) scale(1 1.07)" text-anchor="end">46.6</text><text transform="translate(758.5 934.0) scale(1 1.07)" text-anchor="end">46.8</text><text transform="translate(879.2 952.4) scale(1 1.07)" text-anchor="end">47</text><text transform="translate(959.3 907.0) rotate(16.3) scale(1 1.07)">56</text><text transform="translate(1045.4 862.2) rotate(16.3) scale(1 1.07)">56.2</text><text transform="translate(1130.1 824.5) rotate(16.3) scale(1 1.07)">56.4</text><text transform="translate(1214.7 786.7) rotate(16.3) scale(1 1.07)">56.6</text><text transform="translate(1299.4 744.0) rotate(16.3) scale(1 1.07)">56.8</text><text style="font-size:60px" transform="translate(49.4 745) rotate(-90)">Magnetic value/nT</text><text style="font-size:60px" transform="translate(200.5 948.2) rotate(9.0)">Longitude/degree</text><text style="font-size:60px" transform="translate(989.5 1028.7) rotate(-23.8)">Latitude/degree</text></g></svg></body></html>
